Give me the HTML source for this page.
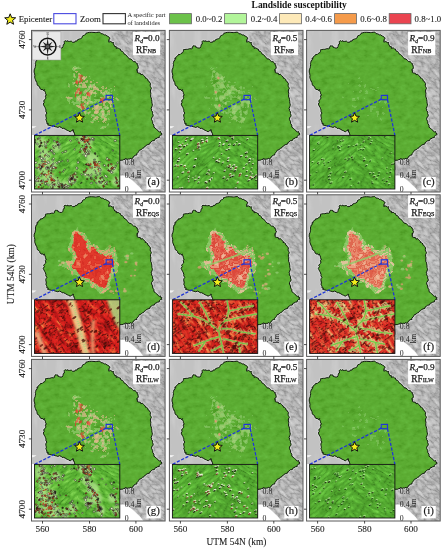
<!DOCTYPE html><html><head><meta charset="utf-8"><title>Landslide susceptibility</title><style>html,body{margin:0;padding:0;background:#fff;}svg{display:block;}</style></head><body>
<svg width="444" height="550" viewBox="0 0 444 550">
<defs>
<polygon id="pg" points="2.6,41.8 2.7,39.4 3.6,37.4 3.8,36.0 4.1,34.3 3.8,33.2 4.2,32.0 4.6,30.3 5.6,29.8 5.7,29.5 5.4,27.8 6.4,28.1 6.4,26.7 7.1,26.2 8.2,25.3 8.6,25.3 8.6,25.2 9.2,23.9 10.6,24.2 11.6,23.1 13.2,22.2 13.8,21.3 14.0,20.0 13.7,19.5 14.7,19.2 16.8,18.9 18.2,18.9 20.3,18.3 22.2,18.4 23.0,17.9 22.6,17.0 23.4,16.7 23.7,15.4 25.0,15.5 26.3,15.6 26.4,16.9 27.5,16.9 27.7,17.1 28.3,17.6 30.1,17.6 30.5,17.7 31.4,16.5 31.5,15.9 31.7,14.8 32.0,13.9 32.9,13.6 32.8,12.3 32.5,11.4 33.6,10.2 34.7,11.1 35.9,10.2 36.2,11.0 37.3,10.9 38.1,11.0 39.8,10.7 41.1,11.9 43.3,11.7 43.9,10.5 45.4,10.7 46.1,9.3 47.9,8.6 49.1,8.3 50.6,7.3 50.9,5.7 52.4,4.9 52.9,4.9 54.6,3.2 54.2,2.8 55.4,2.6 56.1,2.4 57.8,1.9 58.0,2.0 59.9,1.9 61.4,2.0 63.9,2.2 64.9,2.1 66.6,1.9 68.0,1.6 69.4,3.1 70.5,3.5 71.1,3.4 72.1,3.8 72.8,4.7 73.8,4.4 75.6,5.6 75.9,5.7 76.9,6.1 77.2,6.8 78.7,7.9 77.7,8.6 77.2,10.4 77.7,10.2 77.2,11.7 78.0,11.5 79.2,11.1 81.1,12.4 81.7,11.7 82.0,12.8 81.8,13.4 82.6,14.7 83.2,16.2 84.8,16.3 84.7,18.0 86.6,17.4 87.7,18.5 88.7,18.5 89.6,20.7 91.1,21.0 91.5,21.5 91.9,22.1 92.5,23.4 93.8,24.2 94.5,24.5 94.8,24.8 96.1,26.7 96.8,27.2 96.8,27.5 98.2,28.4 98.2,28.7 99.4,28.5 100.5,29.8 100.7,30.0 102.0,31.2 104.0,31.4 104.3,32.0 105.5,33.5 106.1,33.3 105.6,33.8 106.6,35.0 106.1,35.1 106.8,36.8 107.1,36.7 106.6,37.3 106.5,38.5 105.2,39.0 106.1,40.0 105.1,40.3 106.0,40.8 105.7,41.9 106.5,42.5 107.3,42.6 109.1,43.0 109.4,44.4 111.0,43.8 111.8,44.8 112.0,45.1 114.0,46.8 113.6,47.6 114.9,47.9 116.4,49.1 116.2,49.8 116.6,49.9 117.9,51.6 119.0,53.1 118.7,54.9 118.9,56.1 119.4,56.9 119.9,58.0 119.0,59.6 119.0,61.5 119.4,62.9 119.2,64.3 119.2,66.6 119.7,67.4 120.1,69.0 120.4,71.1 120.4,72.6 120.7,73.5 120.9,75.0 120.7,75.2 120.4,76.3 119.6,78.1 120.1,78.6 120.0,80.1 121.2,81.7 121.0,83.2 121.7,84.7 121.4,86.3 120.3,87.0 120.1,87.7 120.1,89.2 121.1,91.1 121.3,93.3 122.4,94.7 122.4,96.7 123.5,97.5 124.3,98.5 125.2,99.1 126.2,99.8 126.9,101.0 128.0,101.5 129.1,101.1 129.2,102.0 129.7,103.2 130.5,102.6 129.8,103.6 130.7,104.3 128.9,104.7 127.8,106.1 127.8,107.1 126.2,107.3 124.4,108.4 123.8,108.3 122.8,110.3 120.9,110.3 119.4,111.9 118.5,112.2 118.3,113.6 116.4,114.1 114.7,114.9 114.1,115.8 112.5,116.7 111.8,117.9 111.0,117.9 109.6,119.3 107.7,119.9 107.3,120.9 106.7,121.9 105.1,123.5 105.5,124.5 104.3,124.7 103.0,125.1 102.1,126.6 101.7,126.4 101.3,127.7 100.1,128.5 99.5,127.7 97.4,128.9 96.8,128.4 95.8,128.9 93.9,128.1 93.6,128.9 92.2,129.2 90.6,129.9 90.4,129.8 88.6,129.9 88.2,129.4 87.5,132.6 88.1,134.5 88.3,138.0 88.2,140.0 76.3,139.4 65.1,139.6 53.0,139.5 42.0,140.0 41.7,130.7 42.4,122.0 43.4,113.1 43.3,104.6 43.1,103.5 42.7,102.7 42.4,102.1 42.6,102.3 42.6,101.6 41.4,100.8 42.1,99.5 41.1,99.3 41.2,99.6 40.3,100.6 39.8,100.4 39.6,100.8 38.9,101.3 37.5,100.9 37.1,100.4 35.8,100.0 34.2,99.0 32.1,97.9 30.7,98.1 29.8,97.0 27.9,96.3 26.1,97.2 25.8,96.7 23.7,96.3 21.7,95.5 20.0,95.5 18.2,95.1 17.0,94.8 16.2,94.7 16.9,93.3 15.4,93.2 15.4,91.7 14.9,90.4 14.3,89.3 14.8,88.3 14.7,87.2 14.4,86.1 14.3,84.6 14.6,83.7 15.4,82.7 14.3,80.9 14.4,80.0 14.4,79.4 13.9,78.2 13.7,77.3 13.1,76.5 12.1,74.5 11.7,73.6 12.8,71.9 12.8,71.6 12.1,70.7 13.2,69.1 14.2,68.2 14.3,67.3 13.8,65.8 14.7,64.6 14.5,64.7 14.8,64.2 14.2,63.9 13.9,62.9 14.0,62.3 13.1,60.3 12.8,59.9 13.2,59.2 12.2,59.9 12.5,59.7 12.3,60.0 11.7,59.9 10.9,58.8 10.6,59.5 9.4,58.8 8.6,58.4 8.1,56.6 7.5,55.8 5.7,54.7 5.6,53.9 5.4,52.0 4.9,51.6 3.9,49.2 3.4,47.9 3.2,46.7 3.4,45.0 3.0,42.7" stroke-linejoin="round"/>
<clipPath id="insR"><polygon points="50,-1 90,-1 90,60 38,60 44,30"/></clipPath>
<clipPath id="clipPoly"><use href="#pg"/></clipPath>
<filter id="hs" x="0" y="0" width="100%" height="100%" color-interpolation-filters="sRGB">
<feTurbulence type="fractalNoise" baseFrequency="0.12 0.03" numOctaves="3" seed="4"/>
<feColorMatrix type="matrix" values="0 0 0 0 0.86  0 0 0 0 0.86  0 0 0 0 0.86  1.1 0 0 0 -0.5"/>
</filter>
<filter id="hs2" x="0" y="0" width="100%" height="100%" color-interpolation-filters="sRGB">
<feTurbulence type="turbulence" baseFrequency="0.11 0.24" numOctaves="4" seed="9"/>
<feColorMatrix type="matrix" values="1 0 0 0 0  1 0 0 0 0  1 0 0 0 0  0 0 0 0 1"/>
<feComponentTransfer>
<feFuncR type="table" tableValues="0.46 0.62 0.72 0.78 0.83 0.87 0.90"/>
<feFuncG type="table" tableValues="0.46 0.62 0.72 0.78 0.83 0.87 0.90"/>
<feFuncB type="table" tableValues="0.46 0.62 0.72 0.78 0.83 0.87 0.90"/>
</feComponentTransfer>
</filter>
<linearGradient id="gR" x1="0" x2="1" y1="0" y2="0"><stop offset="0.55" stop-color="#fff" stop-opacity="0"/><stop offset="0.8" stop-color="#fff" stop-opacity="0.85"/></linearGradient>
<mask id="mR" maskUnits="userSpaceOnUse" x="0" y="0" width="133.6" height="161.6"><rect width="133.6" height="161.6" fill="url(#gR)"/><rect x="80" y="0" width="60" height="25" fill="#fff" opacity="0.7"/><rect x="88" y="112" width="50" height="50" fill="#fff" opacity="0.5"/></mask>
<filter id="gn" x="0" y="0" width="100%" height="100%" color-interpolation-filters="sRGB">
<feTurbulence type="fractalNoise" baseFrequency="0.14 0.2" numOctaves="3" seed="2"/>
<feColorMatrix type="matrix" values="1 0 0 0 0  1 0 0 0 0  1 0 0 0 0  1 0 0 0 0"/>
<feComponentTransfer>
<feFuncR type="table" tableValues="0.27 0.31 0.35 0.37 0.39 0.42"/>
<feFuncG type="table" tableValues="0.58 0.62 0.665 0.69 0.72 0.75"/>
<feFuncB type="table" tableValues="0.12 0.15 0.19 0.21 0.24 0.27"/>
<feFuncA type="table" tableValues="1 1 1 1 1 1"/>
</feComponentTransfer>
<feComposite in2="SourceGraphic" operator="in"/>
</filter>
<filter id="insG" x="0" y="0" width="100%" height="100%" color-interpolation-filters="sRGB">
<feTurbulence type="turbulence" baseFrequency="0.09 0.26" numOctaves="3" seed="5"/>
<feColorMatrix type="matrix" values="1 0 0 0 0  1 0 0 0 0  1 0 0 0 0  0 0 0 0 1"/>
<feComponentTransfer>
<feFuncR type="table" tableValues="0.20 0.30 0.34 0.38 0.44 0.52 0.60"/>
<feFuncG type="table" tableValues="0.44 0.62 0.68 0.74 0.80 0.86 0.90"/>
<feFuncB type="table" tableValues="0.10 0.17 0.20 0.23 0.28 0.34 0.40"/>
</feComponentTransfer>
</filter>
<filter id="insGA" x="0" y="0" width="100%" height="100%" color-interpolation-filters="sRGB">
<feTurbulence type="turbulence" baseFrequency="0.09 0.26" numOctaves="3" seed="5"/>
<feColorMatrix type="matrix" values="1 0 0 0 0  1 0 0 0 0  1 0 0 0 0  0 0 0 0 1"/>
<feComponentTransfer>
<feFuncR type="table" tableValues="0.22 0.32 0.38 0.44 0.52 0.60 0.68"/>
<feFuncG type="table" tableValues="0.48 0.66 0.72 0.78 0.84 0.89 0.92"/>
<feFuncB type="table" tableValues="0.12 0.18 0.22 0.27 0.33 0.40 0.48"/>
</feComponentTransfer>
</filter>
<filter id="insD" x="0" y="0" width="100%" height="100%" color-interpolation-filters="sRGB">
<feTurbulence type="fractalNoise" baseFrequency="0.28 0.08" numOctaves="3" seed="6" result="n"/>
<feColorMatrix in="n" type="matrix" values="1 0 0 0 0  1 0 0 0 0  1 0 0 0 0  0 0 0 0 1" result="g"/>
<feComponentTransfer in="g" result="base">
<feFuncR type="table" tableValues="0.353 0.431 0.549 0.690 0.816 0.878 0.910 0.941 0.941 0.753"/>
<feFuncG type="table" tableValues="0.039 0.055 0.071 0.094 0.110 0.141 0.251 0.471 0.753 0.878"/>
<feFuncB type="table" tableValues="0.039 0.055 0.071 0.094 0.102 0.125 0.165 0.220 0.439 0.565"/>
</feComponentTransfer>
<feTurbulence type="turbulence" baseFrequency="0.16 0.28" numOctaves="2" seed="16" result="t"/>
<feColorMatrix in="t" type="matrix" values="0 0 0 0 0.28  0 0 0 0 0.05  0 0 0 0 0.04  -7.0 0 0 0 1.25" result="dark"/>
<feComposite in="dark" in2="base" operator="over"/>
</filter>
<filter id="insE" x="0" y="0" width="100%" height="100%" color-interpolation-filters="sRGB">
<feTurbulence type="fractalNoise" baseFrequency="0.32 0.08" numOctaves="3" seed="7" result="n"/>
<feColorMatrix in="n" type="matrix" values="1 0 0 0 0  1 0 0 0 0  1 0 0 0 0  0 0 0 0 1" result="g"/>
<feComponentTransfer in="g" result="base">
<feFuncR type="table" tableValues="0.353 0.471 0.604 0.753 0.847 0.886 0.918 0.941 0.941 0.596"/>
<feFuncG type="table" tableValues="0.039 0.063 0.086 0.110 0.141 0.227 0.361 0.565 0.784 0.847"/>
<feFuncB type="table" tableValues="0.039 0.063 0.078 0.094 0.118 0.157 0.204 0.314 0.502 0.439"/>
</feComponentTransfer>
<feTurbulence type="turbulence" baseFrequency="0.16 0.28" numOctaves="2" seed="17" result="t"/>
<feColorMatrix in="t" type="matrix" values="0 0 0 0 0.28  0 0 0 0 0.05  0 0 0 0 0.04  -6.5 0 0 0 1.25" result="dark"/>
<feComposite in="dark" in2="base" operator="over"/>
</filter>
<filter id="insF" x="0" y="0" width="100%" height="100%" color-interpolation-filters="sRGB">
<feTurbulence type="fractalNoise" baseFrequency="0.36 0.07" numOctaves="3" seed="8" result="n"/>
<feColorMatrix in="n" type="matrix" values="1 0 0 0 0  1 0 0 0 0  1 0 0 0 0  0 0 0 0 1" result="g"/>
<feComponentTransfer in="g" result="base">
<feFuncR type="table" tableValues="0.502 0.627 0.753 0.847 0.878 0.894 0.941 0.910 0.753 0.627"/>
<feFuncG type="table" tableValues="0.078 0.094 0.110 0.141 0.188 0.290 0.502 0.847 0.894 0.863"/>
<feFuncB type="table" tableValues="0.078 0.094 0.110 0.125 0.157 0.188 0.314 0.565 0.565 0.471"/>
</feComponentTransfer>
<feTurbulence type="turbulence" baseFrequency="0.16 0.28" numOctaves="2" seed="18" result="t"/>
<feColorMatrix in="t" type="matrix" values="0 0 0 0 0.28  0 0 0 0 0.05  0 0 0 0 0.04  -6.0 0 0 0 1.25" result="dark"/>
<feComposite in="dark" in2="base" operator="over"/>
</filter>
<filter id="coreD" x="-15%" y="-15%" width="130%" height="130%" color-interpolation-filters="sRGB">
<feTurbulence type="fractalNoise" baseFrequency="0.09" numOctaves="2" seed="3" result="dn"/>
<feDisplacementMap in="SourceGraphic" in2="dn" scale="10" xChannelSelector="R" yChannelSelector="G" result="shape"/>
<feTurbulence type="fractalNoise" baseFrequency="0.16" numOctaves="2" seed="11" result="n2"/>
<feColorMatrix in="n2" type="matrix" values="1 0 0 0 0  1 0 0 0 0  1 0 0 0 0  1 0 0 0 0" result="g"/>
<feComponentTransfer in="g" result="pal">
<feFuncR type="discrete" tableValues="0.784 0.816 0.847 0.878 0.886 0.863 0.910 0.910 0.596 0.596"/>
<feFuncG type="discrete" tableValues="0.157 0.173 0.188 0.220 0.235 0.204 0.353 0.502 0.824 0.824"/>
<feFuncB type="discrete" tableValues="0.125 0.133 0.149 0.165 0.180 0.157 0.251 0.376 0.455 0.455"/>
<feFuncA type="discrete" tableValues="1 1 1 1 1 1 1 1 1 1"/>
</feComponentTransfer>
<feComposite in="pal" in2="shape" operator="in" result="m"/>
<feGaussianBlur in="m" stdDeviation="0.35"/>
</filter>
<filter id="haloD" x="-15%" y="-15%" width="130%" height="130%" color-interpolation-filters="sRGB">
<feTurbulence type="fractalNoise" baseFrequency="0.09" numOctaves="2" seed="3" result="dn"/>
<feDisplacementMap in="SourceGraphic" in2="dn" scale="13" xChannelSelector="R" yChannelSelector="G" result="shape"/>
<feTurbulence type="fractalNoise" baseFrequency="0.2" numOctaves="2" seed="23" result="n2"/>
<feColorMatrix in="n2" type="matrix" values="1 0 0 0 0  1 0 0 0 0  1 0 0 0 0  1 0 0 0 0" result="g"/>
<feComponentTransfer in="g" result="pal">
<feFuncR type="discrete" tableValues="0.910 0.910 0.918 0.922 0.635 0.620 0.914 0.902 0.620 0.620"/>
<feFuncG type="discrete" tableValues="0.643 0.643 0.659 0.690 0.847 0.831 0.659 0.690 0.831 0.831"/>
<feFuncB type="discrete" tableValues="0.486 0.486 0.502 0.541 0.502 0.486 0.502 0.533 0.486 0.486"/>
<feFuncA type="discrete" tableValues="0.9 0.9 0.9 0.85 0.7 0.6 0.8 0.8 0.6 0.6"/>
</feComponentTransfer>
<feComposite in="pal" in2="shape" operator="in" result="m"/>
<feGaussianBlur in="m" stdDeviation="0.35"/>
</filter>
<filter id="coreE" x="-15%" y="-15%" width="130%" height="130%" color-interpolation-filters="sRGB">
<feTurbulence type="fractalNoise" baseFrequency="0.09" numOctaves="2" seed="3" result="dn"/>
<feDisplacementMap in="SourceGraphic" in2="dn" scale="10" xChannelSelector="R" yChannelSelector="G" result="shape"/>
<feTurbulence type="fractalNoise" baseFrequency="0.16" numOctaves="2" seed="11" result="n2"/>
<feColorMatrix in="n2" type="matrix" values="1 0 0 0 0  1 0 0 0 0  1 0 0 0 0  1 0 0 0 0" result="g"/>
<feComponentTransfer in="g" result="pal">
<feFuncR type="discrete" tableValues="0.816 0.847 0.863 0.878 0.894 0.863 0.914 0.941 0.588 0.588"/>
<feFuncG type="discrete" tableValues="0.235 0.259 0.290 0.329 0.424 0.298 0.580 0.706 0.824 0.824"/>
<feFuncB type="discrete" tableValues="0.188 0.220 0.235 0.267 0.337 0.235 0.471 0.596 0.455 0.455"/>
<feFuncA type="discrete" tableValues="1 1 1 1 1 1 1 1 1 1"/>
</feComponentTransfer>
<feComposite in="pal" in2="shape" operator="in" result="m"/>
<feGaussianBlur in="m" stdDeviation="0.35"/>
</filter>
<filter id="haloE" x="-15%" y="-15%" width="130%" height="130%" color-interpolation-filters="sRGB">
<feTurbulence type="fractalNoise" baseFrequency="0.09" numOctaves="2" seed="3" result="dn"/>
<feDisplacementMap in="SourceGraphic" in2="dn" scale="13" xChannelSelector="R" yChannelSelector="G" result="shape"/>
<feTurbulence type="fractalNoise" baseFrequency="0.2" numOctaves="2" seed="23" result="n2"/>
<feColorMatrix in="n2" type="matrix" values="1 0 0 0 0  1 0 0 0 0  1 0 0 0 0  1 0 0 0 0" result="g"/>
<feComponentTransfer in="g" result="pal">
<feFuncR type="discrete" tableValues="0.925 0.925 0.937 0.941 0.643 0.627 0.925 0.941 0.627 0.627"/>
<feFuncG type="discrete" tableValues="0.690 0.690 0.737 0.776 0.847 0.831 0.706 0.769 0.831 0.831"/>
<feFuncB type="discrete" tableValues="0.565 0.565 0.612 0.651 0.510 0.494 0.580 0.643 0.494 0.494"/>
<feFuncA type="discrete" tableValues="0.9 0.9 0.9 0.85 0.7 0.6 0.8 0.8 0.6 0.6"/>
</feComponentTransfer>
<feComposite in="pal" in2="shape" operator="in" result="m"/>
<feGaussianBlur in="m" stdDeviation="0.35"/>
</filter>
<filter id="coreF" x="-15%" y="-15%" width="130%" height="130%" color-interpolation-filters="sRGB">
<feTurbulence type="fractalNoise" baseFrequency="0.09" numOctaves="2" seed="3" result="dn"/>
<feDisplacementMap in="SourceGraphic" in2="dn" scale="10" xChannelSelector="R" yChannelSelector="G" result="shape"/>
<feTurbulence type="fractalNoise" baseFrequency="0.16" numOctaves="2" seed="11" result="n2"/>
<feColorMatrix in="n2" type="matrix" values="1 0 0 0 0  1 0 0 0 0  1 0 0 0 0  1 0 0 0 0" result="g"/>
<feComponentTransfer in="g" result="pal">
<feFuncR type="discrete" tableValues="0.847 0.863 0.878 0.894 0.910 0.878 0.925 0.941 0.596 0.596"/>
<feFuncG type="discrete" tableValues="0.290 0.329 0.376 0.439 0.541 0.408 0.627 0.722 0.824 0.824"/>
<feFuncB type="discrete" tableValues="0.220 0.251 0.290 0.345 0.424 0.314 0.502 0.596 0.455 0.455"/>
<feFuncA type="discrete" tableValues="1 1 1 1 1 1 1 1 1 1"/>
</feComponentTransfer>
<feComposite in="pal" in2="shape" operator="in" result="m"/>
<feGaussianBlur in="m" stdDeviation="0.35"/>
</filter>
<filter id="haloF" x="-15%" y="-15%" width="130%" height="130%" color-interpolation-filters="sRGB">
<feTurbulence type="fractalNoise" baseFrequency="0.09" numOctaves="2" seed="3" result="dn"/>
<feDisplacementMap in="SourceGraphic" in2="dn" scale="13" xChannelSelector="R" yChannelSelector="G" result="shape"/>
<feTurbulence type="fractalNoise" baseFrequency="0.2" numOctaves="2" seed="23" result="n2"/>
<feColorMatrix in="n2" type="matrix" values="1 0 0 0 0  1 0 0 0 0  1 0 0 0 0  1 0 0 0 0" result="g"/>
<feComponentTransfer in="g" result="pal">
<feFuncR type="discrete" tableValues="0.937 0.937 0.941 0.949 0.659 0.643 0.941 0.949 0.643 0.643"/>
<feFuncG type="discrete" tableValues="0.737 0.737 0.769 0.800 0.855 0.839 0.761 0.800 0.839 0.839"/>
<feFuncB type="discrete" tableValues="0.627 0.627 0.651 0.682 0.525 0.510 0.643 0.682 0.510 0.510"/>
<feFuncA type="discrete" tableValues="0.9 0.9 0.9 0.85 0.7 0.6 0.8 0.8 0.6 0.6"/>
</feComponentTransfer>
<feComposite in="pal" in2="shape" operator="in" result="m"/>
<feGaussianBlur in="m" stdDeviation="0.35"/>
</filter>
<filter id="coreA" x="-15%" y="-15%" width="130%" height="130%" color-interpolation-filters="sRGB">
<feTurbulence type="fractalNoise" baseFrequency="0.09" numOctaves="2" seed="3" result="dn"/>
<feDisplacementMap in="SourceGraphic" in2="dn" scale="10" xChannelSelector="R" yChannelSelector="G" result="shape"/>
<feTurbulence type="fractalNoise" baseFrequency="0.16" numOctaves="2" seed="11" result="n2"/>
<feColorMatrix in="n2" type="matrix" values="1 0 0 0 0  1 0 0 0 0  1 0 0 0 0  1 0 0 0 0" result="g"/>
<feComponentTransfer in="g" result="pal">
<feFuncR type="discrete" tableValues="0.902 0.910 0.918 0.910 0.361 0.361 0.651 0.894 0.651 0.651"/>
<feFuncG type="discrete" tableValues="0.651 0.690 0.722 0.753 0.671 0.671 0.847 0.753 0.847 0.847"/>
<feFuncB type="discrete" tableValues="0.510 0.541 0.573 0.612 0.235 0.235 0.525 0.612 0.525 0.525"/>
<feFuncA type="discrete" tableValues="0.75 0.75 0.7 0.6 0 0 0.5 0.6 0.6 0.6"/>
</feComponentTransfer>
<feComposite in="pal" in2="shape" operator="in" result="m"/>
<feGaussianBlur in="m" stdDeviation="0.35"/>
</filter>
<filter id="haloA" x="-15%" y="-15%" width="130%" height="130%" color-interpolation-filters="sRGB">
<feTurbulence type="fractalNoise" baseFrequency="0.09" numOctaves="2" seed="3" result="dn"/>
<feDisplacementMap in="SourceGraphic" in2="dn" scale="13" xChannelSelector="R" yChannelSelector="G" result="shape"/>
<feTurbulence type="fractalNoise" baseFrequency="0.2" numOctaves="2" seed="23" result="n2"/>
<feColorMatrix in="n2" type="matrix" values="1 0 0 0 0  1 0 0 0 0  1 0 0 0 0  1 0 0 0 0" result="g"/>
<feComponentTransfer in="g" result="pal">
<feFuncR type="discrete" tableValues="0.914 0.914 0.925 0.659 0.361 0.361 0.361 0.914 0.659 0.659"/>
<feFuncG type="discrete" tableValues="0.714 0.714 0.757 0.847 0.671 0.671 0.671 0.714 0.847 0.847"/>
<feFuncB type="discrete" tableValues="0.565 0.565 0.620 0.525 0.235 0.235 0.235 0.565 0.525 0.525"/>
<feFuncA type="discrete" tableValues="0.7 0.7 0.6 0.5 0 0 0 0.6 0.5 0.5"/>
</feComponentTransfer>
<feComposite in="pal" in2="shape" operator="in" result="m"/>
<feGaussianBlur in="m" stdDeviation="0.35"/>
</filter>
<filter id="coreB" x="-15%" y="-15%" width="130%" height="130%" color-interpolation-filters="sRGB">
<feTurbulence type="fractalNoise" baseFrequency="0.09" numOctaves="2" seed="3" result="dn"/>
<feDisplacementMap in="SourceGraphic" in2="dn" scale="10" xChannelSelector="R" yChannelSelector="G" result="shape"/>
<feTurbulence type="fractalNoise" baseFrequency="0.16" numOctaves="2" seed="11" result="n2"/>
<feColorMatrix in="n2" type="matrix" values="1 0 0 0 0  1 0 0 0 0  1 0 0 0 0  1 0 0 0 0" result="g"/>
<feComponentTransfer in="g" result="pal">
<feFuncR type="discrete" tableValues="0.659 0.659 0.706 0.784 0.612 0.361 0.361 0.643 0.847 0.847"/>
<feFuncG type="discrete" tableValues="0.855 0.855 0.863 0.863 0.824 0.671 0.671 0.839 0.784 0.737"/>
<feFuncB type="discrete" tableValues="0.533 0.533 0.573 0.596 0.494 0.235 0.235 0.525 0.596 0.580"/>
<feFuncA type="discrete" tableValues="0.7 0.7 0.6 0.5 0.45 0 0 0.45 0.55 0.6"/>
</feComponentTransfer>
<feComposite in="pal" in2="shape" operator="in" result="m"/>
<feGaussianBlur in="m" stdDeviation="0.35"/>
</filter>
<filter id="haloB" x="-15%" y="-15%" width="130%" height="130%" color-interpolation-filters="sRGB">
<feTurbulence type="fractalNoise" baseFrequency="0.09" numOctaves="2" seed="3" result="dn"/>
<feDisplacementMap in="SourceGraphic" in2="dn" scale="13" xChannelSelector="R" yChannelSelector="G" result="shape"/>
<feTurbulence type="fractalNoise" baseFrequency="0.2" numOctaves="2" seed="23" result="n2"/>
<feColorMatrix in="n2" type="matrix" values="1 0 0 0 0  1 0 0 0 0  1 0 0 0 0  1 0 0 0 0" result="g"/>
<feComponentTransfer in="g" result="pal">
<feFuncR type="discrete" tableValues="0.627 0.627 0.627 0.361 0.361 0.361 0.361 0.627 0.627 0.627"/>
<feFuncG type="discrete" tableValues="0.831 0.831 0.831 0.671 0.671 0.671 0.671 0.831 0.831 0.831"/>
<feFuncB type="discrete" tableValues="0.510 0.510 0.510 0.235 0.235 0.235 0.235 0.510 0.510 0.510"/>
<feFuncA type="discrete" tableValues="0.5 0.5 0.4 0 0 0 0 0.4 0.5 0.5"/>
</feComponentTransfer>
<feComposite in="pal" in2="shape" operator="in" result="m"/>
<feGaussianBlur in="m" stdDeviation="0.35"/>
</filter>
<filter id="coreC" x="-15%" y="-15%" width="130%" height="130%" color-interpolation-filters="sRGB">
<feTurbulence type="fractalNoise" baseFrequency="0.09" numOctaves="2" seed="3" result="dn"/>
<feDisplacementMap in="SourceGraphic" in2="dn" scale="10" xChannelSelector="R" yChannelSelector="G" result="shape"/>
<feTurbulence type="fractalNoise" baseFrequency="0.16" numOctaves="2" seed="11" result="n2"/>
<feColorMatrix in="n2" type="matrix" values="1 0 0 0 0  1 0 0 0 0  1 0 0 0 0  1 0 0 0 0" result="g"/>
<feComponentTransfer in="g" result="pal">
<feFuncR type="discrete" tableValues="0.580 0.580 0.580 0.361 0.361 0.361 0.361 0.604 0.604 0.604"/>
<feFuncG type="discrete" tableValues="0.816 0.816 0.816 0.671 0.671 0.671 0.671 0.824 0.824 0.824"/>
<feFuncB type="discrete" tableValues="0.471 0.471 0.471 0.235 0.235 0.235 0.235 0.486 0.486 0.486"/>
<feFuncA type="discrete" tableValues="0.5 0.5 0.4 0 0 0 0 0.4 0.5 0.5"/>
</feComponentTransfer>
<feComposite in="pal" in2="shape" operator="in" result="m"/>
<feGaussianBlur in="m" stdDeviation="0.35"/>
</filter>
<filter id="haloC" x="-15%" y="-15%" width="130%" height="130%" color-interpolation-filters="sRGB">
<feTurbulence type="fractalNoise" baseFrequency="0.09" numOctaves="2" seed="3" result="dn"/>
<feDisplacementMap in="SourceGraphic" in2="dn" scale="13" xChannelSelector="R" yChannelSelector="G" result="shape"/>
<feTurbulence type="fractalNoise" baseFrequency="0.2" numOctaves="2" seed="23" result="n2"/>
<feColorMatrix in="n2" type="matrix" values="1 0 0 0 0  1 0 0 0 0  1 0 0 0 0  1 0 0 0 0" result="g"/>
<feComponentTransfer in="g" result="pal">
<feFuncR type="discrete" tableValues="0.580 0.580 0.361 0.361 0.361 0.361 0.361 0.361 0.580 0.580"/>
<feFuncG type="discrete" tableValues="0.816 0.816 0.671 0.671 0.671 0.671 0.671 0.671 0.816 0.816"/>
<feFuncB type="discrete" tableValues="0.471 0.471 0.235 0.235 0.235 0.235 0.235 0.235 0.471 0.471"/>
<feFuncA type="discrete" tableValues="0.4 0.4 0 0 0 0 0 0 0.4 0.4"/>
</feComponentTransfer>
<feComposite in="pal" in2="shape" operator="in" result="m"/>
<feGaussianBlur in="m" stdDeviation="0.35"/>
</filter>
<filter id="blur05" x="-10%" y="-10%" width="120%" height="120%"><feGaussianBlur stdDeviation="0.5"/></filter>
<filter id="blur1" x="-20%" y="-20%" width="140%" height="140%"><feGaussianBlur stdDeviation="1"/></filter>
<filter id="blur15" x="-20%" y="-20%" width="140%" height="140%"><feGaussianBlur stdDeviation="1.5"/></filter>
<pattern id="stripesF" width="5" height="5" patternUnits="userSpaceOnUse" patternTransform="rotate(-35)"><rect width="5" height="5" fill="none"/><rect width="5" height="1.6" fill="#cfe8a0"/></pattern>
</defs>
<rect width="444" height="550" fill="#fff"/>
<polygon points="10.2,13.8 11.7,17.6 15.7,17.8 12.6,20.4 13.6,24.3 10.2,22.1 6.8,24.3 7.8,20.4 4.7,17.8 8.7,17.6" fill="#f3ee1c" stroke="#111" stroke-width="1"/>
<g font-family="'Liberation Serif', 'Times New Roman', serif" font-size="8.75" fill="#222" stroke="#222" stroke-width="0.1">
<text x="18.7" y="22.4">Epicenter</text>
<text x="80.0" y="22.4">Zoom</text>
<text x="195.8" y="22.4">0.0~0.2</text>
<text x="250.8" y="22.4">0.2~0.4</text>
<text x="305.3" y="22.4">0.4~0.6</text>
<text x="360.2" y="22.4">0.6~0.8</text>
<text x="414.6" y="22.4">0.8~1.0</text>
</g>
<g font-family="'Liberation Serif', 'Times New Roman', serif" font-size="6.9" fill="#222"><text x="127.4" y="16.8" textLength="38.2" lengthAdjust="spacingAndGlyphs">A specific part</text><text x="127.4" y="24.7" textLength="32.6" lengthAdjust="spacingAndGlyphs">of landslides</text></g>
<text x="251.6" y="8.4" font-family="'Liberation Serif', 'Times New Roman', serif" font-size="9.45" font-weight="bold" fill="#111">Landslide susceptibility</text>
<rect x="53.8" y="13.6" width="22.2" height="10.2" fill="#fff" stroke="#4a4ae0" stroke-width="1.1"/>
<rect x="103.0" y="13.6" width="22.4" height="10.2" fill="#fff" stroke="#333" stroke-width="1.1"/>
<rect x="169.6" y="13.6" width="21.8" height="10.2" fill="#6cc24a" stroke="#666" stroke-width="0.8"/>
<rect x="224.6" y="13.6" width="21.8" height="10.2" fill="#b2f59a" stroke="#666" stroke-width="0.8"/>
<rect x="279.6" y="13.6" width="21.8" height="10.2" fill="#fde9b8" stroke="#666" stroke-width="0.8"/>
<rect x="334.6" y="13.6" width="21.8" height="10.2" fill="#f59b4b" stroke="#666" stroke-width="0.8"/>
<rect x="389.2" y="13.6" width="21.8" height="10.2" fill="#ea4450" stroke="#666" stroke-width="0.8"/>
<g transform="translate(31.5,30.4)">
<svg x="0" y="0" width="133.6" height="161.6" viewBox="0 0 133.6 161.6" overflow="hidden">
<rect width="133.6" height="161.6" fill="#c2c2c2"/>
<rect width="133.6" height="161.6" fill="#000" filter="url(#hs)"/>
<g mask="url(#mR)"><rect x="-60" y="-60" width="253.6" height="281.6" fill="#000" filter="url(#hs2)" transform="rotate(35 66.8 80.8)"/></g>
<path d="M0,95.5 L5,95.8 L2.5,97.6 L0,98 Z" fill="#f2f2f2"/>
<polygon points="88,145 94,145 101,150 109,157.5 112,162 88,162" fill="#ffffff"/>
<use href="#pg" fill="none" stroke="#dadada" stroke-width="2.6" opacity="0.8"/>
<use href="#pg" fill="#5cab3c"/>
<use href="#pg" fill="#000" filter="url(#gn)"/>
<use href="#pg" fill="none" stroke="#141a12" stroke-width="1.0"/>
<g clip-path="url(#clipPoly)">
<polygon points="43.0,36.0 47.0,34.5 51.0,38.0 56.0,44.0 58.0,50.0 62.0,50.5 68.0,53.0 76.0,53.0 81.0,57.0 85.0,63.0 87.0,71.0 85.0,78.0 81.0,83.0 79.0,90.0 75.0,95.0 69.0,97.0 63.0,94.0 59.0,88.0 52.0,87.0 46.0,84.0 43.0,80.0 38.0,77.0 33.0,73.0 32.0,68.0 36.0,64.0 38.0,58.0 37.0,50.0 38.0,43.0" fill="#fff" filter="url(#haloA)"/><polygon points="44.0,39.7 46.4,37.8 48.7,38.9 51.1,42.9 54.2,46.8 55.0,50.7 56.6,55.5 60.5,53.9 63.7,54.7 66.9,57.0 70.8,57.8 74.7,57.0 77.1,58.6 79.5,61.8 81.0,65.7 82.6,71.2 81.0,76.0 77.9,79.1 76.3,83.9 74.7,88.6 71.6,91.7 67.6,92.5 65.3,90.2 62.9,85.4 59.0,83.9 54.2,83.1 51.1,82.3 47.9,79.9 47.1,76.8 46.0,73.6 42.5,73.0 40.5,70.8 41.8,67.5 44.0,64.9 42.4,61.8 41.6,57.0 40.8,52.3 41.6,47.6 42.4,42.9" fill="#fff" filter="url(#coreA)"/><g filter="url(#blur05)" opacity="0.85"><ellipse cx="49.4" cy="45.5" rx="0.7" ry="1.7" fill="#e0483a"/><ellipse cx="48.1" cy="51.3" rx="1.0" ry="1.2" fill="#d83c34"/><ellipse cx="47.9" cy="45.4" rx="0.9" ry="1.0" fill="#e65a44"/><ellipse cx="50.2" cy="49.9" rx="0.8" ry="1.7" fill="#e0483a"/><ellipse cx="48.7" cy="47.8" rx="0.8" ry="1.2" fill="#e65a44"/><ellipse cx="49.2" cy="48.1" rx="0.6" ry="1.2" fill="#d83c34"/><ellipse cx="50.5" cy="45.6" rx="0.8" ry="1.1" fill="#d83c34"/><ellipse cx="46.2" cy="59.3" rx="0.9" ry="1.1" fill="#e65a44"/><ellipse cx="47.5" cy="58.8" rx="0.9" ry="1.8" fill="#e65a44"/><ellipse cx="44.4" cy="62.7" rx="0.8" ry="1.1" fill="#d83c34"/><ellipse cx="48.4" cy="62.8" rx="1.0" ry="1.6" fill="#d83c34"/><ellipse cx="45.5" cy="61.6" rx="0.8" ry="1.6" fill="#e65a44"/><ellipse cx="49.7" cy="62.2" rx="0.6" ry="1.5" fill="#d83c34"/><ellipse cx="44.1" cy="65.4" rx="0.6" ry="1.8" fill="#d83c34"/><ellipse cx="49.8" cy="74.4" rx="0.8" ry="1.6" fill="#e0483a"/><ellipse cx="50.9" cy="76.8" rx="0.6" ry="1.4" fill="#e65a44"/><ellipse cx="51.7" cy="73.6" rx="0.8" ry="1.0" fill="#e65a44"/><ellipse cx="51.3" cy="77.7" rx="1.0" ry="1.6" fill="#e0483a"/><ellipse cx="52.3" cy="77.2" rx="0.6" ry="1.3" fill="#e65a44"/><ellipse cx="51.8" cy="77.1" rx="0.7" ry="1.2" fill="#e0483a"/><ellipse cx="50.4" cy="75.9" rx="0.6" ry="1.7" fill="#d83c34"/><ellipse cx="56.4" cy="63.5" rx="1.0" ry="1.6" fill="#d83c34"/><ellipse cx="56.4" cy="63.9" rx="0.8" ry="1.7" fill="#e65a44"/><ellipse cx="56.6" cy="63.1" rx="0.7" ry="1.4" fill="#e0483a"/><ellipse cx="57.7" cy="63.6" rx="0.6" ry="1.6" fill="#e0483a"/><ellipse cx="58.1" cy="64.3" rx="0.8" ry="1.5" fill="#e65a44"/><ellipse cx="57.8" cy="65.0" rx="0.8" ry="1.4" fill="#e65a44"/><ellipse cx="55.9" cy="63.2" rx="0.8" ry="1.7" fill="#d83c34"/><ellipse cx="69.8" cy="69.8" rx="0.9" ry="1.7" fill="#d83c34"/><ellipse cx="69.4" cy="71.1" rx="0.9" ry="1.8" fill="#d83c34"/><ellipse cx="71.7" cy="69.5" rx="0.9" ry="1.6" fill="#d83c34"/><ellipse cx="69.5" cy="70.1" rx="1.0" ry="1.2" fill="#d83c34"/><ellipse cx="72.0" cy="68.4" rx="0.9" ry="1.7" fill="#e65a44"/><ellipse cx="70.2" cy="69.1" rx="0.7" ry="1.6" fill="#e0483a"/><ellipse cx="71.0" cy="71.0" rx="0.8" ry="1.5" fill="#d83c34"/><ellipse cx="45.1" cy="52.1" rx="0.9" ry="1.5" fill="#d83c34"/><ellipse cx="44.9" cy="51.6" rx="0.9" ry="1.5" fill="#e65a44"/><ellipse cx="45.6" cy="52.3" rx="0.8" ry="1.8" fill="#e0483a"/><ellipse cx="45.3" cy="51.6" rx="0.7" ry="1.5" fill="#d83c34"/><ellipse cx="45.1" cy="51.8" rx="0.9" ry="1.1" fill="#e65a44"/><ellipse cx="45.2" cy="51.1" rx="0.9" ry="1.3" fill="#e0483a"/><ellipse cx="45.9" cy="52.2" rx="0.6" ry="1.6" fill="#e65a44"/></g>
</g>
<rect x="1.0" y="1.4" width="28.4" height="28.2" fill="#e9e9e9" stroke="#9a9a9a" stroke-width="0.5"/><circle cx="16.1" cy="16.2" r="8.4" fill="none" stroke="#111" stroke-width="1.5"/><polygon points="17.50,16.20 16.10,8.20 14.70,16.20" fill="#1a1a1a"/><polygon points="17.09,17.19 21.05,11.25 15.11,15.21" fill="#1a1a1a"/><polygon points="16.10,17.60 24.10,16.20 16.10,14.80" fill="#1a1a1a"/><polygon points="15.11,17.19 21.05,21.15 17.09,15.21" fill="#1a1a1a"/><polygon points="14.70,16.20 16.10,24.20 17.50,16.20" fill="#1a1a1a"/><polygon points="15.11,15.21 11.15,21.15 17.09,17.19" fill="#1a1a1a"/><polygon points="16.10,14.80 8.10,16.20 16.10,17.60" fill="#1a1a1a"/><polygon points="17.09,15.21 11.15,11.25 15.11,17.19" fill="#1a1a1a"/><circle cx="16.1" cy="16.2" r="1.6" fill="#777"/><line x1="16.1" y1="3.5" x2="16.1" y2="28.5" stroke="#333" stroke-width="0.4"/><line x1="3" y1="16.2" x2="29" y2="16.2" stroke="#333" stroke-width="0.4"/><g font-family="'Liberation Serif', 'Times New Roman', serif" font-size="3.2" fill="#222" text-anchor="middle"><text x="16.1" y="4.6">N</text><text x="16.1" y="30">S</text><text x="3.2" y="17.3">W</text><text x="28.6" y="17.3">E</text></g>
<rect x="101.5" y="1.6" width="27.2" height="23.2" fill="#ffffff"/>
<text x="103.0" y="11.1" font-size="9.2" font-family="'Liberation Serif', 'Times New Roman', serif" fill="#1a1a1a" stroke="#1a1a1a" stroke-width="0.25"><tspan font-style="italic">R</tspan><tspan font-size="5.5" font-style="italic" dy="1.5">d</tspan><tspan dy="-1.5">=</tspan>0.0</text>
<text x="104.6" y="22.5" font-size="9.4" font-family="'Liberation Serif', 'Times New Roman', serif" fill="#1a1a1a" stroke="#1a1a1a" stroke-width="0.25">RF<tspan font-size="6.2">NB</tspan></text>
<polyline points="74.6,68.8 3.0,105.0" fill="none" stroke="#1f35d6" stroke-width="1.3" stroke-dasharray="3.2,1.6"/>
<polyline points="80.9,69.3 88.3,105.0" fill="none" stroke="#1f35d6" stroke-width="1.3" stroke-dasharray="3.2,1.6"/>
<rect x="74.6" y="65.0" width="6.3" height="4.3" fill="none" stroke="#1f35d6" stroke-width="1.2"/>
<polygon points="48.0,82.4 49.4,85.7 52.9,86.0 50.2,88.3 51.1,91.8 48.0,89.9 44.9,91.8 45.8,88.3 43.1,86.0 46.6,85.7" fill="#f3ee1c" stroke="#111" stroke-width="1"/>
<path d="M0,104.7 H3.0 V158.6 H88.3 V162.6 H0 Z" fill="#ffffff"/>
<svg x="3.0" y="105.0" width="85.3" height="53.6" viewBox="0 0 85.3 53.6" overflow="hidden">
<rect x="-30" y="-30" width="145.3" height="113.6" fill="#000" filter="url(#insGA)" transform="rotate(-40 42.65 26.8)"/><g clip-path="url(#insR)"><rect x="-30" y="-30" width="145.3" height="113.6" fill="#000" filter="url(#insGA)" transform="rotate(30 42.65 26.8)"/></g><g filter="url(#blur1)" opacity="0.75"><ellipse cx="6" cy="8" rx="6.0" ry="6.4" fill="#b4e490"/><ellipse cx="10" cy="20" rx="6.0" ry="6.4" fill="#b4e490"/><ellipse cx="8" cy="32" rx="6.0" ry="6.4" fill="#b4e490"/><ellipse cx="14" cy="42" rx="6.0" ry="6.4" fill="#b4e490"/><ellipse cx="20" cy="48" rx="6.0" ry="6.4" fill="#b4e490"/><ellipse cx="4" cy="46" rx="4.5" ry="4.800000000000001" fill="#b4e490"/><ellipse cx="18" cy="30" rx="4.5" ry="4.800000000000001" fill="#b4e490"/><ellipse cx="22" cy="12" rx="4.5" ry="4.800000000000001" fill="#b4e490"/><ellipse cx="48" cy="4" rx="4.5" ry="4.800000000000001" fill="#b4e490"/><ellipse cx="54" cy="6" rx="4.5" ry="4.800000000000001" fill="#b4e490"/><ellipse cx="52" cy="16" rx="4.5" ry="4.800000000000001" fill="#b4e490"/><ellipse cx="58" cy="24" rx="6.0" ry="6.4" fill="#b4e490"/><ellipse cx="62" cy="34" rx="6.0" ry="6.4" fill="#b4e490"/><ellipse cx="54" cy="38" rx="4.5" ry="4.800000000000001" fill="#b4e490"/><ellipse cx="66" cy="46" rx="4.5" ry="4.800000000000001" fill="#b4e490"/><ellipse cx="78" cy="34" rx="4.5" ry="4.800000000000001" fill="#b4e490"/><ellipse cx="82" cy="46" rx="4.5" ry="4.800000000000001" fill="#b4e490"/><ellipse cx="38" cy="44" rx="4.5" ry="4.800000000000001" fill="#b4e490"/><ellipse cx="30" cy="50" rx="4.5" ry="4.800000000000001" fill="#b4e490"/></g><polygon points="2.4,33.5 2.1,33.0 2.5,32.1 3.3,31.5 3.5,32.5 3.2,33.1" fill="#cfe6a8" stroke="#1a1a1a" stroke-width="0.45"/><polygon points="12.5,33.5 11.9,32.7 12.8,32.0 13.7,32.2 13.3,34.0" fill="#e2ecc0" stroke="#1a1a1a" stroke-width="0.45"/><polygon points="47.2,14.5 46.4,14.7 46.1,13.2 46.0,12.4 47.1,12.3 48.0,13.8" fill="#f0f0d0" stroke="#1a1a1a" stroke-width="0.45"/><polygon points="5.9,18.4 5.3,17.6 5.8,16.8 6.6,17.0 6.6,18.0" fill="#f0f0d0" stroke="#1a1a1a" stroke-width="0.45"/><polygon points="80.8,32.2 80.6,31.0 81.0,29.6 82.0,29.8 81.9,31.2" fill="#b8e090" stroke="#1a1a1a" stroke-width="0.45"/><polygon points="7.8,29.8 6.8,30.6 5.8,29.0 6.2,28.4 7.7,28.8" fill="#e2ecc0" stroke="#1a1a1a" stroke-width="0.45"/><polygon points="62.0,39.8 62.2,39.3 63.1,39.2 63.5,39.5 63.3,40.0 62.3,40.4" fill="#f0f0d0" stroke="#1a1a1a" stroke-width="0.45"/><polygon points="0.4,41.6 0.1,41.0 0.5,40.5 1.0,40.5 1.5,40.9 1.5,41.6 1.0,41.8" fill="#e2ecc0" stroke="#1a1a1a" stroke-width="0.45"/><polygon points="41.5,4.5 41.5,3.8 42.5,3.3 43.5,3.8 42.4,4.8" fill="#cfe6a8" stroke="#1a1a1a" stroke-width="0.45"/><polygon points="3.7,21.7 3.6,21.3 4.6,21.1 5.2,21.5 4.9,22.0 4.0,22.3" fill="#cfe6a8" stroke="#1a1a1a" stroke-width="0.45"/><polygon points="18.2,33.0 18.0,32.1 19.3,30.7 19.9,31.0 20.4,31.7 19.6,32.7" fill="#f0f0d0" stroke="#1a1a1a" stroke-width="0.45"/><polygon points="18.6,18.4 17.7,18.2 17.5,17.0 18.3,17.1 18.8,17.7" fill="#f0f0d0" stroke="#1a1a1a" stroke-width="0.45"/><polygon points="16.8,51.6 16.5,52.2 15.9,52.2 15.7,51.5 16.0,51.0 16.5,51.1" fill="#f0f0d0" stroke="#1a1a1a" stroke-width="0.45"/><polygon points="32.0,51.6 33.1,50.1 34.8,50.1 35.2,51.3 33.6,51.6" fill="#cfe6a8" stroke="#1a1a1a" stroke-width="0.45"/><polygon points="79.5,34.3 78.8,35.0 77.6,33.6 77.9,33.0 79.0,32.9 79.8,33.3" fill="#b8e090" stroke="#1a1a1a" stroke-width="0.45"/><polygon points="17.2,29.9 17.2,28.9 17.8,28.5 18.5,28.9 18.1,29.9" fill="#e2ecc0" stroke="#1a1a1a" stroke-width="0.45"/><polygon points="14.0,44.7 13.3,44.5 12.9,44.2 12.5,43.7 12.8,43.3 13.7,43.4 13.8,43.9" fill="#f0f0d0" stroke="#1a1a1a" stroke-width="0.45"/><polygon points="8.6,16.6 7.9,16.4 8.0,15.6 8.4,15.0 9.1,15.2 8.8,16.1" fill="#cfe6a8" stroke="#1a1a1a" stroke-width="0.45"/><polygon points="34.1,46.0 33.6,45.2 34.1,44.2 34.3,43.5 35.3,44.3 35.6,45.3 35.2,45.7" fill="#cfe6a8" stroke="#1a1a1a" stroke-width="0.45"/><polygon points="59.4,28.8 59.0,27.7 59.8,27.1 60.7,27.2 60.9,28.3 60.4,29.0" fill="#e2ecc0" stroke="#1a1a1a" stroke-width="0.45"/><polygon points="-2.4,47.8 -3.3,47.8 -4.7,47.1 -4.5,46.5 -3.8,45.9 -2.3,46.2" fill="#cfe6a8" stroke="#1a1a1a" stroke-width="0.45"/><polygon points="59.9,3.7 59.0,4.2 57.9,3.8 57.5,2.7 58.7,2.8 60.0,3.1" fill="#e2ecc0" stroke="#1a1a1a" stroke-width="0.45"/><polygon points="49.4,2.4 49.1,1.9 49.1,0.8 49.6,0.7 50.1,0.4 50.0,1.3 49.9,1.8" fill="#b8e090" stroke="#1a1a1a" stroke-width="0.45"/><polygon points="77.2,36.8 76.3,36.7 75.7,35.8 76.1,35.2 76.9,35.6" fill="#f0f0d0" stroke="#1a1a1a" stroke-width="0.45"/><polygon points="24.4,10.3 23.4,10.3 22.5,9.7 22.8,8.8 24.2,9.3" fill="#e2ecc0" stroke="#1a1a1a" stroke-width="0.45"/><polygon points="55.8,16.6 54.1,16.6 53.2,15.4 53.1,14.5 54.1,14.5 55.2,15.6" fill="#b8e090" stroke="#1a1a1a" stroke-width="0.45"/><polygon points="41.0,44.6 40.5,44.1 41.3,43.4 41.9,43.6 42.1,44.2 41.6,45.1" fill="#b8e090" stroke="#1a1a1a" stroke-width="0.45"/><polygon points="37.5,43.6 36.8,43.6 36.2,43.4 35.7,42.3 36.2,42.2 36.9,42.4 37.5,42.9" fill="#f0f0d0" stroke="#1a1a1a" stroke-width="0.45"/><polygon points="6.0,35.3 5.5,34.8 4.9,33.9 5.2,32.6 5.6,32.8 6.4,33.3 6.6,34.8" fill="#e2ecc0" stroke="#1a1a1a" stroke-width="0.45"/><polygon points="37.0,42.8 36.0,43.5 34.3,43.1 35.1,41.7 36.8,41.7" fill="#cfe6a8" stroke="#1a1a1a" stroke-width="0.45"/><polygon points="40.6,15.1 39.8,14.5 39.2,13.7 39.7,13.1 40.4,13.1 40.6,14.0" fill="#e2ecc0" stroke="#1a1a1a" stroke-width="0.45"/><polygon points="61.9,-1.8 60.5,-1.7 59.7,-1.7 58.3,-2.6 59.0,-3.0 60.5,-3.5 61.2,-2.5" fill="#cfe6a8" stroke="#1a1a1a" stroke-width="0.45"/><polygon points="41.2,40.0 40.0,38.8 39.9,37.2 40.9,36.3 42.3,38.1" fill="#b8e090" stroke="#1a1a1a" stroke-width="0.45"/><polygon points="54.3,7.7 53.3,7.6 52.6,6.2 52.8,5.5 53.9,6.2 54.3,6.7" fill="#cfe6a8" stroke="#1a1a1a" stroke-width="0.45"/><polygon points="1.1,50.7 0.0,50.1 0.1,48.7 0.1,48.0 0.9,48.0 1.4,48.9 1.8,50.2" fill="#b8e090" stroke="#1a1a1a" stroke-width="0.45"/><polygon points="56.5,32.9 56.7,31.8 58.1,31.3 58.4,32.7 57.1,33.4" fill="#b8e090" stroke="#1a1a1a" stroke-width="0.45"/><polygon points="81.2,48.1 80.4,47.1 80.8,45.9 81.7,45.2 82.7,45.4 82.0,47.5" fill="#b8e090" stroke="#1a1a1a" stroke-width="0.45"/><polygon points="30.6,52.1 29.3,52.1 27.7,50.9 28.5,50.5 29.8,50.9" fill="#cfe6a8" stroke="#1a1a1a" stroke-width="0.45"/><polygon points="20.7,32.2 19.9,33.1 18.5,32.8 17.9,32.3 18.9,30.8 20.3,31.4" fill="#f0f0d0" stroke="#1a1a1a" stroke-width="0.45"/><polygon points="30.9,52.6 32.0,51.7 33.6,51.9 33.4,52.6 32.5,53.2" fill="#b8e090" stroke="#1a1a1a" stroke-width="0.45"/><polygon points="51.7,40.0 51.2,40.7 50.2,39.8 48.9,38.5 50.1,38.0 51.0,38.0 52.2,38.9" fill="#e2ecc0" stroke="#1a1a1a" stroke-width="0.45"/><polygon points="54.7,18.9 53.7,19.3 52.8,19.1 51.7,17.7 52.5,17.3 53.8,17.5 54.7,17.7" fill="#cfe6a8" stroke="#1a1a1a" stroke-width="0.45"/><polygon points="50.2,14.9 49.6,14.7 48.9,14.1 49.3,13.5 49.7,13.3 50.4,13.9" fill="#b8e090" stroke="#1a1a1a" stroke-width="0.45"/><polygon points="5.7,3.7 4.3,3.2 4.4,2.4 4.7,1.5 5.9,1.8 6.2,3.3" fill="#e2ecc0" stroke="#1a1a1a" stroke-width="0.45"/><polygon points="31.2,34.2 30.3,34.8 29.6,34.4 29.3,34.0 29.3,33.7 29.9,33.5 30.8,33.9" fill="#cfe6a8" stroke="#1a1a1a" stroke-width="0.45"/><polygon points="5.1,3.5 4.6,3.8 3.6,3.7 3.9,2.7 5.0,2.4" fill="#e2ecc0" stroke="#1a1a1a" stroke-width="0.45"/><polygon points="66.4,47.9 65.3,48.3 64.2,47.5 64.7,46.8 66.2,46.6" fill="#cfe6a8" stroke="#1a1a1a" stroke-width="0.45"/><polygon points="27.3,53.0 27.1,52.2 26.9,51.8 27.4,51.3 28.0,51.2 28.1,52.0 28.0,52.3" fill="#cfe6a8" stroke="#1a1a1a" stroke-width="0.45"/><polygon points="58.7,3.4 58.5,4.2 57.0,3.5 57.0,2.8 57.2,2.1 57.9,2.2 59.0,2.8" fill="#f0f0d0" stroke="#1a1a1a" stroke-width="0.45"/><polygon points="66.9,35.0 65.5,35.0 63.6,34.3 64.2,32.8 66.4,33.6" fill="#e2ecc0" stroke="#1a1a1a" stroke-width="0.45"/><polygon points="21.4,11.8 20.8,10.9 20.7,10.3 21.4,9.9 22.0,10.6" fill="#cfe6a8" stroke="#1a1a1a" stroke-width="0.45"/><polygon points="50.7,9.2 51.1,8.5 52.3,8.4 52.5,8.9 51.3,9.8" fill="#e2ecc0" stroke="#1a1a1a" stroke-width="0.45"/><polygon points="52.5,1.3 51.8,1.5 51.3,1.7 50.9,0.8 51.1,0.1 52.1,0.0 52.3,0.5" fill="#e2ecc0" stroke="#1a1a1a" stroke-width="0.45"/><polygon points="23.1,28.8 22.2,28.4 21.2,27.0 21.7,26.5 22.3,26.7 23.4,27.6" fill="#e2ecc0" stroke="#1a1a1a" stroke-width="0.45"/><polygon points="28.6,17.5 28.3,17.9 27.6,17.8 27.3,17.2 27.3,16.7 28.4,16.5 28.7,17.0" fill="#e2ecc0" stroke="#1a1a1a" stroke-width="0.45"/><polygon points="3.6,43.4 2.9,42.8 2.7,41.9 3.2,41.1 4.4,41.5 4.1,42.5" fill="#f0f0d0" stroke="#1a1a1a" stroke-width="0.45"/><polygon points="45.2,-1.5 45.6,-2.7 46.9,-3.3 47.2,-2.6 46.2,-1.7" fill="#e2ecc0" stroke="#1a1a1a" stroke-width="0.45"/><polygon points="-1.2,42.3 -2.0,41.8 -2.2,40.9 -1.8,40.5 -1.3,40.2 -0.9,41.4" fill="#f0f0d0" stroke="#1a1a1a" stroke-width="0.45"/><polygon points="18.2,29.2 18.0,28.6 18.5,27.5 19.1,27.3 19.6,27.5 19.2,28.8" fill="#e2ecc0" stroke="#1a1a1a" stroke-width="0.45"/><polygon points="16.5,35.0 15.1,34.0 14.9,31.7 15.6,31.1 17.0,33.4" fill="#cfe6a8" stroke="#1a1a1a" stroke-width="0.45"/><polygon points="17.9,31.6 17.4,31.8 15.9,31.6 16.5,30.8 17.4,30.7" fill="#cfe6a8" stroke="#1a1a1a" stroke-width="0.45"/><polygon points="1.6,45.0 1.2,45.4 0.2,45.0 0.6,44.5 1.4,44.4" fill="#b8e090" stroke="#1a1a1a" stroke-width="0.45"/><polygon points="82.5,28.3 82.2,27.9 82.6,26.7 83.7,26.0 84.0,27.1 83.5,28.4" fill="#cfe6a8" stroke="#1a1a1a" stroke-width="0.45"/><polygon points="23.8,12.1 23.6,11.6 24.6,10.9 25.3,11.6 25.2,12.4 24.5,13.1" fill="#b8e090" stroke="#1a1a1a" stroke-width="0.45"/><polygon points="12.0,49.1 11.5,49.7 10.5,49.3 10.0,48.4 11.3,48.0" fill="#e2ecc0" stroke="#1a1a1a" stroke-width="0.45"/><polygon points="14.8,16.4 15.7,14.9 16.3,13.9 17.5,14.5 17.9,15.3 16.5,16.2" fill="#cfe6a8" stroke="#1a1a1a" stroke-width="0.45"/><polygon points="12.9,7.4 12.3,7.1 11.8,5.7 12.4,5.4 13.4,6.5" fill="#e2ecc0" stroke="#1a1a1a" stroke-width="0.45"/><polygon points="15.0,27.2 14.4,27.5 13.9,27.1 13.7,26.4 14.3,26.2 15.2,26.5" fill="#e2ecc0" stroke="#1a1a1a" stroke-width="0.45"/><polygon points="29.4,50.1 28.4,50.4 27.1,49.3 27.8,48.3 29.1,49.3" fill="#b8e090" stroke="#1a1a1a" stroke-width="0.45"/><polygon points="14.9,42.1 15.0,41.5 16.1,40.6 16.5,41.1 15.6,42.3" fill="#e2ecc0" stroke="#1a1a1a" stroke-width="0.45"/><polygon points="52.5,18.2 52.0,17.7 52.5,16.4 53.0,15.8 53.7,16.1 53.8,17.3 53.2,18.1" fill="#b8e090" stroke="#1a1a1a" stroke-width="0.45"/><polygon points="28.6,37.0 28.0,36.1 28.4,35.4 29.1,35.1 29.4,36.6" fill="#cfe6a8" stroke="#1a1a1a" stroke-width="0.45"/><polygon points="19.1,53.1 18.9,53.7 17.9,53.5 17.3,53.3 17.6,52.6 17.9,52.5 18.8,52.6" fill="#cfe6a8" stroke="#1a1a1a" stroke-width="0.45"/><polygon points="23.5,49.1 22.8,47.7 23.5,46.7 24.9,46.4 24.5,48.8" fill="#cfe6a8" stroke="#1a1a1a" stroke-width="0.45"/><polygon points="66.0,39.8 65.4,39.4 65.2,39.1 65.3,38.3 65.9,38.0 66.3,38.4 66.4,38.8" fill="#cfe6a8" stroke="#1a1a1a" stroke-width="0.45"/><polygon points="54.6,5.0 54.4,4.1 55.3,3.6 56.4,3.7 57.0,4.7 56.0,5.2 55.2,5.9" fill="#b8e090" stroke="#1a1a1a" stroke-width="0.45"/><polygon points="12.8,49.6 13.0,48.7 14.0,48.7 14.3,49.0 14.7,50.1 13.4,50.5" fill="#f0f0d0" stroke="#1a1a1a" stroke-width="0.45"/><polygon points="10.3,11.7 9.7,10.1 10.3,9.4 11.4,9.9 11.1,11.1" fill="#b8e090" stroke="#1a1a1a" stroke-width="0.45"/><polygon points="21.1,5.9 20.2,6.3 19.0,6.3 19.0,5.0 20.6,5.1" fill="#f0f0d0" stroke="#1a1a1a" stroke-width="0.45"/><polygon points="18.7,45.2 18.0,44.1 18.9,43.5 19.6,43.8 19.4,44.8" fill="#e2ecc0" stroke="#1a1a1a" stroke-width="0.45"/><polygon points="68.2,46.4 67.5,46.8 66.4,46.6 66.6,45.9 67.5,45.6" fill="#e2ecc0" stroke="#1a1a1a" stroke-width="0.45"/><polygon points="7.3,32.7 5.7,33.0 4.8,31.4 5.7,30.6 7.1,31.4" fill="#b8e090" stroke="#1a1a1a" stroke-width="0.45"/><polygon points="25.6,9.7 24.6,9.8 23.3,9.4 23.3,8.5 23.5,7.6 24.5,7.7 25.9,8.4" fill="#f0f0d0" stroke="#1a1a1a" stroke-width="0.45"/><polygon points="43.0,28.0 42.6,27.2 43.1,26.1 43.8,25.7 44.5,26.7 44.4,27.4 43.9,28.1" fill="#f0f0d0" stroke="#1a1a1a" stroke-width="0.45"/><polygon points="56.4,30.7 54.6,30.3 53.3,29.6 53.7,28.3 54.8,28.6 55.6,29.3" fill="#f0f0d0" stroke="#1a1a1a" stroke-width="0.45"/><polygon points="70.1,48.9 70.3,47.8 71.7,46.9 72.0,47.8 71.4,49.4" fill="#e2ecc0" stroke="#1a1a1a" stroke-width="0.45"/><polygon points="8.3,31.5 7.6,31.1 7.7,30.0 8.5,29.8 8.8,30.6" fill="#cfe6a8" stroke="#1a1a1a" stroke-width="0.45"/><polygon points="20.6,45.5 19.7,45.6 18.6,44.7 18.2,44.1 18.9,43.9 20.1,44.7" fill="#f0f0d0" stroke="#1a1a1a" stroke-width="0.45"/><polygon points="56.3,41.4 55.6,40.4 56.0,39.4 56.5,38.5 57.5,38.3 57.4,39.5 57.2,40.6" fill="#cfe6a8" stroke="#1a1a1a" stroke-width="0.45"/><polygon points="12.0,20.0 11.5,19.7 11.1,19.5 11.2,18.7 11.8,18.1 12.5,19.0 12.6,19.9" fill="#f0f0d0" stroke="#1a1a1a" stroke-width="0.45"/><polygon points="2.5,9.6 2.0,8.4 2.5,7.6 3.5,7.6 3.8,9.2" fill="#e2ecc0" stroke="#1a1a1a" stroke-width="0.45"/><polygon points="52.8,19.4 51.6,19.8 50.4,18.5 51.8,17.1 53.0,18.3" fill="#cfe6a8" stroke="#1a1a1a" stroke-width="0.45"/><polygon points="10.2,48.8 9.8,48.3 11.1,46.5 11.6,46.5 12.1,47.3 12.0,48.6 10.6,49.3" fill="#b8e090" stroke="#1a1a1a" stroke-width="0.45"/><polygon points="23.8,4.1 23.3,3.8 23.0,3.3 23.3,2.5 23.7,2.7 24.3,3.4" fill="#b8e090" stroke="#1a1a1a" stroke-width="0.45"/><polygon points="51.7,11.6 50.5,11.0 50.4,9.5 51.5,9.5 52.5,10.0 52.4,11.3" fill="#e2ecc0" stroke="#1a1a1a" stroke-width="0.45"/><polygon points="61.2,38.2 60.6,38.1 60.9,37.2 61.6,37.1 61.9,37.3 62.0,38.0 61.9,38.4" fill="#e2ecc0" stroke="#1a1a1a" stroke-width="0.45"/><polygon points="11.0,40.8 10.3,40.2 10.2,38.9 10.5,37.7 11.4,38.6 12.2,39.9" fill="#f0f0d0" stroke="#1a1a1a" stroke-width="0.45"/><polygon points="10.1,28.3 9.7,27.5 12.2,27.0 13.5,27.8 12.4,29.1 11.0,29.2" fill="#e2ecc0" stroke="#1a1a1a" stroke-width="0.45"/><polygon points="14.7,28.1 13.7,27.8 12.8,27.1 12.6,26.2 13.2,25.1 14.1,25.7 15.4,27.4" fill="#e2ecc0" stroke="#1a1a1a" stroke-width="0.45"/><polygon points="71.4,31.1 70.1,30.8 68.6,29.5 69.8,29.0 70.9,29.5" fill="#f0f0d0" stroke="#1a1a1a" stroke-width="0.45"/><polygon points="35.7,48.2 34.8,48.4 34.3,46.0 34.7,44.8 35.9,45.6 36.6,48.0" fill="#f0f0d0" stroke="#1a1a1a" stroke-width="0.45"/><polygon points="5.1,40.2 5.8,39.2 6.4,39.2 7.2,39.1 7.0,40.1 7.0,40.8 6.0,40.5" fill="#f0f0d0" stroke="#1a1a1a" stroke-width="0.45"/><polygon points="78.8,37.0 77.3,37.5 75.7,36.5 76.1,35.7 77.9,36.0" fill="#f0f0d0" stroke="#1a1a1a" stroke-width="0.45"/><polygon points="29.5,16.9 29.6,15.7 32.1,14.9 32.3,16.5 30.7,17.1" fill="#b8e090" stroke="#1a1a1a" stroke-width="0.45"/><polygon points="29.9,51.6 29.3,51.2 29.5,49.3 30.1,49.7 30.7,50.8" fill="#e2ecc0" stroke="#1a1a1a" stroke-width="0.45"/><polygon points="0.1,9.2 -0.6,8.9 -0.9,7.7 -0.4,7.0 0.4,7.1 0.9,8.4" fill="#cfe6a8" stroke="#1a1a1a" stroke-width="0.45"/><polygon points="27.1,26.4 26.8,25.6 27.2,25.1 28.3,25.0 28.6,25.8 28.0,26.4" fill="#b8e090" stroke="#1a1a1a" stroke-width="0.45"/><polygon points="50.5,13.2 51.3,12.4 52.3,12.9 52.4,13.5 51.1,13.8" fill="#b8e090" stroke="#1a1a1a" stroke-width="0.45"/><polygon points="7.8,46.9 7.2,45.6 7.6,44.9 8.3,44.2 9.2,44.7 9.0,45.6" fill="#cfe6a8" stroke="#1a1a1a" stroke-width="0.45"/><polygon points="29.3,55.0 28.5,53.8 28.9,52.6 29.7,52.5 30.0,53.9" fill="#b8e090" stroke="#1a1a1a" stroke-width="0.45"/><polygon points="7.3,26.4 7.8,25.9 8.3,25.8 9.2,26.0 9.0,26.4 7.8,26.7" fill="#b8e090" stroke="#1a1a1a" stroke-width="0.45"/><polygon points="72.3,24.7 71.4,24.3 71.9,23.1 72.3,21.6 73.7,23.0 73.7,24.5" fill="#cfe6a8" stroke="#1a1a1a" stroke-width="0.45"/><polygon points="1.9,44.7 1.1,45.1 -0.1,45.0 -1.0,43.9 -0.3,43.5 0.6,43.0 1.7,43.5" fill="#e2ecc0" stroke="#1a1a1a" stroke-width="0.45"/><polygon points="73.3,41.8 71.6,42.0 69.5,40.4 71.0,39.4 72.2,40.2" fill="#e2ecc0" stroke="#1a1a1a" stroke-width="0.45"/><polygon points="12.0,31.5 12.7,30.8 12.9,30.7 13.7,30.9 13.6,31.5 13.2,31.8 12.5,31.7" fill="#e2ecc0" stroke="#1a1a1a" stroke-width="0.45"/><polygon points="26.0,51.6 25.8,52.1 25.2,52.1 24.9,51.6 24.7,51.0 25.0,50.7 25.9,51.0" fill="#f0f0d0" stroke="#1a1a1a" stroke-width="0.45"/><polygon points="19.9,19.5 19.1,19.5 19.0,18.0 19.5,16.9 20.4,17.6 20.6,18.3" fill="#cfe6a8" stroke="#1a1a1a" stroke-width="0.45"/><polygon points="63.8,27.1 64.3,26.3 66.1,26.1 65.8,27.3 64.5,28.0" fill="#f0f0d0" stroke="#1a1a1a" stroke-width="0.45"/><polygon points="15.0,21.5 13.6,21.7 12.9,21.2 13.4,20.3 14.0,20.0 15.1,20.4" fill="#b8e090" stroke="#1a1a1a" stroke-width="0.45"/><polygon points="36.8,5.9 36.0,6.4 35.2,5.5 34.8,4.7 35.9,4.6 37.1,5.0" fill="#cfe6a8" stroke="#1a1a1a" stroke-width="0.45"/><polygon points="48.2,5.3 47.7,4.8 47.8,4.3 48.7,3.8 49.4,4.3 49.6,4.6 48.9,5.8" fill="#f0f0d0" stroke="#1a1a1a" stroke-width="0.45"/><polygon points="7.2,47.3 6.5,46.9 6.6,46.2 6.9,45.6 7.9,45.8 7.9,46.7" fill="#f0f0d0" stroke="#1a1a1a" stroke-width="0.45"/><polygon points="33.2,26.7 32.7,25.8 32.7,24.6 33.1,23.7 34.0,24.6 33.9,26.2" fill="#cfe6a8" stroke="#1a1a1a" stroke-width="0.45"/><polygon points="37.9,44.7 37.5,43.7 38.3,42.5 39.7,43.3 38.8,44.5" fill="#f0f0d0" stroke="#1a1a1a" stroke-width="0.45"/><polygon points="46.1,5.4 46.2,4.4 46.8,4.2 47.8,4.2 48.3,5.1 47.4,5.8 46.7,5.6" fill="#e2ecc0" stroke="#1a1a1a" stroke-width="0.45"/><polygon points="13.6,33.5 13.4,32.7 14.2,32.4 14.4,32.7 14.3,33.4" fill="#cfe6a8" stroke="#1a1a1a" stroke-width="0.45"/><polygon points="51.4,29.5 52.1,27.9 53.5,27.7 54.4,28.4 53.9,29.6 52.3,29.7" fill="#b8e090" stroke="#1a1a1a" stroke-width="0.45"/><polygon points="54.8,41.0 54.2,40.6 53.5,40.3 53.8,39.4 54.1,39.0 54.6,39.3 54.9,40.3" fill="#cfe6a8" stroke="#1a1a1a" stroke-width="0.45"/><polygon points="39.8,46.8 39.9,46.4 40.8,45.8 41.5,45.7 41.3,46.6 40.7,47.1" fill="#b8e090" stroke="#1a1a1a" stroke-width="0.45"/><polygon points="65.2,38.3 64.9,37.3 65.8,36.7 66.5,36.9 66.1,37.9" fill="#cfe6a8" stroke="#1a1a1a" stroke-width="0.45"/><polygon points="11.1,33.9 10.9,33.3 11.8,32.3 12.6,32.6 12.4,33.4 12.0,34.2" fill="#f0f0d0" stroke="#1a1a1a" stroke-width="0.45"/><polygon points="48.2,19.4 48.0,19.1 48.9,18.6 49.3,18.9 49.2,19.3 48.4,19.8" fill="#e2ecc0" stroke="#1a1a1a" stroke-width="0.45"/><polygon points="22.6,45.2 22.9,44.7 23.7,44.1 24.3,44.9 23.2,45.7" fill="#cfe6a8" stroke="#1a1a1a" stroke-width="0.45"/><polygon points="79.6,34.2 78.7,34.1 78.5,32.9 79.3,32.1 80.3,32.0 80.5,33.2" fill="#f0f0d0" stroke="#1a1a1a" stroke-width="0.45"/><polygon points="-0.5,47.3 -0.2,46.6 0.6,46.2 1.4,46.2 1.5,46.8 1.1,47.2 0.4,47.5" fill="#b8e090" stroke="#1a1a1a" stroke-width="0.45"/><polygon points="32.4,50.9 31.4,50.8 30.2,50.2 30.5,49.2 31.2,48.6 32.9,49.8" fill="#e2ecc0" stroke="#1a1a1a" stroke-width="0.45"/><polygon points="79.7,6.2 79.5,5.1 79.7,4.3 81.3,4.3 82.0,4.5 81.7,6.1 80.6,6.2" fill="#cfe6a8" stroke="#1a1a1a" stroke-width="0.45"/><polygon points="47.4,40.1 46.7,39.7 46.5,38.4 47.3,38.3 47.8,38.8 48.0,39.3" fill="#e2ecc0" stroke="#1a1a1a" stroke-width="0.45"/><polygon points="64.3,47.0 64.1,46.4 64.4,45.4 65.3,46.0 65.1,47.1" fill="#f0f0d0" stroke="#1a1a1a" stroke-width="0.45"/><polygon points="29.9,52.6 29.4,53.0 27.7,51.7 28.5,51.0 29.7,51.5" fill="#cfe6a8" stroke="#1a1a1a" stroke-width="0.45"/><polygon points="23.2,26.8 23.5,25.7 24.8,25.3 25.9,26.0 25.9,26.7 24.9,27.3 24.3,27.1" fill="#e2ecc0" stroke="#1a1a1a" stroke-width="0.45"/><polygon points="25.1,49.5 24.6,49.0 25.5,48.3 26.3,48.2 26.3,49.2 25.6,49.6" fill="#cfe6a8" stroke="#1a1a1a" stroke-width="0.45"/><polygon points="12.3,10.6 11.2,10.0 10.1,8.3 10.8,7.7 12.0,8.0 12.3,9.5" fill="#e2ecc0" stroke="#1a1a1a" stroke-width="0.45"/><polygon points="15.4,41.4 15.3,41.0 15.6,39.9 17.0,40.1 16.8,41.0 16.3,41.8" fill="#e2ecc0" stroke="#1a1a1a" stroke-width="0.45"/><polygon points="9.4,26.8 9.4,26.3 9.9,26.1 10.1,26.6 9.9,26.9" fill="#f0f0d0" stroke="#1a1a1a" stroke-width="0.45"/><polygon points="43.5,33.6 42.7,33.6 42.0,33.2 41.7,32.5 41.7,32.1 42.9,32.1 43.4,32.5" fill="#e2ecc0" stroke="#1a1a1a" stroke-width="0.45"/><polygon points="1.3,45.7 0.9,45.1 2.6,44.4 3.5,44.9 3.8,45.4 3.5,46.0 1.6,46.2" fill="#f0f0d0" stroke="#1a1a1a" stroke-width="0.45"/><polygon points="81.8,46.3 82.3,45.7 82.9,45.5 84.0,45.8 84.2,46.1 83.2,46.7 82.5,46.9" fill="#cfe6a8" stroke="#1a1a1a" stroke-width="0.45"/><polygon points="10.7,24.3 10.2,24.7 9.1,23.2 8.9,22.5 10.1,22.5 10.7,23.4" fill="#f0f0d0" stroke="#1a1a1a" stroke-width="0.45"/><polygon points="9.5,47.0 10.0,46.3 10.7,45.7 11.9,45.6 11.4,46.7 10.8,47.1" fill="#f0f0d0" stroke="#1a1a1a" stroke-width="0.45"/><polygon points="51.0,18.2 50.5,17.9 50.1,16.6 50.8,16.0 51.5,16.8 51.6,17.3" fill="#cfe6a8" stroke="#1a1a1a" stroke-width="0.45"/><polygon points="51.5,13.8 50.4,13.8 49.8,11.9 50.4,11.5 51.2,11.3 51.9,11.8 52.5,13.6" fill="#e2ecc0" stroke="#1a1a1a" stroke-width="0.45"/><polygon points="9.8,30.4 8.7,29.8 8.8,28.9 9.6,28.5 10.4,29.9" fill="#cfe6a8" stroke="#1a1a1a" stroke-width="0.45"/><polygon points="51.0,5.1 51.4,4.8 52.4,4.4 53.3,4.8 53.7,5.6 52.4,6.1 51.6,5.8" fill="#f0f0d0" stroke="#1a1a1a" stroke-width="0.45"/><polygon points="4.7,49.8 4.4,49.6 5.0,48.6 5.5,48.6 5.7,48.7 5.9,49.3 5.3,49.8" fill="#cfe6a8" stroke="#1a1a1a" stroke-width="0.45"/><polygon points="76.9,36.3 76.1,36.4 75.7,35.7 76.0,35.0 76.8,35.8" fill="#b8e090" stroke="#1a1a1a" stroke-width="0.45"/><polygon points="20.2,23.2 19.9,23.9 18.9,24.4 18.2,23.5 18.4,22.4 19.0,22.0 19.8,22.6" fill="#cfe6a8" stroke="#1a1a1a" stroke-width="0.45"/><polygon points="7.0,24.4 7.0,23.4 7.8,23.3 8.7,23.7 7.9,24.9" fill="#e2ecc0" stroke="#1a1a1a" stroke-width="0.45"/><polygon points="77.4,38.3 76.3,37.8 76.0,36.4 76.4,35.1 77.5,36.0 77.9,37.0" fill="#e2ecc0" stroke="#1a1a1a" stroke-width="0.45"/><polygon points="72.3,34.6 72.7,34.1 73.3,33.6 74.2,33.9 74.0,34.6 73.5,34.9 72.9,35.0" fill="#cfe6a8" stroke="#1a1a1a" stroke-width="0.45"/><polygon points="9.3,17.0 8.5,17.2 8.1,16.8 8.0,15.9 8.9,16.2 9.1,16.5" fill="#b8e090" stroke="#1a1a1a" stroke-width="0.45"/><polygon points="21.3,50.6 20.2,50.6 19.9,49.1 20.7,48.1 21.7,49.8" fill="#e2ecc0" stroke="#1a1a1a" stroke-width="0.45"/><polygon points="37.1,42.8 36.8,42.0 37.8,41.5 38.3,41.6 38.0,42.7" fill="#f0f0d0" stroke="#1a1a1a" stroke-width="0.45"/><polygon points="59.5,24.9 59.6,24.0 60.4,23.4 61.1,23.8 60.1,25.1" fill="#b8e090" stroke="#1a1a1a" stroke-width="0.45"/><polygon points="52.3,21.2 51.3,22.0 50.7,21.2 49.5,20.1 51.1,19.1 52.5,19.7" fill="#f0f0d0" stroke="#1a1a1a" stroke-width="0.45"/><polygon points="18.9,49.4 18.6,49.9 17.2,49.6 16.2,49.0 16.5,48.5 17.3,48.1 18.0,48.4" fill="#e2ecc0" stroke="#1a1a1a" stroke-width="0.45"/><polygon points="61.5,36.2 60.4,36.0 59.8,35.4 59.6,34.9 59.8,34.5 60.7,34.6 61.1,35.4" fill="#e2ecc0" stroke="#1a1a1a" stroke-width="0.45"/><polygon points="18.7,16.2 17.5,16.4 16.6,16.2 15.9,15.3 16.8,14.4 18.1,14.8" fill="#e2ecc0" stroke="#1a1a1a" stroke-width="0.45"/><polygon points="58.0,43.4 57.2,42.8 57.1,41.9 57.6,41.9 58.3,42.3" fill="#e2ecc0" stroke="#1a1a1a" stroke-width="0.45"/><polygon points="51.2,6.6 50.5,7.2 49.5,6.4 49.6,5.6 50.0,5.4 51.5,5.8" fill="#cfe6a8" stroke="#1a1a1a" stroke-width="0.45"/><polygon points="1.7,45.1 0.7,45.4 0.2,45.4 -0.6,44.8 0.2,44.3 1.1,44.4" fill="#e2ecc0" stroke="#1a1a1a" stroke-width="0.45"/><polygon points="58.2,5.2 58.7,4.6 59.5,4.0 60.1,4.4 59.7,4.9 59.0,5.2" fill="#f0f0d0" stroke="#1a1a1a" stroke-width="0.45"/><polygon points="67.1,48.2 66.5,48.1 66.0,47.1 66.5,46.7 67.0,46.9 67.2,47.3" fill="#cfe6a8" stroke="#1a1a1a" stroke-width="0.45"/><polygon points="18.9,25.4 18.7,25.7 17.7,25.2 16.9,24.7 17.0,24.0 18.2,24.0 18.7,24.6" fill="#cfe6a8" stroke="#1a1a1a" stroke-width="0.45"/><polygon points="6.6,24.4 5.8,23.5 6.6,22.1 7.1,21.8 7.9,21.5 8.3,23.1 7.3,23.9" fill="#f0f0d0" stroke="#1a1a1a" stroke-width="0.45"/><polygon points="55.3,47.8 56.6,47.0 57.9,46.9 58.2,47.8 56.4,48.6" fill="#f0f0d0" stroke="#1a1a1a" stroke-width="0.45"/><polygon points="8.4,32.2 7.9,32.3 7.5,31.8 7.6,31.1 8.0,30.9 8.5,31.1 8.6,31.8" fill="#f0f0d0" stroke="#1a1a1a" stroke-width="0.45"/><polygon points="51.0,15.6 49.9,15.9 49.2,15.3 49.4,13.5 49.8,12.7 50.7,14.1 51.3,14.6" fill="#cfe6a8" stroke="#1a1a1a" stroke-width="0.45"/><polygon points="66.0,33.4 64.6,33.4 63.5,32.5 63.0,31.5 64.5,31.6 65.3,32.4" fill="#b8e090" stroke="#1a1a1a" stroke-width="0.45"/><polygon points="2.5,27.2 1.9,28.2 0.6,28.3 -0.2,27.1 0.4,26.4 1.9,26.2" fill="#f0f0d0" stroke="#1a1a1a" stroke-width="0.45"/><polygon points="23.6,8.9 22.7,8.7 22.4,7.3 24.1,6.5 24.2,7.5" fill="#f0f0d0" stroke="#1a1a1a" stroke-width="0.45"/><polygon points="42.2,34.4 41.6,33.8 41.5,31.9 42.2,31.1 43.2,32.3 43.0,33.4" fill="#cfe6a8" stroke="#1a1a1a" stroke-width="0.45"/><polygon points="2.8,33.1 1.9,32.9 1.1,32.6 1.0,32.0 1.5,31.6 2.5,32.5" fill="#f0f0d0" stroke="#1a1a1a" stroke-width="0.45"/><polygon points="7.0,31.2 6.2,31.8 5.6,31.6 4.9,30.9 5.4,30.4 6.3,30.1 6.9,30.7" fill="#cfe6a8" stroke="#1a1a1a" stroke-width="0.45"/><polygon points="62.4,48.3 61.6,48.2 61.2,47.7 61.0,46.8 61.6,46.9 62.2,47.0 62.6,47.5" fill="#e2ecc0" stroke="#1a1a1a" stroke-width="0.45"/><polygon points="60.7,31.6 60.3,30.5 61.2,30.2 62.3,29.8 62.5,30.3 62.4,31.2 61.6,32.1" fill="#f0f0d0" stroke="#1a1a1a" stroke-width="0.45"/><polygon points="18.5,50.3 18.4,50.1 19.3,49.0 19.6,49.0 20.3,49.3 19.9,50.1 19.0,50.5" fill="#e2ecc0" stroke="#1a1a1a" stroke-width="0.45"/><polygon points="6.7,26.3 6.7,25.7 7.6,25.3 7.9,26.0 7.7,26.6" fill="#cfe6a8" stroke="#1a1a1a" stroke-width="0.45"/><polygon points="60.6,42.5 60.2,41.8 61.4,41.0 61.9,41.8 62.1,42.2 61.2,43.2" fill="#b8e090" stroke="#1a1a1a" stroke-width="0.45"/><polygon points="78.2,15.9 78.1,15.3 77.7,15.1 78.1,14.4 78.7,14.5 79.0,15.2 79.1,15.7" fill="#b8e090" stroke="#1a1a1a" stroke-width="0.45"/><polygon points="71.8,47.7 71.4,46.6 72.3,45.6 73.0,45.7 73.2,46.7 72.8,47.7" fill="#e2ecc0" stroke="#1a1a1a" stroke-width="0.45"/><polygon points="11.7,32.8 11.3,32.7 11.0,32.0 11.3,31.6 11.9,31.3 12.2,32.0 12.2,32.4" fill="#e2ecc0" stroke="#1a1a1a" stroke-width="0.45"/><polygon points="69.4,44.3 68.5,43.6 67.9,42.9 68.4,42.4 69.3,42.5 69.3,43.4" fill="#cfe6a8" stroke="#1a1a1a" stroke-width="0.45"/><polygon points="19.1,12.3 18.3,11.7 18.0,11.0 18.3,9.8 19.3,10.4 19.6,11.1 19.4,11.9" fill="#b8e090" stroke="#1a1a1a" stroke-width="0.45"/><polygon points="39.6,44.3 38.9,43.8 38.3,43.4 38.6,42.6 39.1,42.0 39.7,42.8 40.3,44.0" fill="#e2ecc0" stroke="#1a1a1a" stroke-width="0.45"/><polygon points="49.9,4.7 49.8,4.2 51.6,4.0 52.2,4.4 52.0,5.6 51.3,5.7 50.2,5.9" fill="#cfe6a8" stroke="#1a1a1a" stroke-width="0.45"/><polygon points="60.5,25.9 59.8,25.6 59.3,25.3 59.0,24.0 59.7,24.3 60.2,24.2 60.4,25.0" fill="#e2ecc0" stroke="#1a1a1a" stroke-width="0.45"/><polygon points="37.9,48.9 37.9,47.2 39.0,47.0 40.0,47.6 39.0,48.4" fill="#cfe6a8" stroke="#1a1a1a" stroke-width="0.45"/><polygon points="19.2,46.3 19.5,45.2 19.3,44.7 20.3,44.3 20.8,44.6 20.6,45.7 20.3,45.9" fill="#b8e090" stroke="#1a1a1a" stroke-width="0.45"/><polygon points="60.7,28.0 60.2,27.9 60.3,27.0 60.5,26.1 60.9,26.5 61.5,27.1 61.2,28.0" fill="#f0f0d0" stroke="#1a1a1a" stroke-width="0.45"/><polygon points="88.3,45.4 87.1,46.0 85.8,45.7 85.7,44.4 87.0,44.4" fill="#b85428" stroke="#1a1a1a" stroke-width="0.4"/><polygon points="7.4,53.4 7.2,53.6 6.4,53.1 6.1,52.7 6.7,52.1 7.4,52.5 7.7,52.9" fill="#a04020" stroke="#1a1a1a" stroke-width="0.4"/><polygon points="7.4,32.4 7.0,32.0 6.8,31.4 7.2,31.1 7.8,31.2 7.7,32.0" fill="#6e2010" stroke="#1a1a1a" stroke-width="0.4"/><polygon points="83.1,48.3 82.1,48.3 81.7,47.1 82.0,46.4 83.6,47.3" fill="#a04020" stroke="#1a1a1a" stroke-width="0.4"/><polygon points="1.4,5.2 0.3,4.7 -0.2,3.7 0.4,3.6 1.1,4.1" fill="#6e2010" stroke="#1a1a1a" stroke-width="0.4"/><polygon points="20.1,13.0 19.3,13.1 18.9,12.4 19.3,12.0 19.7,12.5" fill="#b85428" stroke="#1a1a1a" stroke-width="0.4"/><polygon points="23.8,51.8 23.3,51.6 23.1,51.0 23.3,50.4 23.8,50.4 24.1,50.5 24.2,51.1" fill="#8a3418" stroke="#1a1a1a" stroke-width="0.4"/><polygon points="5.8,22.0 5.3,21.7 4.8,20.7 5.6,20.2 6.3,20.3 6.1,21.3" fill="#2a2a1a" stroke="#1a1a1a" stroke-width="0.4"/><polygon points="4.4,12.2 4.1,11.2 5.4,9.5 6.6,9.4 6.3,10.5 5.8,11.7" fill="#2a2a1a" stroke="#1a1a1a" stroke-width="0.4"/><polygon points="19.9,49.5 19.5,49.5 19.6,48.9 19.8,48.4 20.3,48.0 20.6,48.7 20.4,49.2" fill="#b85428" stroke="#1a1a1a" stroke-width="0.4"/><polygon points="64.0,26.2 64.0,25.9 64.6,25.6 64.7,26.0 64.5,26.3" fill="#6e2010" stroke="#1a1a1a" stroke-width="0.4"/><polygon points="69.3,45.5 69.0,44.8 69.4,44.7 70.2,44.9 69.9,45.5 69.6,45.8" fill="#6e2010" stroke="#1a1a1a" stroke-width="0.4"/><polygon points="27.8,52.7 27.3,52.0 27.2,51.5 27.9,51.3 28.1,52.0" fill="#2a2a1a" stroke="#1a1a1a" stroke-width="0.4"/><polygon points="29.8,50.2 30.1,49.5 30.2,49.1 30.7,48.9 31.4,48.9 31.2,49.4 30.5,50.1" fill="#b85428" stroke="#1a1a1a" stroke-width="0.4"/><polygon points="10.2,7.0 9.8,7.2 9.1,6.7 9.5,6.4 10.0,6.1 10.4,6.5" fill="#a04020" stroke="#1a1a1a" stroke-width="0.4"/><polygon points="75.6,36.0 74.3,36.1 73.1,34.9 73.6,34.4 74.9,34.9" fill="#6e2010" stroke="#1a1a1a" stroke-width="0.4"/><polygon points="36.6,45.1 35.6,44.9 34.9,44.6 35.7,44.0 36.3,44.3" fill="#c86a34" stroke="#1a1a1a" stroke-width="0.4"/><polygon points="8.6,39.4 9.2,38.9 9.7,38.8 10.7,38.7 10.6,39.1 10.1,40.0 9.3,39.9" fill="#b85428" stroke="#1a1a1a" stroke-width="0.4"/><polygon points="27.3,49.7 27.0,49.4 27.3,48.8 28.2,48.4 28.1,48.9 28.1,49.5 27.7,49.8" fill="#2a2a1a" stroke="#1a1a1a" stroke-width="0.4"/><polygon points="84.6,50.3 84.1,50.6 83.3,50.2 83.7,49.6 84.5,49.8" fill="#b85428" stroke="#1a1a1a" stroke-width="0.4"/><polygon points="6.5,30.9 6.7,30.5 8.0,30.2 8.5,30.7 8.1,31.4 6.8,31.7" fill="#2a2a1a" stroke="#1a1a1a" stroke-width="0.4"/><polygon points="14.1,32.3 13.3,32.4 12.8,32.4 12.6,31.9 13.1,31.6 13.9,31.8" fill="#6e2010" stroke="#1a1a1a" stroke-width="0.4"/><polygon points="16.7,35.7 16.7,35.1 17.2,35.0 17.5,35.1 17.8,35.4 17.4,35.7 16.9,35.9" fill="#8a3418" stroke="#1a1a1a" stroke-width="0.4"/><polygon points="37.2,50.3 36.4,49.5 36.2,48.8 36.3,48.2 36.9,48.4 37.3,48.8 37.2,49.7" fill="#a04020" stroke="#1a1a1a" stroke-width="0.4"/><polygon points="41.2,39.2 40.1,39.4 38.8,39.1 39.0,38.2 40.8,38.4" fill="#b85428" stroke="#1a1a1a" stroke-width="0.4"/><polygon points="11.1,20.4 10.4,21.2 9.7,20.8 10.0,19.7 10.5,19.2 11.1,19.8" fill="#c86a34" stroke="#1a1a1a" stroke-width="0.4"/><polygon points="37.4,44.1 36.7,43.7 36.5,42.4 36.7,41.9 37.4,42.1 37.9,43.3" fill="#2a2a1a" stroke="#1a1a1a" stroke-width="0.4"/><polygon points="3.8,46.1 3.7,45.7 4.1,45.4 4.5,45.4 4.7,46.1 4.1,46.4" fill="#8a3418" stroke="#1a1a1a" stroke-width="0.4"/><polygon points="11.0,12.5 11.2,11.6 12.0,11.7 12.5,12.2 12.1,12.6 11.4,13.1" fill="#c86a34" stroke="#1a1a1a" stroke-width="0.4"/><polygon points="45.1,17.3 44.7,16.9 45.2,15.9 45.8,16.0 46.3,16.3 46.0,17.3" fill="#b85428" stroke="#1a1a1a" stroke-width="0.4"/><polygon points="18.1,53.1 17.4,53.2 17.0,52.8 17.5,52.4 18.2,52.2 18.4,52.8" fill="#a04020" stroke="#1a1a1a" stroke-width="0.4"/><polygon points="57.1,44.5 56.3,44.4 56.4,43.6 56.9,43.2 57.4,44.0" fill="#b85428" stroke="#1a1a1a" stroke-width="0.4"/><polygon points="50.1,16.8 49.7,16.2 49.8,15.7 50.5,15.0 51.0,15.4 51.1,16.3 50.6,17.1" fill="#b85428" stroke="#1a1a1a" stroke-width="0.4"/><polygon points="67.9,42.3 67.6,42.3 66.8,42.1 67.0,41.7 67.3,41.0 67.9,41.0 68.1,41.9" fill="#2a2a1a" stroke="#1a1a1a" stroke-width="0.4"/><polygon points="78.0,28.7 77.2,29.5 76.0,29.2 75.8,28.1 77.3,28.1" fill="#b85428" stroke="#1a1a1a" stroke-width="0.4"/><polygon points="54.2,18.8 53.9,18.3 54.2,18.1 54.4,18.1 54.8,18.3 54.6,19.0" fill="#8a3418" stroke="#1a1a1a" stroke-width="0.4"/><polygon points="36.6,44.4 36.1,44.4 35.7,43.6 35.8,42.8 36.1,42.5 36.7,42.9 37.1,44.1" fill="#6e2010" stroke="#1a1a1a" stroke-width="0.4"/><polygon points="22.4,42.4 22.6,42.0 23.2,41.9 23.5,42.3 23.4,42.7 22.8,42.7" fill="#8a3418" stroke="#1a1a1a" stroke-width="0.4"/><polygon points="69.4,51.9 68.6,52.1 68.3,50.9 68.2,49.8 68.8,49.6 69.8,50.3 69.9,51.6" fill="#8a3418" stroke="#1a1a1a" stroke-width="0.4"/><polygon points="52.9,7.1 52.4,6.5 53.0,5.5 53.8,6.1 53.8,6.7" fill="#8a3418" stroke="#1a1a1a" stroke-width="0.4"/><polygon points="8.9,35.9 9.0,36.2 8.5,36.2 8.2,36.0 8.2,35.7 8.4,35.4 8.7,35.6" fill="#c86a34" stroke="#1a1a1a" stroke-width="0.4"/><polygon points="81.4,43.3 80.7,42.3 80.9,41.3 81.7,41.7 81.9,42.5" fill="#a04020" stroke="#1a1a1a" stroke-width="0.4"/><polygon points="60.6,26.3 60.8,26.0 61.4,25.9 62.2,26.2 61.6,26.7 60.8,26.9" fill="#c86a34" stroke="#1a1a1a" stroke-width="0.4"/><polygon points="51.5,14.0 50.6,14.4 50.0,13.9 49.5,13.2 50.4,12.5 51.2,12.7" fill="#8a3418" stroke="#1a1a1a" stroke-width="0.4"/><polygon points="53.1,39.8 53.1,39.2 53.6,39.0 54.0,39.2 53.9,39.7 53.6,39.9" fill="#8a3418" stroke="#1a1a1a" stroke-width="0.4"/><polygon points="48.6,1.0 48.1,1.0 47.7,0.8 47.8,0.6 47.8,0.2 48.4,0.4 48.5,0.7" fill="#2a2a1a" stroke="#1a1a1a" stroke-width="0.4"/><polygon points="62.8,21.2 62.5,20.9 62.6,20.6 63.1,20.3 63.4,20.9 63.1,21.1" fill="#2a2a1a" stroke="#1a1a1a" stroke-width="0.4"/><polygon points="26.4,48.8 26.2,48.4 26.2,47.9 26.6,47.5 26.9,47.9 26.9,48.6" fill="#c86a34" stroke="#1a1a1a" stroke-width="0.4"/><polygon points="52.0,12.7 51.4,12.4 51.3,11.5 51.4,10.6 52.3,10.5 52.8,11.1 52.7,12.0" fill="#2a2a1a" stroke="#1a1a1a" stroke-width="0.4"/><polygon points="22.2,32.9 21.2,33.3 20.6,33.0 20.2,31.5 21.2,31.7 22.3,32.0" fill="#b85428" stroke="#1a1a1a" stroke-width="0.4"/><polygon points="55.3,30.0 55.1,30.6 53.6,30.4 53.3,29.9 53.3,29.5 54.2,29.1 55.4,29.4" fill="#6e2010" stroke="#1a1a1a" stroke-width="0.4"/><polygon points="28.0,50.2 27.7,51.0 26.6,50.9 26.1,50.3 26.9,49.5 27.3,49.5" fill="#6e2010" stroke="#1a1a1a" stroke-width="0.4"/><polygon points="12.6,6.6 13.2,5.8 14.0,6.0 14.2,6.6 13.2,7.0" fill="#a04020" stroke="#1a1a1a" stroke-width="0.4"/><polygon points="8.2,10.7 7.8,11.1 7.3,10.8 7.1,10.4 7.5,10.0 7.8,10.3" fill="#2a2a1a" stroke="#1a1a1a" stroke-width="0.4"/><polygon points="45.9,48.2 46.2,47.3 47.2,46.6 47.5,47.2 46.8,48.0" fill="#2a2a1a" stroke="#1a1a1a" stroke-width="0.4"/><polygon points="8.7,39.5 8.2,38.9 8.4,38.5 8.8,38.5 9.2,39.3" fill="#b85428" stroke="#1a1a1a" stroke-width="0.4"/><polygon points="-3.2,13.5 -3.0,12.8 -2.2,12.3 -1.6,12.8 -1.9,13.7 -2.8,13.7" fill="#b85428" stroke="#1a1a1a" stroke-width="0.4"/><polygon points="73.9,31.5 73.2,30.6 73.1,29.7 73.7,28.7 74.5,28.9 74.3,30.3" fill="#8a3418" stroke="#1a1a1a" stroke-width="0.4"/><polygon points="60.7,27.7 59.7,28.1 59.0,27.2 58.8,26.3 59.9,26.7" fill="#2a2a1a" stroke="#1a1a1a" stroke-width="0.4"/><polygon points="13.8,36.2 13.4,35.6 13.6,35.2 14.0,35.0 14.3,35.5 14.5,35.8 14.1,36.0" fill="#c86a34" stroke="#1a1a1a" stroke-width="0.4"/><polygon points="56.7,12.9 56.1,12.9 55.1,12.2 55.6,10.8 56.3,11.4 57.0,12.5" fill="#c86a34" stroke="#1a1a1a" stroke-width="0.4"/><polygon points="45.3,8.2 44.5,8.4 43.8,7.7 43.5,6.6 44.6,6.3 45.1,6.8" fill="#b85428" stroke="#1a1a1a" stroke-width="0.4"/><polygon points="67.5,46.3 67.5,46.1 67.8,45.8 68.7,45.8 68.7,46.5 68.1,46.9 67.7,46.6" fill="#8a3418" stroke="#1a1a1a" stroke-width="0.4"/><polygon points="65.5,46.5 64.8,46.7 64.1,46.4 64.0,45.8 65.2,45.7" fill="#b85428" stroke="#1a1a1a" stroke-width="0.4"/><polygon points="15.8,15.2 15.7,14.8 15.9,14.4 16.2,14.5 16.6,14.5 16.5,15.0 16.3,15.1" fill="#2a2a1a" stroke="#1a1a1a" stroke-width="0.4"/><polygon points="19.0,51.9 18.5,52.2 18.1,51.9 17.7,51.7 18.2,51.0 18.7,51.2 19.0,51.6" fill="#8a3418" stroke="#1a1a1a" stroke-width="0.4"/><polygon points="55.9,4.2 55.4,4.4 54.7,4.6 54.3,4.4 54.1,3.6 54.9,3.3 55.6,3.6" fill="#a04020" stroke="#1a1a1a" stroke-width="0.4"/><polygon points="60.2,28.8 59.5,28.5 59.5,27.7 59.9,27.3 60.5,27.7 60.7,28.5" fill="#a04020" stroke="#1a1a1a" stroke-width="0.4"/><polygon points="82.8,51.4 83.0,50.8 83.5,50.0 84.3,49.5 84.8,50.0 84.5,50.9 83.6,51.6" fill="#8a3418" stroke="#1a1a1a" stroke-width="0.4"/><polygon points="16.0,31.1 15.8,30.2 16.7,29.3 17.3,29.5 16.7,30.8" fill="#b85428" stroke="#1a1a1a" stroke-width="0.4"/><polygon points="5.7,46.1 5.9,45.4 7.3,44.3 7.6,45.1 7.5,45.7 6.5,46.3" fill="#8a3418" stroke="#1a1a1a" stroke-width="0.4"/><polygon points="13.6,16.8 13.6,16.2 13.9,16.1 14.1,16.0 14.5,16.4 14.0,16.8" fill="#c86a34" stroke="#1a1a1a" stroke-width="0.4"/><polygon points="3.1,4.3 2.8,3.7 2.8,3.1 3.1,3.0 3.6,3.1 3.8,3.5 3.7,3.9" fill="#8a3418" stroke="#1a1a1a" stroke-width="0.4"/><polygon points="77.4,33.2 77.5,32.3 78.3,31.8 79.0,32.0 79.2,32.6 78.6,33.3" fill="#c86a34" stroke="#1a1a1a" stroke-width="0.4"/><polygon points="47.9,3.5 47.5,4.0 46.6,4.0 45.9,3.3 46.4,2.9 47.3,2.7" fill="#a04020" stroke="#1a1a1a" stroke-width="0.4"/><polygon points="76.6,33.2 76.9,32.3 77.6,32.1 77.9,32.8 77.6,33.4 77.0,33.3" fill="#2a2a1a" stroke="#1a1a1a" stroke-width="0.4"/><polygon points="43.2,42.1 42.1,42.2 41.9,41.4 42.2,41.1 42.9,41.2" fill="#8a3418" stroke="#1a1a1a" stroke-width="0.4"/><polygon points="61.7,29.8 61.1,30.3 60.2,29.5 60.5,27.9 61.1,28.4 62.0,29.1" fill="#b85428" stroke="#1a1a1a" stroke-width="0.4"/><polygon points="21.4,7.3 21.9,5.9 23.3,5.6 23.4,6.7 22.5,7.6" fill="#a04020" stroke="#1a1a1a" stroke-width="0.4"/><polygon points="39.4,45.1 39.3,44.8 40.0,44.1 41.0,44.2 41.3,44.9 40.5,45.6 39.9,45.5" fill="#8a3418" stroke="#1a1a1a" stroke-width="0.4"/><polygon points="77.2,34.8 76.2,34.0 76.2,33.0 76.5,32.2 77.5,32.7 77.5,33.9" fill="#b85428" stroke="#1a1a1a" stroke-width="0.4"/><polygon points="35.5,40.6 35.4,40.2 36.1,40.3 36.6,40.4 36.7,40.7 36.0,40.8 35.6,41.0" fill="#c86a34" stroke="#1a1a1a" stroke-width="0.4"/><polygon points="17.1,38.5 16.0,38.1 15.7,37.9 16.1,36.8 16.8,36.9 17.4,37.4 17.3,37.8" fill="#6e2010" stroke="#1a1a1a" stroke-width="0.4"/><polygon points="8.2,52.3 8.3,51.6 8.9,51.2 9.4,51.4 8.9,52.0" fill="#c86a34" stroke="#1a1a1a" stroke-width="0.4"/><polygon points="51.7,35.7 51.6,35.0 51.4,33.6 51.8,33.3 52.6,32.9 52.8,34.1 52.4,34.8" fill="#c86a34" stroke="#1a1a1a" stroke-width="0.4"/><polygon points="5.7,8.2 6.0,7.8 6.4,7.1 7.4,7.3 7.5,7.9 6.8,8.6 6.3,8.9" fill="#6e2010" stroke="#1a1a1a" stroke-width="0.4"/><polygon points="77.8,33.2 77.5,33.2 77.1,31.9 77.5,31.4 78.1,31.2 78.7,31.9 78.7,33.0" fill="#c86a34" stroke="#1a1a1a" stroke-width="0.4"/><polygon points="18.4,49.7 18.2,49.1 18.7,48.5 19.3,48.3 19.3,48.8 19.1,49.2" fill="#c86a34" stroke="#1a1a1a" stroke-width="0.4"/><polygon points="53.2,43.8 53.0,44.4 52.1,44.2 52.1,43.2 53.1,43.0" fill="#6e2010" stroke="#1a1a1a" stroke-width="0.4"/><polygon points="28.6,53.1 29.1,52.5 29.5,52.0 30.2,52.4 30.0,53.0 29.3,53.2" fill="#8a3418" stroke="#1a1a1a" stroke-width="0.4"/><polygon points="37.7,41.9 38.3,40.9 39.1,40.9 39.4,41.6 38.5,42.2" fill="#8a3418" stroke="#1a1a1a" stroke-width="0.4"/><polygon points="14.7,5.3 13.9,4.9 13.8,4.5 14.0,4.0 14.7,4.2 15.0,4.7" fill="#b85428" stroke="#1a1a1a" stroke-width="0.4"/><polygon points="55.0,9.5 54.6,9.2 54.0,8.8 54.1,8.0 54.8,8.2 55.1,8.5" fill="#6e2010" stroke="#1a1a1a" stroke-width="0.4"/><polygon points="49.4,6.8 49.6,6.1 50.2,6.1 50.6,6.3 50.7,6.5 50.6,6.9 49.8,6.9" fill="#a04020" stroke="#1a1a1a" stroke-width="0.4"/><polygon points="66.0,44.0 65.1,43.3 65.3,42.2 66.5,42.1 66.7,42.9" fill="#8a3418" stroke="#1a1a1a" stroke-width="0.4"/><polygon points="1.0,7.5 0.4,7.2 0.7,6.4 0.9,6.0 1.5,6.5 1.3,7.2" fill="#2a2a1a" stroke="#1a1a1a" stroke-width="0.4"/><polygon points="73.0,49.5 72.3,49.7 71.8,49.0 72.3,48.6 73.1,49.1" fill="#c86a34" stroke="#1a1a1a" stroke-width="0.4"/><polygon points="17.3,47.0 17.4,46.6 18.6,46.5 18.5,47.0 18.0,47.4" fill="#6e2010" stroke="#1a1a1a" stroke-width="0.4"/><polygon points="5.8,34.1 5.8,33.8 6.0,33.1 6.7,32.5 6.9,33.1 6.8,33.6 6.2,34.1" fill="#2a2a1a" stroke="#1a1a1a" stroke-width="0.4"/><polygon points="7.9,38.3 7.5,38.1 7.2,37.5 7.4,37.1 7.9,37.0 8.2,37.5 8.2,37.8" fill="#b85428" stroke="#1a1a1a" stroke-width="0.4"/><polygon points="49.8,37.6 49.2,37.6 48.8,36.8 48.4,36.0 49.0,35.8 49.8,35.9 49.8,36.7" fill="#6e2010" stroke="#1a1a1a" stroke-width="0.4"/><polygon points="59.9,46.0 59.5,45.8 59.3,44.9 59.4,44.3 59.7,44.2 60.0,44.6 60.3,45.4" fill="#c86a34" stroke="#1a1a1a" stroke-width="0.4"/><polygon points="61.7,43.9 61.2,43.1 60.9,42.3 61.4,41.2 62.0,42.3 62.0,42.7" fill="#c86a34" stroke="#1a1a1a" stroke-width="0.4"/><polygon points="3.1,43.0 3.7,42.7 4.2,42.4 4.9,42.8 5.2,43.2 4.4,43.5 3.6,43.6" fill="#c86a34" stroke="#1a1a1a" stroke-width="0.4"/><polygon points="5.1,5.7 5.2,5.4 5.7,4.9 6.4,5.0 6.5,5.4 6.2,5.8 5.6,5.8" fill="#c86a34" stroke="#1a1a1a" stroke-width="0.4"/><polygon points="61.1,19.4 59.8,18.7 59.9,17.4 60.9,17.0 61.4,18.1" fill="#2a2a1a" stroke="#1a1a1a" stroke-width="0.4"/><polygon points="47.6,3.7 47.2,4.1 46.8,3.5 47.0,3.1 47.1,2.8 47.7,3.1 47.9,3.3" fill="#6e2010" stroke="#1a1a1a" stroke-width="0.4"/><polygon points="50.7,2.7 49.8,2.4 49.6,1.8 49.7,0.6 50.4,0.7 50.7,1.3 50.8,2.4" fill="#2a2a1a" stroke="#1a1a1a" stroke-width="0.4"/><polygon points="75.7,24.4 74.6,25.5 73.5,24.9 73.9,23.9 74.7,23.7" fill="#c86a34" stroke="#1a1a1a" stroke-width="0.4"/><polygon points="4.9,30.3 4.2,29.9 4.5,28.5 4.8,28.5 5.1,29.6" fill="#a04020" stroke="#1a1a1a" stroke-width="0.4"/><polygon points="51.0,36.8 50.3,36.7 50.5,35.7 50.7,34.8 51.3,35.3 51.5,36.0 51.6,36.6" fill="#b85428" stroke="#1a1a1a" stroke-width="0.4"/><polygon points="50.6,4.6 49.2,4.5 48.7,3.5 49.4,2.7 50.2,3.4" fill="#6e2010" stroke="#1a1a1a" stroke-width="0.4"/><polygon points="37.2,44.2 36.8,43.3 38.3,42.5 39.0,43.3 38.1,44.2" fill="#2a2a1a" stroke="#1a1a1a" stroke-width="0.4"/><polygon points="25.1,37.6 24.6,37.3 25.0,36.4 25.7,36.2 26.0,36.8 25.8,37.7" fill="#c86a34" stroke="#1a1a1a" stroke-width="0.4"/><polygon points="7.2,7.9 6.6,7.7 6.2,7.0 6.1,6.5 6.6,6.3 7.3,6.6 7.7,7.3" fill="#2a2a1a" stroke="#1a1a1a" stroke-width="0.4"/><polygon points="6.4,50.5 6.0,50.1 5.6,49.2 5.7,48.5 6.4,49.2 6.8,49.8" fill="#2a2a1a" stroke="#1a1a1a" stroke-width="0.4"/><polygon points="49.2,15.4 48.5,14.6 49.2,13.1 49.9,13.3 50.3,13.6 50.0,15.1" fill="#b85428" stroke="#1a1a1a" stroke-width="0.4"/><polygon points="24.0,9.8 23.7,9.2 24.1,8.9 24.8,8.9 24.8,9.4 24.3,10.1" fill="#2a2a1a" stroke="#1a1a1a" stroke-width="0.4"/><polygon points="55.6,43.3 55.4,42.5 56.2,41.8 56.7,42.2 56.4,42.9" fill="#2a2a1a" stroke="#1a1a1a" stroke-width="0.4"/><polygon points="17.8,33.5 17.5,33.3 17.8,32.8 18.2,32.9 18.6,33.2 18.4,33.6 18.2,33.8" fill="#b85428" stroke="#1a1a1a" stroke-width="0.4"/><polygon points="48.3,10.5 47.9,10.7 47.3,10.4 47.4,9.8 48.1,10.0" fill="#a04020" stroke="#1a1a1a" stroke-width="0.4"/><polygon points="47.9,4.8 47.3,4.2 47.6,3.5 48.6,3.5 48.6,4.1 48.3,4.8" fill="#b85428" stroke="#1a1a1a" stroke-width="0.4"/><polygon points="75.9,46.5 75.6,47.0 75.1,46.8 74.9,46.0 75.2,45.8 75.8,45.8" fill="#a04020" stroke="#1a1a1a" stroke-width="0.4"/><polygon points="53.0,29.4 52.3,29.6 51.4,29.6 51.0,29.4 50.6,28.8 51.9,28.5 52.5,28.9" fill="#6e2010" stroke="#1a1a1a" stroke-width="0.4"/><polygon points="22.7,10.2 22.4,9.7 22.7,9.4 23.2,9.0 23.6,9.6 23.2,9.9" fill="#6e2010" stroke="#1a1a1a" stroke-width="0.4"/><polygon points="38.9,40.1 38.4,40.6 37.6,40.2 37.0,39.6 37.2,39.3 38.5,39.2 38.7,39.5" fill="#b85428" stroke="#1a1a1a" stroke-width="0.4"/><polygon points="24.4,53.2 24.2,52.7 24.2,52.3 24.5,51.8 25.0,51.9 24.8,52.4 24.8,52.9" fill="#a04020" stroke="#1a1a1a" stroke-width="0.4"/><polygon points="24.1,51.4 24.1,50.5 25.1,50.3 25.3,50.9 25.3,51.8 24.6,51.9" fill="#6e2010" stroke="#1a1a1a" stroke-width="0.4"/><polygon points="82.6,44.6 82.3,45.0 81.6,44.1 81.1,43.3 81.8,42.8 82.5,43.3 82.9,44.3" fill="#8a3418" stroke="#1a1a1a" stroke-width="0.4"/><polygon points="48.1,5.4 47.8,5.0 47.7,4.1 47.9,3.0 48.4,3.4 49.0,4.1 48.7,5.4" fill="#8a3418" stroke="#1a1a1a" stroke-width="0.4"/><ellipse cx="4.2" cy="51.6" rx="1.1" ry="0.9" fill="#8a2a14" opacity="0.9"/><ellipse cx="65.1" cy="30.7" rx="0.7" ry="0.5" fill="#c05028" opacity="0.9"/><ellipse cx="9.0" cy="31.1" rx="0.9" ry="0.7" fill="#c05028" opacity="0.9"/><ellipse cx="13.6" cy="36.7" rx="0.8" ry="0.6" fill="#a03a1c" opacity="0.9"/><ellipse cx="50.2" cy="3.6" rx="0.7" ry="0.5" fill="#c05028" opacity="0.9"/><ellipse cx="63.6" cy="33.8" rx="0.7" ry="0.6" fill="#8a2a14" opacity="0.9"/><ellipse cx="53.6" cy="28.7" rx="1.0" ry="0.7" fill="#c05028" opacity="0.9"/><ellipse cx="-1.2" cy="44.0" rx="0.8" ry="0.6" fill="#8a2a14" opacity="0.9"/><ellipse cx="64.1" cy="35.7" rx="0.8" ry="0.6" fill="#c05028" opacity="0.9"/><ellipse cx="60.4" cy="29.8" rx="1.0" ry="0.8" fill="#8a2a14" opacity="0.9"/><ellipse cx="10.7" cy="46.2" rx="0.9" ry="0.7" fill="#8a2a14" opacity="0.9"/><ellipse cx="6.9" cy="38.2" rx="0.9" ry="0.7" fill="#8a2a14" opacity="0.9"/><ellipse cx="11.9" cy="39.3" rx="1.1" ry="0.8" fill="#c05028" opacity="0.9"/><ellipse cx="56.3" cy="29.1" rx="0.9" ry="0.7" fill="#a03a1c" opacity="0.9"/><ellipse cx="10.7" cy="25.8" rx="1.0" ry="0.7" fill="#a03a1c" opacity="0.9"/><ellipse cx="62.7" cy="29.9" rx="0.7" ry="0.5" fill="#8a2a14" opacity="0.9"/><ellipse cx="17.7" cy="42.8" rx="0.7" ry="0.5" fill="#c05028" opacity="0.9"/><ellipse cx="56.2" cy="27.9" rx="0.7" ry="0.5" fill="#8a2a14" opacity="0.9"/><ellipse cx="52.6" cy="4.3" rx="0.9" ry="0.7" fill="#a03a1c" opacity="0.9"/><ellipse cx="7.5" cy="29.7" rx="0.8" ry="0.6" fill="#c05028" opacity="0.9"/><ellipse cx="17.0" cy="43.6" rx="0.9" ry="0.7" fill="#8a2a14" opacity="0.9"/><ellipse cx="10.9" cy="28.6" rx="1.0" ry="0.7" fill="#a03a1c" opacity="0.9"/><ellipse cx="61.7" cy="30.1" rx="0.8" ry="0.6" fill="#c05028" opacity="0.9"/><ellipse cx="53.6" cy="4.0" rx="0.7" ry="0.6" fill="#8a2a14" opacity="0.9"/><ellipse cx="14.5" cy="35.8" rx="0.8" ry="0.6" fill="#8a2a14" opacity="0.9"/><ellipse cx="16.8" cy="45.3" rx="1.0" ry="0.8" fill="#a03a1c" opacity="0.9"/><ellipse cx="14.2" cy="37.8" rx="0.7" ry="0.5" fill="#c05028" opacity="0.9"/><ellipse cx="51.8" cy="5.4" rx="1.1" ry="0.9" fill="#c05028" opacity="0.9"/><ellipse cx="8.8" cy="28.4" rx="1.1" ry="0.8" fill="#8a2a14" opacity="0.9"/><ellipse cx="55.1" cy="8.5" rx="0.8" ry="0.6" fill="#c05028" opacity="0.9"/><ellipse cx="18.0" cy="44.7" rx="1.0" ry="0.8" fill="#8a2a14" opacity="0.9"/><ellipse cx="16.8" cy="43.8" rx="1.1" ry="0.9" fill="#a03a1c" opacity="0.9"/><ellipse cx="50.6" cy="5.0" rx="0.9" ry="0.7" fill="#c05028" opacity="0.9"/><ellipse cx="62.7" cy="28.7" rx="1.0" ry="0.7" fill="#c05028" opacity="0.9"/><ellipse cx="54.0" cy="2.6" rx="0.8" ry="0.7" fill="#c05028" opacity="0.9"/><ellipse cx="60.3" cy="32.1" rx="0.8" ry="0.6" fill="#8a2a14" opacity="0.9"/><ellipse cx="63.2" cy="28.5" rx="0.9" ry="0.7" fill="#8a2a14" opacity="0.9"/><ellipse cx="18.4" cy="54.9" rx="0.8" ry="0.6" fill="#8a2a14" opacity="0.9"/><ellipse cx="11.8" cy="41.7" rx="0.7" ry="0.5" fill="#c05028" opacity="0.9"/><ellipse cx="52.9" cy="5.1" rx="1.0" ry="0.7" fill="#8a2a14" opacity="0.9"/><ellipse cx="53.2" cy="4.9" rx="1.1" ry="0.9" fill="#c05028" opacity="0.9"/><ellipse cx="50.3" cy="7.1" rx="1.1" ry="0.8" fill="#c05028" opacity="0.9"/><ellipse cx="51.9" cy="12.1" rx="1.2" ry="0.9" fill="#a03a1c" opacity="0.9"/><ellipse cx="60.7" cy="30.1" rx="0.8" ry="0.6" fill="#a03a1c" opacity="0.9"/><ellipse cx="19.4" cy="45.2" rx="1.1" ry="0.9" fill="#a03a1c" opacity="0.9"/><ellipse cx="55.9" cy="32.2" rx="1.0" ry="0.8" fill="#c05028" opacity="0.9"/><ellipse cx="7.6" cy="48.2" rx="0.9" ry="0.7" fill="#8a2a14" opacity="0.9"/><ellipse cx="17.3" cy="45.0" rx="0.9" ry="0.7" fill="#8a2a14" opacity="0.9"/><ellipse cx="59.3" cy="26.5" rx="0.8" ry="0.6" fill="#a03a1c" opacity="0.9"/><ellipse cx="12.5" cy="46.0" rx="1.1" ry="0.8" fill="#8a2a14" opacity="0.9"/><ellipse cx="64.2" cy="30.5" rx="0.8" ry="0.6" fill="#c05028" opacity="0.9"/><ellipse cx="62.1" cy="29.8" rx="0.9" ry="0.7" fill="#c05028" opacity="0.9"/><ellipse cx="49.1" cy="1.6" rx="1.1" ry="0.9" fill="#a03a1c" opacity="0.9"/><ellipse cx="16.5" cy="41.9" rx="0.8" ry="0.6" fill="#a03a1c" opacity="0.9"/><ellipse cx="61.9" cy="30.7" rx="0.7" ry="0.5" fill="#8a2a14" opacity="0.9"/><ellipse cx="4.2" cy="31.9" rx="0.9" ry="0.7" fill="#a03a1c" opacity="0.9"/><ellipse cx="60.4" cy="28.1" rx="1.1" ry="0.9" fill="#a03a1c" opacity="0.9"/><ellipse cx="13.5" cy="39.4" rx="0.7" ry="0.6" fill="#c05028" opacity="0.9"/><ellipse cx="18.4" cy="38.6" rx="0.7" ry="0.5" fill="#c05028" opacity="0.9"/><ellipse cx="14.5" cy="38.6" rx="0.7" ry="0.5" fill="#a03a1c" opacity="0.9"/>
</svg>
<rect x="3.0" y="105.0" width="85.3" height="53.6" fill="none" stroke="#151515" stroke-width="0.9"/>
<g font-family="'Liberation Serif', 'Times New Roman', serif" font-size="7.8" fill="#222">
<text x="93.2" y="134.2">0.8</text><text x="93.2" y="147.7">0.4</text><text x="93.2" y="161.6">0</text>
<text transform="translate(109.4,143.8) rotate(-90)" text-anchor="middle" font-size="7.2">km</text>
</g>
<rect x="114.9" y="146.6" width="14.3" height="12.4" fill="#ffffff"/>
<text x="122.05" y="154.8" text-anchor="middle" font-size="10.8" font-family="'Liberation Serif', 'Times New Roman', serif" fill="#1a1a1a" stroke="#1a1a1a" stroke-width="0.2">(a)</text>
</svg>
<rect x="0" y="0" width="133.6" height="161.6" fill="none" stroke="#585858" stroke-width="1"/>
<line x1="-2.6" y1="9.2" x2="0" y2="9.2" stroke="#222" stroke-width="0.8"/>
<line x1="-2.6" y1="79.5" x2="0" y2="79.5" stroke="#222" stroke-width="0.8"/>
<line x1="-2.6" y1="149.8" x2="0" y2="149.8" stroke="#222" stroke-width="0.8"/>
<line x1="11.0" y1="161.6" x2="11.0" y2="164.2" stroke="#222" stroke-width="0.8"/>
<line x1="58.0" y1="161.6" x2="58.0" y2="164.2" stroke="#222" stroke-width="0.8"/>
<line x1="104.4" y1="161.6" x2="104.4" y2="164.2" stroke="#222" stroke-width="0.8"/>
</g>
<g transform="translate(169.4,30.4)">
<svg x="0" y="0" width="133.6" height="161.6" viewBox="0 0 133.6 161.6" overflow="hidden">
<rect width="133.6" height="161.6" fill="#c2c2c2"/>
<rect width="133.6" height="161.6" fill="#000" filter="url(#hs)"/>
<g mask="url(#mR)"><rect x="-60" y="-60" width="253.6" height="281.6" fill="#000" filter="url(#hs2)" transform="rotate(35 66.8 80.8)"/></g>
<path d="M0,95.5 L5,95.8 L2.5,97.6 L0,98 Z" fill="#f2f2f2"/>
<polygon points="88,145 94,145 101,150 109,157.5 112,162 88,162" fill="#ffffff"/>
<use href="#pg" fill="none" stroke="#dadada" stroke-width="2.6" opacity="0.8"/>
<use href="#pg" fill="#5cab3c"/>
<use href="#pg" fill="#000" filter="url(#gn)"/>
<use href="#pg" fill="none" stroke="#141a12" stroke-width="1.0"/>
<g clip-path="url(#clipPoly)">
<polygon points="43.0,36.0 47.0,34.5 51.0,38.0 56.0,44.0 58.0,50.0 62.0,50.5 68.0,53.0 76.0,53.0 81.0,57.0 85.0,63.0 87.0,71.0 85.0,78.0 81.0,83.0 79.0,90.0 75.0,95.0 69.0,97.0 63.0,94.0 59.0,88.0 52.0,87.0 46.0,84.0 43.0,80.0 38.0,77.0 33.0,73.0 32.0,68.0 36.0,64.0 38.0,58.0 37.0,50.0 38.0,43.0" fill="#fff" filter="url(#haloB)"/><polygon points="44.0,39.7 46.4,37.8 48.7,38.9 51.1,42.9 54.2,46.8 55.0,50.7 56.6,55.5 60.5,53.9 63.7,54.7 66.9,57.0 70.8,57.8 74.7,57.0 77.1,58.6 79.5,61.8 81.0,65.7 82.6,71.2 81.0,76.0 77.9,79.1 76.3,83.9 74.7,88.6 71.6,91.7 67.6,92.5 65.3,90.2 62.9,85.4 59.0,83.9 54.2,83.1 51.1,82.3 47.9,79.9 47.1,76.8 46.0,73.6 42.5,73.0 40.5,70.8 41.8,67.5 44.0,64.9 42.4,61.8 41.6,57.0 40.8,52.3 41.6,47.6 42.4,42.9" fill="#fff" filter="url(#coreB)"/><ellipse cx="49" cy="47.6" rx="1.3" ry="1.56" fill="#e39a76" opacity="0.85" filter="url(#blur05)"/><ellipse cx="46.3" cy="61.8" rx="1.1" ry="1.32" fill="#e39a76" opacity="0.85" filter="url(#blur05)"/><ellipse cx="50" cy="75" rx="1.3" ry="1.56" fill="#e39a76" opacity="0.85" filter="url(#blur05)"/>
</g>
<rect x="101.5" y="1.6" width="27.2" height="23.2" fill="#ffffff"/>
<text x="103.0" y="11.1" font-size="9.2" font-family="'Liberation Serif', 'Times New Roman', serif" fill="#1a1a1a" stroke="#1a1a1a" stroke-width="0.25"><tspan font-style="italic">R</tspan><tspan font-size="5.5" font-style="italic" dy="1.5">d</tspan><tspan dy="-1.5">=</tspan>0.5</text>
<text x="104.6" y="22.5" font-size="9.4" font-family="'Liberation Serif', 'Times New Roman', serif" fill="#1a1a1a" stroke="#1a1a1a" stroke-width="0.25">RF<tspan font-size="6.2">NB</tspan></text>
<polyline points="74.6,68.8 3.0,105.0" fill="none" stroke="#1f35d6" stroke-width="1.3" stroke-dasharray="3.2,1.6"/>
<polyline points="80.9,69.3 88.3,105.0" fill="none" stroke="#1f35d6" stroke-width="1.3" stroke-dasharray="3.2,1.6"/>
<rect x="74.6" y="65.0" width="6.3" height="4.3" fill="none" stroke="#1f35d6" stroke-width="1.2"/>
<polygon points="48.0,82.4 49.4,85.7 52.9,86.0 50.2,88.3 51.1,91.8 48.0,89.9 44.9,91.8 45.8,88.3 43.1,86.0 46.6,85.7" fill="#f3ee1c" stroke="#111" stroke-width="1"/>
<path d="M0,104.7 H3.0 V158.6 H88.3 V162.6 H0 Z" fill="#ffffff"/>
<svg x="3.0" y="105.0" width="85.3" height="53.6" viewBox="0 0 85.3 53.6" overflow="hidden">
<rect x="-30" y="-30" width="145.3" height="113.6" fill="#000" filter="url(#insG)" transform="rotate(-40 42.65 26.8)"/><g clip-path="url(#insR)"><rect x="-30" y="-30" width="145.3" height="113.6" fill="#000" filter="url(#insG)" transform="rotate(30 42.65 26.8)"/></g><ellipse cx="13.9" cy="5.4" rx="1.1" ry="0.6" transform="rotate(-25 13.1 6.0)" fill="#dcecc4"/><ellipse cx="13.1" cy="6.0" rx="0.9" ry="0.5" transform="rotate(-25 13.1 6.0)" fill="#243a14"/><ellipse cx="27.7" cy="13.9" rx="1.0" ry="0.6" transform="rotate(-25 26.9 14.5)" fill="#e6f0d4"/><ellipse cx="26.9" cy="14.5" rx="0.8" ry="0.4" transform="rotate(-25 26.9 14.5)" fill="#1a3010"/><ellipse cx="26.6" cy="47.0" rx="1.1" ry="0.6" transform="rotate(-25 25.8 47.6)" fill="#e6f0d4"/><ellipse cx="25.8" cy="47.6" rx="0.9" ry="0.5" transform="rotate(-25 25.8 47.6)" fill="#2a2a18"/><ellipse cx="74.5" cy="29.0" rx="1.2" ry="0.7" transform="rotate(-25 73.7 29.6)" fill="#e6f0d4"/><ellipse cx="73.7" cy="29.6" rx="1.0" ry="0.5" transform="rotate(-25 73.7 29.6)" fill="#243a14"/><ellipse cx="78.9" cy="41.5" rx="1.6" ry="0.9" transform="rotate(-25 78.1 42.1)" fill="#e6f0d4"/><ellipse cx="78.1" cy="42.1" rx="1.3" ry="0.7" transform="rotate(-25 78.1 42.1)" fill="#7a3a28"/><ellipse cx="20.3" cy="3.5" rx="1.5" ry="0.8" transform="rotate(-25 19.5 4.1)" fill="#e6f0d4"/><ellipse cx="19.5" cy="4.1" rx="1.2" ry="0.6" transform="rotate(-25 19.5 4.1)" fill="#1a3010"/><ellipse cx="19.3" cy="4.5" rx="1.5" ry="0.8" transform="rotate(-25 18.5 5.1)" fill="#e6f0d4"/><ellipse cx="18.5" cy="5.1" rx="1.2" ry="0.7" transform="rotate(-25 18.5 5.1)" fill="#2a2a18"/><ellipse cx="71.7" cy="32.8" rx="1.2" ry="0.7" transform="rotate(-25 70.9 33.4)" fill="#e6f0d4"/><ellipse cx="70.9" cy="33.4" rx="1.0" ry="0.5" transform="rotate(-25 70.9 33.4)" fill="#1a3010"/><ellipse cx="35.3" cy="52.5" rx="1.5" ry="0.9" transform="rotate(-25 34.5 53.1)" fill="#cfe8b0"/><ellipse cx="34.5" cy="53.1" rx="1.2" ry="0.7" transform="rotate(-25 34.5 53.1)" fill="#7a3a28"/><ellipse cx="82.6" cy="41.6" rx="1.6" ry="0.9" transform="rotate(-25 81.8 42.2)" fill="#cfe8b0"/><ellipse cx="81.8" cy="42.2" rx="1.3" ry="0.7" transform="rotate(-25 81.8 42.2)" fill="#1a3010"/><ellipse cx="6.4" cy="30.3" rx="1.3" ry="0.7" transform="rotate(-25 5.6 30.9)" fill="#cfe8b0"/><ellipse cx="5.6" cy="30.9" rx="1.0" ry="0.6" transform="rotate(-25 5.6 30.9)" fill="#7a3a28"/><ellipse cx="10.9" cy="37.2" rx="1.5" ry="0.8" transform="rotate(-25 10.1 37.8)" fill="#e6f0d4"/><ellipse cx="10.1" cy="37.8" rx="1.2" ry="0.6" transform="rotate(-25 10.1 37.8)" fill="#243a14"/><ellipse cx="30.1" cy="4.7" rx="1.6" ry="0.9" transform="rotate(-25 29.3 5.3)" fill="#e6f0d4"/><ellipse cx="29.3" cy="5.3" rx="1.3" ry="0.7" transform="rotate(-25 29.3 5.3)" fill="#243a14"/><ellipse cx="23.5" cy="41.0" rx="0.9" ry="0.5" transform="rotate(-25 22.7 41.6)" fill="#cfe8b0"/><ellipse cx="22.7" cy="41.6" rx="0.7" ry="0.4" transform="rotate(-25 22.7 41.6)" fill="#2a2a18"/><ellipse cx="9.8" cy="12.9" rx="0.9" ry="0.5" transform="rotate(-25 9.0 13.5)" fill="#dcecc4"/><ellipse cx="9.0" cy="13.5" rx="0.7" ry="0.4" transform="rotate(-25 9.0 13.5)" fill="#2a2a18"/><ellipse cx="67.2" cy="8.9" rx="1.6" ry="0.9" transform="rotate(-25 66.4 9.5)" fill="#e6f0d4"/><ellipse cx="66.4" cy="9.5" rx="1.3" ry="0.7" transform="rotate(-25 66.4 9.5)" fill="#243a14"/><ellipse cx="37.3" cy="39.0" rx="0.8" ry="0.5" transform="rotate(-25 36.5 39.6)" fill="#e6f0d4"/><ellipse cx="36.5" cy="39.6" rx="0.7" ry="0.4" transform="rotate(-25 36.5 39.6)" fill="#7a3a28"/><ellipse cx="7.8" cy="16.6" rx="1.0" ry="0.6" transform="rotate(-25 7.0 17.2)" fill="#cfe8b0"/><ellipse cx="7.0" cy="17.2" rx="0.8" ry="0.5" transform="rotate(-25 7.0 17.2)" fill="#243a14"/><ellipse cx="60.5" cy="34.1" rx="0.9" ry="0.5" transform="rotate(-25 59.7 34.7)" fill="#e6f0d4"/><ellipse cx="59.7" cy="34.7" rx="0.7" ry="0.4" transform="rotate(-25 59.7 34.7)" fill="#2a2a18"/><ellipse cx="35.0" cy="2.3" rx="1.0" ry="0.6" transform="rotate(-25 34.2 2.9)" fill="#dcecc4"/><ellipse cx="34.2" cy="2.9" rx="0.8" ry="0.4" transform="rotate(-25 34.2 2.9)" fill="#243a14"/><ellipse cx="14.3" cy="33.4" rx="0.8" ry="0.5" transform="rotate(-25 13.5 34.0)" fill="#cfe8b0"/><ellipse cx="13.5" cy="34.0" rx="0.7" ry="0.4" transform="rotate(-25 13.5 34.0)" fill="#243a14"/><ellipse cx="36.9" cy="35.1" rx="1.4" ry="0.8" transform="rotate(-25 36.1 35.7)" fill="#dcecc4"/><ellipse cx="36.1" cy="35.7" rx="1.1" ry="0.6" transform="rotate(-25 36.1 35.7)" fill="#243a14"/><ellipse cx="58.3" cy="38.9" rx="1.4" ry="0.8" transform="rotate(-25 57.5 39.5)" fill="#dcecc4"/><ellipse cx="57.5" cy="39.5" rx="1.2" ry="0.6" transform="rotate(-25 57.5 39.5)" fill="#7a3a28"/><ellipse cx="46.8" cy="2.4" rx="1.3" ry="0.7" transform="rotate(-25 46.0 3.0)" fill="#e6f0d4"/><ellipse cx="46.0" cy="3.0" rx="1.1" ry="0.6" transform="rotate(-25 46.0 3.0)" fill="#7a3a28"/><ellipse cx="6.1" cy="25.7" rx="1.6" ry="0.9" transform="rotate(-25 5.3 26.3)" fill="#e6f0d4"/><ellipse cx="5.3" cy="26.3" rx="1.3" ry="0.7" transform="rotate(-25 5.3 26.3)" fill="#1a3010"/><ellipse cx="26.5" cy="10.1" rx="1.3" ry="0.8" transform="rotate(-25 25.7 10.7)" fill="#dcecc4"/><ellipse cx="25.7" cy="10.7" rx="1.1" ry="0.6" transform="rotate(-25 25.7 10.7)" fill="#7a3a28"/><ellipse cx="80.3" cy="42.8" rx="1.6" ry="0.9" transform="rotate(-25 79.5 43.4)" fill="#cfe8b0"/><ellipse cx="79.5" cy="43.4" rx="1.3" ry="0.7" transform="rotate(-25 79.5 43.4)" fill="#1a3010"/><ellipse cx="67.9" cy="39.9" rx="1.4" ry="0.8" transform="rotate(-25 67.1 40.5)" fill="#dcecc4"/><ellipse cx="67.1" cy="40.5" rx="1.2" ry="0.6" transform="rotate(-25 67.1 40.5)" fill="#7a3a28"/><ellipse cx="61.1" cy="3.6" rx="1.1" ry="0.6" transform="rotate(-25 60.3 4.2)" fill="#cfe8b0"/><ellipse cx="60.3" cy="4.2" rx="0.9" ry="0.5" transform="rotate(-25 60.3 4.2)" fill="#1a3010"/><ellipse cx="63.4" cy="34.3" rx="1.0" ry="0.5" transform="rotate(-25 62.6 34.9)" fill="#cfe8b0"/><ellipse cx="62.6" cy="34.9" rx="0.8" ry="0.4" transform="rotate(-25 62.6 34.9)" fill="#243a14"/><ellipse cx="15.3" cy="18.6" rx="1.6" ry="0.9" transform="rotate(-25 14.5 19.2)" fill="#cfe8b0"/><ellipse cx="14.5" cy="19.2" rx="1.3" ry="0.7" transform="rotate(-25 14.5 19.2)" fill="#243a14"/><ellipse cx="64.1" cy="32.0" rx="1.6" ry="0.9" transform="rotate(-25 63.3 32.6)" fill="#dcecc4"/><ellipse cx="63.3" cy="32.6" rx="1.3" ry="0.7" transform="rotate(-25 63.3 32.6)" fill="#7a3a28"/><ellipse cx="10.2" cy="52.4" rx="1.2" ry="0.7" transform="rotate(-25 9.4 53.0)" fill="#cfe8b0"/><ellipse cx="9.4" cy="53.0" rx="1.0" ry="0.5" transform="rotate(-25 9.4 53.0)" fill="#1a3010"/><ellipse cx="35.2" cy="6.6" rx="0.9" ry="0.5" transform="rotate(-25 34.4 7.2)" fill="#e6f0d4"/><ellipse cx="34.4" cy="7.2" rx="0.7" ry="0.4" transform="rotate(-25 34.4 7.2)" fill="#1a3010"/><ellipse cx="26.2" cy="12.0" rx="1.4" ry="0.8" transform="rotate(-25 25.4 12.6)" fill="#e6f0d4"/><ellipse cx="25.4" cy="12.6" rx="1.2" ry="0.6" transform="rotate(-25 25.4 12.6)" fill="#7a3a28"/><ellipse cx="84.2" cy="40.1" rx="1.4" ry="0.8" transform="rotate(-25 83.4 40.7)" fill="#cfe8b0"/><ellipse cx="83.4" cy="40.7" rx="1.2" ry="0.6" transform="rotate(-25 83.4 40.7)" fill="#2a2a18"/><ellipse cx="8.6" cy="13.4" rx="1.2" ry="0.7" transform="rotate(-25 7.8 14.0)" fill="#dcecc4"/><ellipse cx="7.8" cy="14.0" rx="1.0" ry="0.5" transform="rotate(-25 7.8 14.0)" fill="#7a3a28"/><ellipse cx="16.2" cy="43.5" rx="1.0" ry="0.5" transform="rotate(-25 15.4 44.1)" fill="#e6f0d4"/><ellipse cx="15.4" cy="44.1" rx="0.8" ry="0.4" transform="rotate(-25 15.4 44.1)" fill="#1a3010"/><ellipse cx="17.1" cy="41.1" rx="1.0" ry="0.6" transform="rotate(-25 16.3 41.7)" fill="#cfe8b0"/><ellipse cx="16.3" cy="41.7" rx="0.8" ry="0.4" transform="rotate(-25 16.3 41.7)" fill="#2a2a18"/><ellipse cx="27.2" cy="11.0" rx="1.5" ry="0.9" transform="rotate(-25 26.4 11.6)" fill="#cfe8b0"/><ellipse cx="26.4" cy="11.6" rx="1.2" ry="0.7" transform="rotate(-25 26.4 11.6)" fill="#2a2a18"/><ellipse cx="77.7" cy="24.0" rx="1.6" ry="0.9" transform="rotate(-25 76.9 24.6)" fill="#e6f0d4"/><ellipse cx="76.9" cy="24.6" rx="1.3" ry="0.7" transform="rotate(-25 76.9 24.6)" fill="#1a3010"/><ellipse cx="51.7" cy="8.6" rx="1.1" ry="0.6" transform="rotate(-25 50.9 9.2)" fill="#dcecc4"/><ellipse cx="50.9" cy="9.2" rx="0.9" ry="0.5" transform="rotate(-25 50.9 9.2)" fill="#7a3a28"/><ellipse cx="7.2" cy="23.3" rx="1.2" ry="0.7" transform="rotate(-25 6.4 23.9)" fill="#e6f0d4"/><ellipse cx="6.4" cy="23.9" rx="1.0" ry="0.5" transform="rotate(-25 6.4 23.9)" fill="#1a3010"/><ellipse cx="16.7" cy="36.3" rx="1.5" ry="0.8" transform="rotate(-25 15.9 36.9)" fill="#cfe8b0"/><ellipse cx="15.9" cy="36.9" rx="1.2" ry="0.7" transform="rotate(-25 15.9 36.9)" fill="#7a3a28"/><ellipse cx="80.2" cy="38.9" rx="1.1" ry="0.6" transform="rotate(-25 79.4 39.5)" fill="#e6f0d4"/><ellipse cx="79.4" cy="39.5" rx="0.9" ry="0.5" transform="rotate(-25 79.4 39.5)" fill="#243a14"/><ellipse cx="44.8" cy="25.6" rx="1.6" ry="0.9" transform="rotate(-25 44.0 26.2)" fill="#e6f0d4"/><ellipse cx="44.0" cy="26.2" rx="1.3" ry="0.7" transform="rotate(-25 44.0 26.2)" fill="#1a3010"/><ellipse cx="12.6" cy="30.7" rx="1.4" ry="0.8" transform="rotate(-25 11.8 31.3)" fill="#e6f0d4"/><ellipse cx="11.8" cy="31.3" rx="1.1" ry="0.6" transform="rotate(-25 11.8 31.3)" fill="#7a3a28"/><ellipse cx="65.9" cy="47.1" rx="1.2" ry="0.7" transform="rotate(-25 65.1 47.7)" fill="#dcecc4"/><ellipse cx="65.1" cy="47.7" rx="1.0" ry="0.5" transform="rotate(-25 65.1 47.7)" fill="#7a3a28"/><ellipse cx="64.9" cy="6.4" rx="0.9" ry="0.5" transform="rotate(-25 64.1 7.0)" fill="#cfe8b0"/><ellipse cx="64.1" cy="7.0" rx="0.7" ry="0.4" transform="rotate(-25 64.1 7.0)" fill="#1a3010"/><ellipse cx="39.5" cy="43.1" rx="1.5" ry="0.9" transform="rotate(-25 38.7 43.7)" fill="#dcecc4"/><ellipse cx="38.7" cy="43.7" rx="1.2" ry="0.7" transform="rotate(-25 38.7 43.7)" fill="#1a3010"/><ellipse cx="14.7" cy="3.0" rx="1.4" ry="0.8" transform="rotate(-25 13.9 3.6)" fill="#cfe8b0"/><ellipse cx="13.9" cy="3.6" rx="1.2" ry="0.6" transform="rotate(-25 13.9 3.6)" fill="#7a3a28"/><ellipse cx="79.7" cy="32.9" rx="1.1" ry="0.6" transform="rotate(-25 78.9 33.5)" fill="#cfe8b0"/><ellipse cx="78.9" cy="33.5" rx="0.9" ry="0.5" transform="rotate(-25 78.9 33.5)" fill="#1a3010"/><ellipse cx="47.8" cy="3.3" rx="0.9" ry="0.5" transform="rotate(-25 47.0 3.9)" fill="#cfe8b0"/><ellipse cx="47.0" cy="3.9" rx="0.7" ry="0.4" transform="rotate(-25 47.0 3.9)" fill="#2a2a18"/><ellipse cx="74.9" cy="35.7" rx="1.3" ry="0.7" transform="rotate(-25 74.1 36.3)" fill="#cfe8b0"/><ellipse cx="74.1" cy="36.3" rx="1.0" ry="0.6" transform="rotate(-25 74.1 36.3)" fill="#1a3010"/><ellipse cx="-0.2" cy="16.7" rx="0.9" ry="0.5" transform="rotate(-25 -1.0 17.3)" fill="#dcecc4"/><ellipse cx="-1.0" cy="17.3" rx="0.7" ry="0.4" transform="rotate(-25 -1.0 17.3)" fill="#7a3a28"/><ellipse cx="47.8" cy="7.7" rx="1.2" ry="0.7" transform="rotate(-25 47.0 8.3)" fill="#e6f0d4"/><ellipse cx="47.0" cy="8.3" rx="1.0" ry="0.5" transform="rotate(-25 47.0 8.3)" fill="#1a3010"/><ellipse cx="80.7" cy="24.0" rx="1.0" ry="0.5" transform="rotate(-25 79.9 24.6)" fill="#dcecc4"/><ellipse cx="79.9" cy="24.6" rx="0.8" ry="0.4" transform="rotate(-25 79.9 24.6)" fill="#1a3010"/><ellipse cx="4.0" cy="13.7" rx="1.6" ry="0.9" transform="rotate(-25 3.2 14.3)" fill="#cfe8b0"/><ellipse cx="3.2" cy="14.3" rx="1.3" ry="0.7" transform="rotate(-25 3.2 14.3)" fill="#243a14"/><ellipse cx="74.5" cy="21.3" rx="1.4" ry="0.8" transform="rotate(-25 73.7 21.9)" fill="#dcecc4"/><ellipse cx="73.7" cy="21.9" rx="1.1" ry="0.6" transform="rotate(-25 73.7 21.9)" fill="#2a2a18"/><ellipse cx="26.4" cy="8.0" rx="1.6" ry="0.9" transform="rotate(-25 25.6 8.6)" fill="#cfe8b0"/><ellipse cx="25.6" cy="8.6" rx="1.3" ry="0.7" transform="rotate(-25 25.6 8.6)" fill="#7a3a28"/><ellipse cx="63.6" cy="52.9" rx="1.3" ry="0.7" transform="rotate(-25 62.8 53.5)" fill="#e6f0d4"/><ellipse cx="62.8" cy="53.5" rx="1.0" ry="0.5" transform="rotate(-25 62.8 53.5)" fill="#243a14"/><ellipse cx="20.7" cy="42.8" rx="0.9" ry="0.5" transform="rotate(-25 19.9 43.4)" fill="#e6f0d4"/><ellipse cx="19.9" cy="43.4" rx="0.7" ry="0.4" transform="rotate(-25 19.9 43.4)" fill="#243a14"/><ellipse cx="47.6" cy="23.6" rx="0.9" ry="0.5" transform="rotate(-25 46.8 24.2)" fill="#dcecc4"/><ellipse cx="46.8" cy="24.2" rx="0.7" ry="0.4" transform="rotate(-25 46.8 24.2)" fill="#7a3a28"/><ellipse cx="69.3" cy="20.6" rx="1.5" ry="0.8" transform="rotate(-25 68.5 21.2)" fill="#e6f0d4"/><ellipse cx="68.5" cy="21.2" rx="1.2" ry="0.7" transform="rotate(-25 68.5 21.2)" fill="#243a14"/><ellipse cx="57.4" cy="31.1" rx="1.6" ry="0.9" transform="rotate(-25 56.6 31.7)" fill="#cfe8b0"/><ellipse cx="56.6" cy="31.7" rx="1.3" ry="0.7" transform="rotate(-25 56.6 31.7)" fill="#2a2a18"/><ellipse cx="37.9" cy="45.7" rx="1.3" ry="0.7" transform="rotate(-25 37.1 46.3)" fill="#cfe8b0"/><ellipse cx="37.1" cy="46.3" rx="1.0" ry="0.6" transform="rotate(-25 37.1 46.3)" fill="#2a2a18"/><ellipse cx="15.5" cy="2.3" rx="1.1" ry="0.6" transform="rotate(-25 14.7 2.9)" fill="#cfe8b0"/><ellipse cx="14.7" cy="2.9" rx="0.9" ry="0.5" transform="rotate(-25 14.7 2.9)" fill="#243a14"/><ellipse cx="55.5" cy="44.1" rx="1.3" ry="0.7" transform="rotate(-25 54.7 44.7)" fill="#cfe8b0"/><ellipse cx="54.7" cy="44.7" rx="1.0" ry="0.6" transform="rotate(-25 54.7 44.7)" fill="#243a14"/><ellipse cx="57.0" cy="13.5" rx="1.5" ry="0.8" transform="rotate(-25 56.2 14.1)" fill="#cfe8b0"/><ellipse cx="56.2" cy="14.1" rx="1.2" ry="0.6" transform="rotate(-25 56.2 14.1)" fill="#243a14"/><ellipse cx="51.0" cy="27.2" rx="1.2" ry="0.7" transform="rotate(-25 50.2 27.8)" fill="#cfe8b0"/><ellipse cx="50.2" cy="27.8" rx="1.0" ry="0.5" transform="rotate(-25 50.2 27.8)" fill="#1a3010"/><ellipse cx="47.6" cy="10.0" rx="1.1" ry="0.6" transform="rotate(-25 46.8 10.6)" fill="#cfe8b0"/><ellipse cx="46.8" cy="10.6" rx="0.9" ry="0.5" transform="rotate(-25 46.8 10.6)" fill="#2a2a18"/><ellipse cx="5.8" cy="41.9" rx="1.2" ry="0.7" transform="rotate(-25 5.0 42.5)" fill="#e6f0d4"/><ellipse cx="5.0" cy="42.5" rx="1.0" ry="0.5" transform="rotate(-25 5.0 42.5)" fill="#243a14"/><ellipse cx="12.5" cy="10.7" rx="1.6" ry="0.9" transform="rotate(-25 11.7 11.3)" fill="#dcecc4"/><ellipse cx="11.7" cy="11.3" rx="1.3" ry="0.7" transform="rotate(-25 11.7 11.3)" fill="#2a2a18"/><ellipse cx="75.4" cy="40.4" rx="0.9" ry="0.5" transform="rotate(-25 74.6 41.0)" fill="#cfe8b0"/><ellipse cx="74.6" cy="41.0" rx="0.8" ry="0.4" transform="rotate(-25 74.6 41.0)" fill="#1a3010"/><ellipse cx="52.9" cy="35.3" rx="1.3" ry="0.7" transform="rotate(-25 52.1 35.9)" fill="#e6f0d4"/><ellipse cx="52.1" cy="35.9" rx="1.1" ry="0.6" transform="rotate(-25 52.1 35.9)" fill="#2a2a18"/><ellipse cx="59.1" cy="0.2" rx="1.6" ry="0.9" transform="rotate(-25 58.3 0.8)" fill="#e6f0d4"/><ellipse cx="58.3" cy="0.8" rx="1.3" ry="0.7" transform="rotate(-25 58.3 0.8)" fill="#1a3010"/><ellipse cx="57.4" cy="9.3" rx="1.5" ry="0.8" transform="rotate(-25 56.6 9.9)" fill="#dcecc4"/><ellipse cx="56.6" cy="9.9" rx="1.2" ry="0.6" transform="rotate(-25 56.6 9.9)" fill="#1a3010"/><ellipse cx="75.5" cy="3.8" rx="1.3" ry="0.7" transform="rotate(-25 74.7 4.4)" fill="#dcecc4"/><ellipse cx="74.7" cy="4.4" rx="1.0" ry="0.6" transform="rotate(-25 74.7 4.4)" fill="#2a2a18"/><ellipse cx="10.8" cy="8.2" rx="0.8" ry="0.5" transform="rotate(-25 10.0 8.8)" fill="#cfe8b0"/><ellipse cx="10.0" cy="8.8" rx="0.7" ry="0.4" transform="rotate(-25 10.0 8.8)" fill="#7a3a28"/><ellipse cx="55.0" cy="5.4" rx="1.6" ry="0.9" transform="rotate(-25 54.2 6.0)" fill="#e6f0d4"/><ellipse cx="54.2" cy="6.0" rx="1.3" ry="0.7" transform="rotate(-25 54.2 6.0)" fill="#2a2a18"/><ellipse cx="9.4" cy="29.6" rx="1.3" ry="0.7" transform="rotate(-25 8.6 30.2)" fill="#cfe8b0"/><ellipse cx="8.6" cy="30.2" rx="1.0" ry="0.6" transform="rotate(-25 8.6 30.2)" fill="#1a3010"/><ellipse cx="25.4" cy="44.0" rx="0.9" ry="0.5" transform="rotate(-25 24.6 44.6)" fill="#cfe8b0"/><ellipse cx="24.6" cy="44.6" rx="0.7" ry="0.4" transform="rotate(-25 24.6 44.6)" fill="#243a14"/><ellipse cx="51.4" cy="9.5" rx="1.1" ry="0.6" transform="rotate(-25 50.6 10.1)" fill="#e6f0d4"/><ellipse cx="50.6" cy="10.1" rx="0.9" ry="0.5" transform="rotate(-25 50.6 10.1)" fill="#1a3010"/><ellipse cx="74.3" cy="17.4" rx="1.7" ry="0.9" transform="rotate(-25 73.5 18.0)" fill="#dcecc4"/><ellipse cx="73.5" cy="18.0" rx="1.4" ry="0.7" transform="rotate(-25 73.5 18.0)" fill="#1a3010"/><ellipse cx="59.4" cy="32.4" rx="1.4" ry="0.8" transform="rotate(-25 58.6 33.0)" fill="#e6f0d4"/><ellipse cx="58.6" cy="33.0" rx="1.2" ry="0.6" transform="rotate(-25 58.6 33.0)" fill="#1a3010"/><ellipse cx="62.4" cy="9.2" rx="1.6" ry="0.9" transform="rotate(-25 61.6 9.8)" fill="#cfe8b0"/><ellipse cx="61.6" cy="9.8" rx="1.3" ry="0.7" transform="rotate(-25 61.6 9.8)" fill="#1a3010"/><ellipse cx="37.7" cy="44.6" rx="1.4" ry="0.8" transform="rotate(-25 36.9 45.2)" fill="#dcecc4"/><ellipse cx="36.9" cy="45.2" rx="1.2" ry="0.6" transform="rotate(-25 36.9 45.2)" fill="#243a14"/><ellipse cx="56.2" cy="25.4" rx="1.2" ry="0.7" transform="rotate(-25 55.4 26.0)" fill="#e6f0d4"/><ellipse cx="55.4" cy="26.0" rx="1.0" ry="0.5" transform="rotate(-25 55.4 26.0)" fill="#2a2a18"/><ellipse cx="74.4" cy="40.4" rx="1.3" ry="0.7" transform="rotate(-25 73.6 41.0)" fill="#e6f0d4"/><ellipse cx="73.6" cy="41.0" rx="1.0" ry="0.5" transform="rotate(-25 73.6 41.0)" fill="#243a14"/><ellipse cx="49.8" cy="18.3" rx="0.9" ry="0.5" transform="rotate(-25 49.0 18.9)" fill="#cfe8b0"/><ellipse cx="49.0" cy="18.9" rx="0.8" ry="0.4" transform="rotate(-25 49.0 18.9)" fill="#2a2a18"/><ellipse cx="58.8" cy="34.0" rx="0.9" ry="0.5" transform="rotate(-25 58.0 34.6)" fill="#e6f0d4"/><ellipse cx="58.0" cy="34.6" rx="0.7" ry="0.4" transform="rotate(-25 58.0 34.6)" fill="#243a14"/><ellipse cx="60.8" cy="2.4" rx="1.6" ry="0.9" transform="rotate(-25 60.0 3.0)" fill="#cfe8b0"/><ellipse cx="60.0" cy="3.0" rx="1.3" ry="0.7" transform="rotate(-25 60.0 3.0)" fill="#1a3010"/><ellipse cx="9.1" cy="10.4" rx="0.9" ry="0.5" transform="rotate(-25 8.3 11.0)" fill="#cfe8b0"/><ellipse cx="8.3" cy="11.0" rx="0.7" ry="0.4" transform="rotate(-25 8.3 11.0)" fill="#243a14"/><ellipse cx="34.9" cy="47.2" rx="1.2" ry="0.7" transform="rotate(-25 34.1 47.8)" fill="#cfe8b0"/><ellipse cx="34.1" cy="47.8" rx="1.0" ry="0.5" transform="rotate(-25 34.1 47.8)" fill="#2a2a18"/><ellipse cx="21.5" cy="15.2" rx="0.8" ry="0.5" transform="rotate(-25 20.7 15.8)" fill="#e6f0d4"/><ellipse cx="20.7" cy="15.8" rx="0.7" ry="0.4" transform="rotate(-25 20.7 15.8)" fill="#243a14"/><ellipse cx="52.0" cy="42.2" rx="1.5" ry="0.9" transform="rotate(-25 51.2 42.8)" fill="#dcecc4"/><ellipse cx="51.2" cy="42.8" rx="1.3" ry="0.7" transform="rotate(-25 51.2 42.8)" fill="#1a3010"/><ellipse cx="27.0" cy="42.2" rx="1.3" ry="0.8" transform="rotate(-25 26.2 42.8)" fill="#e6f0d4"/><ellipse cx="26.2" cy="42.8" rx="1.1" ry="0.6" transform="rotate(-25 26.2 42.8)" fill="#2a2a18"/><ellipse cx="35.3" cy="38.1" rx="1.4" ry="0.8" transform="rotate(-25 34.5 38.7)" fill="#cfe8b0"/><ellipse cx="34.5" cy="38.7" rx="1.2" ry="0.6" transform="rotate(-25 34.5 38.7)" fill="#1a3010"/><ellipse cx="33.8" cy="46.6" rx="1.5" ry="0.8" transform="rotate(-25 33.0 47.2)" fill="#e6f0d4"/><ellipse cx="33.0" cy="47.2" rx="1.2" ry="0.6" transform="rotate(-25 33.0 47.2)" fill="#243a14"/><ellipse cx="77.0" cy="44.9" rx="1.6" ry="0.9" transform="rotate(-25 76.2 45.5)" fill="#e6f0d4"/><ellipse cx="76.2" cy="45.5" rx="1.3" ry="0.7" transform="rotate(-25 76.2 45.5)" fill="#243a14"/><ellipse cx="46.9" cy="26.4" rx="1.4" ry="0.8" transform="rotate(-25 46.1 27.0)" fill="#cfe8b0"/><ellipse cx="46.1" cy="27.0" rx="1.1" ry="0.6" transform="rotate(-25 46.1 27.0)" fill="#243a14"/><ellipse cx="81.0" cy="28.4" rx="1.1" ry="0.6" transform="rotate(-25 80.2 29.0)" fill="#cfe8b0"/><ellipse cx="80.2" cy="29.0" rx="0.9" ry="0.5" transform="rotate(-25 80.2 29.0)" fill="#2a2a18"/><ellipse cx="56.5" cy="22.7" rx="1.0" ry="0.6" transform="rotate(-25 55.7 23.3)" fill="#dcecc4"/><ellipse cx="55.7" cy="23.3" rx="0.8" ry="0.4" transform="rotate(-25 55.7 23.3)" fill="#7a3a28"/><ellipse cx="63.2" cy="34.9" rx="1.6" ry="0.9" transform="rotate(-25 62.4 35.5)" fill="#dcecc4"/><ellipse cx="62.4" cy="35.5" rx="1.3" ry="0.7" transform="rotate(-25 62.4 35.5)" fill="#2a2a18"/><ellipse cx="60.9" cy="-0.3" rx="1.5" ry="0.8" transform="rotate(-25 60.1 0.3)" fill="#cfe8b0"/><ellipse cx="60.1" cy="0.3" rx="1.2" ry="0.7" transform="rotate(-25 60.1 0.3)" fill="#7a3a28"/><ellipse cx="41.8" cy="37.7" rx="1.0" ry="0.6" transform="rotate(-25 41.0 38.3)" fill="#cfe8b0"/><ellipse cx="41.0" cy="38.3" rx="0.8" ry="0.4" transform="rotate(-25 41.0 38.3)" fill="#1a3010"/><ellipse cx="78.7" cy="36.9" rx="1.2" ry="0.7" transform="rotate(-25 77.9 37.5)" fill="#cfe8b0"/><ellipse cx="77.9" cy="37.5" rx="1.0" ry="0.5" transform="rotate(-25 77.9 37.5)" fill="#1a3010"/><ellipse cx="30.7" cy="6.7" rx="1.4" ry="0.8" transform="rotate(-25 29.9 7.3)" fill="#dcecc4"/><ellipse cx="29.9" cy="7.3" rx="1.2" ry="0.6" transform="rotate(-25 29.9 7.3)" fill="#7a3a28"/><ellipse cx="59.1" cy="41.2" rx="1.6" ry="0.9" transform="rotate(-25 58.3 41.8)" fill="#dcecc4"/><ellipse cx="58.3" cy="41.8" rx="1.3" ry="0.7" transform="rotate(-25 58.3 41.8)" fill="#1a3010"/><ellipse cx="61.8" cy="30.1" rx="1.7" ry="0.9" transform="rotate(-25 61.0 30.7)" fill="#dcecc4"/><ellipse cx="61.0" cy="30.7" rx="1.3" ry="0.7" transform="rotate(-25 61.0 30.7)" fill="#243a14"/><ellipse cx="7.6" cy="52.9" rx="1.1" ry="0.6" transform="rotate(-25 6.8 53.5)" fill="#e6f0d4"/><ellipse cx="6.8" cy="53.5" rx="0.9" ry="0.5" transform="rotate(-25 6.8 53.5)" fill="#7a3a28"/><ellipse cx="54.7" cy="14.4" rx="1.2" ry="0.7" transform="rotate(-25 53.9 15.0)" fill="#dcecc4"/><ellipse cx="53.9" cy="15.0" rx="0.9" ry="0.5" transform="rotate(-25 53.9 15.0)" fill="#2a2a18"/><ellipse cx="58.0" cy="0.1" rx="1.4" ry="0.8" transform="rotate(-25 57.2 0.7)" fill="#cfe8b0"/><ellipse cx="57.2" cy="0.7" rx="1.1" ry="0.6" transform="rotate(-25 57.2 0.7)" fill="#2a2a18"/><ellipse cx="16.9" cy="45.9" rx="0.9" ry="0.5" transform="rotate(-25 16.1 46.5)" fill="#e6f0d4"/><ellipse cx="16.1" cy="46.5" rx="0.7" ry="0.4" transform="rotate(-25 16.1 46.5)" fill="#7a3a28"/><ellipse cx="77.4" cy="26.7" rx="1.2" ry="0.7" transform="rotate(-25 76.6 27.3)" fill="#e6f0d4"/><ellipse cx="76.6" cy="27.3" rx="1.0" ry="0.5" transform="rotate(-25 76.6 27.3)" fill="#2a2a18"/><ellipse cx="61.2" cy="40.3" rx="1.5" ry="0.8" transform="rotate(-25 60.4 40.9)" fill="#dcecc4"/><ellipse cx="60.4" cy="40.9" rx="1.2" ry="0.7" transform="rotate(-25 60.4 40.9)" fill="#1a3010"/><ellipse cx="68.4" cy="38.5" rx="1.6" ry="0.9" transform="rotate(-25 67.6 39.1)" fill="#cfe8b0"/><ellipse cx="67.6" cy="39.1" rx="1.3" ry="0.7" transform="rotate(-25 67.6 39.1)" fill="#7a3a28"/><ellipse cx="56.2" cy="22.9" rx="1.3" ry="0.7" transform="rotate(-25 55.4 23.5)" fill="#dcecc4"/><ellipse cx="55.4" cy="23.5" rx="1.0" ry="0.5" transform="rotate(-25 55.4 23.5)" fill="#1a3010"/><ellipse cx="7.9" cy="10.3" rx="1.6" ry="0.9" transform="rotate(-25 7.1 10.9)" fill="#e6f0d4"/><ellipse cx="7.1" cy="10.9" rx="1.3" ry="0.7" transform="rotate(-25 7.1 10.9)" fill="#2a2a18"/><ellipse cx="23.6" cy="23.6" rx="1.4" ry="0.8" transform="rotate(-25 22.8 24.2)" fill="#e6f0d4"/><ellipse cx="22.8" cy="24.2" rx="1.2" ry="0.6" transform="rotate(-25 22.8 24.2)" fill="#1a3010"/><ellipse cx="55.3" cy="30.9" rx="0.9" ry="0.5" transform="rotate(-25 54.5 31.5)" fill="#e6f0d4"/><ellipse cx="54.5" cy="31.5" rx="0.8" ry="0.4" transform="rotate(-25 54.5 31.5)" fill="#2a2a18"/><ellipse cx="57.9" cy="29.7" rx="1.2" ry="0.7" transform="rotate(-25 57.1 30.3)" fill="#cfe8b0"/><ellipse cx="57.1" cy="30.3" rx="1.0" ry="0.5" transform="rotate(-25 57.1 30.3)" fill="#7a3a28"/><ellipse cx="41.7" cy="22.2" rx="0.9" ry="0.5" transform="rotate(-25 40.9 22.8)" fill="#e6f0d4"/><ellipse cx="40.9" cy="22.8" rx="0.7" ry="0.4" transform="rotate(-25 40.9 22.8)" fill="#243a14"/><ellipse cx="15.4" cy="9.2" rx="1.0" ry="0.6" transform="rotate(-25 14.6 9.8)" fill="#dcecc4"/><ellipse cx="14.6" cy="9.8" rx="0.8" ry="0.4" transform="rotate(-25 14.6 9.8)" fill="#2a2a18"/><ellipse cx="22.3" cy="31.0" rx="1.6" ry="0.9" transform="rotate(-25 21.5 31.6)" fill="#e6f0d4"/><ellipse cx="21.5" cy="31.6" rx="1.3" ry="0.7" transform="rotate(-25 21.5 31.6)" fill="#1a3010"/><ellipse cx="3.8" cy="30.1" rx="1.5" ry="0.8" transform="rotate(-25 3.0 30.7)" fill="#e6f0d4"/><ellipse cx="3.0" cy="30.7" rx="1.2" ry="0.6" transform="rotate(-25 3.0 30.7)" fill="#243a14"/><ellipse cx="84.5" cy="44.3" rx="1.2" ry="0.7" transform="rotate(-25 83.7 44.9)" fill="#cfe8b0"/><ellipse cx="83.7" cy="44.9" rx="1.0" ry="0.5" transform="rotate(-25 83.7 44.9)" fill="#243a14"/><ellipse cx="6.7" cy="6.4" rx="0.9" ry="0.5" transform="rotate(-25 5.9 7.0)" fill="#cfe8b0"/><ellipse cx="5.9" cy="7.0" rx="0.8" ry="0.4" transform="rotate(-25 5.9 7.0)" fill="#243a14"/><ellipse cx="34.8" cy="5.3" rx="1.5" ry="0.9" transform="rotate(-25 34.0 5.9)" fill="#e6f0d4"/><ellipse cx="34.0" cy="5.9" rx="1.2" ry="0.7" transform="rotate(-25 34.0 5.9)" fill="#7a3a28"/><ellipse cx="23.4" cy="44.5" rx="1.2" ry="0.7" transform="rotate(-25 22.6 45.1)" fill="#cfe8b0"/><ellipse cx="22.6" cy="45.1" rx="1.0" ry="0.5" transform="rotate(-25 22.6 45.1)" fill="#243a14"/>
</svg>
<rect x="3.0" y="105.0" width="85.3" height="53.6" fill="none" stroke="#151515" stroke-width="0.9"/>
<g font-family="'Liberation Serif', 'Times New Roman', serif" font-size="7.8" fill="#222">
<text x="93.2" y="134.2">0.8</text><text x="93.2" y="147.7">0.4</text><text x="93.2" y="161.6">0</text>
<text transform="translate(109.4,143.8) rotate(-90)" text-anchor="middle" font-size="7.2">km</text>
</g>
<rect x="114.9" y="146.6" width="14.3" height="12.4" fill="#ffffff"/>
<text x="122.05" y="154.8" text-anchor="middle" font-size="10.8" font-family="'Liberation Serif', 'Times New Roman', serif" fill="#1a1a1a" stroke="#1a1a1a" stroke-width="0.2">(b)</text>
</svg>
<rect x="0" y="0" width="133.6" height="161.6" fill="none" stroke="#585858" stroke-width="1"/>
<line x1="-2.6" y1="9.2" x2="0" y2="9.2" stroke="#222" stroke-width="0.8"/>
<line x1="-2.6" y1="79.5" x2="0" y2="79.5" stroke="#222" stroke-width="0.8"/>
<line x1="-2.6" y1="149.8" x2="0" y2="149.8" stroke="#222" stroke-width="0.8"/>
<line x1="11.0" y1="161.6" x2="11.0" y2="164.2" stroke="#222" stroke-width="0.8"/>
<line x1="58.0" y1="161.6" x2="58.0" y2="164.2" stroke="#222" stroke-width="0.8"/>
<line x1="104.4" y1="161.6" x2="104.4" y2="164.2" stroke="#222" stroke-width="0.8"/>
</g>
<g transform="translate(306.6,30.4)">
<svg x="0" y="0" width="133.6" height="161.6" viewBox="0 0 133.6 161.6" overflow="hidden">
<rect width="133.6" height="161.6" fill="#c2c2c2"/>
<rect width="133.6" height="161.6" fill="#000" filter="url(#hs)"/>
<g mask="url(#mR)"><rect x="-60" y="-60" width="253.6" height="281.6" fill="#000" filter="url(#hs2)" transform="rotate(35 66.8 80.8)"/></g>
<path d="M0,95.5 L5,95.8 L2.5,97.6 L0,98 Z" fill="#f2f2f2"/>
<polygon points="88,145 94,145 101,150 109,157.5 112,162 88,162" fill="#ffffff"/>
<use href="#pg" fill="none" stroke="#dadada" stroke-width="2.6" opacity="0.8"/>
<use href="#pg" fill="#5cab3c"/>
<use href="#pg" fill="#000" filter="url(#gn)"/>
<use href="#pg" fill="none" stroke="#141a12" stroke-width="1.0"/>
<g clip-path="url(#clipPoly)">
<polygon points="43.0,36.0 47.0,34.5 51.0,38.0 56.0,44.0 58.0,50.0 62.0,50.5 68.0,53.0 76.0,53.0 81.0,57.0 85.0,63.0 87.0,71.0 85.0,78.0 81.0,83.0 79.0,90.0 75.0,95.0 69.0,97.0 63.0,94.0 59.0,88.0 52.0,87.0 46.0,84.0 43.0,80.0 38.0,77.0 33.0,73.0 32.0,68.0 36.0,64.0 38.0,58.0 37.0,50.0 38.0,43.0" fill="#fff" filter="url(#haloC)"/><polygon points="44.0,39.7 46.4,37.8 48.7,38.9 51.1,42.9 54.2,46.8 55.0,50.7 56.6,55.5 60.5,53.9 63.7,54.7 66.9,57.0 70.8,57.8 74.7,57.0 77.1,58.6 79.5,61.8 81.0,65.7 82.6,71.2 81.0,76.0 77.9,79.1 76.3,83.9 74.7,88.6 71.6,91.7 67.6,92.5 65.3,90.2 62.9,85.4 59.0,83.9 54.2,83.1 51.1,82.3 47.9,79.9 47.1,76.8 46.0,73.6 42.5,73.0 40.5,70.8 41.8,67.5 44.0,64.9 42.4,61.8 41.6,57.0 40.8,52.3 41.6,47.6 42.4,42.9" fill="#fff" filter="url(#coreC)"/>
</g>
<rect x="101.5" y="1.6" width="27.2" height="23.2" fill="#ffffff"/>
<text x="103.0" y="11.1" font-size="9.2" font-family="'Liberation Serif', 'Times New Roman', serif" fill="#1a1a1a" stroke="#1a1a1a" stroke-width="0.25"><tspan font-style="italic">R</tspan><tspan font-size="5.5" font-style="italic" dy="1.5">d</tspan><tspan dy="-1.5">=</tspan>0.9</text>
<text x="104.6" y="22.5" font-size="9.4" font-family="'Liberation Serif', 'Times New Roman', serif" fill="#1a1a1a" stroke="#1a1a1a" stroke-width="0.25">RF<tspan font-size="6.2">NB</tspan></text>
<polyline points="74.6,68.8 3.0,105.0" fill="none" stroke="#1f35d6" stroke-width="1.3" stroke-dasharray="3.2,1.6"/>
<polyline points="80.9,69.3 88.3,105.0" fill="none" stroke="#1f35d6" stroke-width="1.3" stroke-dasharray="3.2,1.6"/>
<rect x="74.6" y="65.0" width="6.3" height="4.3" fill="none" stroke="#1f35d6" stroke-width="1.2"/>
<polygon points="48.0,82.4 49.4,85.7 52.9,86.0 50.2,88.3 51.1,91.8 48.0,89.9 44.9,91.8 45.8,88.3 43.1,86.0 46.6,85.7" fill="#f3ee1c" stroke="#111" stroke-width="1"/>
<path d="M0,104.7 H3.0 V158.6 H88.3 V162.6 H0 Z" fill="#ffffff"/>
<svg x="3.0" y="105.0" width="85.3" height="53.6" viewBox="0 0 85.3 53.6" overflow="hidden">
<rect x="-30" y="-30" width="145.3" height="113.6" fill="#000" filter="url(#insG)" transform="rotate(-40 42.65 26.8)"/><g clip-path="url(#insR)"><rect x="-30" y="-30" width="145.3" height="113.6" fill="#000" filter="url(#insG)" transform="rotate(30 42.65 26.8)"/></g><ellipse cx="63.6" cy="47.4" rx="1.3" ry="0.7" transform="rotate(-25 62.8 48.0)" fill="#8ad468"/><ellipse cx="62.8" cy="48.0" rx="1.1" ry="0.6" transform="rotate(-25 62.8 48.0)" fill="#224e16"/><ellipse cx="60.0" cy="3.0" rx="1.2" ry="0.7" transform="rotate(-25 59.2 3.6)" fill="#b0e490"/><ellipse cx="59.2" cy="3.6" rx="1.0" ry="0.5" transform="rotate(-25 59.2 3.6)" fill="#2a3a18"/><ellipse cx="30.9" cy="14.3" rx="1.2" ry="0.6" transform="rotate(-25 30.1 14.9)" fill="#b0e490"/><ellipse cx="30.1" cy="14.9" rx="0.9" ry="0.5" transform="rotate(-25 30.1 14.9)" fill="#1e4a14"/><ellipse cx="4.8" cy="14.3" rx="1.2" ry="0.6" transform="rotate(-25 4.0 14.9)" fill="#b0e490"/><ellipse cx="4.0" cy="14.9" rx="0.9" ry="0.5" transform="rotate(-25 4.0 14.9)" fill="#1e4a14"/><ellipse cx="64.2" cy="37.8" rx="1.3" ry="0.7" transform="rotate(-25 63.4 38.4)" fill="#b0e490"/><ellipse cx="63.4" cy="38.4" rx="1.1" ry="0.6" transform="rotate(-25 63.4 38.4)" fill="#1e4a14"/><ellipse cx="15.1" cy="27.1" rx="1.0" ry="0.5" transform="rotate(-25 14.3 27.7)" fill="#9ade78"/><ellipse cx="14.3" cy="27.7" rx="0.8" ry="0.4" transform="rotate(-25 14.3 27.7)" fill="#2a3a18"/><ellipse cx="75.5" cy="47.3" rx="0.9" ry="0.5" transform="rotate(-25 74.7 47.9)" fill="#8ad468"/><ellipse cx="74.7" cy="47.9" rx="0.8" ry="0.4" transform="rotate(-25 74.7 47.9)" fill="#1e4a14"/><ellipse cx="34.2" cy="41.4" rx="1.3" ry="0.7" transform="rotate(-25 33.4 42.0)" fill="#b0e490"/><ellipse cx="33.4" cy="42.0" rx="1.0" ry="0.6" transform="rotate(-25 33.4 42.0)" fill="#224e16"/><ellipse cx="55.3" cy="24.6" rx="1.6" ry="0.9" transform="rotate(-25 54.5 25.2)" fill="#9ade78"/><ellipse cx="54.5" cy="25.2" rx="1.3" ry="0.7" transform="rotate(-25 54.5 25.2)" fill="#2a3a18"/><ellipse cx="44.4" cy="10.5" rx="1.0" ry="0.6" transform="rotate(-25 43.6 11.1)" fill="#8ad468"/><ellipse cx="43.6" cy="11.1" rx="0.8" ry="0.4" transform="rotate(-25 43.6 11.1)" fill="#2a3a18"/><ellipse cx="57.3" cy="29.9" rx="1.6" ry="0.9" transform="rotate(-25 56.5 30.5)" fill="#b0e490"/><ellipse cx="56.5" cy="30.5" rx="1.3" ry="0.7" transform="rotate(-25 56.5 30.5)" fill="#1e4a14"/><ellipse cx="55.1" cy="22.6" rx="0.9" ry="0.5" transform="rotate(-25 54.3 23.2)" fill="#b0e490"/><ellipse cx="54.3" cy="23.2" rx="0.7" ry="0.4" transform="rotate(-25 54.3 23.2)" fill="#224e16"/><ellipse cx="58.0" cy="-3.1" rx="1.0" ry="0.5" transform="rotate(-25 57.2 -2.5)" fill="#9ade78"/><ellipse cx="57.2" cy="-2.5" rx="0.8" ry="0.4" transform="rotate(-25 57.2 -2.5)" fill="#1e4a14"/><ellipse cx="9.2" cy="7.2" rx="1.3" ry="0.7" transform="rotate(-25 8.4 7.8)" fill="#b0e490"/><ellipse cx="8.4" cy="7.8" rx="1.0" ry="0.6" transform="rotate(-25 8.4 7.8)" fill="#1e4a14"/><ellipse cx="9.5" cy="8.5" rx="0.9" ry="0.5" transform="rotate(-25 8.7 9.1)" fill="#8ad468"/><ellipse cx="8.7" cy="9.1" rx="0.7" ry="0.4" transform="rotate(-25 8.7 9.1)" fill="#1e4a14"/><ellipse cx="54.3" cy="13.7" rx="1.4" ry="0.8" transform="rotate(-25 53.5 14.3)" fill="#9ade78"/><ellipse cx="53.5" cy="14.3" rx="1.1" ry="0.6" transform="rotate(-25 53.5 14.3)" fill="#1e4a14"/><ellipse cx="80.7" cy="41.4" rx="1.2" ry="0.7" transform="rotate(-25 79.9 42.0)" fill="#9ade78"/><ellipse cx="79.9" cy="42.0" rx="1.0" ry="0.5" transform="rotate(-25 79.9 42.0)" fill="#2a3a18"/><ellipse cx="55.6" cy="11.6" rx="0.9" ry="0.5" transform="rotate(-25 54.8 12.2)" fill="#8ad468"/><ellipse cx="54.8" cy="12.2" rx="0.7" ry="0.4" transform="rotate(-25 54.8 12.2)" fill="#2a3a18"/><ellipse cx="81.4" cy="36.6" rx="1.3" ry="0.8" transform="rotate(-25 80.6 37.2)" fill="#8ad468"/><ellipse cx="80.6" cy="37.2" rx="1.1" ry="0.6" transform="rotate(-25 80.6 37.2)" fill="#1e4a14"/><ellipse cx="61.6" cy="7.7" rx="1.4" ry="0.8" transform="rotate(-25 60.8 8.3)" fill="#8ad468"/><ellipse cx="60.8" cy="8.3" rx="1.1" ry="0.6" transform="rotate(-25 60.8 8.3)" fill="#2a3a18"/><ellipse cx="9.1" cy="27.1" rx="1.5" ry="0.8" transform="rotate(-25 8.3 27.7)" fill="#9ade78"/><ellipse cx="8.3" cy="27.7" rx="1.2" ry="0.6" transform="rotate(-25 8.3 27.7)" fill="#2a3a18"/><ellipse cx="62.9" cy="45.9" rx="0.8" ry="0.5" transform="rotate(-25 62.1 46.5)" fill="#8ad468"/><ellipse cx="62.1" cy="46.5" rx="0.7" ry="0.4" transform="rotate(-25 62.1 46.5)" fill="#2a3a18"/><ellipse cx="12.9" cy="23.6" rx="1.3" ry="0.7" transform="rotate(-25 12.1 24.2)" fill="#9ade78"/><ellipse cx="12.1" cy="24.2" rx="1.0" ry="0.6" transform="rotate(-25 12.1 24.2)" fill="#2a3a18"/><ellipse cx="82.3" cy="17.7" rx="0.9" ry="0.5" transform="rotate(-25 81.5 18.3)" fill="#9ade78"/><ellipse cx="81.5" cy="18.3" rx="0.7" ry="0.4" transform="rotate(-25 81.5 18.3)" fill="#2a3a18"/><ellipse cx="20.1" cy="40.4" rx="1.6" ry="0.9" transform="rotate(-25 19.3 41.0)" fill="#b0e490"/><ellipse cx="19.3" cy="41.0" rx="1.3" ry="0.7" transform="rotate(-25 19.3 41.0)" fill="#1e4a14"/><ellipse cx="42.1" cy="50.5" rx="0.9" ry="0.5" transform="rotate(-25 41.3 51.1)" fill="#b0e490"/><ellipse cx="41.3" cy="51.1" rx="0.7" ry="0.4" transform="rotate(-25 41.3 51.1)" fill="#1e4a14"/><ellipse cx="3.4" cy="26.6" rx="1.2" ry="0.7" transform="rotate(-25 2.6 27.2)" fill="#b0e490"/><ellipse cx="2.6" cy="27.2" rx="1.0" ry="0.5" transform="rotate(-25 2.6 27.2)" fill="#1e4a14"/><ellipse cx="51.8" cy="9.0" rx="1.4" ry="0.8" transform="rotate(-25 51.0 9.6)" fill="#8ad468"/><ellipse cx="51.0" cy="9.6" rx="1.1" ry="0.6" transform="rotate(-25 51.0 9.6)" fill="#224e16"/><ellipse cx="14.8" cy="23.9" rx="0.9" ry="0.5" transform="rotate(-25 14.0 24.5)" fill="#b0e490"/><ellipse cx="14.0" cy="24.5" rx="0.7" ry="0.4" transform="rotate(-25 14.0 24.5)" fill="#2a3a18"/><ellipse cx="21.8" cy="37.3" rx="1.5" ry="0.8" transform="rotate(-25 21.0 37.9)" fill="#9ade78"/><ellipse cx="21.0" cy="37.9" rx="1.2" ry="0.7" transform="rotate(-25 21.0 37.9)" fill="#1e4a14"/><ellipse cx="62.6" cy="5.4" rx="1.2" ry="0.7" transform="rotate(-25 61.8 6.0)" fill="#9ade78"/><ellipse cx="61.8" cy="6.0" rx="1.0" ry="0.5" transform="rotate(-25 61.8 6.0)" fill="#224e16"/><ellipse cx="21.3" cy="25.3" rx="1.0" ry="0.5" transform="rotate(-25 20.5 25.9)" fill="#8ad468"/><ellipse cx="20.5" cy="25.9" rx="0.8" ry="0.4" transform="rotate(-25 20.5 25.9)" fill="#1e4a14"/><ellipse cx="51.9" cy="13.5" rx="1.4" ry="0.8" transform="rotate(-25 51.1 14.1)" fill="#b0e490"/><ellipse cx="51.1" cy="14.1" rx="1.1" ry="0.6" transform="rotate(-25 51.1 14.1)" fill="#1e4a14"/><ellipse cx="39.7" cy="10.8" rx="1.6" ry="0.9" transform="rotate(-25 38.9 11.4)" fill="#8ad468"/><ellipse cx="38.9" cy="11.4" rx="1.3" ry="0.7" transform="rotate(-25 38.9 11.4)" fill="#1e4a14"/><ellipse cx="85.2" cy="27.8" rx="1.6" ry="0.9" transform="rotate(-25 84.4 28.4)" fill="#8ad468"/><ellipse cx="84.4" cy="28.4" rx="1.3" ry="0.7" transform="rotate(-25 84.4 28.4)" fill="#224e16"/><ellipse cx="61.2" cy="2.6" rx="1.0" ry="0.5" transform="rotate(-25 60.4 3.2)" fill="#b0e490"/><ellipse cx="60.4" cy="3.2" rx="0.8" ry="0.4" transform="rotate(-25 60.4 3.2)" fill="#224e16"/><ellipse cx="81.8" cy="33.6" rx="1.0" ry="0.6" transform="rotate(-25 81.0 34.2)" fill="#8ad468"/><ellipse cx="81.0" cy="34.2" rx="0.8" ry="0.4" transform="rotate(-25 81.0 34.2)" fill="#224e16"/><ellipse cx="78.3" cy="37.2" rx="1.0" ry="0.5" transform="rotate(-25 77.5 37.8)" fill="#8ad468"/><ellipse cx="77.5" cy="37.8" rx="0.8" ry="0.4" transform="rotate(-25 77.5 37.8)" fill="#2a3a18"/><ellipse cx="41.6" cy="43.4" rx="1.5" ry="0.8" transform="rotate(-25 40.8 44.0)" fill="#9ade78"/><ellipse cx="40.8" cy="44.0" rx="1.2" ry="0.7" transform="rotate(-25 40.8 44.0)" fill="#224e16"/><ellipse cx="29.2" cy="10.5" rx="1.4" ry="0.8" transform="rotate(-25 28.4 11.1)" fill="#b0e490"/><ellipse cx="28.4" cy="11.1" rx="1.1" ry="0.6" transform="rotate(-25 28.4 11.1)" fill="#1e4a14"/><ellipse cx="70.0" cy="36.7" rx="1.4" ry="0.8" transform="rotate(-25 69.2 37.3)" fill="#8ad468"/><ellipse cx="69.2" cy="37.3" rx="1.1" ry="0.6" transform="rotate(-25 69.2 37.3)" fill="#224e16"/><ellipse cx="60.4" cy="1.2" rx="1.3" ry="0.7" transform="rotate(-25 59.6 1.8)" fill="#8ad468"/><ellipse cx="59.6" cy="1.8" rx="1.0" ry="0.6" transform="rotate(-25 59.6 1.8)" fill="#2a3a18"/><ellipse cx="75.4" cy="43.0" rx="0.8" ry="0.5" transform="rotate(-25 74.6 43.6)" fill="#9ade78"/><ellipse cx="74.6" cy="43.6" rx="0.7" ry="0.4" transform="rotate(-25 74.6 43.6)" fill="#2a3a18"/><ellipse cx="61.1" cy="37.6" rx="1.4" ry="0.8" transform="rotate(-25 60.3 38.2)" fill="#b0e490"/><ellipse cx="60.3" cy="38.2" rx="1.2" ry="0.6" transform="rotate(-25 60.3 38.2)" fill="#1e4a14"/><ellipse cx="43.7" cy="23.1" rx="1.1" ry="0.6" transform="rotate(-25 42.9 23.7)" fill="#8ad468"/><ellipse cx="42.9" cy="23.7" rx="0.9" ry="0.5" transform="rotate(-25 42.9 23.7)" fill="#2a3a18"/><ellipse cx="54.6" cy="6.0" rx="1.2" ry="0.7" transform="rotate(-25 53.8 6.6)" fill="#b0e490"/><ellipse cx="53.8" cy="6.6" rx="1.0" ry="0.5" transform="rotate(-25 53.8 6.6)" fill="#2a3a18"/><ellipse cx="22.2" cy="47.1" rx="1.6" ry="0.9" transform="rotate(-25 21.4 47.7)" fill="#9ade78"/><ellipse cx="21.4" cy="47.7" rx="1.3" ry="0.7" transform="rotate(-25 21.4 47.7)" fill="#2a3a18"/><ellipse cx="14.0" cy="0.2" rx="1.2" ry="0.7" transform="rotate(-25 13.2 0.8)" fill="#9ade78"/><ellipse cx="13.2" cy="0.8" rx="1.0" ry="0.5" transform="rotate(-25 13.2 0.8)" fill="#2a3a18"/><ellipse cx="32.2" cy="10.3" rx="1.1" ry="0.6" transform="rotate(-25 31.4 10.9)" fill="#8ad468"/><ellipse cx="31.4" cy="10.9" rx="0.9" ry="0.5" transform="rotate(-25 31.4 10.9)" fill="#1e4a14"/><ellipse cx="55.8" cy="-2.1" rx="1.5" ry="0.9" transform="rotate(-25 55.0 -1.5)" fill="#9ade78"/><ellipse cx="55.0" cy="-1.5" rx="1.3" ry="0.7" transform="rotate(-25 55.0 -1.5)" fill="#224e16"/><ellipse cx="15.8" cy="29.1" rx="1.1" ry="0.6" transform="rotate(-25 15.0 29.7)" fill="#8ad468"/><ellipse cx="15.0" cy="29.7" rx="0.9" ry="0.5" transform="rotate(-25 15.0 29.7)" fill="#224e16"/><ellipse cx="7.5" cy="36.3" rx="0.9" ry="0.5" transform="rotate(-25 6.7 36.9)" fill="#8ad468"/><ellipse cx="6.7" cy="36.9" rx="0.8" ry="0.4" transform="rotate(-25 6.7 36.9)" fill="#224e16"/><ellipse cx="30.2" cy="11.9" rx="1.6" ry="0.9" transform="rotate(-25 29.4 12.5)" fill="#9ade78"/><ellipse cx="29.4" cy="12.5" rx="1.3" ry="0.7" transform="rotate(-25 29.4 12.5)" fill="#224e16"/><ellipse cx="20.3" cy="43.4" rx="1.4" ry="0.8" transform="rotate(-25 19.5 44.0)" fill="#b0e490"/><ellipse cx="19.5" cy="44.0" rx="1.2" ry="0.6" transform="rotate(-25 19.5 44.0)" fill="#224e16"/><ellipse cx="19.5" cy="26.5" rx="1.3" ry="0.7" transform="rotate(-25 18.7 27.1)" fill="#8ad468"/><ellipse cx="18.7" cy="27.1" rx="1.0" ry="0.6" transform="rotate(-25 18.7 27.1)" fill="#1e4a14"/><ellipse cx="1.4" cy="39.3" rx="1.2" ry="0.7" transform="rotate(-25 0.6 39.9)" fill="#8ad468"/><ellipse cx="0.6" cy="39.9" rx="0.9" ry="0.5" transform="rotate(-25 0.6 39.9)" fill="#2a3a18"/><ellipse cx="10.0" cy="28.7" rx="0.9" ry="0.5" transform="rotate(-25 9.2 29.3)" fill="#9ade78"/><ellipse cx="9.2" cy="29.3" rx="0.7" ry="0.4" transform="rotate(-25 9.2 29.3)" fill="#224e16"/><ellipse cx="31.7" cy="5.3" rx="1.0" ry="0.5" transform="rotate(-25 30.9 5.9)" fill="#b0e490"/><ellipse cx="30.9" cy="5.9" rx="0.8" ry="0.4" transform="rotate(-25 30.9 5.9)" fill="#1e4a14"/><ellipse cx="36.3" cy="36.3" rx="1.4" ry="0.8" transform="rotate(-25 35.5 36.9)" fill="#b0e490"/><ellipse cx="35.5" cy="36.9" rx="1.1" ry="0.6" transform="rotate(-25 35.5 36.9)" fill="#2a3a18"/><ellipse cx="50.1" cy="14.1" rx="1.1" ry="0.6" transform="rotate(-25 49.3 14.7)" fill="#8ad468"/><ellipse cx="49.3" cy="14.7" rx="0.9" ry="0.5" transform="rotate(-25 49.3 14.7)" fill="#1e4a14"/><ellipse cx="28.7" cy="4.9" rx="0.8" ry="0.5" transform="rotate(-25 27.9 5.5)" fill="#9ade78"/><ellipse cx="27.9" cy="5.5" rx="0.7" ry="0.4" transform="rotate(-25 27.9 5.5)" fill="#2a3a18"/><ellipse cx="34.1" cy="4.9" rx="1.1" ry="0.6" transform="rotate(-25 33.3 5.5)" fill="#b0e490"/><ellipse cx="33.3" cy="5.5" rx="0.9" ry="0.5" transform="rotate(-25 33.3 5.5)" fill="#2a3a18"/><ellipse cx="73.2" cy="22.9" rx="1.0" ry="0.6" transform="rotate(-25 72.4 23.5)" fill="#9ade78"/><ellipse cx="72.4" cy="23.5" rx="0.8" ry="0.5" transform="rotate(-25 72.4 23.5)" fill="#224e16"/><ellipse cx="21.7" cy="46.6" rx="1.5" ry="0.8" transform="rotate(-25 20.9 47.2)" fill="#9ade78"/><ellipse cx="20.9" cy="47.2" rx="1.2" ry="0.6" transform="rotate(-25 20.9 47.2)" fill="#224e16"/><ellipse cx="64.7" cy="40.8" rx="1.5" ry="0.8" transform="rotate(-25 63.9 41.4)" fill="#9ade78"/><ellipse cx="63.9" cy="41.4" rx="1.2" ry="0.6" transform="rotate(-25 63.9 41.4)" fill="#2a3a18"/><ellipse cx="79.9" cy="48.7" rx="1.4" ry="0.8" transform="rotate(-25 79.1 49.3)" fill="#b0e490"/><ellipse cx="79.1" cy="49.3" rx="1.1" ry="0.6" transform="rotate(-25 79.1 49.3)" fill="#1e4a14"/><ellipse cx="20.2" cy="32.7" rx="1.6" ry="0.9" transform="rotate(-25 19.4 33.3)" fill="#9ade78"/><ellipse cx="19.4" cy="33.3" rx="1.3" ry="0.7" transform="rotate(-25 19.4 33.3)" fill="#2a3a18"/><ellipse cx="75.9" cy="0.7" rx="1.3" ry="0.7" transform="rotate(-25 75.1 1.3)" fill="#8ad468"/><ellipse cx="75.1" cy="1.3" rx="1.0" ry="0.6" transform="rotate(-25 75.1 1.3)" fill="#1e4a14"/><ellipse cx="49.6" cy="47.1" rx="1.3" ry="0.7" transform="rotate(-25 48.8 47.7)" fill="#8ad468"/><ellipse cx="48.8" cy="47.7" rx="1.0" ry="0.6" transform="rotate(-25 48.8 47.7)" fill="#224e16"/><ellipse cx="61.3" cy="25.1" rx="1.3" ry="0.7" transform="rotate(-25 60.5 25.7)" fill="#9ade78"/><ellipse cx="60.5" cy="25.7" rx="1.0" ry="0.6" transform="rotate(-25 60.5 25.7)" fill="#224e16"/><ellipse cx="4.6" cy="49.0" rx="1.1" ry="0.6" transform="rotate(-25 3.8 49.6)" fill="#8ad468"/><ellipse cx="3.8" cy="49.6" rx="0.9" ry="0.5" transform="rotate(-25 3.8 49.6)" fill="#1e4a14"/><ellipse cx="24.2" cy="12.1" rx="0.9" ry="0.5" transform="rotate(-25 23.4 12.7)" fill="#9ade78"/><ellipse cx="23.4" cy="12.7" rx="0.7" ry="0.4" transform="rotate(-25 23.4 12.7)" fill="#224e16"/><ellipse cx="77.8" cy="32.2" rx="0.9" ry="0.5" transform="rotate(-25 77.0 32.8)" fill="#9ade78"/><ellipse cx="77.0" cy="32.8" rx="0.7" ry="0.4" transform="rotate(-25 77.0 32.8)" fill="#2a3a18"/><ellipse cx="69.4" cy="39.6" rx="1.5" ry="0.9" transform="rotate(-25 68.6 40.2)" fill="#8ad468"/><ellipse cx="68.6" cy="40.2" rx="1.2" ry="0.7" transform="rotate(-25 68.6 40.2)" fill="#224e16"/><ellipse cx="73.9" cy="44.0" rx="1.3" ry="0.7" transform="rotate(-25 73.1 44.6)" fill="#8ad468"/><ellipse cx="73.1" cy="44.6" rx="1.0" ry="0.5" transform="rotate(-25 73.1 44.6)" fill="#1e4a14"/><ellipse cx="18.8" cy="1.2" rx="1.4" ry="0.8" transform="rotate(-25 18.0 1.8)" fill="#8ad468"/><ellipse cx="18.0" cy="1.8" rx="1.1" ry="0.6" transform="rotate(-25 18.0 1.8)" fill="#2a3a18"/><ellipse cx="83.3" cy="28.3" rx="1.3" ry="0.7" transform="rotate(-25 82.5 28.9)" fill="#b0e490"/><ellipse cx="82.5" cy="28.9" rx="1.0" ry="0.6" transform="rotate(-25 82.5 28.9)" fill="#2a3a18"/><ellipse cx="39.0" cy="24.6" rx="1.1" ry="0.6" transform="rotate(-25 38.2 25.2)" fill="#b0e490"/><ellipse cx="38.2" cy="25.2" rx="0.9" ry="0.5" transform="rotate(-25 38.2 25.2)" fill="#224e16"/><ellipse cx="52.3" cy="20.2" rx="0.9" ry="0.5" transform="rotate(-25 51.5 20.8)" fill="#8ad468"/><ellipse cx="51.5" cy="20.8" rx="0.7" ry="0.4" transform="rotate(-25 51.5 20.8)" fill="#1e4a14"/><ellipse cx="77.9" cy="45.5" rx="1.5" ry="0.8" transform="rotate(-25 77.1 46.1)" fill="#8ad468"/><ellipse cx="77.1" cy="46.1" rx="1.2" ry="0.7" transform="rotate(-25 77.1 46.1)" fill="#2a3a18"/><ellipse cx="59.8" cy="1.9" rx="1.1" ry="0.6" transform="rotate(-25 59.0 2.5)" fill="#8ad468"/><ellipse cx="59.0" cy="2.5" rx="0.9" ry="0.5" transform="rotate(-25 59.0 2.5)" fill="#1e4a14"/><ellipse cx="43.0" cy="21.2" rx="1.4" ry="0.8" transform="rotate(-25 42.2 21.8)" fill="#8ad468"/><ellipse cx="42.2" cy="21.8" rx="1.2" ry="0.6" transform="rotate(-25 42.2 21.8)" fill="#2a3a18"/><ellipse cx="40.1" cy="23.0" rx="1.5" ry="0.8" transform="rotate(-25 39.3 23.6)" fill="#8ad468"/><ellipse cx="39.3" cy="23.6" rx="1.2" ry="0.7" transform="rotate(-25 39.3 23.6)" fill="#224e16"/><ellipse cx="21.3" cy="47.6" rx="0.9" ry="0.5" transform="rotate(-25 20.5 48.2)" fill="#8ad468"/><ellipse cx="20.5" cy="48.2" rx="0.7" ry="0.4" transform="rotate(-25 20.5 48.2)" fill="#1e4a14"/><ellipse cx="40.6" cy="19.1" rx="0.9" ry="0.5" transform="rotate(-25 39.8 19.7)" fill="#8ad468"/><ellipse cx="39.8" cy="19.7" rx="0.7" ry="0.4" transform="rotate(-25 39.8 19.7)" fill="#2a3a18"/><ellipse cx="67.6" cy="42.9" rx="1.5" ry="0.8" transform="rotate(-25 66.8 43.5)" fill="#9ade78"/><ellipse cx="66.8" cy="43.5" rx="1.2" ry="0.7" transform="rotate(-25 66.8 43.5)" fill="#224e16"/><ellipse cx="47.5" cy="9.3" rx="1.6" ry="0.9" transform="rotate(-25 46.7 9.9)" fill="#b0e490"/><ellipse cx="46.7" cy="9.9" rx="1.3" ry="0.7" transform="rotate(-25 46.7 9.9)" fill="#224e16"/><ellipse cx="36.5" cy="23.2" rx="1.2" ry="0.7" transform="rotate(-25 35.7 23.8)" fill="#9ade78"/><ellipse cx="35.7" cy="23.8" rx="1.0" ry="0.5" transform="rotate(-25 35.7 23.8)" fill="#2a3a18"/><ellipse cx="29.3" cy="10.9" rx="1.0" ry="0.6" transform="rotate(-25 28.5 11.5)" fill="#8ad468"/><ellipse cx="28.5" cy="11.5" rx="0.9" ry="0.5" transform="rotate(-25 28.5 11.5)" fill="#224e16"/><ellipse cx="65.6" cy="40.8" rx="1.4" ry="0.8" transform="rotate(-25 64.8 41.4)" fill="#9ade78"/><ellipse cx="64.8" cy="41.4" rx="1.1" ry="0.6" transform="rotate(-25 64.8 41.4)" fill="#2a3a18"/>
</svg>
<rect x="3.0" y="105.0" width="85.3" height="53.6" fill="none" stroke="#151515" stroke-width="0.9"/>
<g font-family="'Liberation Serif', 'Times New Roman', serif" font-size="7.8" fill="#222">
<text x="93.2" y="134.2">0.8</text><text x="93.2" y="147.7">0.4</text><text x="93.2" y="161.6">0</text>
<text transform="translate(109.4,143.8) rotate(-90)" text-anchor="middle" font-size="7.2">km</text>
</g>
<rect x="114.9" y="146.6" width="14.3" height="12.4" fill="#ffffff"/>
<text x="122.05" y="154.8" text-anchor="middle" font-size="10.8" font-family="'Liberation Serif', 'Times New Roman', serif" fill="#1a1a1a" stroke="#1a1a1a" stroke-width="0.2">(c)</text>
</svg>
<rect x="0" y="0" width="133.6" height="161.6" fill="none" stroke="#585858" stroke-width="1"/>
<line x1="-2.6" y1="9.2" x2="0" y2="9.2" stroke="#222" stroke-width="0.8"/>
<line x1="-2.6" y1="79.5" x2="0" y2="79.5" stroke="#222" stroke-width="0.8"/>
<line x1="-2.6" y1="149.8" x2="0" y2="149.8" stroke="#222" stroke-width="0.8"/>
<line x1="11.0" y1="161.6" x2="11.0" y2="164.2" stroke="#222" stroke-width="0.8"/>
<line x1="58.0" y1="161.6" x2="58.0" y2="164.2" stroke="#222" stroke-width="0.8"/>
<line x1="104.4" y1="161.6" x2="104.4" y2="164.2" stroke="#222" stroke-width="0.8"/>
</g>
<g transform="translate(31.5,194.8)">
<svg x="0" y="0" width="133.6" height="161.6" viewBox="0 0 133.6 161.6" overflow="hidden">
<rect width="133.6" height="161.6" fill="#c2c2c2"/>
<rect width="133.6" height="161.6" fill="#000" filter="url(#hs)"/>
<g mask="url(#mR)"><rect x="-60" y="-60" width="253.6" height="281.6" fill="#000" filter="url(#hs2)" transform="rotate(35 66.8 80.8)"/></g>
<path d="M0,95.5 L5,95.8 L2.5,97.6 L0,98 Z" fill="#f2f2f2"/>
<polygon points="88,145 94,145 101,150 109,157.5 112,162 88,162" fill="#ffffff"/>
<use href="#pg" fill="none" stroke="#dadada" stroke-width="2.6" opacity="0.8"/>
<use href="#pg" fill="#5cab3c"/>
<use href="#pg" fill="#000" filter="url(#gn)"/>
<use href="#pg" fill="none" stroke="#141a12" stroke-width="1.0"/>
<g clip-path="url(#clipPoly)">
<polygon points="43.0,36.0 47.0,34.5 51.0,38.0 56.0,44.0 58.0,50.0 62.0,50.5 68.0,53.0 76.0,53.0 81.0,57.0 85.0,63.0 87.0,71.0 85.0,78.0 81.0,83.0 79.0,90.0 75.0,95.0 69.0,97.0 63.0,94.0 59.0,88.0 52.0,87.0 46.0,84.0 43.0,80.0 38.0,77.0 33.0,73.0 32.0,68.0 36.0,64.0 38.0,58.0 37.0,50.0 38.0,43.0" fill="#fff" filter="url(#haloD)"/><polygon points="44.0,39.7 46.4,37.8 48.7,38.9 51.1,42.9 54.2,46.8 55.0,50.7 56.6,55.5 60.5,53.9 63.7,54.7 66.9,57.0 70.8,57.8 74.7,57.0 77.1,58.6 79.5,61.8 81.0,65.7 82.6,71.2 81.0,76.0 77.9,79.1 76.3,83.9 74.7,88.6 71.6,91.7 67.6,92.5 65.3,90.2 62.9,85.4 59.0,83.9 54.2,83.1 51.1,82.3 47.9,79.9 47.1,76.8 46.0,73.6 42.5,73.0 40.5,70.8 41.8,67.5 44.0,64.9 42.4,61.8 41.6,57.0 40.8,52.3 41.6,47.6 42.4,42.9" fill="#fff" filter="url(#coreD)"/><g filter="url(#blur05)"><ellipse cx="81.6" cy="96.5" rx="1.0" ry="0.8" fill="#9ad47c" opacity="0.65"/><ellipse cx="31.9" cy="67.5" rx="1.1" ry="0.8" fill="#9ad47c" opacity="0.65"/><ellipse cx="94.4" cy="67.3" rx="1.6" ry="1.2" fill="#ee9a7a" opacity="0.65"/><ellipse cx="93.4" cy="96.1" rx="1.9" ry="1.5" fill="#e9b08a" opacity="0.65"/><ellipse cx="100.3" cy="58.6" rx="1.6" ry="1.2" fill="#9ad47c" opacity="0.65"/><ellipse cx="27.3" cy="70.8" rx="1.1" ry="0.9" fill="#9ad47c" opacity="0.65"/><ellipse cx="82.0" cy="98.4" rx="0.9" ry="0.7" fill="#e9b08a" opacity="0.65"/><ellipse cx="28.8" cy="69.9" rx="1.4" ry="1.1" fill="#ee9a7a" opacity="0.65"/><ellipse cx="95.7" cy="63.2" rx="1.9" ry="1.5" fill="#9ad47c" opacity="0.65"/><ellipse cx="93.0" cy="94.1" rx="1.1" ry="0.9" fill="#e9b08a" opacity="0.65"/><ellipse cx="28.9" cy="70.3" rx="1.3" ry="1.0" fill="#9ad47c" opacity="0.65"/><ellipse cx="31.3" cy="68.1" rx="1.9" ry="1.4" fill="#e9b08a" opacity="0.65"/><ellipse cx="104.6" cy="67.9" rx="1.5" ry="1.2" fill="#e9b08a" opacity="0.65"/><ellipse cx="105.1" cy="70.2" rx="1.1" ry="0.8" fill="#e9b08a" opacity="0.65"/><ellipse cx="84.9" cy="96.2" rx="1.5" ry="1.2" fill="#ee9a7a" opacity="0.65"/><ellipse cx="79.6" cy="96.6" rx="1.7" ry="1.3" fill="#ee9a7a" opacity="0.65"/><ellipse cx="104.4" cy="69.3" rx="1.2" ry="0.9" fill="#ee9a7a" opacity="0.65"/><ellipse cx="93.8" cy="61.4" rx="1.2" ry="1.0" fill="#9ad47c" opacity="0.65"/><ellipse cx="95.9" cy="61.1" rx="1.8" ry="1.4" fill="#e9b08a" opacity="0.65"/><ellipse cx="103.7" cy="75.3" rx="1.1" ry="0.8" fill="#ee9a7a" opacity="0.65"/><ellipse cx="96.2" cy="64.2" rx="0.9" ry="0.7" fill="#ee9a7a" opacity="0.65"/><ellipse cx="99.7" cy="81.0" rx="1.3" ry="1.0" fill="#ee9a7a" opacity="0.65"/><ellipse cx="29.5" cy="70.1" rx="0.8" ry="0.6" fill="#9ad47c" opacity="0.65"/><ellipse cx="27.7" cy="66.1" rx="1.4" ry="1.1" fill="#9ad47c" opacity="0.65"/><ellipse cx="103.2" cy="80.8" rx="1.1" ry="0.9" fill="#e9b08a" opacity="0.65"/><ellipse cx="31.3" cy="71.6" rx="0.9" ry="0.7" fill="#9ad47c" opacity="0.65"/></g>
</g>
<rect x="101.5" y="-0.1" width="27.2" height="23.2" fill="#ffffff"/>
<text x="103.0" y="9.4" font-size="9.2" font-family="'Liberation Serif', 'Times New Roman', serif" fill="#1a1a1a" stroke="#1a1a1a" stroke-width="0.25"><tspan font-style="italic">R</tspan><tspan font-size="5.5" font-style="italic" dy="1.5">d</tspan><tspan dy="-1.5">=</tspan>0.0</text>
<text x="104.6" y="20.8" font-size="9.4" font-family="'Liberation Serif', 'Times New Roman', serif" fill="#1a1a1a" stroke="#1a1a1a" stroke-width="0.25">RF<tspan font-size="6.2">EQS</tspan></text>
<polyline points="74.6,68.8 3.0,105.0" fill="none" stroke="#1f35d6" stroke-width="1.3" stroke-dasharray="3.2,1.6"/>
<polyline points="80.9,69.3 88.3,105.0" fill="none" stroke="#1f35d6" stroke-width="1.3" stroke-dasharray="3.2,1.6"/>
<rect x="74.6" y="65.0" width="6.3" height="4.3" fill="none" stroke="#1f35d6" stroke-width="1.2"/>
<polygon points="48.0,82.4 49.4,85.7 52.9,86.0 50.2,88.3 51.1,91.8 48.0,89.9 44.9,91.8 45.8,88.3 43.1,86.0 46.6,85.7" fill="#f3ee1c" stroke="#111" stroke-width="1"/>
<path d="M0,104.7 H3.0 V158.6 H88.3 V162.6 H0 Z" fill="#ffffff"/>
<svg x="3.0" y="105.0" width="85.3" height="53.6" viewBox="0 0 85.3 53.6" overflow="hidden">
<rect x="-30" y="-30" width="145.3" height="113.6" fill="#000" filter="url(#insD)" transform="rotate(-35 42.65 26.8)"/><g filter="url(#blur1)" opacity="0.85"><path d="M36,-2 C40,12 45,28 52,56" fill="none" stroke="#f0c880" stroke-width="8"/><path d="M36,-2 C40,12 45,28 52,56" fill="none" stroke="#f2e0a0" stroke-width="4"/><path d="M2,32 C5,40 8,47 11,56" fill="none" stroke="#eeb482" stroke-width="5"/><path d="M59,20 C58,31 57,42 59,56" fill="none" stroke="#eca070" stroke-width="3.5"/><path d="M72,-2 L90,-2 L90,36 C84,30 77,18 72,-2 Z" fill="#b0dc84"/></g><path d="M36.5,-2 C40.5,12 45.5,28 52.5,56" fill="none" stroke="#a8d878" stroke-width="2.2" stroke-dasharray="0.8,1.4" opacity="0.85"/><ellipse cx="26.3" cy="31.0" rx="1.4" ry="0.7" transform="rotate(-35 26.3 31.0)" fill="#6a1a10" opacity="0.8"/><ellipse cx="39.9" cy="17.8" rx="2.3" ry="1.1" transform="rotate(-35 39.9 17.8)" fill="#4a0e08" opacity="0.8"/><ellipse cx="56.8" cy="9.9" rx="1.5" ry="0.8" transform="rotate(-35 56.8 9.9)" fill="#4a0e08" opacity="0.8"/><ellipse cx="54.5" cy="48.2" rx="1.6" ry="0.8" transform="rotate(-35 54.5 48.2)" fill="#4a0e08" opacity="0.8"/><ellipse cx="11.1" cy="33.5" rx="2.1" ry="1.1" transform="rotate(-35 11.1 33.5)" fill="#4a0e08" opacity="0.8"/><ellipse cx="43.7" cy="29.8" rx="1.8" ry="0.9" transform="rotate(-35 43.7 29.8)" fill="#4a0e08" opacity="0.8"/><ellipse cx="84.0" cy="8.0" rx="2.3" ry="1.2" transform="rotate(-35 84.0 8.0)" fill="#4a0e08" opacity="0.8"/><ellipse cx="25.1" cy="13.0" rx="1.4" ry="0.7" transform="rotate(-35 25.1 13.0)" fill="#4a0e08" opacity="0.8"/><ellipse cx="10.9" cy="48.3" rx="2.3" ry="1.1" transform="rotate(-35 10.9 48.3)" fill="#4a0e08" opacity="0.8"/><ellipse cx="62.4" cy="46.5" rx="1.8" ry="0.9" transform="rotate(-35 62.4 46.5)" fill="#4a0e08" opacity="0.8"/><ellipse cx="42.7" cy="43.4" rx="1.5" ry="0.8" transform="rotate(-35 42.7 43.4)" fill="#4a0e08" opacity="0.8"/><ellipse cx="70.4" cy="34.7" rx="1.0" ry="0.5" transform="rotate(-35 70.4 34.7)" fill="#4a0e08" opacity="0.8"/><ellipse cx="6.9" cy="45.7" rx="2.0" ry="1.0" transform="rotate(-35 6.9 45.7)" fill="#6a1a10" opacity="0.8"/><ellipse cx="83.9" cy="41.8" rx="1.8" ry="0.9" transform="rotate(-35 83.9 41.8)" fill="#4a0e08" opacity="0.8"/><ellipse cx="28.8" cy="17.9" rx="1.6" ry="0.8" transform="rotate(-35 28.8 17.9)" fill="#4a0e08" opacity="0.8"/><ellipse cx="43.5" cy="31.8" rx="1.5" ry="0.8" transform="rotate(-35 43.5 31.8)" fill="#6a1a10" opacity="0.8"/><ellipse cx="21.8" cy="28.3" rx="1.2" ry="0.6" transform="rotate(-35 21.8 28.3)" fill="#4a0e08" opacity="0.8"/><ellipse cx="35.6" cy="4.8" rx="1.6" ry="0.8" transform="rotate(-35 35.6 4.8)" fill="#6a1a10" opacity="0.8"/><ellipse cx="83.2" cy="22.9" rx="1.2" ry="0.6" transform="rotate(-35 83.2 22.9)" fill="#4a0e08" opacity="0.8"/><ellipse cx="49.4" cy="41.2" rx="2.0" ry="1.0" transform="rotate(-35 49.4 41.2)" fill="#4a0e08" opacity="0.8"/><ellipse cx="75.9" cy="10.0" rx="1.9" ry="1.0" transform="rotate(-35 75.9 10.0)" fill="#6a1a10" opacity="0.8"/><ellipse cx="12.0" cy="37.9" rx="1.3" ry="0.7" transform="rotate(-35 12.0 37.9)" fill="#4a0e08" opacity="0.8"/><ellipse cx="41.9" cy="46.3" rx="2.2" ry="1.1" transform="rotate(-35 41.9 46.3)" fill="#4a0e08" opacity="0.8"/><ellipse cx="1.3" cy="38.8" rx="1.7" ry="0.8" transform="rotate(-35 1.3 38.8)" fill="#6a1a10" opacity="0.8"/><ellipse cx="7.3" cy="12.9" rx="1.5" ry="0.7" transform="rotate(-35 7.3 12.9)" fill="#4a0e08" opacity="0.8"/><ellipse cx="79.0" cy="18.5" rx="2.3" ry="1.2" transform="rotate(-35 79.0 18.5)" fill="#4a0e08" opacity="0.8"/><ellipse cx="13.5" cy="21.4" rx="2.3" ry="1.2" transform="rotate(-35 13.5 21.4)" fill="#6a1a10" opacity="0.8"/><ellipse cx="69.9" cy="10.2" rx="1.2" ry="0.6" transform="rotate(-35 69.9 10.2)" fill="#4a0e08" opacity="0.8"/><ellipse cx="21.2" cy="1.0" rx="1.6" ry="0.8" transform="rotate(-35 21.2 1.0)" fill="#4a0e08" opacity="0.8"/><ellipse cx="54.7" cy="12.4" rx="2.4" ry="1.2" transform="rotate(-35 54.7 12.4)" fill="#4a0e08" opacity="0.8"/><ellipse cx="36.0" cy="44.1" rx="2.2" ry="1.1" transform="rotate(-35 36.0 44.1)" fill="#6a1a10" opacity="0.8"/><ellipse cx="47.7" cy="30.1" rx="1.4" ry="0.7" transform="rotate(-35 47.7 30.1)" fill="#6a1a10" opacity="0.8"/><ellipse cx="15.4" cy="19.5" rx="2.1" ry="1.0" transform="rotate(-35 15.4 19.5)" fill="#6a1a10" opacity="0.8"/><ellipse cx="36.0" cy="45.7" rx="1.2" ry="0.6" transform="rotate(-35 36.0 45.7)" fill="#4a0e08" opacity="0.8"/><ellipse cx="33.9" cy="46.1" rx="1.2" ry="0.6" transform="rotate(-35 33.9 46.1)" fill="#6a1a10" opacity="0.8"/><ellipse cx="37.5" cy="6.1" rx="1.1" ry="0.5" transform="rotate(-35 37.5 6.1)" fill="#4a0e08" opacity="0.8"/><ellipse cx="66.5" cy="9.3" rx="1.1" ry="0.5" transform="rotate(-35 66.5 9.3)" fill="#4a0e08" opacity="0.8"/><ellipse cx="70.8" cy="46.1" rx="1.5" ry="0.7" transform="rotate(-35 70.8 46.1)" fill="#4a0e08" opacity="0.8"/><ellipse cx="65.2" cy="33.6" rx="2.1" ry="1.1" transform="rotate(-35 65.2 33.6)" fill="#4a0e08" opacity="0.8"/><ellipse cx="15.6" cy="44.6" rx="1.4" ry="0.7" transform="rotate(-35 15.6 44.6)" fill="#4a0e08" opacity="0.8"/><ellipse cx="50.3" cy="31.7" rx="1.3" ry="0.7" transform="rotate(-35 50.3 31.7)" fill="#4a0e08" opacity="0.8"/><ellipse cx="46.2" cy="51.2" rx="1.6" ry="0.8" transform="rotate(-35 46.2 51.2)" fill="#6a1a10" opacity="0.8"/><ellipse cx="67.4" cy="13.2" rx="2.1" ry="1.0" transform="rotate(-35 67.4 13.2)" fill="#4a0e08" opacity="0.8"/><ellipse cx="48.3" cy="40.1" rx="1.6" ry="0.8" transform="rotate(-35 48.3 40.1)" fill="#4a0e08" opacity="0.8"/><ellipse cx="46.8" cy="27.9" rx="2.0" ry="1.0" transform="rotate(-35 46.8 27.9)" fill="#4a0e08" opacity="0.8"/><ellipse cx="46.1" cy="29.9" rx="1.1" ry="0.5" transform="rotate(-35 46.1 29.9)" fill="#6a1a10" opacity="0.8"/><ellipse cx="68.3" cy="35.2" rx="1.4" ry="0.7" transform="rotate(-35 68.3 35.2)" fill="#4a0e08" opacity="0.8"/><ellipse cx="35.9" cy="3.4" rx="1.2" ry="0.6" transform="rotate(-35 35.9 3.4)" fill="#4a0e08" opacity="0.8"/><ellipse cx="26.5" cy="51.8" rx="1.3" ry="0.6" transform="rotate(-35 26.5 51.8)" fill="#4a0e08" opacity="0.8"/><ellipse cx="32.7" cy="10.9" rx="1.4" ry="0.7" transform="rotate(-35 32.7 10.9)" fill="#4a0e08" opacity="0.8"/><ellipse cx="8.4" cy="32.2" rx="1.6" ry="0.8" transform="rotate(-35 8.4 32.2)" fill="#6a1a10" opacity="0.8"/><ellipse cx="38.8" cy="53.1" rx="2.1" ry="1.1" transform="rotate(-35 38.8 53.1)" fill="#6a1a10" opacity="0.8"/><ellipse cx="18.8" cy="34.8" rx="1.1" ry="0.5" transform="rotate(-35 18.8 34.8)" fill="#6a1a10" opacity="0.8"/><ellipse cx="33.1" cy="0.2" rx="1.9" ry="1.0" transform="rotate(-35 33.1 0.2)" fill="#6a1a10" opacity="0.8"/><ellipse cx="3.1" cy="28.7" rx="1.5" ry="0.8" transform="rotate(-35 3.1 28.7)" fill="#6a1a10" opacity="0.8"/><ellipse cx="80.0" cy="30.1" rx="1.5" ry="0.8" transform="rotate(-35 80.0 30.1)" fill="#4a0e08" opacity="0.8"/><ellipse cx="72.1" cy="11.3" rx="1.1" ry="0.6" transform="rotate(-35 72.1 11.3)" fill="#6a1a10" opacity="0.8"/><ellipse cx="3.5" cy="11.2" rx="2.4" ry="1.2" transform="rotate(-35 3.5 11.2)" fill="#6a1a10" opacity="0.8"/><ellipse cx="57.1" cy="31.6" rx="1.8" ry="0.9" transform="rotate(-35 57.1 31.6)" fill="#4a0e08" opacity="0.8"/><ellipse cx="61.0" cy="31.6" rx="2.1" ry="1.1" transform="rotate(-35 61.0 31.6)" fill="#4a0e08" opacity="0.8"/><ellipse cx="16.3" cy="45.3" rx="1.1" ry="0.6" transform="rotate(-35 16.3 45.3)" fill="#6a1a10" opacity="0.8"/><ellipse cx="18.1" cy="10.4" rx="1.9" ry="0.9" transform="rotate(-35 18.1 10.4)" fill="#4a0e08" opacity="0.8"/><ellipse cx="48.0" cy="6.4" rx="1.3" ry="0.6" transform="rotate(-35 48.0 6.4)" fill="#6a1a10" opacity="0.8"/><ellipse cx="70.5" cy="43.6" rx="2.1" ry="1.0" transform="rotate(-35 70.5 43.6)" fill="#4a0e08" opacity="0.8"/><ellipse cx="52.5" cy="19.6" rx="2.0" ry="1.0" transform="rotate(-35 52.5 19.6)" fill="#6a1a10" opacity="0.8"/><ellipse cx="1.3" cy="51.6" rx="1.7" ry="0.8" transform="rotate(-35 1.3 51.6)" fill="#6a1a10" opacity="0.8"/><ellipse cx="38.0" cy="34.4" rx="2.0" ry="1.0" transform="rotate(-35 38.0 34.4)" fill="#4a0e08" opacity="0.8"/><ellipse cx="22.8" cy="5.5" rx="1.7" ry="0.9" transform="rotate(-35 22.8 5.5)" fill="#6a1a10" opacity="0.8"/><ellipse cx="57.1" cy="0.9" rx="2.1" ry="1.1" transform="rotate(-35 57.1 0.9)" fill="#4a0e08" opacity="0.8"/><ellipse cx="53.8" cy="30.4" rx="1.1" ry="0.6" transform="rotate(-35 53.8 30.4)" fill="#4a0e08" opacity="0.8"/>
</svg>
<rect x="3.0" y="105.0" width="85.3" height="53.6" fill="none" stroke="#151515" stroke-width="0.9"/>
<g font-family="'Liberation Serif', 'Times New Roman', serif" font-size="7.8" fill="#222">
<text x="93.2" y="134.2">0.8</text><text x="93.2" y="147.7">0.4</text><text x="93.2" y="161.6">0</text>
<text transform="translate(109.4,143.8) rotate(-90)" text-anchor="middle" font-size="7.2">km</text>
</g>
<rect x="114.9" y="146.6" width="14.3" height="12.4" fill="#ffffff"/>
<text x="122.05" y="154.8" text-anchor="middle" font-size="10.8" font-family="'Liberation Serif', 'Times New Roman', serif" fill="#1a1a1a" stroke="#1a1a1a" stroke-width="0.2">(d)</text>
</svg>
<rect x="0" y="0" width="133.6" height="161.6" fill="none" stroke="#585858" stroke-width="1"/>
<line x1="-2.6" y1="9.2" x2="0" y2="9.2" stroke="#222" stroke-width="0.8"/>
<line x1="-2.6" y1="79.5" x2="0" y2="79.5" stroke="#222" stroke-width="0.8"/>
<line x1="-2.6" y1="149.8" x2="0" y2="149.8" stroke="#222" stroke-width="0.8"/>
<line x1="11.0" y1="161.6" x2="11.0" y2="164.2" stroke="#222" stroke-width="0.8"/>
<line x1="58.0" y1="161.6" x2="58.0" y2="164.2" stroke="#222" stroke-width="0.8"/>
<line x1="104.4" y1="161.6" x2="104.4" y2="164.2" stroke="#222" stroke-width="0.8"/>
</g>
<g transform="translate(169.4,194.8)">
<svg x="0" y="0" width="133.6" height="161.6" viewBox="0 0 133.6 161.6" overflow="hidden">
<rect width="133.6" height="161.6" fill="#c2c2c2"/>
<rect width="133.6" height="161.6" fill="#000" filter="url(#hs)"/>
<g mask="url(#mR)"><rect x="-60" y="-60" width="253.6" height="281.6" fill="#000" filter="url(#hs2)" transform="rotate(35 66.8 80.8)"/></g>
<path d="M0,95.5 L5,95.8 L2.5,97.6 L0,98 Z" fill="#f2f2f2"/>
<polygon points="88,145 94,145 101,150 109,157.5 112,162 88,162" fill="#ffffff"/>
<use href="#pg" fill="none" stroke="#dadada" stroke-width="2.6" opacity="0.8"/>
<use href="#pg" fill="#5cab3c"/>
<use href="#pg" fill="#000" filter="url(#gn)"/>
<use href="#pg" fill="none" stroke="#141a12" stroke-width="1.0"/>
<g clip-path="url(#clipPoly)">
<polygon points="43.0,36.0 47.0,34.5 51.0,38.0 56.0,44.0 58.0,50.0 62.0,50.5 68.0,53.0 76.0,53.0 81.0,57.0 85.0,63.0 87.0,71.0 85.0,78.0 81.0,83.0 79.0,90.0 75.0,95.0 69.0,97.0 63.0,94.0 59.0,88.0 52.0,87.0 46.0,84.0 43.0,80.0 38.0,77.0 33.0,73.0 32.0,68.0 36.0,64.0 38.0,58.0 37.0,50.0 38.0,43.0" fill="#fff" filter="url(#haloE)"/><polygon points="44.0,39.7 46.4,37.8 48.7,38.9 51.1,42.9 54.2,46.8 55.0,50.7 56.6,55.5 60.5,53.9 63.7,54.7 66.9,57.0 70.8,57.8 74.7,57.0 77.1,58.6 79.5,61.8 81.0,65.7 82.6,71.2 81.0,76.0 77.9,79.1 76.3,83.9 74.7,88.6 71.6,91.7 67.6,92.5 65.3,90.2 62.9,85.4 59.0,83.9 54.2,83.1 51.1,82.3 47.9,79.9 47.1,76.8 46.0,73.6 42.5,73.0 40.5,70.8 41.8,67.5 44.0,64.9 42.4,61.8 41.6,57.0 40.8,52.3 41.6,47.6 42.4,42.9" fill="#fff" filter="url(#coreE)"/><polyline points="36,71 46,68 56,64.5 66,61 76,57" fill="none" stroke="#8ed06a" stroke-width="1.8" opacity="0.8"/><g filter="url(#blur05)"><ellipse cx="93.2" cy="93.1" rx="1.2" ry="0.9" fill="#9ad47c" opacity="0.65"/><ellipse cx="103.2" cy="67.2" rx="0.9" ry="0.7" fill="#9ad47c" opacity="0.65"/><ellipse cx="96.3" cy="81.3" rx="1.1" ry="0.8" fill="#ee9a7a" opacity="0.65"/><ellipse cx="81.1" cy="92.5" rx="1.6" ry="1.3" fill="#9ad47c" opacity="0.65"/><ellipse cx="99.2" cy="93.7" rx="1.8" ry="1.4" fill="#9ad47c" opacity="0.65"/><ellipse cx="100.5" cy="69.3" rx="1.6" ry="1.2" fill="#e9b08a" opacity="0.65"/><ellipse cx="97.8" cy="94.8" rx="0.9" ry="0.7" fill="#e9b08a" opacity="0.65"/><ellipse cx="90.1" cy="61.7" rx="1.5" ry="1.2" fill="#ee9a7a" opacity="0.65"/><ellipse cx="98.7" cy="75.2" rx="1.4" ry="1.1" fill="#e9b08a" opacity="0.65"/><ellipse cx="92.4" cy="63.6" rx="1.8" ry="1.4" fill="#ee9a7a" opacity="0.65"/><ellipse cx="87.2" cy="97.1" rx="1.5" ry="1.1" fill="#9ad47c" opacity="0.65"/><ellipse cx="30.2" cy="72.5" rx="1.9" ry="1.5" fill="#ee9a7a" opacity="0.65"/><ellipse cx="85.0" cy="96.4" rx="1.1" ry="0.8" fill="#ee9a7a" opacity="0.65"/><ellipse cx="96.5" cy="89.3" rx="1.8" ry="1.4" fill="#e9b08a" opacity="0.65"/><ellipse cx="103.3" cy="71.7" rx="1.0" ry="0.8" fill="#9ad47c" opacity="0.65"/><ellipse cx="93.2" cy="91.1" rx="0.8" ry="0.6" fill="#e9b08a" opacity="0.65"/><ellipse cx="93.7" cy="62.5" rx="1.5" ry="1.2" fill="#ee9a7a" opacity="0.65"/><ellipse cx="99.6" cy="79.1" rx="1.9" ry="1.5" fill="#e9b08a" opacity="0.65"/><ellipse cx="93.3" cy="59.5" rx="0.9" ry="0.7" fill="#e9b08a" opacity="0.65"/><ellipse cx="109.3" cy="68.3" rx="1.7" ry="1.3" fill="#9ad47c" opacity="0.65"/><ellipse cx="107.6" cy="77.8" rx="1.6" ry="1.2" fill="#9ad47c" opacity="0.65"/><ellipse cx="98.0" cy="58.9" rx="1.7" ry="1.3" fill="#e9b08a" opacity="0.65"/><ellipse cx="90.5" cy="98.1" rx="0.9" ry="0.7" fill="#e9b08a" opacity="0.65"/><ellipse cx="82.3" cy="93.5" rx="0.9" ry="0.7" fill="#9ad47c" opacity="0.65"/><ellipse cx="93.8" cy="90.6" rx="1.4" ry="1.1" fill="#e9b08a" opacity="0.65"/><ellipse cx="96.1" cy="93.8" rx="1.6" ry="1.3" fill="#e9b08a" opacity="0.65"/></g>
</g>
<rect x="101.5" y="-0.1" width="27.2" height="23.2" fill="#ffffff"/>
<text x="103.0" y="9.4" font-size="9.2" font-family="'Liberation Serif', 'Times New Roman', serif" fill="#1a1a1a" stroke="#1a1a1a" stroke-width="0.25"><tspan font-style="italic">R</tspan><tspan font-size="5.5" font-style="italic" dy="1.5">d</tspan><tspan dy="-1.5">=</tspan>0.5</text>
<text x="104.6" y="20.8" font-size="9.4" font-family="'Liberation Serif', 'Times New Roman', serif" fill="#1a1a1a" stroke="#1a1a1a" stroke-width="0.25">RF<tspan font-size="6.2">EQS</tspan></text>
<polyline points="74.6,68.8 3.0,105.0" fill="none" stroke="#1f35d6" stroke-width="1.3" stroke-dasharray="3.2,1.6"/>
<polyline points="80.9,69.3 88.3,105.0" fill="none" stroke="#1f35d6" stroke-width="1.3" stroke-dasharray="3.2,1.6"/>
<rect x="74.6" y="65.0" width="6.3" height="4.3" fill="none" stroke="#1f35d6" stroke-width="1.2"/>
<polygon points="48.0,82.4 49.4,85.7 52.9,86.0 50.2,88.3 51.1,91.8 48.0,89.9 44.9,91.8 45.8,88.3 43.1,86.0 46.6,85.7" fill="#f3ee1c" stroke="#111" stroke-width="1"/>
<path d="M0,104.7 H3.0 V158.6 H88.3 V162.6 H0 Z" fill="#ffffff"/>
<svg x="3.0" y="105.0" width="85.3" height="53.6" viewBox="0 0 85.3 53.6" overflow="hidden">
<rect x="-30" y="-30" width="145.3" height="113.6" fill="#000" filter="url(#insE)" transform="rotate(-35 42.65 26.8)"/><g opacity="0.45"><path d="M51.3,55.0 C51.0,53.2 50.0,47.5 49.4,44.5 C48.8,41.5 48.0,39.0 47.5,36.8 C47.0,34.5 46.4,32.9 46.5,31.0 C46.6,29.1 47.4,26.8 48.4,25.2 C49.4,23.6 51.2,22.9 52.3,21.3 C53.4,19.7 54.6,17.4 55.2,15.5 C55.9,13.6 56.2,11.6 56.2,9.7 C56.2,7.8 55.5,5.7 55.2,3.9 C54.9,2.1 54.4,-0.2 54.2,-1.0" fill="none" stroke="#f2d89c" stroke-width="2.8"/><path d="M46.5,32.0 C45.2,30.9 41.0,27.0 38.7,25.2 C36.4,23.4 34.8,22.4 32.9,21.3 C31.0,20.2 29.0,19.2 27.1,18.4 C25.2,17.6 23.2,17.0 21.3,16.5 C19.4,16.0 18.2,15.9 15.5,15.5 C12.8,15.1 6.8,14.2 5.0,14.0" fill="none" stroke="#f2d89c" stroke-width="2.8"/><path d="M47.5,36.8 C46.4,37.1 43.1,37.9 40.7,38.7 C38.3,39.5 36.2,40.4 32.9,41.6 C29.6,42.8 23.0,45.3 21.0,46.0" fill="none" stroke="#f2d89c" stroke-width="2.8"/><path d="M49.4,45.5 C48.6,46.0 46.3,47.4 44.5,48.4 C42.7,49.4 39.7,50.8 38.7,51.3" fill="none" stroke="#f2d89c" stroke-width="2.8"/><path d="M52.3,21.3 C53.6,21.0 57.4,20.0 60.0,19.4 C62.6,18.8 64.9,18.0 67.8,17.4 C70.7,16.8 74.5,16.1 77.5,15.5 C80.5,14.9 84.6,14.2 86.0,14.0" fill="none" stroke="#f2d89c" stroke-width="2.8"/><path d="M49.0,29.0 C50.2,29.0 53.7,28.7 56.2,29.0 C58.7,29.3 61.0,30.4 63.9,31.0 C66.8,31.6 70.4,32.4 73.6,32.9 C76.8,33.4 81.7,33.7 83.3,33.9" fill="none" stroke="#f2d89c" stroke-width="2.8"/><path d="M50.3,38.7 C51.6,39.0 55.5,40.1 58.1,40.7 C60.7,41.4 63.0,42.0 65.9,42.6 C68.8,43.2 73.9,44.2 75.5,44.5" fill="none" stroke="#f2d89c" stroke-width="2.8"/><path d="M55.2,11.6 C56.7,11.3 61.2,10.3 63.9,9.7 C66.6,9.0 68.7,8.3 71.6,7.7 C74.5,7.1 79.7,6.1 81.3,5.8" fill="none" stroke="#f2d89c" stroke-width="2.8"/><path d="M38.7,25.2 C38.1,23.7 37.0,19.9 35.0,16.0 C33.0,12.1 28.3,4.3 27.0,2.0" fill="none" stroke="#f2d89c" stroke-width="2.8"/><path d="M65.9,42.6 C66.2,44.5 67.7,52.1 68.0,54.0" fill="none" stroke="#f2d89c" stroke-width="2.8"/><path d="M21.3,16.5 C20.1,15.1 16.2,10.4 14.0,8.0 C11.8,5.6 9.0,3.0 8.0,2.0" fill="none" stroke="#f2d89c" stroke-width="2.8"/><path d="M32.9,41.6 C31.8,43.3 27.1,50.3 26.0,52.0" fill="none" stroke="#f2d89c" stroke-width="2.8"/></g><path d="M50.7,51.9 L52.9,53.7 M50.2,48.7 L47.7,51.0 M50.2,48.7 L54.2,50.9 M49.6,45.6 L47.6,48.6 M49.6,45.6 L52.0,46.7 M48.6,41.4 L47.1,43.9 M47.9,38.3 L45.7,42.0 M47.9,38.3 L50.9,40.4 M47.0,33.6 L50.1,35.5 M47.5,28.0 L43.5,28.8 M47.5,28.0 L49.0,31.4 M50.7,22.9 L46.2,21.6 M53.7,18.4 L50.5,18.8 M53.7,18.4 L54.5,21.6 M55.2,15.6 L51.6,15.6 M55.2,15.6 L56.6,18.2 M55.7,12.3 L53.6,13.7 M55.7,12.3 L58.4,14.6 M55.7,6.5 L53.2,9.1 M54.6,0.8 L51.8,3.0 M54.6,0.8 L56.6,1.3 M44.1,29.9 L44.0,31.9 M41.7,27.8 L41.5,32.4 M41.7,27.8 L44.7,26.8 M39.3,25.7 L38.6,28.1 M39.3,25.7 L42.3,25.6 M36.0,23.4 L36.2,25.5 M33.4,21.6 L32.9,26.5 M33.4,21.6 L37.3,20.7 M30.0,19.9 L32.5,19.1 M27.2,18.4 L28.7,23.2 M27.2,18.4 L30.6,16.6 M24.1,17.4 L28.4,15.6 M18.1,16.0 L19.7,19.2 M18.1,16.0 L20.7,14.2 M12.3,15.0 L14.8,18.7 M12.3,15.0 L14.3,13.8 M9.2,14.6 L10.3,16.7 M9.2,14.6 L12.0,11.6 M6.0,14.1 L6.6,16.1 M6.0,14.1 L8.0,11.8 M41.3,38.5 L44.0,40.9 M37.7,39.8 L39.0,37.2 M29.9,42.7 L31.5,44.0 M29.9,42.7 L30.9,40.2 M26.9,43.8 L29.3,44.7 M26.9,43.8 L27.3,41.0 M23.9,44.9 L27.1,47.5 M23.9,44.9 L25.2,41.6 M46.6,47.1 L49.6,48.0 M41.6,49.8 L43.6,50.7 M41.6,49.8 L42.9,46.6 M38.8,51.3 L40.7,52.8 M38.8,51.3 L38.9,48.5 M55.4,20.5 L53.6,19.0 M55.4,20.5 L54.3,25.1 M58.5,19.8 L54.9,18.0 M58.5,19.8 L57.2,22.2 M63.1,18.6 L59.2,15.9 M63.1,18.6 L62.1,22.6 M66.2,17.8 L62.8,14.6 M66.2,17.8 L65.1,19.9 M70.9,16.8 L68.4,13.9 M74.1,16.2 L71.9,13.9 M74.1,16.2 L72.2,20.7 M77.2,15.6 L76.4,17.8 M80.7,14.9 L79.1,18.4 M83.8,14.4 L81.6,11.6 M83.8,14.4 L82.1,18.6 M55.4,29.0 L53.1,24.9 M55.4,29.0 L52.6,31.7 M59.3,29.8 L58.6,27.4 M62.4,30.6 L60.9,28.0 M62.4,30.6 L59.8,33.2 M67.0,31.6 L66.1,29.3 M67.0,31.6 L63.1,34.6 M70.2,32.2 L67.8,28.4 M70.2,32.2 L67.9,34.0 M73.3,32.8 L70.9,29.7 M76.8,33.2 L75.5,30.3 M76.8,33.2 L75.4,35.2 M80.0,33.6 L78.6,30.3 M80.0,33.6 L78.4,34.9 M83.1,33.9 L81.0,35.9 M53.4,39.5 L50.4,41.3 M61.2,41.5 L59.4,43.3 M64.3,42.2 L62.5,39.2 M64.3,42.2 L61.6,44.9 M69.0,43.2 L66.2,44.8 M72.2,43.8 L68.7,46.1 M75.3,44.5 L74.6,42.4 M58.3,10.9 L56.5,9.4 M58.3,10.9 L56.5,15.1 M61.5,10.2 L59.5,8.2 M61.5,10.2 L60.5,12.1 M67.0,8.9 L64.7,7.5 M67.0,8.9 L64.6,13.1 M70.1,8.1 L65.8,5.6 M74.7,7.1 L72.9,4.8 M74.7,7.1 L73.5,9.5 M77.9,6.5 L74.6,3.6 M77.9,6.5 L75.5,10.8 M81.0,5.9 L78.5,3.2 M81.0,5.9 L79.6,7.8 M37.5,22.2 L34.9,25.3 M37.5,22.2 L42.2,22.7 M36.3,19.3 L35.3,21.1 M36.3,19.3 L40.2,19.7 M33.4,13.2 L32.6,17.3 M33.4,13.2 L37.7,13.0 M31.8,10.4 L30.9,14.1 M31.8,10.4 L34.4,10.5 M28.6,4.9 L27.7,9.5 M28.6,4.9 L32.6,5.4 M27.1,2.1 L26.1,4.1 M27.1,2.1 L31.9,1.7 M66.5,45.7 L67.7,43.8 M66.5,45.7 L63.3,44.0 M67.1,48.9 L70.3,46.5 M67.1,48.9 L63.7,47.4 M67.6,52.0 L70.6,48.1 M67.6,52.0 L65.7,51.2 M19.2,14.1 L18.8,17.1 M19.2,14.1 L21.8,13.6 M17.1,11.6 L17.0,15.9 M15.0,9.2 L14.7,12.7 M11.7,5.7 L11.9,8.3 M11.7,5.7 L15.1,6.0 M9.5,3.5 L12.8,3.7 M31.1,44.3 L34.8,43.9 M29.4,46.9 L31.4,46.5 M29.4,46.9 L27.9,44.0 M27.6,49.6 L30.3,49.5" fill="none" stroke="#f0c888" stroke-width="1.3" opacity="0.4"/><path d="M50.7,51.9 L52.9,53.7 M50.2,48.7 L47.7,51.0 M50.2,48.7 L54.2,50.9 M49.6,45.6 L47.6,48.6 M49.6,45.6 L52.0,46.7 M48.6,41.4 L47.1,43.9 M47.9,38.3 L45.7,42.0 M47.9,38.3 L50.9,40.4 M47.0,33.6 L50.1,35.5 M47.5,28.0 L43.5,28.8 M47.5,28.0 L49.0,31.4 M50.7,22.9 L46.2,21.6 M53.7,18.4 L50.5,18.8 M53.7,18.4 L54.5,21.6 M55.2,15.6 L51.6,15.6 M55.2,15.6 L56.6,18.2 M55.7,12.3 L53.6,13.7 M55.7,12.3 L58.4,14.6 M55.7,6.5 L53.2,9.1 M54.6,0.8 L51.8,3.0 M54.6,0.8 L56.6,1.3 M44.1,29.9 L44.0,31.9 M41.7,27.8 L41.5,32.4 M41.7,27.8 L44.7,26.8 M39.3,25.7 L38.6,28.1 M39.3,25.7 L42.3,25.6 M36.0,23.4 L36.2,25.5 M33.4,21.6 L32.9,26.5 M33.4,21.6 L37.3,20.7 M30.0,19.9 L32.5,19.1 M27.2,18.4 L28.7,23.2 M27.2,18.4 L30.6,16.6 M24.1,17.4 L28.4,15.6 M18.1,16.0 L19.7,19.2 M18.1,16.0 L20.7,14.2 M12.3,15.0 L14.8,18.7 M12.3,15.0 L14.3,13.8 M9.2,14.6 L10.3,16.7 M9.2,14.6 L12.0,11.6 M6.0,14.1 L6.6,16.1 M6.0,14.1 L8.0,11.8 M41.3,38.5 L44.0,40.9 M37.7,39.8 L39.0,37.2 M29.9,42.7 L31.5,44.0 M29.9,42.7 L30.9,40.2 M26.9,43.8 L29.3,44.7 M26.9,43.8 L27.3,41.0 M23.9,44.9 L27.1,47.5 M23.9,44.9 L25.2,41.6 M46.6,47.1 L49.6,48.0 M41.6,49.8 L43.6,50.7 M41.6,49.8 L42.9,46.6 M38.8,51.3 L40.7,52.8 M38.8,51.3 L38.9,48.5 M55.4,20.5 L53.6,19.0 M55.4,20.5 L54.3,25.1 M58.5,19.8 L54.9,18.0 M58.5,19.8 L57.2,22.2 M63.1,18.6 L59.2,15.9 M63.1,18.6 L62.1,22.6 M66.2,17.8 L62.8,14.6 M66.2,17.8 L65.1,19.9 M70.9,16.8 L68.4,13.9 M74.1,16.2 L71.9,13.9 M74.1,16.2 L72.2,20.7 M77.2,15.6 L76.4,17.8 M80.7,14.9 L79.1,18.4 M83.8,14.4 L81.6,11.6 M83.8,14.4 L82.1,18.6 M55.4,29.0 L53.1,24.9 M55.4,29.0 L52.6,31.7 M59.3,29.8 L58.6,27.4 M62.4,30.6 L60.9,28.0 M62.4,30.6 L59.8,33.2 M67.0,31.6 L66.1,29.3 M67.0,31.6 L63.1,34.6 M70.2,32.2 L67.8,28.4 M70.2,32.2 L67.9,34.0 M73.3,32.8 L70.9,29.7 M76.8,33.2 L75.5,30.3 M76.8,33.2 L75.4,35.2 M80.0,33.6 L78.6,30.3 M80.0,33.6 L78.4,34.9 M83.1,33.9 L81.0,35.9 M53.4,39.5 L50.4,41.3 M61.2,41.5 L59.4,43.3 M64.3,42.2 L62.5,39.2 M64.3,42.2 L61.6,44.9 M69.0,43.2 L66.2,44.8 M72.2,43.8 L68.7,46.1 M75.3,44.5 L74.6,42.4 M58.3,10.9 L56.5,9.4 M58.3,10.9 L56.5,15.1 M61.5,10.2 L59.5,8.2 M61.5,10.2 L60.5,12.1 M67.0,8.9 L64.7,7.5 M67.0,8.9 L64.6,13.1 M70.1,8.1 L65.8,5.6 M74.7,7.1 L72.9,4.8 M74.7,7.1 L73.5,9.5 M77.9,6.5 L74.6,3.6 M77.9,6.5 L75.5,10.8 M81.0,5.9 L78.5,3.2 M81.0,5.9 L79.6,7.8 M37.5,22.2 L34.9,25.3 M37.5,22.2 L42.2,22.7 M36.3,19.3 L35.3,21.1 M36.3,19.3 L40.2,19.7 M33.4,13.2 L32.6,17.3 M33.4,13.2 L37.7,13.0 M31.8,10.4 L30.9,14.1 M31.8,10.4 L34.4,10.5 M28.6,4.9 L27.7,9.5 M28.6,4.9 L32.6,5.4 M27.1,2.1 L26.1,4.1 M27.1,2.1 L31.9,1.7 M66.5,45.7 L67.7,43.8 M66.5,45.7 L63.3,44.0 M67.1,48.9 L70.3,46.5 M67.1,48.9 L63.7,47.4 M67.6,52.0 L70.6,48.1 M67.6,52.0 L65.7,51.2 M19.2,14.1 L18.8,17.1 M19.2,14.1 L21.8,13.6 M17.1,11.6 L17.0,15.9 M15.0,9.2 L14.7,12.7 M11.7,5.7 L11.9,8.3 M11.7,5.7 L15.1,6.0 M9.5,3.5 L12.8,3.7 M31.1,44.3 L34.8,43.9 M29.4,46.9 L31.4,46.5 M29.4,46.9 L27.9,44.0 M27.6,49.6 L30.3,49.5" fill="none" stroke="#90d860" stroke-width="0.5" opacity="0.6"/><path d="M51.3,55.0 C51.0,53.2 50.0,47.5 49.4,44.5 C48.8,41.5 48.0,39.0 47.5,36.8 C47.0,34.5 46.4,32.9 46.5,31.0 C46.6,29.1 47.4,26.8 48.4,25.2 C49.4,23.6 51.2,22.9 52.3,21.3 C53.4,19.7 54.6,17.4 55.2,15.5 C55.9,13.6 56.2,11.6 56.2,9.7 C56.2,7.8 55.5,5.7 55.2,3.9 C54.9,2.1 54.4,-0.2 54.2,-1.0" fill="none" stroke="#6ccc44" stroke-width="1.1"/><path d="M46.5,32.0 C45.2,30.9 41.0,27.0 38.7,25.2 C36.4,23.4 34.8,22.4 32.9,21.3 C31.0,20.2 29.0,19.2 27.1,18.4 C25.2,17.6 23.2,17.0 21.3,16.5 C19.4,16.0 18.2,15.9 15.5,15.5 C12.8,15.1 6.8,14.2 5.0,14.0" fill="none" stroke="#6ccc44" stroke-width="1.1"/><path d="M47.5,36.8 C46.4,37.1 43.1,37.9 40.7,38.7 C38.3,39.5 36.2,40.4 32.9,41.6 C29.6,42.8 23.0,45.3 21.0,46.0" fill="none" stroke="#6ccc44" stroke-width="1.1"/><path d="M49.4,45.5 C48.6,46.0 46.3,47.4 44.5,48.4 C42.7,49.4 39.7,50.8 38.7,51.3" fill="none" stroke="#6ccc44" stroke-width="1.1"/><path d="M52.3,21.3 C53.6,21.0 57.4,20.0 60.0,19.4 C62.6,18.8 64.9,18.0 67.8,17.4 C70.7,16.8 74.5,16.1 77.5,15.5 C80.5,14.9 84.6,14.2 86.0,14.0" fill="none" stroke="#6ccc44" stroke-width="1.1"/><path d="M49.0,29.0 C50.2,29.0 53.7,28.7 56.2,29.0 C58.7,29.3 61.0,30.4 63.9,31.0 C66.8,31.6 70.4,32.4 73.6,32.9 C76.8,33.4 81.7,33.7 83.3,33.9" fill="none" stroke="#6ccc44" stroke-width="1.1"/><path d="M50.3,38.7 C51.6,39.0 55.5,40.1 58.1,40.7 C60.7,41.4 63.0,42.0 65.9,42.6 C68.8,43.2 73.9,44.2 75.5,44.5" fill="none" stroke="#6ccc44" stroke-width="1.1"/><path d="M55.2,11.6 C56.7,11.3 61.2,10.3 63.9,9.7 C66.6,9.0 68.7,8.3 71.6,7.7 C74.5,7.1 79.7,6.1 81.3,5.8" fill="none" stroke="#6ccc44" stroke-width="1.1"/><path d="M38.7,25.2 C38.1,23.7 37.0,19.9 35.0,16.0 C33.0,12.1 28.3,4.3 27.0,2.0" fill="none" stroke="#6ccc44" stroke-width="1.1"/><path d="M65.9,42.6 C66.2,44.5 67.7,52.1 68.0,54.0" fill="none" stroke="#6ccc44" stroke-width="1.1"/><path d="M21.3,16.5 C20.1,15.1 16.2,10.4 14.0,8.0 C11.8,5.6 9.0,3.0 8.0,2.0" fill="none" stroke="#6ccc44" stroke-width="1.1"/><path d="M32.9,41.6 C31.8,43.3 27.1,50.3 26.0,52.0" fill="none" stroke="#6ccc44" stroke-width="1.1"/><ellipse cx="42.2" cy="29.8" rx="2.1" ry="1.1" transform="rotate(-35 42.2 29.8)" fill="#6a1a10" opacity="0.8"/><ellipse cx="25.0" cy="43.1" rx="1.0" ry="0.5" transform="rotate(-35 25.0 43.1)" fill="#6a1a10" opacity="0.8"/><ellipse cx="30.7" cy="21.7" rx="1.5" ry="0.7" transform="rotate(-35 30.7 21.7)" fill="#4a0e08" opacity="0.8"/><ellipse cx="28.5" cy="0.3" rx="1.7" ry="0.9" transform="rotate(-35 28.5 0.3)" fill="#4a0e08" opacity="0.8"/><ellipse cx="54.1" cy="18.1" rx="1.6" ry="0.8" transform="rotate(-35 54.1 18.1)" fill="#4a0e08" opacity="0.8"/><ellipse cx="10.9" cy="21.6" rx="2.3" ry="1.1" transform="rotate(-35 10.9 21.6)" fill="#6a1a10" opacity="0.8"/><ellipse cx="37.6" cy="17.1" rx="1.5" ry="0.8" transform="rotate(-35 37.6 17.1)" fill="#4a0e08" opacity="0.8"/><ellipse cx="66.7" cy="33.0" rx="1.6" ry="0.8" transform="rotate(-35 66.7 33.0)" fill="#4a0e08" opacity="0.8"/><ellipse cx="11.1" cy="3.1" rx="1.5" ry="0.8" transform="rotate(-35 11.1 3.1)" fill="#4a0e08" opacity="0.8"/><ellipse cx="46.0" cy="4.6" rx="1.4" ry="0.7" transform="rotate(-35 46.0 4.6)" fill="#4a0e08" opacity="0.8"/><ellipse cx="36.1" cy="5.8" rx="1.5" ry="0.7" transform="rotate(-35 36.1 5.8)" fill="#4a0e08" opacity="0.8"/><ellipse cx="33.6" cy="6.2" rx="1.5" ry="0.7" transform="rotate(-35 33.6 6.2)" fill="#6a1a10" opacity="0.8"/><ellipse cx="2.7" cy="26.1" rx="1.6" ry="0.8" transform="rotate(-35 2.7 26.1)" fill="#6a1a10" opacity="0.8"/><ellipse cx="16.6" cy="3.8" rx="1.7" ry="0.8" transform="rotate(-35 16.6 3.8)" fill="#6a1a10" opacity="0.8"/><ellipse cx="55.4" cy="33.7" rx="1.6" ry="0.8" transform="rotate(-35 55.4 33.7)" fill="#6a1a10" opacity="0.8"/><ellipse cx="62.8" cy="38.7" rx="2.2" ry="1.1" transform="rotate(-35 62.8 38.7)" fill="#4a0e08" opacity="0.8"/><ellipse cx="71.3" cy="51.6" rx="2.4" ry="1.2" transform="rotate(-35 71.3 51.6)" fill="#6a1a10" opacity="0.8"/><ellipse cx="80.6" cy="4.1" rx="1.2" ry="0.6" transform="rotate(-35 80.6 4.1)" fill="#4a0e08" opacity="0.8"/><ellipse cx="68.8" cy="9.6" rx="1.9" ry="0.9" transform="rotate(-35 68.8 9.6)" fill="#6a1a10" opacity="0.8"/><ellipse cx="20.3" cy="11.1" rx="2.2" ry="1.1" transform="rotate(-35 20.3 11.1)" fill="#6a1a10" opacity="0.8"/><ellipse cx="35.0" cy="26.0" rx="1.4" ry="0.7" transform="rotate(-35 35.0 26.0)" fill="#4a0e08" opacity="0.8"/><ellipse cx="15.5" cy="9.0" rx="1.6" ry="0.8" transform="rotate(-35 15.5 9.0)" fill="#6a1a10" opacity="0.8"/><ellipse cx="76.5" cy="51.2" rx="1.8" ry="0.9" transform="rotate(-35 76.5 51.2)" fill="#4a0e08" opacity="0.8"/><ellipse cx="72.6" cy="34.6" rx="1.2" ry="0.6" transform="rotate(-35 72.6 34.6)" fill="#4a0e08" opacity="0.8"/><ellipse cx="10.9" cy="26.7" rx="1.1" ry="0.6" transform="rotate(-35 10.9 26.7)" fill="#6a1a10" opacity="0.8"/><ellipse cx="37.1" cy="23.4" rx="1.9" ry="1.0" transform="rotate(-35 37.1 23.4)" fill="#6a1a10" opacity="0.8"/><ellipse cx="66.7" cy="38.9" rx="1.7" ry="0.9" transform="rotate(-35 66.7 38.9)" fill="#4a0e08" opacity="0.8"/><ellipse cx="64.3" cy="43.2" rx="2.2" ry="1.1" transform="rotate(-35 64.3 43.2)" fill="#6a1a10" opacity="0.8"/><ellipse cx="64.8" cy="26.1" rx="1.7" ry="0.9" transform="rotate(-35 64.8 26.1)" fill="#4a0e08" opacity="0.8"/><ellipse cx="4.5" cy="18.4" rx="1.6" ry="0.8" transform="rotate(-35 4.5 18.4)" fill="#6a1a10" opacity="0.8"/><ellipse cx="66.5" cy="46.8" rx="1.8" ry="0.9" transform="rotate(-35 66.5 46.8)" fill="#6a1a10" opacity="0.8"/><ellipse cx="59.0" cy="50.1" rx="1.8" ry="0.9" transform="rotate(-35 59.0 50.1)" fill="#6a1a10" opacity="0.8"/><ellipse cx="55.5" cy="33.0" rx="2.4" ry="1.2" transform="rotate(-35 55.5 33.0)" fill="#6a1a10" opacity="0.8"/><ellipse cx="26.5" cy="37.2" rx="2.3" ry="1.1" transform="rotate(-35 26.5 37.2)" fill="#4a0e08" opacity="0.8"/><ellipse cx="21.5" cy="31.2" rx="2.1" ry="1.0" transform="rotate(-35 21.5 31.2)" fill="#4a0e08" opacity="0.8"/><ellipse cx="43.3" cy="41.9" rx="1.7" ry="0.8" transform="rotate(-35 43.3 41.9)" fill="#6a1a10" opacity="0.8"/><ellipse cx="63.2" cy="24.0" rx="1.8" ry="0.9" transform="rotate(-35 63.2 24.0)" fill="#6a1a10" opacity="0.8"/><ellipse cx="8.9" cy="20.3" rx="1.7" ry="0.8" transform="rotate(-35 8.9 20.3)" fill="#4a0e08" opacity="0.8"/><ellipse cx="17.5" cy="44.0" rx="1.6" ry="0.8" transform="rotate(-35 17.5 44.0)" fill="#6a1a10" opacity="0.8"/><ellipse cx="55.1" cy="43.7" rx="2.2" ry="1.1" transform="rotate(-35 55.1 43.7)" fill="#6a1a10" opacity="0.8"/><ellipse cx="39.1" cy="8.2" rx="2.1" ry="1.0" transform="rotate(-35 39.1 8.2)" fill="#4a0e08" opacity="0.8"/><ellipse cx="16.2" cy="4.9" rx="1.7" ry="0.9" transform="rotate(-35 16.2 4.9)" fill="#4a0e08" opacity="0.8"/><ellipse cx="45.8" cy="14.9" rx="1.6" ry="0.8" transform="rotate(-35 45.8 14.9)" fill="#4a0e08" opacity="0.8"/><ellipse cx="2.6" cy="31.8" rx="2.1" ry="1.0" transform="rotate(-35 2.6 31.8)" fill="#6a1a10" opacity="0.8"/><ellipse cx="18.3" cy="25.7" rx="1.5" ry="0.7" transform="rotate(-35 18.3 25.7)" fill="#6a1a10" opacity="0.8"/><ellipse cx="0.3" cy="26.8" rx="1.2" ry="0.6" transform="rotate(-35 0.3 26.8)" fill="#6a1a10" opacity="0.8"/><ellipse cx="49.7" cy="23.7" rx="1.9" ry="0.9" transform="rotate(-35 49.7 23.7)" fill="#4a0e08" opacity="0.8"/><ellipse cx="26.7" cy="8.5" rx="1.8" ry="0.9" transform="rotate(-35 26.7 8.5)" fill="#6a1a10" opacity="0.8"/><ellipse cx="25.1" cy="7.6" rx="1.5" ry="0.8" transform="rotate(-35 25.1 7.6)" fill="#6a1a10" opacity="0.8"/><ellipse cx="63.3" cy="43.3" rx="1.3" ry="0.6" transform="rotate(-35 63.3 43.3)" fill="#4a0e08" opacity="0.8"/>
</svg>
<rect x="3.0" y="105.0" width="85.3" height="53.6" fill="none" stroke="#151515" stroke-width="0.9"/>
<g font-family="'Liberation Serif', 'Times New Roman', serif" font-size="7.8" fill="#222">
<text x="93.2" y="134.2">0.8</text><text x="93.2" y="147.7">0.4</text><text x="93.2" y="161.6">0</text>
<text transform="translate(109.4,143.8) rotate(-90)" text-anchor="middle" font-size="7.2">km</text>
</g>
<rect x="114.9" y="146.6" width="14.3" height="12.4" fill="#ffffff"/>
<text x="122.05" y="154.8" text-anchor="middle" font-size="10.8" font-family="'Liberation Serif', 'Times New Roman', serif" fill="#1a1a1a" stroke="#1a1a1a" stroke-width="0.2">(e)</text>
</svg>
<rect x="0" y="0" width="133.6" height="161.6" fill="none" stroke="#585858" stroke-width="1"/>
<line x1="-2.6" y1="9.2" x2="0" y2="9.2" stroke="#222" stroke-width="0.8"/>
<line x1="-2.6" y1="79.5" x2="0" y2="79.5" stroke="#222" stroke-width="0.8"/>
<line x1="-2.6" y1="149.8" x2="0" y2="149.8" stroke="#222" stroke-width="0.8"/>
<line x1="11.0" y1="161.6" x2="11.0" y2="164.2" stroke="#222" stroke-width="0.8"/>
<line x1="58.0" y1="161.6" x2="58.0" y2="164.2" stroke="#222" stroke-width="0.8"/>
<line x1="104.4" y1="161.6" x2="104.4" y2="164.2" stroke="#222" stroke-width="0.8"/>
</g>
<g transform="translate(306.6,194.8)">
<svg x="0" y="0" width="133.6" height="161.6" viewBox="0 0 133.6 161.6" overflow="hidden">
<rect width="133.6" height="161.6" fill="#c2c2c2"/>
<rect width="133.6" height="161.6" fill="#000" filter="url(#hs)"/>
<g mask="url(#mR)"><rect x="-60" y="-60" width="253.6" height="281.6" fill="#000" filter="url(#hs2)" transform="rotate(35 66.8 80.8)"/></g>
<path d="M0,95.5 L5,95.8 L2.5,97.6 L0,98 Z" fill="#f2f2f2"/>
<polygon points="88,145 94,145 101,150 109,157.5 112,162 88,162" fill="#ffffff"/>
<use href="#pg" fill="none" stroke="#dadada" stroke-width="2.6" opacity="0.8"/>
<use href="#pg" fill="#5cab3c"/>
<use href="#pg" fill="#000" filter="url(#gn)"/>
<use href="#pg" fill="none" stroke="#141a12" stroke-width="1.0"/>
<g clip-path="url(#clipPoly)">
<polygon points="43.0,36.0 47.0,34.5 51.0,38.0 56.0,44.0 58.0,50.0 62.0,50.5 68.0,53.0 76.0,53.0 81.0,57.0 85.0,63.0 87.0,71.0 85.0,78.0 81.0,83.0 79.0,90.0 75.0,95.0 69.0,97.0 63.0,94.0 59.0,88.0 52.0,87.0 46.0,84.0 43.0,80.0 38.0,77.0 33.0,73.0 32.0,68.0 36.0,64.0 38.0,58.0 37.0,50.0 38.0,43.0" fill="#fff" filter="url(#haloF)"/><polygon points="44.0,39.7 46.4,37.8 48.7,38.9 51.1,42.9 54.2,46.8 55.0,50.7 56.6,55.5 60.5,53.9 63.7,54.7 66.9,57.0 70.8,57.8 74.7,57.0 77.1,58.6 79.5,61.8 81.0,65.7 82.6,71.2 81.0,76.0 77.9,79.1 76.3,83.9 74.7,88.6 71.6,91.7 67.6,92.5 65.3,90.2 62.9,85.4 59.0,83.9 54.2,83.1 51.1,82.3 47.9,79.9 47.1,76.8 46.0,73.6 42.5,73.0 40.5,70.8 41.8,67.5 44.0,64.9 42.4,61.8 41.6,57.0 40.8,52.3 41.6,47.6 42.4,42.9" fill="#fff" filter="url(#coreF)"/><polyline points="36,71 46,68 56,64.5 66,61 76,57" fill="none" stroke="#8ed06a" stroke-width="1.8" opacity="0.8"/><g filter="url(#blur05)"><ellipse cx="102.3" cy="80.3" rx="1.1" ry="0.8" fill="#e9b08a" opacity="0.65"/><ellipse cx="101.7" cy="70.1" rx="1.3" ry="1.0" fill="#e9b08a" opacity="0.65"/><ellipse cx="99.9" cy="82.6" rx="1.2" ry="0.9" fill="#ee9a7a" opacity="0.65"/><ellipse cx="104.8" cy="72.6" rx="1.1" ry="0.8" fill="#9ad47c" opacity="0.65"/><ellipse cx="99.6" cy="74.1" rx="1.0" ry="0.8" fill="#ee9a7a" opacity="0.65"/><ellipse cx="30.4" cy="71.6" rx="0.8" ry="0.6" fill="#e9b08a" opacity="0.65"/><ellipse cx="100.4" cy="75.0" rx="1.2" ry="0.9" fill="#ee9a7a" opacity="0.65"/><ellipse cx="94.7" cy="94.0" rx="1.6" ry="1.2" fill="#ee9a7a" opacity="0.65"/><ellipse cx="95.2" cy="65.8" rx="1.4" ry="1.1" fill="#e9b08a" opacity="0.65"/><ellipse cx="105.0" cy="66.6" rx="1.0" ry="0.8" fill="#ee9a7a" opacity="0.65"/><ellipse cx="104.4" cy="69.0" rx="1.4" ry="1.1" fill="#ee9a7a" opacity="0.65"/><ellipse cx="97.7" cy="60.9" rx="1.1" ry="0.8" fill="#e9b08a" opacity="0.65"/><ellipse cx="103.2" cy="69.8" rx="1.0" ry="0.7" fill="#9ad47c" opacity="0.65"/><ellipse cx="32.5" cy="71.4" rx="1.4" ry="1.1" fill="#9ad47c" opacity="0.65"/><ellipse cx="101.9" cy="71.6" rx="1.4" ry="1.1" fill="#ee9a7a" opacity="0.65"/><ellipse cx="97.6" cy="61.8" rx="1.6" ry="1.2" fill="#9ad47c" opacity="0.65"/><ellipse cx="28.4" cy="71.2" rx="1.2" ry="0.9" fill="#9ad47c" opacity="0.65"/><ellipse cx="82.8" cy="91.6" rx="1.2" ry="0.9" fill="#e9b08a" opacity="0.65"/><ellipse cx="83.5" cy="91.9" rx="1.8" ry="1.4" fill="#e9b08a" opacity="0.65"/><ellipse cx="103.6" cy="69.9" rx="1.4" ry="1.1" fill="#9ad47c" opacity="0.65"/><ellipse cx="95.9" cy="74.4" rx="1.8" ry="1.4" fill="#9ad47c" opacity="0.65"/><ellipse cx="90.6" cy="90.4" rx="1.4" ry="1.1" fill="#9ad47c" opacity="0.65"/><ellipse cx="95.3" cy="89.4" rx="1.3" ry="1.0" fill="#ee9a7a" opacity="0.65"/><ellipse cx="92.4" cy="92.5" rx="1.8" ry="1.4" fill="#9ad47c" opacity="0.65"/><ellipse cx="102.5" cy="82.6" rx="1.9" ry="1.5" fill="#ee9a7a" opacity="0.65"/><ellipse cx="103.8" cy="70.7" rx="1.7" ry="1.3" fill="#e9b08a" opacity="0.65"/></g>
</g>
<rect x="101.5" y="-0.1" width="27.2" height="23.2" fill="#ffffff"/>
<text x="103.0" y="9.4" font-size="9.2" font-family="'Liberation Serif', 'Times New Roman', serif" fill="#1a1a1a" stroke="#1a1a1a" stroke-width="0.25"><tspan font-style="italic">R</tspan><tspan font-size="5.5" font-style="italic" dy="1.5">d</tspan><tspan dy="-1.5">=</tspan>0.9</text>
<text x="104.6" y="20.8" font-size="9.4" font-family="'Liberation Serif', 'Times New Roman', serif" fill="#1a1a1a" stroke="#1a1a1a" stroke-width="0.25">RF<tspan font-size="6.2">EQS</tspan></text>
<polyline points="74.6,68.8 3.0,105.0" fill="none" stroke="#1f35d6" stroke-width="1.3" stroke-dasharray="3.2,1.6"/>
<polyline points="80.9,69.3 88.3,105.0" fill="none" stroke="#1f35d6" stroke-width="1.3" stroke-dasharray="3.2,1.6"/>
<rect x="74.6" y="65.0" width="6.3" height="4.3" fill="none" stroke="#1f35d6" stroke-width="1.2"/>
<polygon points="48.0,82.4 49.4,85.7 52.9,86.0 50.2,88.3 51.1,91.8 48.0,89.9 44.9,91.8 45.8,88.3 43.1,86.0 46.6,85.7" fill="#f3ee1c" stroke="#111" stroke-width="1"/>
<path d="M0,104.7 H3.0 V158.6 H88.3 V162.6 H0 Z" fill="#ffffff"/>
<svg x="3.0" y="105.0" width="85.3" height="53.6" viewBox="0 0 85.3 53.6" overflow="hidden">
<rect x="-30" y="-30" width="145.3" height="113.6" fill="#000" filter="url(#insF)" transform="rotate(-35 42.65 26.8)"/><g opacity="0.45"><path d="M51.3,55.0 C51.0,53.2 50.0,47.5 49.4,44.5 C48.8,41.5 48.0,39.0 47.5,36.8 C47.0,34.5 46.4,32.9 46.5,31.0 C46.6,29.1 47.4,26.8 48.4,25.2 C49.4,23.6 51.2,22.9 52.3,21.3 C53.4,19.7 54.6,17.4 55.2,15.5 C55.9,13.6 56.2,11.6 56.2,9.7 C56.2,7.8 55.5,5.7 55.2,3.9 C54.9,2.1 54.4,-0.2 54.2,-1.0" fill="none" stroke="#f2d89c" stroke-width="2.8"/><path d="M46.5,32.0 C45.2,30.9 41.0,27.0 38.7,25.2 C36.4,23.4 34.8,22.4 32.9,21.3 C31.0,20.2 29.0,19.2 27.1,18.4 C25.2,17.6 23.2,17.0 21.3,16.5 C19.4,16.0 18.2,15.9 15.5,15.5 C12.8,15.1 6.8,14.2 5.0,14.0" fill="none" stroke="#f2d89c" stroke-width="2.8"/><path d="M47.5,36.8 C46.4,37.1 43.1,37.9 40.7,38.7 C38.3,39.5 36.2,40.4 32.9,41.6 C29.6,42.8 23.0,45.3 21.0,46.0" fill="none" stroke="#f2d89c" stroke-width="2.8"/><path d="M49.4,45.5 C48.6,46.0 46.3,47.4 44.5,48.4 C42.7,49.4 39.7,50.8 38.7,51.3" fill="none" stroke="#f2d89c" stroke-width="2.8"/><path d="M52.3,21.3 C53.6,21.0 57.4,20.0 60.0,19.4 C62.6,18.8 64.9,18.0 67.8,17.4 C70.7,16.8 74.5,16.1 77.5,15.5 C80.5,14.9 84.6,14.2 86.0,14.0" fill="none" stroke="#f2d89c" stroke-width="2.8"/><path d="M49.0,29.0 C50.2,29.0 53.7,28.7 56.2,29.0 C58.7,29.3 61.0,30.4 63.9,31.0 C66.8,31.6 70.4,32.4 73.6,32.9 C76.8,33.4 81.7,33.7 83.3,33.9" fill="none" stroke="#f2d89c" stroke-width="2.8"/><path d="M50.3,38.7 C51.6,39.0 55.5,40.1 58.1,40.7 C60.7,41.4 63.0,42.0 65.9,42.6 C68.8,43.2 73.9,44.2 75.5,44.5" fill="none" stroke="#f2d89c" stroke-width="2.8"/><path d="M55.2,11.6 C56.7,11.3 61.2,10.3 63.9,9.7 C66.6,9.0 68.7,8.3 71.6,7.7 C74.5,7.1 79.7,6.1 81.3,5.8" fill="none" stroke="#f2d89c" stroke-width="2.8"/><path d="M38.7,25.2 C38.1,23.7 37.0,19.9 35.0,16.0 C33.0,12.1 28.3,4.3 27.0,2.0" fill="none" stroke="#f2d89c" stroke-width="2.8"/><path d="M65.9,42.6 C66.2,44.5 67.7,52.1 68.0,54.0" fill="none" stroke="#f2d89c" stroke-width="2.8"/><path d="M21.3,16.5 C20.1,15.1 16.2,10.4 14.0,8.0 C11.8,5.6 9.0,3.0 8.0,2.0" fill="none" stroke="#f2d89c" stroke-width="2.8"/><path d="M32.9,41.6 C31.8,43.3 27.1,50.3 26.0,52.0" fill="none" stroke="#f2d89c" stroke-width="2.8"/></g><path d="M50.8,52.4 L48.2,55.0 M50.4,49.9 L47.4,52.1 M50.4,49.9 L53.6,52.5 M49.9,47.3 L54.8,49.6 M49.4,44.8 L46.9,46.8 M48.8,42.0 L45.4,45.5 M48.2,39.5 L53.1,41.7 M47.5,36.9 L45.0,41.9 M47.5,36.9 L49.6,37.6 M47.1,34.2 L43.8,38.9 M47.3,28.5 L42.0,31.2 M47.3,28.5 L49.0,30.7 M48.1,26.1 L42.2,27.1 M50.2,23.4 L47.5,23.5 M50.2,23.4 L50.8,27.6 M52.1,21.5 L47.9,21.6 M52.1,21.5 L52.4,27.4 M53.5,19.0 L48.1,21.3 M53.5,19.0 L55.8,24.4 M54.6,16.6 L56.3,21.8 M55.6,12.9 L52.6,13.8 M55.6,12.9 L57.7,14.4 M56.1,10.4 L57.3,12.2 M55.8,7.1 L59.3,8.7 M55.3,4.6 L54.1,6.6 M55.3,4.6 L57.0,5.8 M54.7,1.4 L58.5,2.3 M42.6,28.6 L42.0,31.4 M42.6,28.6 L46.7,28.6 M40.6,26.9 L40.3,32.0 M36.5,23.7 L36.9,28.2 M34.4,22.3 L34.4,25.2 M34.4,22.3 L38.0,21.9 M30.6,20.1 L31.1,24.1 M30.6,20.1 L34.0,18.1 M28.2,19.0 L28.4,23.2 M28.2,19.0 L30.7,18.0 M24.6,17.6 L28.8,14.6 M22.2,16.8 L23.8,20.7 M22.2,16.8 L25.3,13.5 M18.7,16.1 L21.2,20.8 M18.7,16.1 L22.4,12.0 M16.2,15.6 L18.1,18.8 M16.2,15.6 L19.9,13.3 M12.9,15.1 L14.2,18.2 M12.9,15.1 L15.7,11.8 M10.4,14.8 L13.3,11.3 M5.2,14.0 L8.7,10.8 M45.0,37.5 L47.2,39.7 M42.5,38.2 L47.8,41.0 M42.5,38.2 L44.3,35.5 M38.3,39.6 L40.5,40.9 M35.8,40.5 L37.5,36.1 M33.4,41.4 L34.3,38.2 M30.5,42.5 L34.9,44.7 M30.5,42.5 L32.1,38.0 M28.0,43.4 L31.7,46.8 M28.0,43.4 L28.7,38.9 M25.6,44.3 L30.1,47.7 M25.6,44.3 L27.4,39.7 M23.1,45.2 L27.2,47.8 M23.1,45.2 L24.2,42.6 M47.2,46.8 L50.8,47.7 M47.2,46.8 L47.8,43.1 M44.9,48.1 L48.7,49.9 M42.2,49.6 L46.7,51.4 M42.2,49.6 L42.3,46.7 M39.8,50.7 L42.2,52.1 M54.8,20.7 L54.0,22.5 M57.3,20.1 L52.6,17.6 M57.3,20.1 L55.9,25.1 M59.9,19.4 L56.6,17.1 M62.5,18.8 L59.4,17.2 M62.5,18.8 L61.8,20.9 M65.0,18.1 L61.7,15.7 M65.0,18.1 L64.3,20.8 M67.6,17.5 L66.0,16.1 M70.4,16.9 L68.7,22.2 M72.9,16.4 L69.6,13.4 M72.9,16.4 L70.8,19.8 M75.5,15.9 L72.6,21.0 M80.1,15.0 L78.7,16.8 M82.6,14.6 L79.7,11.7 M82.6,14.6 L80.5,18.6 M85.2,14.1 L80.9,11.4 M51.6,29.0 L49.0,24.6 M51.6,29.0 L49.8,30.5 M54.2,29.0 L50.0,25.3 M58.7,29.7 L53.9,32.2 M61.2,30.3 L59.2,25.4 M63.7,31.0 L61.6,26.6 M63.7,31.0 L61.5,32.6 M66.5,31.5 L64.3,27.5 M69.0,32.0 L68.2,29.1 M71.6,32.5 L69.2,29.2 M71.6,32.5 L68.8,34.3 M76.2,33.2 L74.8,30.5 M76.2,33.2 L74.8,35.4 M78.8,33.4 L76.8,31.1 M81.4,33.7 L79.1,29.4 M81.4,33.7 L79.6,35.8 M52.8,39.3 L49.7,34.3 M55.3,40.0 L53.0,35.1 M55.3,40.0 L52.1,43.7 M57.9,40.6 L55.2,36.8 M60.6,41.3 L59.5,39.0 M60.6,41.3 L57.4,43.5 M63.2,41.9 L61.0,38.7 M63.2,41.9 L59.4,46.3 M65.7,42.5 L63.9,39.1 M65.7,42.5 L62.2,46.7 M68.5,43.1 L64.9,47.3 M71.0,43.6 L68.0,39.9 M73.6,44.1 L71.0,40.7 M57.7,11.0 L55.9,9.8 M57.7,11.0 L56.3,15.4 M60.3,10.5 L56.9,7.9 M62.8,9.9 L60.5,8.6 M62.8,9.9 L61.0,13.9 M66.4,9.0 L63.6,6.7 M66.4,9.0 L64.9,12.7 M68.9,8.4 L66.0,12.7 M71.4,7.7 L68.0,3.6 M71.4,7.7 L70.3,11.1 M74.2,7.2 L71.9,4.4 M74.2,7.2 L72.7,9.1 M76.7,6.7 L73.2,3.2 M76.7,6.7 L74.4,9.9 M79.3,6.2 L74.9,2.1 M79.3,6.2 L77.6,10.5 M37.7,22.8 L43.3,24.6 M36.8,20.4 L34.9,24.3 M36.8,20.4 L39.8,20.9 M33.7,13.7 L31.6,16.8 M33.7,13.7 L36.3,13.5 M32.4,11.5 L30.5,14.4 M32.4,11.5 L38.3,11.6 M31.1,9.2 L34.5,9.1 M29.8,7.0 L34.3,8.2 M28.6,4.7 L26.2,8.9 M28.6,4.7 L32.9,5.2 M27.3,2.5 L24.5,7.3 M27.3,2.5 L32.0,3.1 M66.4,45.2 L68.9,42.5 M66.4,45.2 L62.1,41.8 M66.8,47.7 L70.4,43.9 M66.8,47.7 L64.1,45.5 M67.3,50.3 L69.2,48.4 M67.3,50.3 L65.4,49.1 M67.8,52.8 L72.2,49.0 M67.8,52.8 L63.4,51.3 M19.6,14.5 L23.7,14.8 M17.9,12.6 L17.4,14.6 M16.2,10.6 L15.1,14.8 M16.2,10.6 L21.0,10.9 M14.5,8.6 L16.9,8.2 M12.2,6.2 L12.1,11.6 M12.2,6.2 L17.7,4.9 M10.3,4.3 L9.6,7.0 M10.3,4.3 L13.1,4.4 M8.5,2.5 L8.1,7.6 M30.0,45.9 L35.8,46.5 M30.0,45.9 L28.5,42.8 M27.2,50.3 L29.4,50.1 M27.2,50.3 L26.6,48.3" fill="none" stroke="#e8e4a0" stroke-width="1.6" opacity="0.6"/><path d="M50.8,52.4 L48.2,55.0 M50.4,49.9 L47.4,52.1 M50.4,49.9 L53.6,52.5 M49.9,47.3 L54.8,49.6 M49.4,44.8 L46.9,46.8 M48.8,42.0 L45.4,45.5 M48.2,39.5 L53.1,41.7 M47.5,36.9 L45.0,41.9 M47.5,36.9 L49.6,37.6 M47.1,34.2 L43.8,38.9 M47.3,28.5 L42.0,31.2 M47.3,28.5 L49.0,30.7 M48.1,26.1 L42.2,27.1 M50.2,23.4 L47.5,23.5 M50.2,23.4 L50.8,27.6 M52.1,21.5 L47.9,21.6 M52.1,21.5 L52.4,27.4 M53.5,19.0 L48.1,21.3 M53.5,19.0 L55.8,24.4 M54.6,16.6 L56.3,21.8 M55.6,12.9 L52.6,13.8 M55.6,12.9 L57.7,14.4 M56.1,10.4 L57.3,12.2 M55.8,7.1 L59.3,8.7 M55.3,4.6 L54.1,6.6 M55.3,4.6 L57.0,5.8 M54.7,1.4 L58.5,2.3 M42.6,28.6 L42.0,31.4 M42.6,28.6 L46.7,28.6 M40.6,26.9 L40.3,32.0 M36.5,23.7 L36.9,28.2 M34.4,22.3 L34.4,25.2 M34.4,22.3 L38.0,21.9 M30.6,20.1 L31.1,24.1 M30.6,20.1 L34.0,18.1 M28.2,19.0 L28.4,23.2 M28.2,19.0 L30.7,18.0 M24.6,17.6 L28.8,14.6 M22.2,16.8 L23.8,20.7 M22.2,16.8 L25.3,13.5 M18.7,16.1 L21.2,20.8 M18.7,16.1 L22.4,12.0 M16.2,15.6 L18.1,18.8 M16.2,15.6 L19.9,13.3 M12.9,15.1 L14.2,18.2 M12.9,15.1 L15.7,11.8 M10.4,14.8 L13.3,11.3 M5.2,14.0 L8.7,10.8 M45.0,37.5 L47.2,39.7 M42.5,38.2 L47.8,41.0 M42.5,38.2 L44.3,35.5 M38.3,39.6 L40.5,40.9 M35.8,40.5 L37.5,36.1 M33.4,41.4 L34.3,38.2 M30.5,42.5 L34.9,44.7 M30.5,42.5 L32.1,38.0 M28.0,43.4 L31.7,46.8 M28.0,43.4 L28.7,38.9 M25.6,44.3 L30.1,47.7 M25.6,44.3 L27.4,39.7 M23.1,45.2 L27.2,47.8 M23.1,45.2 L24.2,42.6 M47.2,46.8 L50.8,47.7 M47.2,46.8 L47.8,43.1 M44.9,48.1 L48.7,49.9 M42.2,49.6 L46.7,51.4 M42.2,49.6 L42.3,46.7 M39.8,50.7 L42.2,52.1 M54.8,20.7 L54.0,22.5 M57.3,20.1 L52.6,17.6 M57.3,20.1 L55.9,25.1 M59.9,19.4 L56.6,17.1 M62.5,18.8 L59.4,17.2 M62.5,18.8 L61.8,20.9 M65.0,18.1 L61.7,15.7 M65.0,18.1 L64.3,20.8 M67.6,17.5 L66.0,16.1 M70.4,16.9 L68.7,22.2 M72.9,16.4 L69.6,13.4 M72.9,16.4 L70.8,19.8 M75.5,15.9 L72.6,21.0 M80.1,15.0 L78.7,16.8 M82.6,14.6 L79.7,11.7 M82.6,14.6 L80.5,18.6 M85.2,14.1 L80.9,11.4 M51.6,29.0 L49.0,24.6 M51.6,29.0 L49.8,30.5 M54.2,29.0 L50.0,25.3 M58.7,29.7 L53.9,32.2 M61.2,30.3 L59.2,25.4 M63.7,31.0 L61.6,26.6 M63.7,31.0 L61.5,32.6 M66.5,31.5 L64.3,27.5 M69.0,32.0 L68.2,29.1 M71.6,32.5 L69.2,29.2 M71.6,32.5 L68.8,34.3 M76.2,33.2 L74.8,30.5 M76.2,33.2 L74.8,35.4 M78.8,33.4 L76.8,31.1 M81.4,33.7 L79.1,29.4 M81.4,33.7 L79.6,35.8 M52.8,39.3 L49.7,34.3 M55.3,40.0 L53.0,35.1 M55.3,40.0 L52.1,43.7 M57.9,40.6 L55.2,36.8 M60.6,41.3 L59.5,39.0 M60.6,41.3 L57.4,43.5 M63.2,41.9 L61.0,38.7 M63.2,41.9 L59.4,46.3 M65.7,42.5 L63.9,39.1 M65.7,42.5 L62.2,46.7 M68.5,43.1 L64.9,47.3 M71.0,43.6 L68.0,39.9 M73.6,44.1 L71.0,40.7 M57.7,11.0 L55.9,9.8 M57.7,11.0 L56.3,15.4 M60.3,10.5 L56.9,7.9 M62.8,9.9 L60.5,8.6 M62.8,9.9 L61.0,13.9 M66.4,9.0 L63.6,6.7 M66.4,9.0 L64.9,12.7 M68.9,8.4 L66.0,12.7 M71.4,7.7 L68.0,3.6 M71.4,7.7 L70.3,11.1 M74.2,7.2 L71.9,4.4 M74.2,7.2 L72.7,9.1 M76.7,6.7 L73.2,3.2 M76.7,6.7 L74.4,9.9 M79.3,6.2 L74.9,2.1 M79.3,6.2 L77.6,10.5 M37.7,22.8 L43.3,24.6 M36.8,20.4 L34.9,24.3 M36.8,20.4 L39.8,20.9 M33.7,13.7 L31.6,16.8 M33.7,13.7 L36.3,13.5 M32.4,11.5 L30.5,14.4 M32.4,11.5 L38.3,11.6 M31.1,9.2 L34.5,9.1 M29.8,7.0 L34.3,8.2 M28.6,4.7 L26.2,8.9 M28.6,4.7 L32.9,5.2 M27.3,2.5 L24.5,7.3 M27.3,2.5 L32.0,3.1 M66.4,45.2 L68.9,42.5 M66.4,45.2 L62.1,41.8 M66.8,47.7 L70.4,43.9 M66.8,47.7 L64.1,45.5 M67.3,50.3 L69.2,48.4 M67.3,50.3 L65.4,49.1 M67.8,52.8 L72.2,49.0 M67.8,52.8 L63.4,51.3 M19.6,14.5 L23.7,14.8 M17.9,12.6 L17.4,14.6 M16.2,10.6 L15.1,14.8 M16.2,10.6 L21.0,10.9 M14.5,8.6 L16.9,8.2 M12.2,6.2 L12.1,11.6 M12.2,6.2 L17.7,4.9 M10.3,4.3 L9.6,7.0 M10.3,4.3 L13.1,4.4 M8.5,2.5 L8.1,7.6 M30.0,45.9 L35.8,46.5 M30.0,45.9 L28.5,42.8 M27.2,50.3 L29.4,50.1 M27.2,50.3 L26.6,48.3" fill="none" stroke="#90d860" stroke-width="0.5" opacity="0.75"/><path d="M51.3,55.0 C51.0,53.2 50.0,47.5 49.4,44.5 C48.8,41.5 48.0,39.0 47.5,36.8 C47.0,34.5 46.4,32.9 46.5,31.0 C46.6,29.1 47.4,26.8 48.4,25.2 C49.4,23.6 51.2,22.9 52.3,21.3 C53.4,19.7 54.6,17.4 55.2,15.5 C55.9,13.6 56.2,11.6 56.2,9.7 C56.2,7.8 55.5,5.7 55.2,3.9 C54.9,2.1 54.4,-0.2 54.2,-1.0" fill="none" stroke="#6ccc44" stroke-width="1.1"/><path d="M46.5,32.0 C45.2,30.9 41.0,27.0 38.7,25.2 C36.4,23.4 34.8,22.4 32.9,21.3 C31.0,20.2 29.0,19.2 27.1,18.4 C25.2,17.6 23.2,17.0 21.3,16.5 C19.4,16.0 18.2,15.9 15.5,15.5 C12.8,15.1 6.8,14.2 5.0,14.0" fill="none" stroke="#6ccc44" stroke-width="1.1"/><path d="M47.5,36.8 C46.4,37.1 43.1,37.9 40.7,38.7 C38.3,39.5 36.2,40.4 32.9,41.6 C29.6,42.8 23.0,45.3 21.0,46.0" fill="none" stroke="#6ccc44" stroke-width="1.1"/><path d="M49.4,45.5 C48.6,46.0 46.3,47.4 44.5,48.4 C42.7,49.4 39.7,50.8 38.7,51.3" fill="none" stroke="#6ccc44" stroke-width="1.1"/><path d="M52.3,21.3 C53.6,21.0 57.4,20.0 60.0,19.4 C62.6,18.8 64.9,18.0 67.8,17.4 C70.7,16.8 74.5,16.1 77.5,15.5 C80.5,14.9 84.6,14.2 86.0,14.0" fill="none" stroke="#6ccc44" stroke-width="1.1"/><path d="M49.0,29.0 C50.2,29.0 53.7,28.7 56.2,29.0 C58.7,29.3 61.0,30.4 63.9,31.0 C66.8,31.6 70.4,32.4 73.6,32.9 C76.8,33.4 81.7,33.7 83.3,33.9" fill="none" stroke="#6ccc44" stroke-width="1.1"/><path d="M50.3,38.7 C51.6,39.0 55.5,40.1 58.1,40.7 C60.7,41.4 63.0,42.0 65.9,42.6 C68.8,43.2 73.9,44.2 75.5,44.5" fill="none" stroke="#6ccc44" stroke-width="1.1"/><path d="M55.2,11.6 C56.7,11.3 61.2,10.3 63.9,9.7 C66.6,9.0 68.7,8.3 71.6,7.7 C74.5,7.1 79.7,6.1 81.3,5.8" fill="none" stroke="#6ccc44" stroke-width="1.1"/><path d="M38.7,25.2 C38.1,23.7 37.0,19.9 35.0,16.0 C33.0,12.1 28.3,4.3 27.0,2.0" fill="none" stroke="#6ccc44" stroke-width="1.1"/><path d="M65.9,42.6 C66.2,44.5 67.7,52.1 68.0,54.0" fill="none" stroke="#6ccc44" stroke-width="1.1"/><path d="M21.3,16.5 C20.1,15.1 16.2,10.4 14.0,8.0 C11.8,5.6 9.0,3.0 8.0,2.0" fill="none" stroke="#6ccc44" stroke-width="1.1"/><path d="M32.9,41.6 C31.8,43.3 27.1,50.3 26.0,52.0" fill="none" stroke="#6ccc44" stroke-width="1.1"/><ellipse cx="79.2" cy="9.3" rx="2.4" ry="1.2" transform="rotate(-35 79.2 9.3)" fill="#4a0e08" opacity="0.8"/><ellipse cx="76.1" cy="16.6" rx="1.9" ry="1.0" transform="rotate(-35 76.1 16.6)" fill="#4a0e08" opacity="0.8"/><ellipse cx="43.3" cy="8.7" rx="2.3" ry="1.2" transform="rotate(-35 43.3 8.7)" fill="#4a0e08" opacity="0.8"/><ellipse cx="73.8" cy="1.6" rx="1.7" ry="0.8" transform="rotate(-35 73.8 1.6)" fill="#4a0e08" opacity="0.8"/><ellipse cx="66.1" cy="18.4" rx="1.8" ry="0.9" transform="rotate(-35 66.1 18.4)" fill="#4a0e08" opacity="0.8"/><ellipse cx="59.0" cy="38.5" rx="1.5" ry="0.7" transform="rotate(-35 59.0 38.5)" fill="#6a1a10" opacity="0.8"/><ellipse cx="48.0" cy="33.1" rx="2.3" ry="1.2" transform="rotate(-35 48.0 33.1)" fill="#6a1a10" opacity="0.8"/><ellipse cx="76.5" cy="19.4" rx="2.3" ry="1.1" transform="rotate(-35 76.5 19.4)" fill="#4a0e08" opacity="0.8"/><ellipse cx="26.2" cy="15.6" rx="1.6" ry="0.8" transform="rotate(-35 26.2 15.6)" fill="#6a1a10" opacity="0.8"/><ellipse cx="16.7" cy="32.1" rx="1.0" ry="0.5" transform="rotate(-35 16.7 32.1)" fill="#4a0e08" opacity="0.8"/><ellipse cx="1.2" cy="13.4" rx="1.1" ry="0.6" transform="rotate(-35 1.2 13.4)" fill="#6a1a10" opacity="0.8"/><ellipse cx="38.4" cy="26.2" rx="1.4" ry="0.7" transform="rotate(-35 38.4 26.2)" fill="#4a0e08" opacity="0.8"/><ellipse cx="31.5" cy="30.3" rx="2.3" ry="1.1" transform="rotate(-35 31.5 30.3)" fill="#6a1a10" opacity="0.8"/><ellipse cx="12.2" cy="29.2" rx="1.5" ry="0.8" transform="rotate(-35 12.2 29.2)" fill="#6a1a10" opacity="0.8"/><ellipse cx="40.4" cy="19.4" rx="2.2" ry="1.1" transform="rotate(-35 40.4 19.4)" fill="#4a0e08" opacity="0.8"/><ellipse cx="8.3" cy="0.9" rx="1.9" ry="0.9" transform="rotate(-35 8.3 0.9)" fill="#4a0e08" opacity="0.8"/><ellipse cx="61.4" cy="50.7" rx="1.9" ry="0.9" transform="rotate(-35 61.4 50.7)" fill="#6a1a10" opacity="0.8"/><ellipse cx="29.3" cy="35.1" rx="1.2" ry="0.6" transform="rotate(-35 29.3 35.1)" fill="#6a1a10" opacity="0.8"/><ellipse cx="8.9" cy="14.8" rx="1.2" ry="0.6" transform="rotate(-35 8.9 14.8)" fill="#6a1a10" opacity="0.8"/><ellipse cx="84.6" cy="51.9" rx="2.3" ry="1.2" transform="rotate(-35 84.6 51.9)" fill="#6a1a10" opacity="0.8"/><ellipse cx="71.4" cy="21.8" rx="1.1" ry="0.5" transform="rotate(-35 71.4 21.8)" fill="#6a1a10" opacity="0.8"/><ellipse cx="34.3" cy="37.1" rx="1.8" ry="0.9" transform="rotate(-35 34.3 37.1)" fill="#4a0e08" opacity="0.8"/><ellipse cx="14.4" cy="43.6" rx="1.1" ry="0.5" transform="rotate(-35 14.4 43.6)" fill="#6a1a10" opacity="0.8"/><ellipse cx="29.3" cy="21.9" rx="1.5" ry="0.7" transform="rotate(-35 29.3 21.9)" fill="#4a0e08" opacity="0.8"/><ellipse cx="2.5" cy="36.5" rx="1.1" ry="0.6" transform="rotate(-35 2.5 36.5)" fill="#6a1a10" opacity="0.8"/><ellipse cx="65.5" cy="12.8" rx="2.1" ry="1.0" transform="rotate(-35 65.5 12.8)" fill="#4a0e08" opacity="0.8"/><ellipse cx="67.8" cy="38.7" rx="1.9" ry="0.9" transform="rotate(-35 67.8 38.7)" fill="#4a0e08" opacity="0.8"/><ellipse cx="54.9" cy="37.7" rx="2.2" ry="1.1" transform="rotate(-35 54.9 37.7)" fill="#6a1a10" opacity="0.8"/><ellipse cx="63.1" cy="21.4" rx="1.4" ry="0.7" transform="rotate(-35 63.1 21.4)" fill="#6a1a10" opacity="0.8"/><ellipse cx="14.0" cy="46.2" rx="2.0" ry="1.0" transform="rotate(-35 14.0 46.2)" fill="#6a1a10" opacity="0.8"/><ellipse cx="42.1" cy="18.2" rx="1.6" ry="0.8" transform="rotate(-35 42.1 18.2)" fill="#4a0e08" opacity="0.8"/><ellipse cx="20.1" cy="50.3" rx="1.5" ry="0.8" transform="rotate(-35 20.1 50.3)" fill="#6a1a10" opacity="0.8"/><ellipse cx="11.6" cy="38.2" rx="1.5" ry="0.7" transform="rotate(-35 11.6 38.2)" fill="#4a0e08" opacity="0.8"/><ellipse cx="34.8" cy="20.3" rx="2.1" ry="1.1" transform="rotate(-35 34.8 20.3)" fill="#4a0e08" opacity="0.8"/><ellipse cx="50.5" cy="29.5" rx="1.8" ry="0.9" transform="rotate(-35 50.5 29.5)" fill="#4a0e08" opacity="0.8"/><ellipse cx="73.5" cy="47.6" rx="2.0" ry="1.0" transform="rotate(-35 73.5 47.6)" fill="#6a1a10" opacity="0.8"/><ellipse cx="63.3" cy="36.7" rx="2.1" ry="1.0" transform="rotate(-35 63.3 36.7)" fill="#4a0e08" opacity="0.8"/><ellipse cx="22.2" cy="27.9" rx="1.0" ry="0.5" transform="rotate(-35 22.2 27.9)" fill="#6a1a10" opacity="0.8"/><ellipse cx="19.6" cy="34.6" rx="1.3" ry="0.6" transform="rotate(-35 19.6 34.6)" fill="#6a1a10" opacity="0.8"/><ellipse cx="27.2" cy="49.1" rx="1.4" ry="0.7" transform="rotate(-35 27.2 49.1)" fill="#6a1a10" opacity="0.8"/><ellipse cx="74.3" cy="0.9" rx="2.1" ry="1.0" transform="rotate(-35 74.3 0.9)" fill="#6a1a10" opacity="0.8"/><ellipse cx="22.2" cy="36.7" rx="1.9" ry="0.9" transform="rotate(-35 22.2 36.7)" fill="#4a0e08" opacity="0.8"/><ellipse cx="9.7" cy="28.0" rx="1.3" ry="0.7" transform="rotate(-35 9.7 28.0)" fill="#4a0e08" opacity="0.8"/><ellipse cx="60.7" cy="19.5" rx="1.8" ry="0.9" transform="rotate(-35 60.7 19.5)" fill="#6a1a10" opacity="0.8"/><ellipse cx="71.9" cy="2.3" rx="2.3" ry="1.2" transform="rotate(-35 71.9 2.3)" fill="#4a0e08" opacity="0.8"/><ellipse cx="84.6" cy="16.5" rx="1.7" ry="0.8" transform="rotate(-35 84.6 16.5)" fill="#6a1a10" opacity="0.8"/><ellipse cx="82.9" cy="6.3" rx="1.2" ry="0.6" transform="rotate(-35 82.9 6.3)" fill="#6a1a10" opacity="0.8"/><ellipse cx="46.1" cy="26.8" rx="2.2" ry="1.1" transform="rotate(-35 46.1 26.8)" fill="#4a0e08" opacity="0.8"/><ellipse cx="16.5" cy="25.7" rx="1.6" ry="0.8" transform="rotate(-35 16.5 25.7)" fill="#6a1a10" opacity="0.8"/><ellipse cx="82.4" cy="31.4" rx="1.2" ry="0.6" transform="rotate(-35 82.4 31.4)" fill="#4a0e08" opacity="0.8"/>
</svg>
<rect x="3.0" y="105.0" width="85.3" height="53.6" fill="none" stroke="#151515" stroke-width="0.9"/>
<g font-family="'Liberation Serif', 'Times New Roman', serif" font-size="7.8" fill="#222">
<text x="93.2" y="134.2">0.8</text><text x="93.2" y="147.7">0.4</text><text x="93.2" y="161.6">0</text>
<text transform="translate(109.4,143.8) rotate(-90)" text-anchor="middle" font-size="7.2">km</text>
</g>
<rect x="114.9" y="146.6" width="14.3" height="12.4" fill="#ffffff"/>
<text x="122.05" y="154.8" text-anchor="middle" font-size="10.8" font-family="'Liberation Serif', 'Times New Roman', serif" fill="#1a1a1a" stroke="#1a1a1a" stroke-width="0.2">(f)</text>
</svg>
<rect x="0" y="0" width="133.6" height="161.6" fill="none" stroke="#585858" stroke-width="1"/>
<line x1="-2.6" y1="9.2" x2="0" y2="9.2" stroke="#222" stroke-width="0.8"/>
<line x1="-2.6" y1="79.5" x2="0" y2="79.5" stroke="#222" stroke-width="0.8"/>
<line x1="-2.6" y1="149.8" x2="0" y2="149.8" stroke="#222" stroke-width="0.8"/>
<line x1="11.0" y1="161.6" x2="11.0" y2="164.2" stroke="#222" stroke-width="0.8"/>
<line x1="58.0" y1="161.6" x2="58.0" y2="164.2" stroke="#222" stroke-width="0.8"/>
<line x1="104.4" y1="161.6" x2="104.4" y2="164.2" stroke="#222" stroke-width="0.8"/>
</g>
<g transform="translate(31.5,359.4)">
<svg x="0" y="0" width="133.6" height="161.6" viewBox="0 0 133.6 161.6" overflow="hidden">
<rect width="133.6" height="161.6" fill="#c2c2c2"/>
<rect width="133.6" height="161.6" fill="#000" filter="url(#hs)"/>
<g mask="url(#mR)"><rect x="-60" y="-60" width="253.6" height="281.6" fill="#000" filter="url(#hs2)" transform="rotate(35 66.8 80.8)"/></g>
<path d="M0,95.5 L5,95.8 L2.5,97.6 L0,98 Z" fill="#f2f2f2"/>
<polygon points="88,145 94,145 101,150 109,157.5 112,162 88,162" fill="#ffffff"/>
<use href="#pg" fill="none" stroke="#dadada" stroke-width="2.6" opacity="0.8"/>
<use href="#pg" fill="#5cab3c"/>
<use href="#pg" fill="#000" filter="url(#gn)"/>
<use href="#pg" fill="none" stroke="#141a12" stroke-width="1.0"/>
<g clip-path="url(#clipPoly)">
<polygon points="43.0,36.0 47.0,34.5 51.0,38.0 56.0,44.0 58.0,50.0 62.0,50.5 68.0,53.0 76.0,53.0 81.0,57.0 85.0,63.0 87.0,71.0 85.0,78.0 81.0,83.0 79.0,90.0 75.0,95.0 69.0,97.0 63.0,94.0 59.0,88.0 52.0,87.0 46.0,84.0 43.0,80.0 38.0,77.0 33.0,73.0 32.0,68.0 36.0,64.0 38.0,58.0 37.0,50.0 38.0,43.0" fill="#fff" filter="url(#haloA)"/><polygon points="44.0,39.7 46.4,37.8 48.7,38.9 51.1,42.9 54.2,46.8 55.0,50.7 56.6,55.5 60.5,53.9 63.7,54.7 66.9,57.0 70.8,57.8 74.7,57.0 77.1,58.6 79.5,61.8 81.0,65.7 82.6,71.2 81.0,76.0 77.9,79.1 76.3,83.9 74.7,88.6 71.6,91.7 67.6,92.5 65.3,90.2 62.9,85.4 59.0,83.9 54.2,83.1 51.1,82.3 47.9,79.9 47.1,76.8 46.0,73.6 42.5,73.0 40.5,70.8 41.8,67.5 44.0,64.9 42.4,61.8 41.6,57.0 40.8,52.3 41.6,47.6 42.4,42.9" fill="#fff" filter="url(#coreA)"/><g filter="url(#blur05)" opacity="0.85"><ellipse cx="49.4" cy="45.5" rx="0.7" ry="1.7" fill="#e0483a"/><ellipse cx="48.1" cy="51.3" rx="1.0" ry="1.2" fill="#d83c34"/><ellipse cx="47.9" cy="45.4" rx="0.9" ry="1.0" fill="#e65a44"/><ellipse cx="50.2" cy="49.9" rx="0.8" ry="1.7" fill="#e0483a"/><ellipse cx="48.7" cy="47.8" rx="0.8" ry="1.2" fill="#e65a44"/><ellipse cx="49.2" cy="48.1" rx="0.6" ry="1.2" fill="#d83c34"/><ellipse cx="50.5" cy="45.6" rx="0.8" ry="1.1" fill="#d83c34"/><ellipse cx="46.2" cy="59.3" rx="0.9" ry="1.1" fill="#e65a44"/><ellipse cx="47.5" cy="58.8" rx="0.9" ry="1.8" fill="#e65a44"/><ellipse cx="44.4" cy="62.7" rx="0.8" ry="1.1" fill="#d83c34"/><ellipse cx="48.4" cy="62.8" rx="1.0" ry="1.6" fill="#d83c34"/><ellipse cx="45.5" cy="61.6" rx="0.8" ry="1.6" fill="#e65a44"/><ellipse cx="49.7" cy="62.2" rx="0.6" ry="1.5" fill="#d83c34"/><ellipse cx="44.1" cy="65.4" rx="0.6" ry="1.8" fill="#d83c34"/><ellipse cx="49.8" cy="74.4" rx="0.8" ry="1.6" fill="#e0483a"/><ellipse cx="50.9" cy="76.8" rx="0.6" ry="1.4" fill="#e65a44"/><ellipse cx="51.7" cy="73.6" rx="0.8" ry="1.0" fill="#e65a44"/><ellipse cx="51.3" cy="77.7" rx="1.0" ry="1.6" fill="#e0483a"/><ellipse cx="52.3" cy="77.2" rx="0.6" ry="1.3" fill="#e65a44"/><ellipse cx="51.8" cy="77.1" rx="0.7" ry="1.2" fill="#e0483a"/><ellipse cx="50.4" cy="75.9" rx="0.6" ry="1.7" fill="#d83c34"/><ellipse cx="56.4" cy="63.5" rx="1.0" ry="1.6" fill="#d83c34"/><ellipse cx="56.4" cy="63.9" rx="0.8" ry="1.7" fill="#e65a44"/><ellipse cx="56.6" cy="63.1" rx="0.7" ry="1.4" fill="#e0483a"/><ellipse cx="57.7" cy="63.6" rx="0.6" ry="1.6" fill="#e0483a"/><ellipse cx="58.1" cy="64.3" rx="0.8" ry="1.5" fill="#e65a44"/><ellipse cx="57.8" cy="65.0" rx="0.8" ry="1.4" fill="#e65a44"/><ellipse cx="55.9" cy="63.2" rx="0.8" ry="1.7" fill="#d83c34"/><ellipse cx="69.8" cy="69.8" rx="0.9" ry="1.7" fill="#d83c34"/><ellipse cx="69.4" cy="71.1" rx="0.9" ry="1.8" fill="#d83c34"/><ellipse cx="71.7" cy="69.5" rx="0.9" ry="1.6" fill="#d83c34"/><ellipse cx="69.5" cy="70.1" rx="1.0" ry="1.2" fill="#d83c34"/><ellipse cx="72.0" cy="68.4" rx="0.9" ry="1.7" fill="#e65a44"/><ellipse cx="70.2" cy="69.1" rx="0.7" ry="1.6" fill="#e0483a"/><ellipse cx="71.0" cy="71.0" rx="0.8" ry="1.5" fill="#d83c34"/><ellipse cx="45.1" cy="52.1" rx="0.9" ry="1.5" fill="#d83c34"/><ellipse cx="44.9" cy="51.6" rx="0.9" ry="1.5" fill="#e65a44"/><ellipse cx="45.6" cy="52.3" rx="0.8" ry="1.8" fill="#e0483a"/><ellipse cx="45.3" cy="51.6" rx="0.7" ry="1.5" fill="#d83c34"/><ellipse cx="45.1" cy="51.8" rx="0.9" ry="1.1" fill="#e65a44"/><ellipse cx="45.2" cy="51.1" rx="0.9" ry="1.3" fill="#e0483a"/><ellipse cx="45.9" cy="52.2" rx="0.6" ry="1.6" fill="#e65a44"/></g>
</g>
<rect x="101.5" y="1.6" width="27.2" height="23.2" fill="#ffffff"/>
<text x="103.0" y="11.1" font-size="9.2" font-family="'Liberation Serif', 'Times New Roman', serif" fill="#1a1a1a" stroke="#1a1a1a" stroke-width="0.25"><tspan font-style="italic">R</tspan><tspan font-size="5.5" font-style="italic" dy="1.5">d</tspan><tspan dy="-1.5">=</tspan>0.0</text>
<text x="104.6" y="22.5" font-size="9.4" font-family="'Liberation Serif', 'Times New Roman', serif" fill="#1a1a1a" stroke="#1a1a1a" stroke-width="0.25">RF<tspan font-size="6.2">ILW</tspan></text>
<polyline points="74.6,68.8 3.0,105.0" fill="none" stroke="#1f35d6" stroke-width="1.3" stroke-dasharray="3.2,1.6"/>
<polyline points="80.9,69.3 88.3,105.0" fill="none" stroke="#1f35d6" stroke-width="1.3" stroke-dasharray="3.2,1.6"/>
<rect x="74.6" y="65.0" width="6.3" height="4.3" fill="none" stroke="#1f35d6" stroke-width="1.2"/>
<polygon points="48.0,82.4 49.4,85.7 52.9,86.0 50.2,88.3 51.1,91.8 48.0,89.9 44.9,91.8 45.8,88.3 43.1,86.0 46.6,85.7" fill="#f3ee1c" stroke="#111" stroke-width="1"/>
<path d="M0,104.7 H3.0 V158.6 H88.3 V162.6 H0 Z" fill="#ffffff"/>
<svg x="3.0" y="105.0" width="85.3" height="53.6" viewBox="0 0 85.3 53.6" overflow="hidden">
<rect x="-30" y="-30" width="145.3" height="113.6" fill="#000" filter="url(#insGA)" transform="rotate(-40 42.65 26.8)"/><g clip-path="url(#insR)"><rect x="-30" y="-30" width="145.3" height="113.6" fill="#000" filter="url(#insGA)" transform="rotate(30 42.65 26.8)"/></g><g filter="url(#blur1)" opacity="0.75"><ellipse cx="6" cy="8" rx="6.0" ry="6.4" fill="#b4e490"/><ellipse cx="10" cy="20" rx="6.0" ry="6.4" fill="#b4e490"/><ellipse cx="8" cy="32" rx="6.0" ry="6.4" fill="#b4e490"/><ellipse cx="14" cy="42" rx="6.0" ry="6.4" fill="#b4e490"/><ellipse cx="20" cy="48" rx="6.0" ry="6.4" fill="#b4e490"/><ellipse cx="4" cy="46" rx="4.5" ry="4.800000000000001" fill="#b4e490"/><ellipse cx="18" cy="30" rx="4.5" ry="4.800000000000001" fill="#b4e490"/><ellipse cx="22" cy="12" rx="4.5" ry="4.800000000000001" fill="#b4e490"/><ellipse cx="48" cy="4" rx="4.5" ry="4.800000000000001" fill="#b4e490"/><ellipse cx="54" cy="6" rx="4.5" ry="4.800000000000001" fill="#b4e490"/><ellipse cx="52" cy="16" rx="4.5" ry="4.800000000000001" fill="#b4e490"/><ellipse cx="58" cy="24" rx="6.0" ry="6.4" fill="#b4e490"/><ellipse cx="62" cy="34" rx="6.0" ry="6.4" fill="#b4e490"/><ellipse cx="54" cy="38" rx="4.5" ry="4.800000000000001" fill="#b4e490"/><ellipse cx="66" cy="46" rx="4.5" ry="4.800000000000001" fill="#b4e490"/><ellipse cx="78" cy="34" rx="4.5" ry="4.800000000000001" fill="#b4e490"/><ellipse cx="82" cy="46" rx="4.5" ry="4.800000000000001" fill="#b4e490"/><ellipse cx="38" cy="44" rx="4.5" ry="4.800000000000001" fill="#b4e490"/><ellipse cx="30" cy="50" rx="4.5" ry="4.800000000000001" fill="#b4e490"/></g><polygon points="25.8,48.6 25.2,48.9 24.5,48.8 24.3,48.5 24.1,47.6 25.1,47.8 25.9,48.1" fill="#b8e090" stroke="#1a1a1a" stroke-width="0.45"/><polygon points="3.9,42.7 2.4,42.3 2.1,41.7 2.6,40.6 3.3,40.5 3.9,41.6" fill="#e2ecc0" stroke="#1a1a1a" stroke-width="0.45"/><polygon points="75.7,31.2 75.2,30.9 75.6,30.0 75.9,29.7 76.5,30.5 76.3,30.9" fill="#b8e090" stroke="#1a1a1a" stroke-width="0.45"/><polygon points="15.3,17.8 15.1,16.9 15.9,16.0 16.4,16.4 16.0,17.4" fill="#e2ecc0" stroke="#1a1a1a" stroke-width="0.45"/><polygon points="39.3,49.5 39.4,48.6 40.6,48.8 40.8,49.2 40.3,49.7 39.6,49.9" fill="#f0f0d0" stroke="#1a1a1a" stroke-width="0.45"/><polygon points="83.0,45.7 82.5,45.8 81.8,45.5 81.8,44.7 82.4,44.6 83.3,45.1" fill="#b8e090" stroke="#1a1a1a" stroke-width="0.45"/><polygon points="17.2,43.9 16.9,43.1 16.9,42.2 17.6,41.7 18.1,42.0 18.5,42.6 17.8,43.8" fill="#f0f0d0" stroke="#1a1a1a" stroke-width="0.45"/><polygon points="66.8,52.5 66.0,51.7 66.6,50.3 67.9,50.3 68.1,51.0 67.5,52.2" fill="#e2ecc0" stroke="#1a1a1a" stroke-width="0.45"/><polygon points="10.5,30.9 8.7,31.8 6.8,31.8 6.9,30.5 8.9,30.4" fill="#f0f0d0" stroke="#1a1a1a" stroke-width="0.45"/><polygon points="13.4,20.0 12.6,20.3 12.0,18.5 12.4,17.9 13.5,17.8 13.9,19.1" fill="#b8e090" stroke="#1a1a1a" stroke-width="0.45"/><polygon points="34.8,45.2 34.4,45.8 33.1,45.1 32.7,44.1 34.1,43.7 34.5,44.0" fill="#cfe6a8" stroke="#1a1a1a" stroke-width="0.45"/><polygon points="19.8,29.3 19.7,28.6 20.3,28.1 21.0,27.7 21.0,28.7 20.4,29.5" fill="#cfe6a8" stroke="#1a1a1a" stroke-width="0.45"/><polygon points="10.7,4.7 9.7,4.9 8.5,4.0 8.7,2.5 10.3,3.2" fill="#b8e090" stroke="#1a1a1a" stroke-width="0.45"/><polygon points="16.6,14.2 16.0,13.7 16.2,13.1 17.1,12.4 17.3,13.1 17.2,14.0" fill="#b8e090" stroke="#1a1a1a" stroke-width="0.45"/><polygon points="52.6,8.0 51.6,8.4 50.6,6.8 50.0,5.4 51.0,5.1 51.7,5.7 52.8,7.0" fill="#b8e090" stroke="#1a1a1a" stroke-width="0.45"/><polygon points="62.9,30.8 62.3,30.8 61.7,30.1 61.6,29.5 62.5,29.2 62.8,29.5 63.4,30.2" fill="#cfe6a8" stroke="#1a1a1a" stroke-width="0.45"/><polygon points="0.0,48.6 0.4,47.6 0.8,47.1 1.6,47.0 1.8,47.7 0.9,48.3" fill="#b8e090" stroke="#1a1a1a" stroke-width="0.45"/><polygon points="14.3,42.1 13.9,42.1 13.6,40.8 14.4,40.8 14.9,41.5" fill="#cfe6a8" stroke="#1a1a1a" stroke-width="0.45"/><polygon points="12.8,30.2 12.4,29.1 13.8,28.5 14.9,28.6 15.1,29.0 14.6,30.4 13.6,30.6" fill="#f0f0d0" stroke="#1a1a1a" stroke-width="0.45"/><polygon points="84.4,49.7 84.3,48.8 84.7,47.2 85.2,46.7 85.8,46.9 86.0,48.1 86.1,49.0" fill="#b8e090" stroke="#1a1a1a" stroke-width="0.45"/><polygon points="76.2,30.8 76.0,30.1 76.1,29.5 76.6,29.2 77.3,29.3 77.7,30.2 77.3,30.8" fill="#b8e090" stroke="#1a1a1a" stroke-width="0.45"/><polygon points="52.4,-1.6 52.4,-2.8 53.9,-2.5 54.5,-1.4 52.9,-1.0" fill="#cfe6a8" stroke="#1a1a1a" stroke-width="0.45"/><polygon points="57.0,4.0 56.2,4.0 55.1,2.5 55.7,1.7 57.0,2.3 57.7,2.8" fill="#f0f0d0" stroke="#1a1a1a" stroke-width="0.45"/><polygon points="19.1,9.9 19.0,8.5 20.1,7.6 20.7,8.4 20.5,9.4" fill="#b8e090" stroke="#1a1a1a" stroke-width="0.45"/><polygon points="12.3,20.5 11.7,19.1 11.7,17.9 12.8,18.1 13.1,18.8" fill="#f0f0d0" stroke="#1a1a1a" stroke-width="0.45"/><polygon points="53.2,14.0 52.8,13.3 53.3,13.0 53.8,12.5 54.1,12.9 54.1,13.1 53.9,13.6" fill="#cfe6a8" stroke="#1a1a1a" stroke-width="0.45"/><polygon points="86.2,50.4 86.4,49.2 88.7,48.8 88.6,49.6 87.1,50.6" fill="#e2ecc0" stroke="#1a1a1a" stroke-width="0.45"/><polygon points="81.8,51.5 80.5,51.4 79.5,49.0 80.4,47.9 82.1,49.6" fill="#cfe6a8" stroke="#1a1a1a" stroke-width="0.45"/><polygon points="13.0,31.9 12.3,32.9 10.9,32.2 11.2,31.4 13.0,31.0" fill="#b8e090" stroke="#1a1a1a" stroke-width="0.45"/><polygon points="62.3,33.1 61.5,33.3 61.0,32.5 61.2,31.8 62.2,32.1" fill="#cfe6a8" stroke="#1a1a1a" stroke-width="0.45"/><polygon points="25.9,31.2 25.4,31.3 25.0,31.0 24.6,30.4 25.0,30.2 25.4,30.2 26.1,30.7" fill="#cfe6a8" stroke="#1a1a1a" stroke-width="0.45"/><polygon points="7.0,28.8 5.3,29.6 4.2,28.2 4.7,27.1 6.2,27.5" fill="#f0f0d0" stroke="#1a1a1a" stroke-width="0.45"/><polygon points="56.0,39.5 55.9,39.1 56.2,37.9 56.9,38.1 57.3,38.6 56.6,39.6" fill="#f0f0d0" stroke="#1a1a1a" stroke-width="0.45"/><polygon points="54.1,16.1 53.1,15.5 52.7,15.4 52.3,14.7 52.6,14.1 53.7,14.4 53.8,14.9" fill="#f0f0d0" stroke="#1a1a1a" stroke-width="0.45"/><polygon points="6.4,28.4 6.5,27.4 7.3,27.3 7.9,27.6 8.0,28.2 8.1,29.0 7.1,28.9" fill="#cfe6a8" stroke="#1a1a1a" stroke-width="0.45"/><polygon points="86.7,46.3 86.2,46.0 86.6,45.2 87.4,45.3 87.6,46.1" fill="#e2ecc0" stroke="#1a1a1a" stroke-width="0.45"/><polygon points="-4.1,3.0 -4.3,2.6 -4.5,1.2 -3.3,0.8 -2.5,1.7 -2.7,2.5 -3.5,3.6" fill="#e2ecc0" stroke="#1a1a1a" stroke-width="0.45"/><polygon points="59.2,25.4 57.7,25.7 57.0,25.5 56.5,24.4 57.6,23.9 58.4,24.1" fill="#b8e090" stroke="#1a1a1a" stroke-width="0.45"/><polygon points="13.0,9.5 12.7,8.9 12.8,8.2 14.0,7.9 14.3,8.6 14.2,9.6 13.5,9.5" fill="#cfe6a8" stroke="#1a1a1a" stroke-width="0.45"/><polygon points="14.4,36.3 13.8,35.8 13.7,34.7 14.6,34.6 14.8,35.9" fill="#cfe6a8" stroke="#1a1a1a" stroke-width="0.45"/><polygon points="58.8,5.1 58.7,4.1 59.7,3.7 60.6,3.1 61.0,4.1 60.6,5.2 59.8,6.0" fill="#e2ecc0" stroke="#1a1a1a" stroke-width="0.45"/><polygon points="61.3,46.8 61.5,46.1 62.2,45.9 63.0,46.3 63.1,46.9 61.5,47.3" fill="#e2ecc0" stroke="#1a1a1a" stroke-width="0.45"/><polygon points="54.2,39.9 53.4,39.9 51.9,39.8 51.8,39.1 52.3,38.8 52.7,38.5 53.6,39.1" fill="#e2ecc0" stroke="#1a1a1a" stroke-width="0.45"/><polygon points="24.2,15.1 24.7,14.5 25.7,14.0 26.2,15.0 25.6,16.1 24.9,15.8" fill="#b8e090" stroke="#1a1a1a" stroke-width="0.45"/><polygon points="57.7,39.6 57.2,39.6 56.8,38.4 57.2,38.0 57.7,38.0 58.3,38.4 58.3,39.1" fill="#f0f0d0" stroke="#1a1a1a" stroke-width="0.45"/><polygon points="14.2,26.5 13.1,26.2 12.4,24.0 13.2,23.8 14.1,25.4" fill="#cfe6a8" stroke="#1a1a1a" stroke-width="0.45"/><polygon points="53.6,22.7 54.1,21.9 55.7,21.6 57.0,22.2 55.9,23.5 55.0,23.3" fill="#cfe6a8" stroke="#1a1a1a" stroke-width="0.45"/><polygon points="30.0,49.9 30.9,49.4 32.8,49.2 32.8,50.6 31.4,50.8" fill="#b8e090" stroke="#1a1a1a" stroke-width="0.45"/><polygon points="65.2,38.3 65.2,37.8 65.3,37.3 65.8,37.2 66.0,37.7 66.2,38.1 65.9,38.4" fill="#b8e090" stroke="#1a1a1a" stroke-width="0.45"/><polygon points="27.9,53.0 27.3,52.6 28.2,51.1 28.7,50.7 29.9,50.4 29.4,51.7 29.1,53.1" fill="#cfe6a8" stroke="#1a1a1a" stroke-width="0.45"/><polygon points="-2.2,47.6 -2.0,46.6 -0.9,46.2 0.0,46.3 0.5,46.5 0.4,47.2 -1.1,47.9" fill="#b8e090" stroke="#1a1a1a" stroke-width="0.45"/><polygon points="20.5,33.5 20.1,32.5 21.3,31.2 22.3,31.6 22.0,33.1" fill="#f0f0d0" stroke="#1a1a1a" stroke-width="0.45"/><polygon points="39.4,45.5 40.3,44.8 41.2,44.8 42.2,44.8 42.3,45.6 41.1,46.0 40.3,46.4" fill="#f0f0d0" stroke="#1a1a1a" stroke-width="0.45"/><polygon points="58.6,27.5 57.7,27.6 57.6,27.0 58.1,26.3 58.4,26.9" fill="#b8e090" stroke="#1a1a1a" stroke-width="0.45"/><polygon points="7.5,35.2 6.4,35.9 4.1,35.2 5.1,34.1 6.4,33.6" fill="#b8e090" stroke="#1a1a1a" stroke-width="0.45"/><polygon points="5.9,34.8 5.6,35.3 4.6,34.7 5.0,34.2 6.1,34.3" fill="#b8e090" stroke="#1a1a1a" stroke-width="0.45"/><polygon points="80.6,23.9 80.3,24.6 79.2,25.0 78.5,24.4 78.8,23.4 79.6,22.9 80.1,23.4" fill="#cfe6a8" stroke="#1a1a1a" stroke-width="0.45"/><polygon points="81.4,34.9 80.6,34.7 80.4,34.0 80.6,33.5 80.9,33.4 81.6,34.4" fill="#f0f0d0" stroke="#1a1a1a" stroke-width="0.45"/><polygon points="20.3,45.2 19.1,45.2 18.6,44.3 19.0,43.1 20.2,43.7" fill="#f0f0d0" stroke="#1a1a1a" stroke-width="0.45"/><polygon points="55.4,34.6 54.5,33.7 54.9,32.9 55.6,32.8 55.8,33.9" fill="#cfe6a8" stroke="#1a1a1a" stroke-width="0.45"/><polygon points="51.4,41.3 51.3,40.7 52.2,40.4 53.2,40.8 53.0,41.2 52.8,41.9 51.3,41.7" fill="#e2ecc0" stroke="#1a1a1a" stroke-width="0.45"/><polygon points="76.9,32.8 76.4,32.0 76.7,30.0 77.9,29.4 78.0,30.7 78.1,31.8" fill="#cfe6a8" stroke="#1a1a1a" stroke-width="0.45"/><polygon points="51.5,9.4 51.4,9.6 50.3,9.4 50.1,8.9 50.2,8.4 51.0,8.2 51.7,8.8" fill="#cfe6a8" stroke="#1a1a1a" stroke-width="0.45"/><polygon points="65.6,44.3 65.7,43.6 66.9,42.9 67.6,43.3 68.2,43.9 67.4,44.8 66.1,44.6" fill="#b8e090" stroke="#1a1a1a" stroke-width="0.45"/><polygon points="50.1,3.0 49.8,2.4 49.9,1.3 50.4,1.6 50.9,2.2" fill="#e2ecc0" stroke="#1a1a1a" stroke-width="0.45"/><polygon points="23.6,40.9 22.9,40.9 22.6,39.9 23.2,39.6 23.7,39.5 24.1,40.4" fill="#f0f0d0" stroke="#1a1a1a" stroke-width="0.45"/><polygon points="86.3,40.9 86.1,41.1 85.3,41.0 84.8,40.4 85.0,39.7 85.8,40.0 86.4,40.5" fill="#cfe6a8" stroke="#1a1a1a" stroke-width="0.45"/><polygon points="11.9,57.0 11.6,56.2 11.9,55.7 12.4,55.2 13.0,55.4 13.4,56.1 12.9,56.8" fill="#cfe6a8" stroke="#1a1a1a" stroke-width="0.45"/><polygon points="6.9,10.4 6.7,11.1 5.7,10.5 5.8,9.4 6.9,9.5" fill="#cfe6a8" stroke="#1a1a1a" stroke-width="0.45"/><polygon points="4.8,15.9 4.1,15.6 3.6,14.7 4.3,14.2 4.9,14.0 5.4,15.4" fill="#f0f0d0" stroke="#1a1a1a" stroke-width="0.45"/><polygon points="7.4,3.0 6.5,1.6 7.0,1.0 7.9,0.8 7.9,2.3" fill="#e2ecc0" stroke="#1a1a1a" stroke-width="0.45"/><polygon points="51.9,33.9 51.2,33.4 51.3,31.7 52.4,31.8 53.2,32.1 52.6,33.8" fill="#f0f0d0" stroke="#1a1a1a" stroke-width="0.45"/><polygon points="20.7,2.0 19.7,2.2 19.4,1.2 20.2,0.4 21.4,1.2" fill="#f0f0d0" stroke="#1a1a1a" stroke-width="0.45"/><polygon points="20.6,15.1 20.5,14.5 21.3,13.9 21.6,14.4 21.7,15.0 21.0,15.6" fill="#e2ecc0" stroke="#1a1a1a" stroke-width="0.45"/><polygon points="53.1,8.8 52.9,8.4 52.8,7.5 53.2,7.2 54.0,7.4 54.2,8.1 53.8,8.6" fill="#cfe6a8" stroke="#1a1a1a" stroke-width="0.45"/><polygon points="61.7,44.8 60.6,44.8 59.9,44.8 59.8,43.9 60.4,43.7 61.2,43.8" fill="#b8e090" stroke="#1a1a1a" stroke-width="0.45"/><polygon points="80.0,49.0 79.5,49.0 78.7,48.5 78.3,47.7 78.5,47.3 79.5,47.5 80.1,48.2" fill="#cfe6a8" stroke="#1a1a1a" stroke-width="0.45"/><polygon points="32.7,51.5 32.4,51.8 31.3,51.8 31.2,51.3 31.1,50.6 32.2,50.9" fill="#f0f0d0" stroke="#1a1a1a" stroke-width="0.45"/><polygon points="11.6,40.1 12.1,39.3 12.5,39.0 13.6,39.2 13.3,40.0 12.6,41.1" fill="#cfe6a8" stroke="#1a1a1a" stroke-width="0.45"/><polygon points="7.7,18.3 7.4,18.8 6.5,18.4 6.3,18.1 5.9,17.4 7.1,17.4 7.4,17.6" fill="#cfe6a8" stroke="#1a1a1a" stroke-width="0.45"/><polygon points="56.6,43.3 54.9,43.2 53.2,41.7 54.4,41.2 56.6,42.3" fill="#b8e090" stroke="#1a1a1a" stroke-width="0.45"/><polygon points="65.6,47.9 65.4,47.2 65.6,45.9 66.1,45.4 66.7,46.0 66.8,46.7 66.5,47.5" fill="#f0f0d0" stroke="#1a1a1a" stroke-width="0.45"/><polygon points="80.8,40.3 80.7,39.1 81.6,39.4 81.9,40.0 81.3,40.9" fill="#cfe6a8" stroke="#1a1a1a" stroke-width="0.45"/><polygon points="38.4,37.7 37.0,37.7 37.0,36.6 37.1,35.9 38.6,35.9 38.7,36.9" fill="#cfe6a8" stroke="#1a1a1a" stroke-width="0.45"/><polygon points="10.2,9.0 9.3,8.6 9.2,7.7 9.1,7.0 9.9,7.1 10.3,8.3" fill="#b8e090" stroke="#1a1a1a" stroke-width="0.45"/><polygon points="27.4,12.7 27.1,11.9 27.9,11.0 28.8,11.6 29.0,11.9 29.2,12.6 28.2,12.9" fill="#e2ecc0" stroke="#1a1a1a" stroke-width="0.45"/><polygon points="6.9,19.4 6.5,20.0 5.8,19.9 5.2,19.4 5.4,18.8 5.7,18.5 7.4,18.9" fill="#b8e090" stroke="#1a1a1a" stroke-width="0.45"/><polygon points="20.6,29.3 19.7,29.8 19.0,29.0 19.0,27.8 20.3,28.4" fill="#f0f0d0" stroke="#1a1a1a" stroke-width="0.45"/><polygon points="36.1,49.4 35.1,49.2 35.0,48.3 35.7,48.2 36.3,48.7" fill="#b8e090" stroke="#1a1a1a" stroke-width="0.45"/><polygon points="49.4,5.3 48.7,5.8 47.3,5.3 46.6,4.8 46.7,4.4 47.6,4.0 49.1,4.4" fill="#e2ecc0" stroke="#1a1a1a" stroke-width="0.45"/><polygon points="21.2,10.0 20.8,9.2 21.3,8.1 22.0,8.3 22.2,9.3" fill="#b8e090" stroke="#1a1a1a" stroke-width="0.45"/><polygon points="21.7,17.0 21.2,16.7 21.0,15.8 21.3,15.3 21.8,15.0 22.3,16.1" fill="#e2ecc0" stroke="#1a1a1a" stroke-width="0.45"/><polygon points="7.0,2.2 5.5,2.5 5.0,0.9 5.5,0.2 6.9,1.4" fill="#e2ecc0" stroke="#1a1a1a" stroke-width="0.45"/><polygon points="48.8,1.9 48.3,2.0 47.4,2.1 47.2,1.7 47.7,1.1 48.3,1.4" fill="#b8e090" stroke="#1a1a1a" stroke-width="0.45"/><polygon points="10.8,53.1 10.5,52.2 11.4,51.6 11.8,51.9 11.7,52.8" fill="#e2ecc0" stroke="#1a1a1a" stroke-width="0.45"/><polygon points="68.0,45.2 67.4,45.3 67.2,45.2 66.8,44.5 67.1,44.3 67.6,44.2 67.9,44.6" fill="#b8e090" stroke="#1a1a1a" stroke-width="0.45"/><polygon points="39.3,42.0 38.6,42.3 38.2,41.3 38.1,40.1 39.6,40.0 40.2,40.8" fill="#e2ecc0" stroke="#1a1a1a" stroke-width="0.45"/><polygon points="59.5,28.1 59.0,27.7 58.8,25.5 60.3,26.0 60.4,27.7" fill="#e2ecc0" stroke="#1a1a1a" stroke-width="0.45"/><polygon points="7.1,7.9 7.0,6.6 8.5,6.3 9.1,6.4 9.1,7.4 8.0,8.1" fill="#f0f0d0" stroke="#1a1a1a" stroke-width="0.45"/><polygon points="48.6,34.1 48.8,33.4 50.6,32.8 50.7,33.5 50.7,34.2 49.3,34.3" fill="#b8e090" stroke="#1a1a1a" stroke-width="0.45"/><polygon points="50.3,4.8 50.9,4.1 51.4,4.0 52.3,4.1 52.1,4.8 51.5,5.2 50.9,4.9" fill="#f0f0d0" stroke="#1a1a1a" stroke-width="0.45"/><polygon points="47.2,15.9 46.5,15.4 46.1,14.3 47.2,14.0 47.9,14.1 47.8,15.5" fill="#f0f0d0" stroke="#1a1a1a" stroke-width="0.45"/><polygon points="65.7,44.0 65.2,43.3 65.1,42.0 65.7,41.9 66.4,42.0 66.6,42.7 66.1,43.9" fill="#e2ecc0" stroke="#1a1a1a" stroke-width="0.45"/><polygon points="59.7,48.6 58.7,48.0 58.4,46.0 59.2,46.3 60.0,46.4 60.7,47.4" fill="#b8e090" stroke="#1a1a1a" stroke-width="0.45"/><polygon points="-2.7,49.9 -2.1,49.4 0.1,48.6 0.3,49.4 0.4,50.2 -2.1,50.8" fill="#b8e090" stroke="#1a1a1a" stroke-width="0.45"/><polygon points="11.2,14.6 10.8,14.9 10.3,14.4 10.4,14.1 10.4,13.3 11.3,13.6 11.4,14.1" fill="#cfe6a8" stroke="#1a1a1a" stroke-width="0.45"/><polygon points="84.7,48.9 83.8,48.0 83.1,47.5 83.1,46.2 84.7,46.7 84.8,47.8" fill="#b8e090" stroke="#1a1a1a" stroke-width="0.45"/><polygon points="53.7,39.1 53.2,39.5 51.5,38.6 52.2,38.0 54.1,37.9" fill="#e2ecc0" stroke="#1a1a1a" stroke-width="0.45"/><polygon points="84.2,40.4 83.1,40.6 82.2,39.6 82.5,39.2 84.1,39.5" fill="#e2ecc0" stroke="#1a1a1a" stroke-width="0.45"/><polygon points="10.6,18.5 11.1,17.5 11.9,17.6 12.8,17.8 11.7,18.5" fill="#f0f0d0" stroke="#1a1a1a" stroke-width="0.45"/><polygon points="50.9,9.5 50.3,9.0 50.1,8.4 49.7,7.5 50.2,7.4 50.9,8.3 51.0,8.6" fill="#cfe6a8" stroke="#1a1a1a" stroke-width="0.45"/><polygon points="28.5,16.3 27.5,15.5 27.9,14.8 28.8,14.6 28.8,15.3" fill="#e2ecc0" stroke="#1a1a1a" stroke-width="0.45"/><polygon points="52.1,36.4 51.0,36.8 50.3,36.0 50.1,35.0 50.7,34.3 51.2,34.2 51.9,35.4" fill="#f0f0d0" stroke="#1a1a1a" stroke-width="0.45"/><polygon points="53.0,15.3 53.1,14.8 54.7,14.7 55.6,15.2 54.7,16.4 53.7,16.4" fill="#b8e090" stroke="#1a1a1a" stroke-width="0.45"/><polygon points="22.0,48.9 21.2,49.7 20.5,49.3 19.9,47.9 20.3,47.5 21.2,47.6 22.0,48.4" fill="#cfe6a8" stroke="#1a1a1a" stroke-width="0.45"/><polygon points="18.5,52.2 17.6,52.5 17.1,52.5 16.9,51.8 17.6,50.9 18.3,51.1" fill="#e2ecc0" stroke="#1a1a1a" stroke-width="0.45"/><polygon points="18.0,2.9 17.3,3.4 16.6,2.9 16.4,2.2 17.0,1.3 17.4,1.6 18.2,2.5" fill="#cfe6a8" stroke="#1a1a1a" stroke-width="0.45"/><polygon points="1.5,45.6 2.2,45.0 3.1,44.6 3.6,45.0 3.6,45.5 3.0,46.0 2.3,45.9" fill="#cfe6a8" stroke="#1a1a1a" stroke-width="0.45"/><polygon points="55.1,12.0 53.6,11.9 53.0,11.3 53.5,10.5 54.7,11.0" fill="#b8e090" stroke="#1a1a1a" stroke-width="0.45"/><polygon points="55.0,26.1 54.7,26.5 53.8,26.7 53.4,26.0 53.0,25.6 54.1,25.1 54.5,25.4" fill="#f0f0d0" stroke="#1a1a1a" stroke-width="0.45"/><polygon points="16.2,37.6 16.8,36.1 17.7,36.2 19.2,36.8 18.5,37.7 17.3,38.4" fill="#b8e090" stroke="#1a1a1a" stroke-width="0.45"/><polygon points="55.8,11.8 55.7,11.1 55.7,10.8 56.6,10.6 56.6,11.2 56.5,11.6" fill="#e2ecc0" stroke="#1a1a1a" stroke-width="0.45"/><polygon points="61.3,30.4 61.0,30.8 60.3,30.2 59.9,29.6 60.5,29.2 60.9,29.2 61.6,29.6" fill="#f0f0d0" stroke="#1a1a1a" stroke-width="0.45"/><polygon points="14.0,37.0 13.4,37.3 12.5,36.7 12.5,35.8 13.8,35.8" fill="#b8e090" stroke="#1a1a1a" stroke-width="0.45"/><polygon points="55.8,1.1 55.0,0.9 55.4,-1.4 56.4,-1.3 57.2,-0.4 56.7,1.2" fill="#e2ecc0" stroke="#1a1a1a" stroke-width="0.45"/><polygon points="8.7,7.2 8.1,6.2 9.0,4.8 10.0,5.1 9.6,6.6" fill="#cfe6a8" stroke="#1a1a1a" stroke-width="0.45"/><polygon points="51.7,41.1 50.5,41.1 50.5,40.4 51.2,39.1 52.2,39.6 52.7,40.3" fill="#f0f0d0" stroke="#1a1a1a" stroke-width="0.45"/><polygon points="78.0,45.4 77.5,45.8 76.0,44.1 76.1,43.4 76.6,42.8 77.6,43.0 78.8,44.6" fill="#f0f0d0" stroke="#1a1a1a" stroke-width="0.45"/><polygon points="32.2,45.5 31.6,44.9 31.2,44.1 31.1,43.5 31.6,43.2 32.2,43.9 32.2,44.5" fill="#e2ecc0" stroke="#1a1a1a" stroke-width="0.45"/><polygon points="36.0,39.6 35.7,38.7 37.0,38.0 37.6,39.4 36.9,40.2" fill="#e2ecc0" stroke="#1a1a1a" stroke-width="0.45"/><polygon points="52.5,33.1 52.0,33.0 52.1,32.0 52.4,31.4 53.1,31.9 53.2,32.5 53.0,33.1" fill="#b8e090" stroke="#1a1a1a" stroke-width="0.45"/><polygon points="67.0,14.5 67.1,13.8 68.4,14.1 68.5,15.0 67.5,15.4" fill="#e2ecc0" stroke="#1a1a1a" stroke-width="0.45"/><polygon points="35.1,39.6 34.6,38.9 35.3,37.6 35.9,37.3 35.8,38.6" fill="#cfe6a8" stroke="#1a1a1a" stroke-width="0.45"/><polygon points="52.8,9.8 51.4,10.2 50.7,9.6 51.2,8.3 51.9,7.8 52.5,8.9" fill="#b8e090" stroke="#1a1a1a" stroke-width="0.45"/><polygon points="16.3,48.9 15.8,49.2 14.8,48.8 13.8,48.3 15.0,47.7 16.0,47.8" fill="#cfe6a8" stroke="#1a1a1a" stroke-width="0.45"/><polygon points="8.2,10.4 7.8,10.4 7.2,10.2 7.2,9.7 7.4,9.4 7.9,9.5 8.3,9.9" fill="#f0f0d0" stroke="#1a1a1a" stroke-width="0.45"/><polygon points="17.2,33.1 16.7,32.7 17.1,32.2 17.7,31.9 18.0,32.4 18.0,32.9 17.5,33.2" fill="#f0f0d0" stroke="#1a1a1a" stroke-width="0.45"/><polygon points="53.3,4.0 53.8,3.5 54.7,2.9 55.0,3.3 54.8,4.1 53.6,4.7" fill="#b8e090" stroke="#1a1a1a" stroke-width="0.45"/><polygon points="48.6,2.6 48.0,1.8 48.2,0.0 49.3,0.1 49.7,1.4" fill="#f0f0d0" stroke="#1a1a1a" stroke-width="0.45"/><polygon points="10.8,42.4 10.1,41.4 10.6,39.6 11.8,40.5 12.0,41.6" fill="#cfe6a8" stroke="#1a1a1a" stroke-width="0.45"/><polygon points="52.0,20.5 51.4,20.5 51.3,19.4 51.4,19.0 52.0,18.5 52.6,18.8 52.6,19.8" fill="#f0f0d0" stroke="#1a1a1a" stroke-width="0.45"/><polygon points="13.9,34.6 14.4,33.9 15.2,33.8 15.9,34.0 16.4,34.6 15.4,34.9 14.7,35.1" fill="#cfe6a8" stroke="#1a1a1a" stroke-width="0.45"/><polygon points="81.1,41.5 80.7,41.0 81.4,39.7 82.2,39.3 82.4,40.0 82.0,41.1" fill="#cfe6a8" stroke="#1a1a1a" stroke-width="0.45"/><polygon points="13.0,16.6 12.6,16.0 12.6,15.1 13.3,14.1 13.8,14.8 14.1,15.5 13.4,16.3" fill="#b8e090" stroke="#1a1a1a" stroke-width="0.45"/><polygon points="50.3,4.4 49.5,4.6 49.0,4.5 48.8,4.0 48.7,3.2 49.3,3.4 50.2,4.0" fill="#cfe6a8" stroke="#1a1a1a" stroke-width="0.45"/><polygon points="30.2,11.4 29.3,11.4 29.0,11.3 29.1,10.7 29.7,10.5 30.3,10.9" fill="#b8e090" stroke="#1a1a1a" stroke-width="0.45"/><polygon points="5.4,27.2 6.0,26.3 6.9,25.8 7.6,25.7 7.5,26.8 6.7,27.3" fill="#f0f0d0" stroke="#1a1a1a" stroke-width="0.45"/><polygon points="20.0,27.3 19.1,27.8 18.5,27.7 18.1,27.1 18.5,26.4 19.2,25.8 19.7,26.7" fill="#b8e090" stroke="#1a1a1a" stroke-width="0.45"/><polygon points="4.9,45.5 5.9,44.2 7.0,43.8 7.9,43.8 7.7,44.8 7.4,45.5 6.3,45.9" fill="#e2ecc0" stroke="#1a1a1a" stroke-width="0.45"/><polygon points="28.1,11.2 27.7,10.4 29.0,9.7 29.5,9.9 29.3,11.3" fill="#cfe6a8" stroke="#1a1a1a" stroke-width="0.45"/><polygon points="19.9,43.1 19.6,42.1 20.5,40.8 21.6,40.0 22.0,41.5 21.5,42.6" fill="#e2ecc0" stroke="#1a1a1a" stroke-width="0.45"/><polygon points="8.5,53.5 7.5,53.0 7.7,52.2 8.3,52.2 8.6,52.6" fill="#e2ecc0" stroke="#1a1a1a" stroke-width="0.45"/><polygon points="53.4,8.3 54.2,7.7 55.1,7.7 54.9,8.4 53.9,8.6" fill="#f0f0d0" stroke="#1a1a1a" stroke-width="0.45"/><polygon points="19.0,14.8 18.0,14.8 17.1,14.3 17.1,13.8 17.4,13.2 17.9,12.9 18.4,13.6" fill="#f0f0d0" stroke="#1a1a1a" stroke-width="0.45"/><polygon points="-1.7,11.7 -3.1,11.1 -3.0,10.2 -2.9,8.7 -2.4,9.0 -1.5,9.1 -1.3,11.2" fill="#e2ecc0" stroke="#1a1a1a" stroke-width="0.45"/><polygon points="23.2,46.2 22.9,45.7 23.9,44.8 24.9,45.1 24.5,45.8 24.0,46.8" fill="#e2ecc0" stroke="#1a1a1a" stroke-width="0.45"/><polygon points="70.7,20.4 71.0,19.8 71.6,19.3 72.2,19.7 72.1,20.0 71.2,20.6" fill="#cfe6a8" stroke="#1a1a1a" stroke-width="0.45"/><polygon points="7.9,35.2 7.6,34.7 7.6,33.8 7.8,33.2 8.5,33.6 8.2,34.7" fill="#b8e090" stroke="#1a1a1a" stroke-width="0.45"/><polygon points="54.1,10.5 53.4,10.4 52.9,10.1 53.0,9.1 53.8,9.1 54.1,9.7" fill="#b8e090" stroke="#1a1a1a" stroke-width="0.45"/><polygon points="83.9,45.0 83.4,45.8 82.6,45.3 82.4,44.6 82.7,44.0 83.5,44.0 84.4,44.7" fill="#cfe6a8" stroke="#1a1a1a" stroke-width="0.45"/><polygon points="4.6,8.2 4.1,8.5 3.7,7.9 4.1,7.4 4.8,7.9" fill="#b8e090" stroke="#1a1a1a" stroke-width="0.45"/><polygon points="24.3,13.5 23.7,13.3 24.0,12.1 25.0,11.9 25.1,12.5 24.7,13.4" fill="#cfe6a8" stroke="#1a1a1a" stroke-width="0.45"/><polygon points="7.7,22.5 7.1,22.5 6.6,21.8 7.0,21.4 7.4,21.5 7.8,22.1" fill="#f0f0d0" stroke="#1a1a1a" stroke-width="0.45"/><polygon points="54.6,20.0 53.5,19.9 53.1,18.7 53.4,18.0 54.5,18.4 54.7,18.9" fill="#f0f0d0" stroke="#1a1a1a" stroke-width="0.45"/><polygon points="53.6,45.1 52.6,44.4 53.0,42.0 54.2,42.6 54.3,43.7" fill="#cfe6a8" stroke="#1a1a1a" stroke-width="0.45"/><polygon points="12.3,9.2 11.5,9.3 11.0,8.8 10.7,8.2 12.0,7.8 12.6,8.5" fill="#e2ecc0" stroke="#1a1a1a" stroke-width="0.45"/><polygon points="9.3,9.3 8.3,9.1 8.6,7.8 9.6,7.5 9.8,8.1 10.4,8.6 10.1,9.4" fill="#f0f0d0" stroke="#1a1a1a" stroke-width="0.45"/><polygon points="41.8,16.9 40.6,16.6 40.2,16.4 39.4,15.3 39.5,14.9 40.7,14.8 41.9,16.0" fill="#cfe6a8" stroke="#1a1a1a" stroke-width="0.45"/><polygon points="8.3,5.6 7.0,6.0 6.3,4.5 7.6,3.6 8.9,4.5" fill="#cfe6a8" stroke="#1a1a1a" stroke-width="0.45"/><polygon points="14.1,19.7 13.8,19.1 14.3,18.7 15.4,18.4 15.8,19.3 15.2,20.2 14.5,20.1" fill="#f0f0d0" stroke="#1a1a1a" stroke-width="0.45"/><polygon points="22.7,51.1 22.7,50.5 23.4,50.1 23.9,49.8 24.4,50.4 24.1,51.5 23.1,51.4" fill="#e2ecc0" stroke="#1a1a1a" stroke-width="0.45"/><polygon points="67.3,45.3 65.8,45.7 64.7,45.3 64.2,44.5 66.1,44.2" fill="#e2ecc0" stroke="#1a1a1a" stroke-width="0.45"/><polygon points="54.3,22.3 53.5,21.9 53.7,21.1 54.5,20.6 55.0,21.1 55.2,22.0" fill="#b8e090" stroke="#1a1a1a" stroke-width="0.45"/><polygon points="10.4,41.3 9.2,41.9 8.4,40.8 9.3,39.7 10.6,40.2" fill="#cfe6a8" stroke="#1a1a1a" stroke-width="0.45"/><polygon points="75.0,45.9 74.7,45.7 74.9,44.6 75.6,44.5 75.8,44.8 75.9,45.3 75.4,45.8" fill="#b8e090" stroke="#1a1a1a" stroke-width="0.45"/><polygon points="49.2,3.2 48.4,3.2 48.0,2.4 48.9,1.8 49.7,2.3" fill="#b8e090" stroke="#1a1a1a" stroke-width="0.45"/><polygon points="46.7,1.2 45.9,1.0 46.0,0.2 46.7,-0.4 47.2,-0.2 47.8,0.3 47.7,1.1" fill="#f0f0d0" stroke="#1a1a1a" stroke-width="0.45"/><polygon points="36.9,5.8 36.5,5.2 36.4,4.4 36.9,4.1 37.4,4.0 37.6,4.9 37.3,5.4" fill="#b8e090" stroke="#1a1a1a" stroke-width="0.45"/><polygon points="77.8,20.3 76.5,20.1 75.9,18.0 77.0,17.6 78.2,19.0" fill="#b8e090" stroke="#1a1a1a" stroke-width="0.45"/><polygon points="22.4,13.7 22.4,13.1 23.0,12.5 23.8,12.3 23.9,12.9 23.0,13.8" fill="#f0f0d0" stroke="#1a1a1a" stroke-width="0.45"/><polygon points="47.1,49.1 47.4,48.1 48.4,48.1 48.8,48.7 47.9,49.3" fill="#e2ecc0" stroke="#1a1a1a" stroke-width="0.45"/><polygon points="16.1,33.3 15.0,33.2 13.8,32.4 14.0,31.9 14.8,31.8 15.7,32.2" fill="#e2ecc0" stroke="#1a1a1a" stroke-width="0.45"/><polygon points="16.4,42.0 16.1,40.8 17.5,39.2 18.4,40.0 18.1,41.6" fill="#b8e090" stroke="#1a1a1a" stroke-width="0.45"/><polygon points="25.3,50.3 24.6,50.5 24.0,49.6 24.2,49.0 25.4,49.3" fill="#b8e090" stroke="#1a1a1a" stroke-width="0.45"/><polygon points="18.9,30.3 19.1,29.6 20.1,29.3 20.9,29.3 21.0,29.8 20.3,30.3 19.8,30.4" fill="#e2ecc0" stroke="#1a1a1a" stroke-width="0.45"/><polygon points="42.6,6.0 42.4,4.5 43.3,3.6 43.9,4.3 43.5,5.5" fill="#cfe6a8" stroke="#1a1a1a" stroke-width="0.45"/><polygon points="9.3,41.1 9.0,41.2 8.2,40.7 7.9,40.2 8.4,39.8 8.9,39.8 9.6,40.5" fill="#cfe6a8" stroke="#1a1a1a" stroke-width="0.45"/><polygon points="47.8,1.5 47.3,1.8 47.0,0.1 47.0,-0.6 47.9,-0.0 48.6,1.2" fill="#f0f0d0" stroke="#1a1a1a" stroke-width="0.45"/><polygon points="8.8,24.2 8.0,24.1 7.2,23.7 7.6,23.0 8.3,23.2 8.9,23.6" fill="#f0f0d0" stroke="#1a1a1a" stroke-width="0.45"/><polygon points="80.1,46.3 79.8,45.2 81.0,44.0 81.5,44.8 81.0,45.7" fill="#b8e090" stroke="#1a1a1a" stroke-width="0.45"/><polygon points="28.4,2.8 28.7,1.3 30.8,0.9 32.0,1.7 29.8,3.5" fill="#b8e090" stroke="#1a1a1a" stroke-width="0.45"/><polygon points="7.3,18.8 9.0,18.0 10.5,17.7 10.0,19.2 8.9,19.6" fill="#b8e090" stroke="#1a1a1a" stroke-width="0.45"/><polygon points="52.4,39.5 51.8,39.9 51.0,39.5 51.0,38.9 51.6,38.4 52.2,38.8 52.6,39.2" fill="#b8e090" stroke="#1a1a1a" stroke-width="0.45"/><polygon points="6.6,48.8 6.8,48.0 8.0,47.1 8.4,47.8 7.9,48.5" fill="#cfe6a8" stroke="#1a1a1a" stroke-width="0.45"/><polygon points="57.6,32.5 57.2,31.9 57.9,30.5 58.7,29.8 59.4,30.3 59.4,31.7 58.5,32.6" fill="#f0f0d0" stroke="#1a1a1a" stroke-width="0.45"/><polygon points="17.1,19.3 16.7,19.0 17.3,18.5 17.8,18.3 18.2,18.6 18.1,18.8 17.6,19.4" fill="#e2ecc0" stroke="#1a1a1a" stroke-width="0.45"/><polygon points="86.0,48.8 85.4,48.9 85.2,47.8 85.4,47.6 85.8,47.3 86.3,47.7 86.4,48.7" fill="#f0f0d0" stroke="#1a1a1a" stroke-width="0.45"/><polygon points="52.4,12.6 51.8,13.4 50.6,13.6 50.0,12.3 50.6,12.0 52.3,11.7" fill="#cfe6a8" stroke="#1a1a1a" stroke-width="0.45"/><polygon points="2.6,44.8 2.0,43.7 2.2,42.9 2.7,42.9 3.4,43.0 3.6,43.7 3.1,44.3" fill="#b8e090" stroke="#1a1a1a" stroke-width="0.45"/><polygon points="38.5,43.4 38.6,41.8 39.0,40.9 40.4,40.8 40.1,42.3 39.5,42.8" fill="#b8e090" stroke="#1a1a1a" stroke-width="0.45"/><polygon points="65.1,20.5 64.5,20.6 63.8,20.5 64.1,20.0 64.5,20.0" fill="#b85428" stroke="#1a1a1a" stroke-width="0.4"/><polygon points="6.3,45.0 5.6,45.2 4.8,44.5 4.4,43.5 5.9,43.6" fill="#a04020" stroke="#1a1a1a" stroke-width="0.4"/><polygon points="14.2,33.4 14.3,32.7 15.8,32.8 16.1,33.8 14.5,34.5" fill="#8a3418" stroke="#1a1a1a" stroke-width="0.4"/><polygon points="7.4,7.6 6.9,7.6 6.0,7.2 5.9,6.4 6.1,6.3 7.1,6.4 7.5,6.7" fill="#c86a34" stroke="#1a1a1a" stroke-width="0.4"/><polygon points="60.0,30.9 59.6,31.3 59.2,31.4 59.1,30.8 59.2,30.5 59.7,30.3" fill="#8a3418" stroke="#1a1a1a" stroke-width="0.4"/><polygon points="3.7,46.8 3.2,46.6 3.4,45.8 3.8,45.5 4.3,46.3" fill="#2a2a1a" stroke="#1a1a1a" stroke-width="0.4"/><polygon points="52.8,3.8 52.0,3.4 52.1,2.2 53.0,1.8 53.6,3.4" fill="#8a3418" stroke="#1a1a1a" stroke-width="0.4"/><polygon points="49.8,7.9 49.9,7.5 50.6,7.4 50.7,8.1 50.2,8.4" fill="#b85428" stroke="#1a1a1a" stroke-width="0.4"/><polygon points="24.8,21.0 24.2,21.3 23.6,21.1 23.7,20.5 24.1,19.9 24.5,20.1 25.0,20.6" fill="#6e2010" stroke="#1a1a1a" stroke-width="0.4"/><polygon points="64.6,35.7 63.3,36.1 61.9,35.5 62.2,34.5 63.9,35.1" fill="#2a2a1a" stroke="#1a1a1a" stroke-width="0.4"/><polygon points="83.2,24.8 82.4,25.0 82.0,24.3 82.2,23.6 82.8,23.6 83.3,24.2" fill="#a04020" stroke="#1a1a1a" stroke-width="0.4"/><polygon points="16.3,27.5 16.1,27.4 15.4,27.1 15.7,26.8 15.9,26.6 16.3,26.4 16.4,26.8" fill="#c86a34" stroke="#1a1a1a" stroke-width="0.4"/><polygon points="6.3,40.7 5.7,40.3 5.4,39.8 5.7,39.3 6.7,40.0" fill="#a04020" stroke="#1a1a1a" stroke-width="0.4"/><polygon points="53.3,23.2 52.9,22.8 53.7,22.5 54.4,22.3 54.6,22.6 54.3,23.3 53.4,23.9" fill="#8a3418" stroke="#1a1a1a" stroke-width="0.4"/><polygon points="5.7,2.1 4.8,2.2 4.2,1.6 4.6,1.1 5.5,1.1" fill="#b85428" stroke="#1a1a1a" stroke-width="0.4"/><polygon points="10.7,18.8 10.5,17.8 11.5,17.5 12.2,17.9 11.7,18.6" fill="#c86a34" stroke="#1a1a1a" stroke-width="0.4"/><polygon points="18.4,15.7 17.5,15.7 16.9,15.0 17.5,14.8 18.1,15.1" fill="#6e2010" stroke="#1a1a1a" stroke-width="0.4"/><polygon points="52.8,16.6 52.1,16.8 50.8,16.5 50.5,15.8 51.0,15.4 51.9,15.4 52.7,16.0" fill="#2a2a1a" stroke="#1a1a1a" stroke-width="0.4"/><polygon points="54.0,15.9 53.5,16.1 52.3,16.1 52.0,15.5 51.9,15.0 52.8,14.8 53.9,15.1" fill="#8a3418" stroke="#1a1a1a" stroke-width="0.4"/><polygon points="50.6,5.3 50.1,5.7 49.7,5.2 49.5,4.7 50.2,4.5 50.6,4.9" fill="#c86a34" stroke="#1a1a1a" stroke-width="0.4"/><polygon points="64.1,43.2 63.3,43.4 62.7,42.4 63.2,41.5 64.2,42.0" fill="#a04020" stroke="#1a1a1a" stroke-width="0.4"/><polygon points="58.0,28.1 57.4,27.7 57.3,26.7 57.5,25.8 58.5,25.5 58.6,26.4 58.6,27.5" fill="#c86a34" stroke="#1a1a1a" stroke-width="0.4"/><polygon points="62.9,35.8 63.0,34.3 63.4,32.9 64.2,33.8 64.0,34.9" fill="#2a2a1a" stroke="#1a1a1a" stroke-width="0.4"/><polygon points="64.8,41.0 64.4,41.1 62.9,40.5 62.4,39.6 63.3,39.5 64.4,40.0" fill="#8a3418" stroke="#1a1a1a" stroke-width="0.4"/><polygon points="20.1,37.0 19.7,36.6 19.6,36.3 19.7,35.8 20.1,35.9 20.5,36.0 20.6,36.5" fill="#a04020" stroke="#1a1a1a" stroke-width="0.4"/><polygon points="7.9,48.2 7.0,48.3 6.8,46.7 7.5,46.1 8.1,47.3" fill="#6e2010" stroke="#1a1a1a" stroke-width="0.4"/><polygon points="57.2,34.7 56.5,34.3 56.6,33.7 57.2,33.2 57.7,34.3" fill="#c86a34" stroke="#1a1a1a" stroke-width="0.4"/><polygon points="42.9,39.0 42.5,38.5 43.0,37.9 43.6,38.2 43.6,38.8" fill="#2a2a1a" stroke="#1a1a1a" stroke-width="0.4"/><polygon points="18.2,33.5 18.0,32.7 18.5,32.0 19.2,31.2 19.8,31.4 19.8,32.6 19.0,33.1" fill="#6e2010" stroke="#1a1a1a" stroke-width="0.4"/><polygon points="4.6,28.5 3.8,28.5 3.3,28.0 3.6,27.5 4.4,27.8" fill="#8a3418" stroke="#1a1a1a" stroke-width="0.4"/><polygon points="48.3,8.8 48.1,7.8 48.8,7.1 49.5,7.8 49.5,8.7" fill="#a04020" stroke="#1a1a1a" stroke-width="0.4"/><polygon points="57.9,8.3 57.1,8.4 56.3,7.7 56.1,7.2 57.0,7.2 57.4,7.6" fill="#8a3418" stroke="#1a1a1a" stroke-width="0.4"/><polygon points="44.4,4.1 44.1,3.9 43.8,3.0 44.0,2.4 44.6,2.2 44.8,3.2 44.9,3.4" fill="#8a3418" stroke="#1a1a1a" stroke-width="0.4"/><polygon points="9.8,49.5 9.9,48.8 10.5,48.6 11.3,48.4 11.4,48.7 11.3,49.2 10.5,49.5" fill="#c86a34" stroke="#1a1a1a" stroke-width="0.4"/><polygon points="20.4,9.6 20.3,9.1 20.9,8.4 21.5,8.1 22.1,8.3 21.7,8.9 21.0,9.3" fill="#b85428" stroke="#1a1a1a" stroke-width="0.4"/><polygon points="28.9,47.3 28.0,47.4 27.6,46.6 28.1,46.1 29.0,46.6" fill="#a04020" stroke="#1a1a1a" stroke-width="0.4"/><polygon points="42.1,51.6 41.5,52.5 40.6,52.2 40.6,51.5 41.1,51.2 41.9,51.2" fill="#8a3418" stroke="#1a1a1a" stroke-width="0.4"/><polygon points="57.2,8.1 56.2,7.3 56.3,6.2 57.1,5.6 57.7,7.2" fill="#a04020" stroke="#1a1a1a" stroke-width="0.4"/><polygon points="17.6,30.6 16.5,30.0 15.3,29.0 15.9,28.4 17.1,28.3 17.4,29.3" fill="#8a3418" stroke="#1a1a1a" stroke-width="0.4"/><polygon points="32.7,44.6 31.8,44.6 31.5,44.3 31.4,43.5 31.8,43.2 32.1,43.4 32.7,43.8" fill="#a04020" stroke="#1a1a1a" stroke-width="0.4"/><polygon points="56.8,5.0 56.4,5.3 55.7,5.3 55.5,4.5 56.4,4.2" fill="#2a2a1a" stroke="#1a1a1a" stroke-width="0.4"/><polygon points="3.3,18.2 2.3,17.7 2.0,16.5 2.8,15.9 3.6,17.4" fill="#c86a34" stroke="#1a1a1a" stroke-width="0.4"/><polygon points="67.3,49.6 67.0,49.1 67.3,48.4 67.8,48.5 68.0,48.9" fill="#b85428" stroke="#1a1a1a" stroke-width="0.4"/><polygon points="26.2,51.4 25.5,50.5 25.8,49.2 26.3,49.3 27.1,49.4 27.5,50.1 27.0,50.8" fill="#6e2010" stroke="#1a1a1a" stroke-width="0.4"/><polygon points="6.5,13.4 5.8,14.1 5.0,14.1 4.1,13.7 5.1,12.8 6.1,13.1" fill="#a04020" stroke="#1a1a1a" stroke-width="0.4"/><polygon points="35.0,50.6 34.2,50.4 34.1,49.6 34.5,48.8 35.3,48.7 35.5,49.0 35.9,49.9" fill="#c86a34" stroke="#1a1a1a" stroke-width="0.4"/><polygon points="81.9,49.8 81.0,49.3 80.9,47.7 81.5,47.7 82.3,48.8" fill="#c86a34" stroke="#1a1a1a" stroke-width="0.4"/><polygon points="43.8,17.5 43.9,16.8 44.5,16.5 44.9,16.7 45.3,16.8 45.2,17.4 44.3,17.6" fill="#8a3418" stroke="#1a1a1a" stroke-width="0.4"/><polygon points="77.9,31.0 78.1,30.4 78.3,30.4 78.8,30.6 78.9,30.8 78.4,31.1 78.1,31.3" fill="#8a3418" stroke="#1a1a1a" stroke-width="0.4"/><polygon points="18.5,34.8 17.9,34.6 17.5,34.2 17.2,33.4 17.9,33.1 18.6,33.5 18.8,34.4" fill="#a04020" stroke="#1a1a1a" stroke-width="0.4"/><polygon points="52.7,38.9 52.7,38.4 53.7,37.7 53.9,38.1 53.9,38.6 53.0,39.0" fill="#2a2a1a" stroke="#1a1a1a" stroke-width="0.4"/><polygon points="21.9,34.0 22.1,33.5 22.7,33.5 23.1,33.7 23.2,34.1 22.6,34.6 22.1,34.8" fill="#8a3418" stroke="#1a1a1a" stroke-width="0.4"/><polygon points="3.8,36.0 3.9,35.4 4.8,34.6 5.6,34.8 5.6,35.3 5.2,36.3 4.5,36.4" fill="#6e2010" stroke="#1a1a1a" stroke-width="0.4"/><polygon points="62.7,46.5 62.8,45.6 64.3,45.4 64.5,45.7 64.2,46.4 63.3,46.6" fill="#c86a34" stroke="#1a1a1a" stroke-width="0.4"/><polygon points="55.5,40.4 55.4,39.5 55.5,39.0 56.1,38.3 56.9,38.7 57.0,39.4 56.7,40.2" fill="#c86a34" stroke="#1a1a1a" stroke-width="0.4"/><polygon points="18.2,10.0 18.4,9.0 20.1,8.6 20.1,9.6 19.0,10.6" fill="#c86a34" stroke="#1a1a1a" stroke-width="0.4"/><polygon points="16.2,48.1 16.0,47.6 16.6,46.7 17.5,47.4 17.1,48.0" fill="#b85428" stroke="#1a1a1a" stroke-width="0.4"/><polygon points="65.2,47.1 64.1,46.8 63.4,45.7 63.4,45.1 64.3,44.6 65.5,46.1" fill="#8a3418" stroke="#1a1a1a" stroke-width="0.4"/><polygon points="80.3,36.9 80.7,36.5 82.0,36.2 82.3,37.0 81.6,37.7 80.6,37.8" fill="#a04020" stroke="#1a1a1a" stroke-width="0.4"/><polygon points="11.9,36.2 11.5,36.0 11.0,35.6 11.1,35.1 11.6,35.1 11.9,35.3 12.2,35.5" fill="#c86a34" stroke="#1a1a1a" stroke-width="0.4"/><polygon points="8.7,49.6 7.3,49.0 6.8,48.0 8.0,47.5 8.7,48.3" fill="#8a3418" stroke="#1a1a1a" stroke-width="0.4"/><polygon points="4.0,48.6 4.4,47.4 5.2,47.2 5.8,48.0 4.9,49.1" fill="#c86a34" stroke="#1a1a1a" stroke-width="0.4"/><polygon points="65.5,43.6 64.9,43.6 64.3,42.9 64.5,42.2 65.2,42.0 65.8,42.7 66.0,43.3" fill="#2a2a1a" stroke="#1a1a1a" stroke-width="0.4"/><polygon points="21.0,40.6 20.4,40.0 20.3,39.5 20.5,39.0 21.3,39.2 21.4,39.8" fill="#8a3418" stroke="#1a1a1a" stroke-width="0.4"/><polygon points="28.7,44.1 27.9,44.1 27.0,43.7 27.6,42.8 28.2,42.5 28.9,43.0" fill="#2a2a1a" stroke="#1a1a1a" stroke-width="0.4"/><polygon points="56.7,18.0 56.6,17.2 57.7,16.1 58.3,16.4 57.7,17.7" fill="#2a2a1a" stroke="#1a1a1a" stroke-width="0.4"/><polygon points="30.7,31.3 30.8,30.8 32.1,30.6 32.7,31.0 31.4,31.6" fill="#b85428" stroke="#1a1a1a" stroke-width="0.4"/><polygon points="22.6,10.7 22.2,10.7 21.8,10.0 21.9,9.4 22.8,9.6 23.0,10.3" fill="#b85428" stroke="#1a1a1a" stroke-width="0.4"/><polygon points="63.5,31.3 62.9,31.4 62.5,30.9 62.8,30.5 63.5,30.3 63.8,30.9" fill="#8a3418" stroke="#1a1a1a" stroke-width="0.4"/><polygon points="41.3,44.7 40.5,44.4 40.6,43.7 40.9,43.5 41.6,43.3 41.6,43.7 41.5,44.3" fill="#a04020" stroke="#1a1a1a" stroke-width="0.4"/><polygon points="7.7,10.4 7.2,9.8 7.2,9.4 7.8,8.9 8.4,9.3 8.4,9.9" fill="#8a3418" stroke="#1a1a1a" stroke-width="0.4"/><polygon points="53.9,39.5 54.2,38.6 55.6,38.0 56.3,39.0 56.1,39.6 54.7,39.7" fill="#2a2a1a" stroke="#1a1a1a" stroke-width="0.4"/><polygon points="44.6,15.5 44.7,15.0 45.1,14.9 45.5,14.8 45.4,15.4 45.0,15.8" fill="#b85428" stroke="#1a1a1a" stroke-width="0.4"/><polygon points="37.1,46.1 36.3,46.4 35.7,46.1 35.9,45.7 36.8,45.5" fill="#b85428" stroke="#1a1a1a" stroke-width="0.4"/><polygon points="16.3,10.3 15.5,10.9 15.0,10.7 14.9,10.1 14.9,9.4 15.8,9.6" fill="#6e2010" stroke="#1a1a1a" stroke-width="0.4"/><polygon points="-2.4,38.8 -3.1,39.0 -3.9,38.6 -3.9,37.9 -3.3,37.6 -2.6,38.0" fill="#8a3418" stroke="#1a1a1a" stroke-width="0.4"/><polygon points="79.1,46.5 78.6,46.5 78.0,46.3 78.2,45.6 79.1,45.6" fill="#6e2010" stroke="#1a1a1a" stroke-width="0.4"/><polygon points="39.1,43.9 38.5,43.7 37.9,43.1 39.0,42.2 39.5,43.0" fill="#8a3418" stroke="#1a1a1a" stroke-width="0.4"/><polygon points="47.5,5.3 47.8,4.7 48.8,4.4 49.1,5.0 48.8,5.9 48.0,5.8" fill="#c86a34" stroke="#1a1a1a" stroke-width="0.4"/><polygon points="9.6,20.4 9.6,20.0 10.3,19.6 10.7,19.9 10.8,20.5 10.5,21.0 10.0,20.9" fill="#6e2010" stroke="#1a1a1a" stroke-width="0.4"/><polygon points="58.2,25.8 57.7,26.1 57.1,25.8 57.1,25.5 57.3,25.0 58.1,25.3" fill="#6e2010" stroke="#1a1a1a" stroke-width="0.4"/><polygon points="2.3,33.7 1.9,33.3 2.3,32.8 2.5,32.7 2.9,32.9 3.1,33.5 2.7,33.9" fill="#a04020" stroke="#1a1a1a" stroke-width="0.4"/><polygon points="54.5,40.7 53.3,39.8 53.4,38.9 54.5,38.6 54.8,39.9" fill="#6e2010" stroke="#1a1a1a" stroke-width="0.4"/><polygon points="12.6,16.5 11.8,16.8 11.1,16.9 10.3,16.6 10.2,15.7 11.3,15.8 12.1,16.0" fill="#a04020" stroke="#1a1a1a" stroke-width="0.4"/><polygon points="66.8,44.7 66.4,45.5 65.2,45.2 65.0,44.6 64.9,43.6 66.1,43.5 67.0,44.0" fill="#2a2a1a" stroke="#1a1a1a" stroke-width="0.4"/><polygon points="20.5,29.7 20.1,28.4 20.7,27.2 21.6,27.2 21.5,28.8" fill="#2a2a1a" stroke="#1a1a1a" stroke-width="0.4"/><polygon points="1.4,44.1 1.8,43.2 2.6,42.8 2.9,43.6 2.1,44.6" fill="#2a2a1a" stroke="#1a1a1a" stroke-width="0.4"/><polygon points="51.0,15.0 50.9,14.5 51.8,14.1 51.9,14.4 51.6,15.1" fill="#8a3418" stroke="#1a1a1a" stroke-width="0.4"/><polygon points="12.4,21.7 11.5,21.4 11.5,20.7 12.2,20.1 12.6,20.5 12.9,21.5" fill="#b85428" stroke="#1a1a1a" stroke-width="0.4"/><polygon points="81.0,33.7 80.0,33.5 79.1,32.2 79.9,31.9 80.9,32.0" fill="#2a2a1a" stroke="#1a1a1a" stroke-width="0.4"/><polygon points="63.9,38.2 63.3,38.5 62.2,38.0 62.3,37.5 63.5,37.1" fill="#8a3418" stroke="#1a1a1a" stroke-width="0.4"/><polygon points="54.9,24.5 54.9,23.3 55.8,22.9 56.4,23.0 56.6,23.9 56.0,24.4" fill="#2a2a1a" stroke="#1a1a1a" stroke-width="0.4"/><polygon points="63.8,42.3 63.3,42.3 63.0,41.6 63.1,41.0 63.6,40.8 63.9,41.6 64.1,42.0" fill="#c86a34" stroke="#1a1a1a" stroke-width="0.4"/><polygon points="51.0,5.0 50.6,4.4 51.2,3.6 51.8,3.8 52.1,4.4 51.7,5.3" fill="#2a2a1a" stroke="#1a1a1a" stroke-width="0.4"/><polygon points="21.0,27.8 20.5,28.0 19.7,27.5 19.9,26.8 20.3,26.2 21.1,26.5 21.1,27.3" fill="#2a2a1a" stroke="#1a1a1a" stroke-width="0.4"/><polygon points="12.0,41.9 11.6,42.2 10.9,41.5 10.4,40.8 11.2,40.4 12.0,40.5 12.5,41.7" fill="#b85428" stroke="#1a1a1a" stroke-width="0.4"/><polygon points="20.2,14.8 19.8,13.6 20.9,13.2 21.9,12.6 21.6,14.1 21.1,15.0" fill="#8a3418" stroke="#1a1a1a" stroke-width="0.4"/><polygon points="7.8,6.9 7.3,6.5 8.1,5.6 8.6,5.5 9.0,6.0 8.4,7.1" fill="#b85428" stroke="#1a1a1a" stroke-width="0.4"/><polygon points="1.1,48.1 0.3,47.6 0.2,46.9 0.4,46.2 1.0,46.7 1.4,47.5" fill="#6e2010" stroke="#1a1a1a" stroke-width="0.4"/><polygon points="6.3,54.2 6.4,53.3 7.1,52.4 8.4,52.7 7.3,54.3" fill="#b85428" stroke="#1a1a1a" stroke-width="0.4"/><polygon points="43.6,2.0 43.0,1.5 43.2,1.1 43.4,0.7 43.9,0.8 44.1,1.2 43.9,1.7" fill="#8a3418" stroke="#1a1a1a" stroke-width="0.4"/><polygon points="1.9,45.3 1.8,43.7 2.9,43.2 3.7,43.5 4.1,44.4 2.9,45.0" fill="#6e2010" stroke="#1a1a1a" stroke-width="0.4"/><polygon points="80.0,30.4 80.5,29.4 81.1,28.8 82.6,28.8 81.9,29.9 80.7,30.5" fill="#c86a34" stroke="#1a1a1a" stroke-width="0.4"/><polygon points="41.1,5.3 41.6,4.7 42.0,4.8 42.4,5.1 42.5,5.3 42.0,5.7 41.6,5.7" fill="#c86a34" stroke="#1a1a1a" stroke-width="0.4"/><polygon points="33.1,45.5 32.3,45.2 32.3,44.8 32.8,44.0 33.5,44.3 33.4,45.2" fill="#8a3418" stroke="#1a1a1a" stroke-width="0.4"/><polygon points="78.0,31.4 78.4,30.5 79.1,30.0 79.6,30.7 79.1,31.6" fill="#2a2a1a" stroke="#1a1a1a" stroke-width="0.4"/><polygon points="5.1,46.0 3.9,46.3 2.8,46.1 2.2,45.0 3.6,44.8 4.4,44.6" fill="#b85428" stroke="#1a1a1a" stroke-width="0.4"/><polygon points="1.1,40.7 0.8,39.5 1.5,39.2 2.4,40.0 2.5,40.5 1.9,41.4" fill="#c86a34" stroke="#1a1a1a" stroke-width="0.4"/><polygon points="54.8,10.8 55.3,10.1 57.1,9.7 57.1,10.7 55.9,11.3" fill="#b85428" stroke="#1a1a1a" stroke-width="0.4"/><polygon points="63.4,44.0 63.5,43.7 63.9,43.3 64.2,43.7 64.4,44.0 64.2,44.4 63.7,44.3" fill="#c86a34" stroke="#1a1a1a" stroke-width="0.4"/><polygon points="17.4,26.8 16.5,26.9 15.7,26.2 16.0,25.3 17.1,25.5" fill="#b85428" stroke="#1a1a1a" stroke-width="0.4"/><polygon points="14.8,44.9 14.0,45.3 13.5,44.7 13.5,43.3 14.1,43.1 15.3,43.4 15.6,44.7" fill="#c86a34" stroke="#1a1a1a" stroke-width="0.4"/><polygon points="19.1,14.2 19.2,13.6 19.6,13.2 19.9,13.5 19.7,14.2" fill="#c86a34" stroke="#1a1a1a" stroke-width="0.4"/><polygon points="51.2,5.1 50.1,5.9 49.4,5.2 49.6,4.7 50.7,4.6" fill="#8a3418" stroke="#1a1a1a" stroke-width="0.4"/><polygon points="2.1,43.2 2.5,42.6 3.0,42.1 3.5,42.4 3.2,43.1" fill="#8a3418" stroke="#1a1a1a" stroke-width="0.4"/><polygon points="50.4,9.5 49.9,9.8 49.2,9.5 49.4,8.7 50.0,8.8" fill="#6e2010" stroke="#1a1a1a" stroke-width="0.4"/><polygon points="28.0,49.4 28.2,48.8 28.9,48.5 29.5,48.6 30.0,49.0 29.3,49.5 29.0,49.5" fill="#b85428" stroke="#1a1a1a" stroke-width="0.4"/><polygon points="50.8,29.8 50.6,28.6 51.6,28.0 52.6,28.6 51.9,29.7" fill="#a04020" stroke="#1a1a1a" stroke-width="0.4"/><polygon points="9.5,15.0 8.8,14.3 8.4,13.8 8.7,12.8 9.0,12.4 9.8,13.3 9.9,14.5" fill="#8a3418" stroke="#1a1a1a" stroke-width="0.4"/><polygon points="80.9,51.6 80.3,51.3 80.6,50.0 81.7,49.3 82.3,50.0 82.1,51.0 81.6,51.3" fill="#8a3418" stroke="#1a1a1a" stroke-width="0.4"/><polygon points="51.3,10.7 51.1,9.1 52.2,8.0 53.1,8.0 53.3,9.6 52.4,10.0" fill="#c86a34" stroke="#1a1a1a" stroke-width="0.4"/><polygon points="40.3,4.7 39.8,4.7 39.0,4.2 38.7,3.6 39.5,3.3 39.9,3.4 40.6,3.9" fill="#2a2a1a" stroke="#1a1a1a" stroke-width="0.4"/><polygon points="48.4,7.2 48.1,6.7 48.4,6.4 49.0,6.4 49.1,6.7 48.8,7.4" fill="#c86a34" stroke="#1a1a1a" stroke-width="0.4"/><polygon points="23.6,48.5 22.8,48.2 22.1,47.5 22.4,46.6 23.3,47.0 24.2,48.2" fill="#2a2a1a" stroke="#1a1a1a" stroke-width="0.4"/><polygon points="0.4,46.9 0.8,45.7 1.9,45.4 2.3,46.2 1.6,47.5" fill="#c86a34" stroke="#1a1a1a" stroke-width="0.4"/><polygon points="16.3,49.4 15.7,49.5 15.2,48.0 15.7,47.0 16.3,47.5 16.7,48.8" fill="#8a3418" stroke="#1a1a1a" stroke-width="0.4"/><polygon points="17.4,29.6 17.0,29.3 17.0,28.7 17.4,28.4 17.9,28.4 18.0,29.2 17.9,29.7" fill="#8a3418" stroke="#1a1a1a" stroke-width="0.4"/><polygon points="60.8,32.3 60.4,31.9 60.3,31.2 60.3,30.4 61.0,31.1 61.3,31.8" fill="#a04020" stroke="#1a1a1a" stroke-width="0.4"/><polygon points="79.5,19.0 79.0,18.7 78.8,18.1 78.7,17.4 79.7,17.1 79.9,17.7 80.0,18.6" fill="#2a2a1a" stroke="#1a1a1a" stroke-width="0.4"/><polygon points="41.1,46.4 41.4,45.5 42.4,45.5 42.9,45.5 43.3,46.1 42.3,46.9 42.0,46.9" fill="#b85428" stroke="#1a1a1a" stroke-width="0.4"/><ellipse cx="49.0" cy="6.8" rx="0.8" ry="0.6" fill="#8a2a14" opacity="0.9"/><ellipse cx="12.0" cy="44.9" rx="1.0" ry="0.8" fill="#c05028" opacity="0.9"/><ellipse cx="17.4" cy="37.8" rx="0.9" ry="0.7" fill="#c05028" opacity="0.9"/><ellipse cx="61.3" cy="36.3" rx="0.8" ry="0.6" fill="#a03a1c" opacity="0.9"/><ellipse cx="19.4" cy="50.8" rx="1.1" ry="0.8" fill="#a03a1c" opacity="0.9"/><ellipse cx="17.8" cy="38.0" rx="1.1" ry="0.8" fill="#a03a1c" opacity="0.9"/><ellipse cx="7.4" cy="31.8" rx="0.7" ry="0.5" fill="#8a2a14" opacity="0.9"/><ellipse cx="14.9" cy="29.7" rx="0.9" ry="0.7" fill="#8a2a14" opacity="0.9"/><ellipse cx="59.1" cy="30.2" rx="0.7" ry="0.6" fill="#c05028" opacity="0.9"/><ellipse cx="15.9" cy="41.7" rx="1.1" ry="0.9" fill="#8a2a14" opacity="0.9"/><ellipse cx="59.6" cy="29.3" rx="0.7" ry="0.5" fill="#a03a1c" opacity="0.9"/><ellipse cx="54.8" cy="5.5" rx="0.7" ry="0.5" fill="#a03a1c" opacity="0.9"/><ellipse cx="62.7" cy="30.1" rx="0.9" ry="0.7" fill="#8a2a14" opacity="0.9"/><ellipse cx="8.6" cy="35.8" rx="0.9" ry="0.7" fill="#8a2a14" opacity="0.9"/><ellipse cx="14.2" cy="28.4" rx="0.7" ry="0.5" fill="#c05028" opacity="0.9"/><ellipse cx="60.3" cy="28.3" rx="1.1" ry="0.9" fill="#8a2a14" opacity="0.9"/><ellipse cx="15.1" cy="42.8" rx="1.2" ry="0.9" fill="#a03a1c" opacity="0.9"/><ellipse cx="23.3" cy="42.2" rx="0.8" ry="0.6" fill="#a03a1c" opacity="0.9"/><ellipse cx="17.1" cy="44.4" rx="1.1" ry="0.8" fill="#8a2a14" opacity="0.9"/><ellipse cx="11.3" cy="40.0" rx="1.1" ry="0.8" fill="#a03a1c" opacity="0.9"/><ellipse cx="13.4" cy="48.5" rx="1.1" ry="0.8" fill="#a03a1c" opacity="0.9"/><ellipse cx="53.4" cy="0.6" rx="0.7" ry="0.6" fill="#8a2a14" opacity="0.9"/><ellipse cx="9.3" cy="26.0" rx="0.9" ry="0.7" fill="#a03a1c" opacity="0.9"/><ellipse cx="14.0" cy="43.2" rx="1.1" ry="0.8" fill="#c05028" opacity="0.9"/><ellipse cx="11.4" cy="37.1" rx="1.0" ry="0.8" fill="#8a2a14" opacity="0.9"/><ellipse cx="50.6" cy="8.8" rx="0.7" ry="0.5" fill="#a03a1c" opacity="0.9"/><ellipse cx="54.2" cy="3.5" rx="0.9" ry="0.7" fill="#c05028" opacity="0.9"/><ellipse cx="11.2" cy="25.2" rx="1.1" ry="0.9" fill="#a03a1c" opacity="0.9"/><ellipse cx="54.3" cy="1.9" rx="1.0" ry="0.8" fill="#c05028" opacity="0.9"/><ellipse cx="14.8" cy="51.9" rx="1.0" ry="0.7" fill="#c05028" opacity="0.9"/><ellipse cx="52.9" cy="6.6" rx="0.8" ry="0.6" fill="#8a2a14" opacity="0.9"/><ellipse cx="6.5" cy="20.3" rx="0.8" ry="0.6" fill="#c05028" opacity="0.9"/><ellipse cx="16.8" cy="43.0" rx="0.9" ry="0.7" fill="#c05028" opacity="0.9"/><ellipse cx="9.3" cy="50.3" rx="1.0" ry="0.8" fill="#8a2a14" opacity="0.9"/><ellipse cx="8.6" cy="40.0" rx="0.9" ry="0.7" fill="#c05028" opacity="0.9"/><ellipse cx="8.8" cy="45.5" rx="1.1" ry="0.9" fill="#a03a1c" opacity="0.9"/><ellipse cx="48.4" cy="4.7" rx="1.0" ry="0.7" fill="#c05028" opacity="0.9"/><ellipse cx="60.2" cy="28.0" rx="0.7" ry="0.5" fill="#8a2a14" opacity="0.9"/><ellipse cx="10.9" cy="30.5" rx="0.7" ry="0.5" fill="#a03a1c" opacity="0.9"/><ellipse cx="15.5" cy="29.0" rx="1.0" ry="0.8" fill="#c05028" opacity="0.9"/><ellipse cx="10.6" cy="31.7" rx="1.1" ry="0.8" fill="#a03a1c" opacity="0.9"/><ellipse cx="52.6" cy="1.7" rx="0.8" ry="0.6" fill="#8a2a14" opacity="0.9"/><ellipse cx="55.1" cy="0.6" rx="0.9" ry="0.7" fill="#c05028" opacity="0.9"/><ellipse cx="14.3" cy="48.1" rx="0.9" ry="0.7" fill="#c05028" opacity="0.9"/><ellipse cx="54.7" cy="10.1" rx="1.2" ry="0.9" fill="#c05028" opacity="0.9"/><ellipse cx="47.7" cy="-3.2" rx="0.9" ry="0.7" fill="#a03a1c" opacity="0.9"/><ellipse cx="62.7" cy="30.3" rx="0.9" ry="0.7" fill="#a03a1c" opacity="0.9"/><ellipse cx="6.4" cy="37.4" rx="1.0" ry="0.8" fill="#c05028" opacity="0.9"/><ellipse cx="7.9" cy="31.2" rx="1.0" ry="0.7" fill="#8a2a14" opacity="0.9"/><ellipse cx="54.7" cy="4.6" rx="0.8" ry="0.6" fill="#a03a1c" opacity="0.9"/><ellipse cx="16.7" cy="44.8" rx="1.1" ry="0.8" fill="#8a2a14" opacity="0.9"/><ellipse cx="17.8" cy="47.6" rx="0.8" ry="0.6" fill="#a03a1c" opacity="0.9"/><ellipse cx="8.9" cy="38.8" rx="0.9" ry="0.7" fill="#c05028" opacity="0.9"/><ellipse cx="5.8" cy="24.0" rx="0.7" ry="0.5" fill="#c05028" opacity="0.9"/><ellipse cx="10.5" cy="30.8" rx="0.7" ry="0.6" fill="#8a2a14" opacity="0.9"/><ellipse cx="12.4" cy="32.8" rx="0.7" ry="0.6" fill="#c05028" opacity="0.9"/><ellipse cx="10.9" cy="41.5" rx="1.0" ry="0.7" fill="#a03a1c" opacity="0.9"/><ellipse cx="19.1" cy="34.3" rx="0.9" ry="0.7" fill="#a03a1c" opacity="0.9"/><ellipse cx="15.8" cy="43.8" rx="1.0" ry="0.8" fill="#c05028" opacity="0.9"/><ellipse cx="13.3" cy="51.1" rx="1.1" ry="0.8" fill="#8a2a14" opacity="0.9"/>
</svg>
<rect x="3.0" y="105.0" width="85.3" height="53.6" fill="none" stroke="#151515" stroke-width="0.9"/>
<g font-family="'Liberation Serif', 'Times New Roman', serif" font-size="7.8" fill="#222">
<text x="93.2" y="134.2">0.8</text><text x="93.2" y="147.7">0.4</text><text x="93.2" y="161.6">0</text>
<text transform="translate(109.4,143.8) rotate(-90)" text-anchor="middle" font-size="7.2">km</text>
</g>
<rect x="114.9" y="146.6" width="14.3" height="12.4" fill="#ffffff"/>
<text x="122.05" y="154.8" text-anchor="middle" font-size="10.8" font-family="'Liberation Serif', 'Times New Roman', serif" fill="#1a1a1a" stroke="#1a1a1a" stroke-width="0.2">(g)</text>
</svg>
<rect x="0" y="0" width="133.6" height="161.6" fill="none" stroke="#585858" stroke-width="1"/>
<line x1="-2.6" y1="9.2" x2="0" y2="9.2" stroke="#222" stroke-width="0.8"/>
<line x1="-2.6" y1="79.5" x2="0" y2="79.5" stroke="#222" stroke-width="0.8"/>
<line x1="-2.6" y1="149.8" x2="0" y2="149.8" stroke="#222" stroke-width="0.8"/>
<line x1="11.0" y1="161.6" x2="11.0" y2="164.2" stroke="#222" stroke-width="0.8"/>
<line x1="58.0" y1="161.6" x2="58.0" y2="164.2" stroke="#222" stroke-width="0.8"/>
<line x1="104.4" y1="161.6" x2="104.4" y2="164.2" stroke="#222" stroke-width="0.8"/>
</g>
<g transform="translate(169.4,359.4)">
<svg x="0" y="0" width="133.6" height="161.6" viewBox="0 0 133.6 161.6" overflow="hidden">
<rect width="133.6" height="161.6" fill="#c2c2c2"/>
<rect width="133.6" height="161.6" fill="#000" filter="url(#hs)"/>
<g mask="url(#mR)"><rect x="-60" y="-60" width="253.6" height="281.6" fill="#000" filter="url(#hs2)" transform="rotate(35 66.8 80.8)"/></g>
<path d="M0,95.5 L5,95.8 L2.5,97.6 L0,98 Z" fill="#f2f2f2"/>
<polygon points="88,145 94,145 101,150 109,157.5 112,162 88,162" fill="#ffffff"/>
<use href="#pg" fill="none" stroke="#dadada" stroke-width="2.6" opacity="0.8"/>
<use href="#pg" fill="#5cab3c"/>
<use href="#pg" fill="#000" filter="url(#gn)"/>
<use href="#pg" fill="none" stroke="#141a12" stroke-width="1.0"/>
<g clip-path="url(#clipPoly)">
<polygon points="43.0,36.0 47.0,34.5 51.0,38.0 56.0,44.0 58.0,50.0 62.0,50.5 68.0,53.0 76.0,53.0 81.0,57.0 85.0,63.0 87.0,71.0 85.0,78.0 81.0,83.0 79.0,90.0 75.0,95.0 69.0,97.0 63.0,94.0 59.0,88.0 52.0,87.0 46.0,84.0 43.0,80.0 38.0,77.0 33.0,73.0 32.0,68.0 36.0,64.0 38.0,58.0 37.0,50.0 38.0,43.0" fill="#fff" filter="url(#haloB)"/><polygon points="44.0,39.7 46.4,37.8 48.7,38.9 51.1,42.9 54.2,46.8 55.0,50.7 56.6,55.5 60.5,53.9 63.7,54.7 66.9,57.0 70.8,57.8 74.7,57.0 77.1,58.6 79.5,61.8 81.0,65.7 82.6,71.2 81.0,76.0 77.9,79.1 76.3,83.9 74.7,88.6 71.6,91.7 67.6,92.5 65.3,90.2 62.9,85.4 59.0,83.9 54.2,83.1 51.1,82.3 47.9,79.9 47.1,76.8 46.0,73.6 42.5,73.0 40.5,70.8 41.8,67.5 44.0,64.9 42.4,61.8 41.6,57.0 40.8,52.3 41.6,47.6 42.4,42.9" fill="#fff" filter="url(#coreB)"/><ellipse cx="49" cy="47.6" rx="1.3" ry="1.56" fill="#e39a76" opacity="0.85" filter="url(#blur05)"/><ellipse cx="46.3" cy="61.8" rx="1.1" ry="1.32" fill="#e39a76" opacity="0.85" filter="url(#blur05)"/><ellipse cx="50" cy="75" rx="1.3" ry="1.56" fill="#e39a76" opacity="0.85" filter="url(#blur05)"/>
</g>
<rect x="101.5" y="1.6" width="27.2" height="23.2" fill="#ffffff"/>
<text x="103.0" y="11.1" font-size="9.2" font-family="'Liberation Serif', 'Times New Roman', serif" fill="#1a1a1a" stroke="#1a1a1a" stroke-width="0.25"><tspan font-style="italic">R</tspan><tspan font-size="5.5" font-style="italic" dy="1.5">d</tspan><tspan dy="-1.5">=</tspan>0.5</text>
<text x="104.6" y="22.5" font-size="9.4" font-family="'Liberation Serif', 'Times New Roman', serif" fill="#1a1a1a" stroke="#1a1a1a" stroke-width="0.25">RF<tspan font-size="6.2">ILW</tspan></text>
<polyline points="74.6,68.8 3.0,105.0" fill="none" stroke="#1f35d6" stroke-width="1.3" stroke-dasharray="3.2,1.6"/>
<polyline points="80.9,69.3 88.3,105.0" fill="none" stroke="#1f35d6" stroke-width="1.3" stroke-dasharray="3.2,1.6"/>
<rect x="74.6" y="65.0" width="6.3" height="4.3" fill="none" stroke="#1f35d6" stroke-width="1.2"/>
<polygon points="48.0,82.4 49.4,85.7 52.9,86.0 50.2,88.3 51.1,91.8 48.0,89.9 44.9,91.8 45.8,88.3 43.1,86.0 46.6,85.7" fill="#f3ee1c" stroke="#111" stroke-width="1"/>
<path d="M0,104.7 H3.0 V158.6 H88.3 V162.6 H0 Z" fill="#ffffff"/>
<svg x="3.0" y="105.0" width="85.3" height="53.6" viewBox="0 0 85.3 53.6" overflow="hidden">
<rect x="-30" y="-30" width="145.3" height="113.6" fill="#000" filter="url(#insG)" transform="rotate(-40 42.65 26.8)"/><g clip-path="url(#insR)"><rect x="-30" y="-30" width="145.3" height="113.6" fill="#000" filter="url(#insG)" transform="rotate(30 42.65 26.8)"/></g><ellipse cx="67.5" cy="37.0" rx="1.2" ry="0.7" transform="rotate(-25 66.7 37.6)" fill="#e6f0d4"/><ellipse cx="66.7" cy="37.6" rx="1.0" ry="0.5" transform="rotate(-25 66.7 37.6)" fill="#243a14"/><ellipse cx="60.9" cy="30.4" rx="1.3" ry="0.7" transform="rotate(-25 60.1 31.0)" fill="#cfe8b0"/><ellipse cx="60.1" cy="31.0" rx="1.1" ry="0.6" transform="rotate(-25 60.1 31.0)" fill="#2a2a18"/><ellipse cx="17.0" cy="48.0" rx="1.0" ry="0.5" transform="rotate(-25 16.2 48.6)" fill="#dcecc4"/><ellipse cx="16.2" cy="48.6" rx="0.8" ry="0.4" transform="rotate(-25 16.2 48.6)" fill="#243a14"/><ellipse cx="15.4" cy="32.8" rx="1.2" ry="0.7" transform="rotate(-25 14.6 33.4)" fill="#dcecc4"/><ellipse cx="14.6" cy="33.4" rx="1.0" ry="0.5" transform="rotate(-25 14.6 33.4)" fill="#7a3a28"/><ellipse cx="10.3" cy="10.6" rx="1.5" ry="0.9" transform="rotate(-25 9.5 11.2)" fill="#dcecc4"/><ellipse cx="9.5" cy="11.2" rx="1.2" ry="0.7" transform="rotate(-25 9.5 11.2)" fill="#2a2a18"/><ellipse cx="49.9" cy="-3.1" rx="0.8" ry="0.5" transform="rotate(-25 49.1 -2.5)" fill="#e6f0d4"/><ellipse cx="49.1" cy="-2.5" rx="0.7" ry="0.4" transform="rotate(-25 49.1 -2.5)" fill="#2a2a18"/><ellipse cx="7.0" cy="5.7" rx="1.5" ry="0.8" transform="rotate(-25 6.2 6.3)" fill="#dcecc4"/><ellipse cx="6.2" cy="6.3" rx="1.2" ry="0.7" transform="rotate(-25 6.2 6.3)" fill="#243a14"/><ellipse cx="69.8" cy="28.3" rx="1.3" ry="0.7" transform="rotate(-25 69.0 28.9)" fill="#cfe8b0"/><ellipse cx="69.0" cy="28.9" rx="1.0" ry="0.6" transform="rotate(-25 69.0 28.9)" fill="#7a3a28"/><ellipse cx="66.4" cy="-0.6" rx="0.8" ry="0.5" transform="rotate(-25 65.6 0.0)" fill="#e6f0d4"/><ellipse cx="65.6" cy="0.0" rx="0.7" ry="0.4" transform="rotate(-25 65.6 0.0)" fill="#1a3010"/><ellipse cx="27.6" cy="11.3" rx="1.0" ry="0.6" transform="rotate(-25 26.8 11.9)" fill="#cfe8b0"/><ellipse cx="26.8" cy="11.9" rx="0.8" ry="0.4" transform="rotate(-25 26.8 11.9)" fill="#2a2a18"/><ellipse cx="55.8" cy="-2.1" rx="1.1" ry="0.6" transform="rotate(-25 55.0 -1.5)" fill="#cfe8b0"/><ellipse cx="55.0" cy="-1.5" rx="0.9" ry="0.5" transform="rotate(-25 55.0 -1.5)" fill="#243a14"/><ellipse cx="77.4" cy="49.2" rx="1.2" ry="0.7" transform="rotate(-25 76.6 49.8)" fill="#e6f0d4"/><ellipse cx="76.6" cy="49.8" rx="0.9" ry="0.5" transform="rotate(-25 76.6 49.8)" fill="#7a3a28"/><ellipse cx="35.8" cy="29.8" rx="1.5" ry="0.9" transform="rotate(-25 35.0 30.4)" fill="#cfe8b0"/><ellipse cx="35.0" cy="30.4" rx="1.3" ry="0.7" transform="rotate(-25 35.0 30.4)" fill="#1a3010"/><ellipse cx="22.9" cy="44.3" rx="0.8" ry="0.5" transform="rotate(-25 22.1 44.9)" fill="#e6f0d4"/><ellipse cx="22.1" cy="44.9" rx="0.7" ry="0.4" transform="rotate(-25 22.1 44.9)" fill="#243a14"/><ellipse cx="29.6" cy="10.5" rx="1.6" ry="0.9" transform="rotate(-25 28.8 11.1)" fill="#cfe8b0"/><ellipse cx="28.8" cy="11.1" rx="1.3" ry="0.7" transform="rotate(-25 28.8 11.1)" fill="#2a2a18"/><ellipse cx="28.5" cy="10.8" rx="1.7" ry="0.9" transform="rotate(-25 27.7 11.4)" fill="#e6f0d4"/><ellipse cx="27.7" cy="11.4" rx="1.3" ry="0.7" transform="rotate(-25 27.7 11.4)" fill="#243a14"/><ellipse cx="15.2" cy="9.2" rx="0.9" ry="0.5" transform="rotate(-25 14.4 9.8)" fill="#cfe8b0"/><ellipse cx="14.4" cy="9.8" rx="0.7" ry="0.4" transform="rotate(-25 14.4 9.8)" fill="#243a14"/><ellipse cx="56.4" cy="21.2" rx="1.6" ry="0.9" transform="rotate(-25 55.6 21.8)" fill="#cfe8b0"/><ellipse cx="55.6" cy="21.8" rx="1.3" ry="0.7" transform="rotate(-25 55.6 21.8)" fill="#243a14"/><ellipse cx="27.2" cy="11.5" rx="1.6" ry="0.9" transform="rotate(-25 26.4 12.1)" fill="#dcecc4"/><ellipse cx="26.4" cy="12.1" rx="1.3" ry="0.7" transform="rotate(-25 26.4 12.1)" fill="#1a3010"/><ellipse cx="80.5" cy="8.4" rx="0.9" ry="0.5" transform="rotate(-25 79.7 9.0)" fill="#dcecc4"/><ellipse cx="79.7" cy="9.0" rx="0.8" ry="0.4" transform="rotate(-25 79.7 9.0)" fill="#243a14"/><ellipse cx="38.2" cy="40.9" rx="1.3" ry="0.7" transform="rotate(-25 37.4 41.5)" fill="#dcecc4"/><ellipse cx="37.4" cy="41.5" rx="1.1" ry="0.6" transform="rotate(-25 37.4 41.5)" fill="#7a3a28"/><ellipse cx="46.5" cy="19.8" rx="1.1" ry="0.6" transform="rotate(-25 45.7 20.4)" fill="#dcecc4"/><ellipse cx="45.7" cy="20.4" rx="0.9" ry="0.5" transform="rotate(-25 45.7 20.4)" fill="#243a14"/><ellipse cx="61.2" cy="6.3" rx="1.3" ry="0.8" transform="rotate(-25 60.4 6.9)" fill="#dcecc4"/><ellipse cx="60.4" cy="6.9" rx="1.1" ry="0.6" transform="rotate(-25 60.4 6.9)" fill="#1a3010"/><ellipse cx="54.3" cy="30.7" rx="1.5" ry="0.8" transform="rotate(-25 53.5 31.3)" fill="#dcecc4"/><ellipse cx="53.5" cy="31.3" rx="1.2" ry="0.6" transform="rotate(-25 53.5 31.3)" fill="#1a3010"/><ellipse cx="40.6" cy="19.0" rx="1.5" ry="0.8" transform="rotate(-25 39.8 19.6)" fill="#cfe8b0"/><ellipse cx="39.8" cy="19.6" rx="1.2" ry="0.6" transform="rotate(-25 39.8 19.6)" fill="#7a3a28"/><ellipse cx="22.1" cy="47.1" rx="1.1" ry="0.6" transform="rotate(-25 21.3 47.7)" fill="#dcecc4"/><ellipse cx="21.3" cy="47.7" rx="0.9" ry="0.5" transform="rotate(-25 21.3 47.7)" fill="#2a2a18"/><ellipse cx="45.2" cy="9.2" rx="1.5" ry="0.8" transform="rotate(-25 44.4 9.8)" fill="#e6f0d4"/><ellipse cx="44.4" cy="9.8" rx="1.2" ry="0.7" transform="rotate(-25 44.4 9.8)" fill="#7a3a28"/><ellipse cx="57.5" cy="4.2" rx="1.2" ry="0.7" transform="rotate(-25 56.7 4.8)" fill="#e6f0d4"/><ellipse cx="56.7" cy="4.8" rx="0.9" ry="0.5" transform="rotate(-25 56.7 4.8)" fill="#2a2a18"/><ellipse cx="10.3" cy="8.8" rx="0.8" ry="0.5" transform="rotate(-25 9.5 9.4)" fill="#dcecc4"/><ellipse cx="9.5" cy="9.4" rx="0.7" ry="0.4" transform="rotate(-25 9.5 9.4)" fill="#1a3010"/><ellipse cx="4.5" cy="18.3" rx="0.9" ry="0.5" transform="rotate(-25 3.7 18.9)" fill="#e6f0d4"/><ellipse cx="3.7" cy="18.9" rx="0.7" ry="0.4" transform="rotate(-25 3.7 18.9)" fill="#1a3010"/><ellipse cx="52.4" cy="27.5" rx="0.8" ry="0.5" transform="rotate(-25 51.6 28.1)" fill="#e6f0d4"/><ellipse cx="51.6" cy="28.1" rx="0.7" ry="0.4" transform="rotate(-25 51.6 28.1)" fill="#2a2a18"/><ellipse cx="76.1" cy="32.0" rx="1.5" ry="0.8" transform="rotate(-25 75.3 32.6)" fill="#e6f0d4"/><ellipse cx="75.3" cy="32.6" rx="1.2" ry="0.7" transform="rotate(-25 75.3 32.6)" fill="#7a3a28"/><ellipse cx="15.2" cy="37.5" rx="1.5" ry="0.9" transform="rotate(-25 14.4 38.1)" fill="#dcecc4"/><ellipse cx="14.4" cy="38.1" rx="1.2" ry="0.7" transform="rotate(-25 14.4 38.1)" fill="#2a2a18"/><ellipse cx="50.0" cy="20.5" rx="1.3" ry="0.7" transform="rotate(-25 49.2 21.1)" fill="#dcecc4"/><ellipse cx="49.2" cy="21.1" rx="1.1" ry="0.6" transform="rotate(-25 49.2 21.1)" fill="#1a3010"/><ellipse cx="20.6" cy="41.0" rx="0.9" ry="0.5" transform="rotate(-25 19.8 41.6)" fill="#e6f0d4"/><ellipse cx="19.8" cy="41.6" rx="0.8" ry="0.4" transform="rotate(-25 19.8 41.6)" fill="#2a2a18"/><ellipse cx="36.3" cy="26.6" rx="1.6" ry="0.9" transform="rotate(-25 35.5 27.2)" fill="#e6f0d4"/><ellipse cx="35.5" cy="27.2" rx="1.3" ry="0.7" transform="rotate(-25 35.5 27.2)" fill="#7a3a28"/><ellipse cx="43.6" cy="2.3" rx="1.1" ry="0.6" transform="rotate(-25 42.8 2.9)" fill="#e6f0d4"/><ellipse cx="42.8" cy="2.9" rx="0.9" ry="0.5" transform="rotate(-25 42.8 2.9)" fill="#1a3010"/><ellipse cx="43.1" cy="37.3" rx="0.9" ry="0.5" transform="rotate(-25 42.3 37.9)" fill="#e6f0d4"/><ellipse cx="42.3" cy="37.9" rx="0.8" ry="0.4" transform="rotate(-25 42.3 37.9)" fill="#243a14"/><ellipse cx="22.9" cy="46.6" rx="1.5" ry="0.8" transform="rotate(-25 22.1 47.2)" fill="#dcecc4"/><ellipse cx="22.1" cy="47.2" rx="1.2" ry="0.6" transform="rotate(-25 22.1 47.2)" fill="#243a14"/><ellipse cx="23.6" cy="38.6" rx="1.0" ry="0.5" transform="rotate(-25 22.8 39.2)" fill="#e6f0d4"/><ellipse cx="22.8" cy="39.2" rx="0.8" ry="0.4" transform="rotate(-25 22.8 39.2)" fill="#1a3010"/><ellipse cx="2.4" cy="25.5" rx="1.1" ry="0.6" transform="rotate(-25 1.6 26.1)" fill="#e6f0d4"/><ellipse cx="1.6" cy="26.1" rx="0.9" ry="0.5" transform="rotate(-25 1.6 26.1)" fill="#1a3010"/><ellipse cx="51.4" cy="13.7" rx="1.1" ry="0.6" transform="rotate(-25 50.6 14.3)" fill="#cfe8b0"/><ellipse cx="50.6" cy="14.3" rx="0.9" ry="0.5" transform="rotate(-25 50.6 14.3)" fill="#1a3010"/><ellipse cx="64.7" cy="43.1" rx="1.0" ry="0.6" transform="rotate(-25 63.9 43.7)" fill="#e6f0d4"/><ellipse cx="63.9" cy="43.7" rx="0.8" ry="0.4" transform="rotate(-25 63.9 43.7)" fill="#2a2a18"/><ellipse cx="83.2" cy="46.4" rx="1.0" ry="0.6" transform="rotate(-25 82.4 47.0)" fill="#e6f0d4"/><ellipse cx="82.4" cy="47.0" rx="0.8" ry="0.5" transform="rotate(-25 82.4 47.0)" fill="#243a14"/><ellipse cx="64.8" cy="32.9" rx="1.4" ry="0.8" transform="rotate(-25 64.0 33.5)" fill="#e6f0d4"/><ellipse cx="64.0" cy="33.5" rx="1.1" ry="0.6" transform="rotate(-25 64.0 33.5)" fill="#2a2a18"/><ellipse cx="67.5" cy="27.8" rx="1.6" ry="0.9" transform="rotate(-25 66.7 28.4)" fill="#e6f0d4"/><ellipse cx="66.7" cy="28.4" rx="1.3" ry="0.7" transform="rotate(-25 66.7 28.4)" fill="#2a2a18"/><ellipse cx="63.4" cy="34.0" rx="1.1" ry="0.6" transform="rotate(-25 62.6 34.6)" fill="#dcecc4"/><ellipse cx="62.6" cy="34.6" rx="0.9" ry="0.5" transform="rotate(-25 62.6 34.6)" fill="#243a14"/><ellipse cx="45.6" cy="2.1" rx="1.5" ry="0.9" transform="rotate(-25 44.8 2.7)" fill="#dcecc4"/><ellipse cx="44.8" cy="2.7" rx="1.3" ry="0.7" transform="rotate(-25 44.8 2.7)" fill="#1a3010"/><ellipse cx="11.2" cy="5.3" rx="1.5" ry="0.8" transform="rotate(-25 10.4 5.9)" fill="#e6f0d4"/><ellipse cx="10.4" cy="5.9" rx="1.2" ry="0.6" transform="rotate(-25 10.4 5.9)" fill="#7a3a28"/><ellipse cx="14.1" cy="7.8" rx="1.5" ry="0.8" transform="rotate(-25 13.3 8.4)" fill="#cfe8b0"/><ellipse cx="13.3" cy="8.4" rx="1.2" ry="0.6" transform="rotate(-25 13.3 8.4)" fill="#7a3a28"/><ellipse cx="11.6" cy="40.8" rx="1.1" ry="0.6" transform="rotate(-25 10.8 41.4)" fill="#cfe8b0"/><ellipse cx="10.8" cy="41.4" rx="0.9" ry="0.5" transform="rotate(-25 10.8 41.4)" fill="#1a3010"/><ellipse cx="38.7" cy="21.4" rx="1.6" ry="0.9" transform="rotate(-25 37.9 22.0)" fill="#dcecc4"/><ellipse cx="37.9" cy="22.0" rx="1.3" ry="0.7" transform="rotate(-25 37.9 22.0)" fill="#243a14"/><ellipse cx="56.8" cy="7.4" rx="1.0" ry="0.6" transform="rotate(-25 56.0 8.0)" fill="#cfe8b0"/><ellipse cx="56.0" cy="8.0" rx="0.8" ry="0.4" transform="rotate(-25 56.0 8.0)" fill="#7a3a28"/><ellipse cx="53.6" cy="28.4" rx="1.2" ry="0.7" transform="rotate(-25 52.8 29.0)" fill="#cfe8b0"/><ellipse cx="52.8" cy="29.0" rx="1.0" ry="0.5" transform="rotate(-25 52.8 29.0)" fill="#243a14"/><ellipse cx="48.2" cy="23.3" rx="1.5" ry="0.9" transform="rotate(-25 47.4 23.9)" fill="#e6f0d4"/><ellipse cx="47.4" cy="23.9" rx="1.2" ry="0.7" transform="rotate(-25 47.4 23.9)" fill="#1a3010"/><ellipse cx="25.5" cy="12.1" rx="1.5" ry="0.8" transform="rotate(-25 24.7 12.7)" fill="#dcecc4"/><ellipse cx="24.7" cy="12.7" rx="1.2" ry="0.6" transform="rotate(-25 24.7 12.7)" fill="#1a3010"/><ellipse cx="9.5" cy="22.9" rx="0.9" ry="0.5" transform="rotate(-25 8.7 23.5)" fill="#cfe8b0"/><ellipse cx="8.7" cy="23.5" rx="0.7" ry="0.4" transform="rotate(-25 8.7 23.5)" fill="#243a14"/><ellipse cx="10.1" cy="5.7" rx="1.0" ry="0.6" transform="rotate(-25 9.3 6.3)" fill="#cfe8b0"/><ellipse cx="9.3" cy="6.3" rx="0.8" ry="0.5" transform="rotate(-25 9.3 6.3)" fill="#2a2a18"/><ellipse cx="62.7" cy="8.4" rx="0.9" ry="0.5" transform="rotate(-25 61.9 9.0)" fill="#dcecc4"/><ellipse cx="61.9" cy="9.0" rx="0.8" ry="0.4" transform="rotate(-25 61.9 9.0)" fill="#1a3010"/><ellipse cx="40.1" cy="21.7" rx="0.8" ry="0.5" transform="rotate(-25 39.3 22.3)" fill="#cfe8b0"/><ellipse cx="39.3" cy="22.3" rx="0.7" ry="0.4" transform="rotate(-25 39.3 22.3)" fill="#7a3a28"/><ellipse cx="8.1" cy="5.9" rx="1.3" ry="0.7" transform="rotate(-25 7.3 6.5)" fill="#e6f0d4"/><ellipse cx="7.3" cy="6.5" rx="1.0" ry="0.6" transform="rotate(-25 7.3 6.5)" fill="#7a3a28"/><ellipse cx="25.4" cy="45.4" rx="1.3" ry="0.8" transform="rotate(-25 24.6 46.0)" fill="#e6f0d4"/><ellipse cx="24.6" cy="46.0" rx="1.1" ry="0.6" transform="rotate(-25 24.6 46.0)" fill="#7a3a28"/><ellipse cx="76.3" cy="24.1" rx="1.1" ry="0.6" transform="rotate(-25 75.5 24.7)" fill="#cfe8b0"/><ellipse cx="75.5" cy="24.7" rx="0.9" ry="0.5" transform="rotate(-25 75.5 24.7)" fill="#243a14"/><ellipse cx="5.9" cy="32.0" rx="0.9" ry="0.5" transform="rotate(-25 5.1 32.6)" fill="#dcecc4"/><ellipse cx="5.1" cy="32.6" rx="0.7" ry="0.4" transform="rotate(-25 5.1 32.6)" fill="#2a2a18"/><ellipse cx="51.9" cy="21.4" rx="1.2" ry="0.7" transform="rotate(-25 51.1 22.0)" fill="#cfe8b0"/><ellipse cx="51.1" cy="22.0" rx="1.0" ry="0.5" transform="rotate(-25 51.1 22.0)" fill="#243a14"/><ellipse cx="33.8" cy="21.0" rx="1.0" ry="0.5" transform="rotate(-25 33.0 21.6)" fill="#dcecc4"/><ellipse cx="33.0" cy="21.6" rx="0.8" ry="0.4" transform="rotate(-25 33.0 21.6)" fill="#2a2a18"/><ellipse cx="35.2" cy="36.4" rx="0.8" ry="0.5" transform="rotate(-25 34.4 37.0)" fill="#dcecc4"/><ellipse cx="34.4" cy="37.0" rx="0.7" ry="0.4" transform="rotate(-25 34.4 37.0)" fill="#7a3a28"/><ellipse cx="32.2" cy="42.2" rx="1.2" ry="0.7" transform="rotate(-25 31.4 42.8)" fill="#dcecc4"/><ellipse cx="31.4" cy="42.8" rx="1.0" ry="0.5" transform="rotate(-25 31.4 42.8)" fill="#243a14"/><ellipse cx="13.4" cy="4.5" rx="1.0" ry="0.5" transform="rotate(-25 12.6 5.1)" fill="#cfe8b0"/><ellipse cx="12.6" cy="5.1" rx="0.8" ry="0.4" transform="rotate(-25 12.6 5.1)" fill="#243a14"/><ellipse cx="34.0" cy="36.3" rx="0.9" ry="0.5" transform="rotate(-25 33.2 36.9)" fill="#e6f0d4"/><ellipse cx="33.2" cy="36.9" rx="0.7" ry="0.4" transform="rotate(-25 33.2 36.9)" fill="#1a3010"/><ellipse cx="67.9" cy="38.5" rx="1.0" ry="0.6" transform="rotate(-25 67.1 39.1)" fill="#e6f0d4"/><ellipse cx="67.1" cy="39.1" rx="0.8" ry="0.4" transform="rotate(-25 67.1 39.1)" fill="#243a14"/><ellipse cx="56.9" cy="3.9" rx="1.0" ry="0.6" transform="rotate(-25 56.1 4.5)" fill="#cfe8b0"/><ellipse cx="56.1" cy="4.5" rx="0.8" ry="0.4" transform="rotate(-25 56.1 4.5)" fill="#243a14"/><ellipse cx="43.7" cy="47.8" rx="0.9" ry="0.5" transform="rotate(-25 42.9 48.4)" fill="#cfe8b0"/><ellipse cx="42.9" cy="48.4" rx="0.7" ry="0.4" transform="rotate(-25 42.9 48.4)" fill="#243a14"/><ellipse cx="64.3" cy="51.5" rx="1.3" ry="0.8" transform="rotate(-25 63.5 52.1)" fill="#e6f0d4"/><ellipse cx="63.5" cy="52.1" rx="1.1" ry="0.6" transform="rotate(-25 63.5 52.1)" fill="#7a3a28"/><ellipse cx="58.5" cy="25.7" rx="1.6" ry="0.9" transform="rotate(-25 57.7 26.3)" fill="#cfe8b0"/><ellipse cx="57.7" cy="26.3" rx="1.3" ry="0.7" transform="rotate(-25 57.7 26.3)" fill="#243a14"/><ellipse cx="66.2" cy="35.8" rx="1.1" ry="0.6" transform="rotate(-25 65.4 36.4)" fill="#dcecc4"/><ellipse cx="65.4" cy="36.4" rx="0.9" ry="0.5" transform="rotate(-25 65.4 36.4)" fill="#2a2a18"/><ellipse cx="19.4" cy="31.9" rx="1.4" ry="0.8" transform="rotate(-25 18.6 32.5)" fill="#cfe8b0"/><ellipse cx="18.6" cy="32.5" rx="1.1" ry="0.6" transform="rotate(-25 18.6 32.5)" fill="#7a3a28"/><ellipse cx="53.8" cy="11.1" rx="1.5" ry="0.8" transform="rotate(-25 53.0 11.7)" fill="#e6f0d4"/><ellipse cx="53.0" cy="11.7" rx="1.2" ry="0.7" transform="rotate(-25 53.0 11.7)" fill="#7a3a28"/><ellipse cx="1.4" cy="45.2" rx="1.4" ry="0.8" transform="rotate(-25 0.6 45.8)" fill="#cfe8b0"/><ellipse cx="0.6" cy="45.8" rx="1.1" ry="0.6" transform="rotate(-25 0.6 45.8)" fill="#2a2a18"/><ellipse cx="63.1" cy="47.1" rx="1.5" ry="0.8" transform="rotate(-25 62.3 47.7)" fill="#dcecc4"/><ellipse cx="62.3" cy="47.7" rx="1.2" ry="0.7" transform="rotate(-25 62.3 47.7)" fill="#1a3010"/><ellipse cx="2.8" cy="15.0" rx="1.6" ry="0.9" transform="rotate(-25 2.0 15.6)" fill="#cfe8b0"/><ellipse cx="2.0" cy="15.6" rx="1.3" ry="0.7" transform="rotate(-25 2.0 15.6)" fill="#243a14"/><ellipse cx="5.7" cy="25.2" rx="1.3" ry="0.7" transform="rotate(-25 4.9 25.8)" fill="#cfe8b0"/><ellipse cx="4.9" cy="25.8" rx="1.0" ry="0.6" transform="rotate(-25 4.9 25.8)" fill="#2a2a18"/><ellipse cx="77.8" cy="48.8" rx="1.5" ry="0.8" transform="rotate(-25 77.0 49.4)" fill="#e6f0d4"/><ellipse cx="77.0" cy="49.4" rx="1.2" ry="0.7" transform="rotate(-25 77.0 49.4)" fill="#7a3a28"/><ellipse cx="38.4" cy="21.5" rx="1.6" ry="0.9" transform="rotate(-25 37.6 22.1)" fill="#e6f0d4"/><ellipse cx="37.6" cy="22.1" rx="1.3" ry="0.7" transform="rotate(-25 37.6 22.1)" fill="#2a2a18"/><ellipse cx="14.9" cy="29.4" rx="1.1" ry="0.6" transform="rotate(-25 14.1 30.0)" fill="#e6f0d4"/><ellipse cx="14.1" cy="30.0" rx="0.9" ry="0.5" transform="rotate(-25 14.1 30.0)" fill="#1a3010"/><ellipse cx="37.7" cy="42.0" rx="1.4" ry="0.8" transform="rotate(-25 36.9 42.6)" fill="#dcecc4"/><ellipse cx="36.9" cy="42.6" rx="1.1" ry="0.6" transform="rotate(-25 36.9 42.6)" fill="#7a3a28"/><ellipse cx="52.5" cy="8.5" rx="1.2" ry="0.7" transform="rotate(-25 51.7 9.1)" fill="#dcecc4"/><ellipse cx="51.7" cy="9.1" rx="1.0" ry="0.5" transform="rotate(-25 51.7 9.1)" fill="#2a2a18"/><ellipse cx="39.2" cy="22.4" rx="1.3" ry="0.7" transform="rotate(-25 38.4 23.0)" fill="#e6f0d4"/><ellipse cx="38.4" cy="23.0" rx="1.0" ry="0.6" transform="rotate(-25 38.4 23.0)" fill="#7a3a28"/><ellipse cx="22.2" cy="44.7" rx="0.8" ry="0.5" transform="rotate(-25 21.4 45.3)" fill="#e6f0d4"/><ellipse cx="21.4" cy="45.3" rx="0.7" ry="0.4" transform="rotate(-25 21.4 45.3)" fill="#7a3a28"/><ellipse cx="60.1" cy="40.0" rx="1.4" ry="0.8" transform="rotate(-25 59.3 40.6)" fill="#cfe8b0"/><ellipse cx="59.3" cy="40.6" rx="1.1" ry="0.6" transform="rotate(-25 59.3 40.6)" fill="#243a14"/><ellipse cx="11.7" cy="5.1" rx="0.8" ry="0.5" transform="rotate(-25 10.9 5.7)" fill="#dcecc4"/><ellipse cx="10.9" cy="5.7" rx="0.7" ry="0.4" transform="rotate(-25 10.9 5.7)" fill="#7a3a28"/><ellipse cx="27.3" cy="36.2" rx="0.9" ry="0.5" transform="rotate(-25 26.5 36.8)" fill="#cfe8b0"/><ellipse cx="26.5" cy="36.8" rx="0.8" ry="0.4" transform="rotate(-25 26.5 36.8)" fill="#243a14"/><ellipse cx="56.8" cy="7.8" rx="1.2" ry="0.7" transform="rotate(-25 56.0 8.4)" fill="#dcecc4"/><ellipse cx="56.0" cy="8.4" rx="0.9" ry="0.5" transform="rotate(-25 56.0 8.4)" fill="#2a2a18"/><ellipse cx="60.8" cy="32.9" rx="1.2" ry="0.7" transform="rotate(-25 60.0 33.5)" fill="#e6f0d4"/><ellipse cx="60.0" cy="33.5" rx="0.9" ry="0.5" transform="rotate(-25 60.0 33.5)" fill="#243a14"/><ellipse cx="68.5" cy="49.5" rx="1.0" ry="0.6" transform="rotate(-25 67.7 50.1)" fill="#dcecc4"/><ellipse cx="67.7" cy="50.1" rx="0.8" ry="0.5" transform="rotate(-25 67.7 50.1)" fill="#2a2a18"/><ellipse cx="38.2" cy="51.5" rx="1.2" ry="0.7" transform="rotate(-25 37.4 52.1)" fill="#cfe8b0"/><ellipse cx="37.4" cy="52.1" rx="1.0" ry="0.5" transform="rotate(-25 37.4 52.1)" fill="#1a3010"/><ellipse cx="36.9" cy="40.4" rx="1.0" ry="0.6" transform="rotate(-25 36.1 41.0)" fill="#dcecc4"/><ellipse cx="36.1" cy="41.0" rx="0.8" ry="0.4" transform="rotate(-25 36.1 41.0)" fill="#2a2a18"/><ellipse cx="22.7" cy="36.7" rx="1.7" ry="0.9" transform="rotate(-25 21.9 37.3)" fill="#cfe8b0"/><ellipse cx="21.9" cy="37.3" rx="1.4" ry="0.7" transform="rotate(-25 21.9 37.3)" fill="#7a3a28"/><ellipse cx="29.1" cy="48.1" rx="1.6" ry="0.9" transform="rotate(-25 28.3 48.7)" fill="#cfe8b0"/><ellipse cx="28.3" cy="48.7" rx="1.3" ry="0.7" transform="rotate(-25 28.3 48.7)" fill="#1a3010"/><ellipse cx="83.9" cy="46.0" rx="1.1" ry="0.6" transform="rotate(-25 83.1 46.6)" fill="#e6f0d4"/><ellipse cx="83.1" cy="46.6" rx="0.9" ry="0.5" transform="rotate(-25 83.1 46.6)" fill="#243a14"/><ellipse cx="42.8" cy="25.8" rx="1.7" ry="0.9" transform="rotate(-25 42.0 26.4)" fill="#e6f0d4"/><ellipse cx="42.0" cy="26.4" rx="1.3" ry="0.7" transform="rotate(-25 42.0 26.4)" fill="#1a3010"/><ellipse cx="63.6" cy="6.0" rx="1.6" ry="0.9" transform="rotate(-25 62.8 6.6)" fill="#dcecc4"/><ellipse cx="62.8" cy="6.6" rx="1.3" ry="0.7" transform="rotate(-25 62.8 6.6)" fill="#1a3010"/><ellipse cx="84.4" cy="49.2" rx="1.0" ry="0.6" transform="rotate(-25 83.6 49.8)" fill="#cfe8b0"/><ellipse cx="83.6" cy="49.8" rx="0.8" ry="0.5" transform="rotate(-25 83.6 49.8)" fill="#2a2a18"/><ellipse cx="80.3" cy="39.1" rx="1.1" ry="0.6" transform="rotate(-25 79.5 39.7)" fill="#cfe8b0"/><ellipse cx="79.5" cy="39.7" rx="0.9" ry="0.5" transform="rotate(-25 79.5 39.7)" fill="#243a14"/><ellipse cx="36.5" cy="21.0" rx="1.5" ry="0.8" transform="rotate(-25 35.7 21.6)" fill="#cfe8b0"/><ellipse cx="35.7" cy="21.6" rx="1.2" ry="0.6" transform="rotate(-25 35.7 21.6)" fill="#7a3a28"/><ellipse cx="19.5" cy="45.0" rx="1.5" ry="0.8" transform="rotate(-25 18.7 45.6)" fill="#cfe8b0"/><ellipse cx="18.7" cy="45.6" rx="1.2" ry="0.6" transform="rotate(-25 18.7 45.6)" fill="#7a3a28"/><ellipse cx="21.2" cy="43.1" rx="1.4" ry="0.8" transform="rotate(-25 20.4 43.7)" fill="#cfe8b0"/><ellipse cx="20.4" cy="43.7" rx="1.1" ry="0.6" transform="rotate(-25 20.4 43.7)" fill="#7a3a28"/><ellipse cx="60.0" cy="43.6" rx="1.5" ry="0.8" transform="rotate(-25 59.2 44.2)" fill="#cfe8b0"/><ellipse cx="59.2" cy="44.2" rx="1.2" ry="0.7" transform="rotate(-25 59.2 44.2)" fill="#7a3a28"/><ellipse cx="44.8" cy="5.7" rx="1.6" ry="0.9" transform="rotate(-25 44.0 6.3)" fill="#cfe8b0"/><ellipse cx="44.0" cy="6.3" rx="1.3" ry="0.7" transform="rotate(-25 44.0 6.3)" fill="#243a14"/><ellipse cx="57.2" cy="22.3" rx="1.5" ry="0.8" transform="rotate(-25 56.4 22.9)" fill="#e6f0d4"/><ellipse cx="56.4" cy="22.9" rx="1.2" ry="0.6" transform="rotate(-25 56.4 22.9)" fill="#7a3a28"/><ellipse cx="72.5" cy="18.4" rx="1.0" ry="0.5" transform="rotate(-25 71.7 19.0)" fill="#cfe8b0"/><ellipse cx="71.7" cy="19.0" rx="0.8" ry="0.4" transform="rotate(-25 71.7 19.0)" fill="#243a14"/><ellipse cx="75.4" cy="43.3" rx="1.2" ry="0.7" transform="rotate(-25 74.6 43.9)" fill="#cfe8b0"/><ellipse cx="74.6" cy="43.9" rx="1.0" ry="0.5" transform="rotate(-25 74.6 43.9)" fill="#7a3a28"/><ellipse cx="60.9" cy="11.8" rx="1.6" ry="0.9" transform="rotate(-25 60.1 12.4)" fill="#e6f0d4"/><ellipse cx="60.1" cy="12.4" rx="1.3" ry="0.7" transform="rotate(-25 60.1 12.4)" fill="#7a3a28"/><ellipse cx="72.4" cy="41.5" rx="1.4" ry="0.8" transform="rotate(-25 71.6 42.1)" fill="#cfe8b0"/><ellipse cx="71.6" cy="42.1" rx="1.1" ry="0.6" transform="rotate(-25 71.6 42.1)" fill="#7a3a28"/><ellipse cx="22.1" cy="29.8" rx="0.9" ry="0.5" transform="rotate(-25 21.3 30.4)" fill="#e6f0d4"/><ellipse cx="21.3" cy="30.4" rx="0.7" ry="0.4" transform="rotate(-25 21.3 30.4)" fill="#243a14"/><ellipse cx="71.9" cy="47.9" rx="1.6" ry="0.9" transform="rotate(-25 71.1 48.5)" fill="#cfe8b0"/><ellipse cx="71.1" cy="48.5" rx="1.3" ry="0.7" transform="rotate(-25 71.1 48.5)" fill="#243a14"/><ellipse cx="25.8" cy="8.3" rx="1.3" ry="0.7" transform="rotate(-25 25.0 8.9)" fill="#e6f0d4"/><ellipse cx="25.0" cy="8.9" rx="1.1" ry="0.6" transform="rotate(-25 25.0 8.9)" fill="#7a3a28"/><ellipse cx="54.6" cy="4.2" rx="1.0" ry="0.6" transform="rotate(-25 53.8 4.8)" fill="#cfe8b0"/><ellipse cx="53.8" cy="4.8" rx="0.8" ry="0.4" transform="rotate(-25 53.8 4.8)" fill="#1a3010"/><ellipse cx="30.0" cy="11.1" rx="0.9" ry="0.5" transform="rotate(-25 29.2 11.7)" fill="#dcecc4"/><ellipse cx="29.2" cy="11.7" rx="0.7" ry="0.4" transform="rotate(-25 29.2 11.7)" fill="#7a3a28"/><ellipse cx="17.4" cy="19.4" rx="1.5" ry="0.8" transform="rotate(-25 16.6 20.0)" fill="#cfe8b0"/><ellipse cx="16.6" cy="20.0" rx="1.2" ry="0.6" transform="rotate(-25 16.6 20.0)" fill="#2a2a18"/><ellipse cx="37.3" cy="28.7" rx="1.5" ry="0.8" transform="rotate(-25 36.5 29.3)" fill="#cfe8b0"/><ellipse cx="36.5" cy="29.3" rx="1.2" ry="0.7" transform="rotate(-25 36.5 29.3)" fill="#7a3a28"/><ellipse cx="3.4" cy="18.2" rx="1.4" ry="0.8" transform="rotate(-25 2.6 18.8)" fill="#cfe8b0"/><ellipse cx="2.6" cy="18.8" rx="1.1" ry="0.6" transform="rotate(-25 2.6 18.8)" fill="#2a2a18"/><ellipse cx="28.1" cy="39.1" rx="0.8" ry="0.5" transform="rotate(-25 27.3 39.7)" fill="#dcecc4"/><ellipse cx="27.3" cy="39.7" rx="0.7" ry="0.4" transform="rotate(-25 27.3 39.7)" fill="#243a14"/><ellipse cx="34.1" cy="27.5" rx="1.1" ry="0.6" transform="rotate(-25 33.3 28.1)" fill="#e6f0d4"/><ellipse cx="33.3" cy="28.1" rx="0.9" ry="0.5" transform="rotate(-25 33.3 28.1)" fill="#7a3a28"/><ellipse cx="22.1" cy="43.6" rx="1.6" ry="0.9" transform="rotate(-25 21.3 44.2)" fill="#dcecc4"/><ellipse cx="21.3" cy="44.2" rx="1.3" ry="0.7" transform="rotate(-25 21.3 44.2)" fill="#7a3a28"/><ellipse cx="5.7" cy="17.5" rx="1.3" ry="0.7" transform="rotate(-25 4.9 18.1)" fill="#e6f0d4"/><ellipse cx="4.9" cy="18.1" rx="1.1" ry="0.6" transform="rotate(-25 4.9 18.1)" fill="#2a2a18"/><ellipse cx="26.1" cy="10.1" rx="1.6" ry="0.9" transform="rotate(-25 25.3 10.7)" fill="#e6f0d4"/><ellipse cx="25.3" cy="10.7" rx="1.3" ry="0.7" transform="rotate(-25 25.3 10.7)" fill="#7a3a28"/><ellipse cx="32.2" cy="19.8" rx="1.0" ry="0.6" transform="rotate(-25 31.4 20.4)" fill="#e6f0d4"/><ellipse cx="31.4" cy="20.4" rx="0.8" ry="0.4" transform="rotate(-25 31.4 20.4)" fill="#243a14"/><ellipse cx="34.1" cy="41.4" rx="0.9" ry="0.5" transform="rotate(-25 33.3 42.0)" fill="#dcecc4"/><ellipse cx="33.3" cy="42.0" rx="0.8" ry="0.4" transform="rotate(-25 33.3 42.0)" fill="#2a2a18"/><ellipse cx="11.6" cy="31.1" rx="0.9" ry="0.5" transform="rotate(-25 10.8 31.7)" fill="#cfe8b0"/><ellipse cx="10.8" cy="31.7" rx="0.7" ry="0.4" transform="rotate(-25 10.8 31.7)" fill="#1a3010"/>
</svg>
<rect x="3.0" y="105.0" width="85.3" height="53.6" fill="none" stroke="#151515" stroke-width="0.9"/>
<g font-family="'Liberation Serif', 'Times New Roman', serif" font-size="7.8" fill="#222">
<text x="93.2" y="134.2">0.8</text><text x="93.2" y="147.7">0.4</text><text x="93.2" y="161.6">0</text>
<text transform="translate(109.4,143.8) rotate(-90)" text-anchor="middle" font-size="7.2">km</text>
</g>
<rect x="114.9" y="146.6" width="14.3" height="12.4" fill="#ffffff"/>
<text x="122.05" y="154.8" text-anchor="middle" font-size="10.8" font-family="'Liberation Serif', 'Times New Roman', serif" fill="#1a1a1a" stroke="#1a1a1a" stroke-width="0.2">(h)</text>
</svg>
<rect x="0" y="0" width="133.6" height="161.6" fill="none" stroke="#585858" stroke-width="1"/>
<line x1="-2.6" y1="9.2" x2="0" y2="9.2" stroke="#222" stroke-width="0.8"/>
<line x1="-2.6" y1="79.5" x2="0" y2="79.5" stroke="#222" stroke-width="0.8"/>
<line x1="-2.6" y1="149.8" x2="0" y2="149.8" stroke="#222" stroke-width="0.8"/>
<line x1="11.0" y1="161.6" x2="11.0" y2="164.2" stroke="#222" stroke-width="0.8"/>
<line x1="58.0" y1="161.6" x2="58.0" y2="164.2" stroke="#222" stroke-width="0.8"/>
<line x1="104.4" y1="161.6" x2="104.4" y2="164.2" stroke="#222" stroke-width="0.8"/>
</g>
<g transform="translate(306.6,359.4)">
<svg x="0" y="0" width="133.6" height="161.6" viewBox="0 0 133.6 161.6" overflow="hidden">
<rect width="133.6" height="161.6" fill="#c2c2c2"/>
<rect width="133.6" height="161.6" fill="#000" filter="url(#hs)"/>
<g mask="url(#mR)"><rect x="-60" y="-60" width="253.6" height="281.6" fill="#000" filter="url(#hs2)" transform="rotate(35 66.8 80.8)"/></g>
<path d="M0,95.5 L5,95.8 L2.5,97.6 L0,98 Z" fill="#f2f2f2"/>
<polygon points="88,145 94,145 101,150 109,157.5 112,162 88,162" fill="#ffffff"/>
<use href="#pg" fill="none" stroke="#dadada" stroke-width="2.6" opacity="0.8"/>
<use href="#pg" fill="#5cab3c"/>
<use href="#pg" fill="#000" filter="url(#gn)"/>
<use href="#pg" fill="none" stroke="#141a12" stroke-width="1.0"/>
<g clip-path="url(#clipPoly)">
<polygon points="43.0,36.0 47.0,34.5 51.0,38.0 56.0,44.0 58.0,50.0 62.0,50.5 68.0,53.0 76.0,53.0 81.0,57.0 85.0,63.0 87.0,71.0 85.0,78.0 81.0,83.0 79.0,90.0 75.0,95.0 69.0,97.0 63.0,94.0 59.0,88.0 52.0,87.0 46.0,84.0 43.0,80.0 38.0,77.0 33.0,73.0 32.0,68.0 36.0,64.0 38.0,58.0 37.0,50.0 38.0,43.0" fill="#fff" filter="url(#haloC)"/><polygon points="44.0,39.7 46.4,37.8 48.7,38.9 51.1,42.9 54.2,46.8 55.0,50.7 56.6,55.5 60.5,53.9 63.7,54.7 66.9,57.0 70.8,57.8 74.7,57.0 77.1,58.6 79.5,61.8 81.0,65.7 82.6,71.2 81.0,76.0 77.9,79.1 76.3,83.9 74.7,88.6 71.6,91.7 67.6,92.5 65.3,90.2 62.9,85.4 59.0,83.9 54.2,83.1 51.1,82.3 47.9,79.9 47.1,76.8 46.0,73.6 42.5,73.0 40.5,70.8 41.8,67.5 44.0,64.9 42.4,61.8 41.6,57.0 40.8,52.3 41.6,47.6 42.4,42.9" fill="#fff" filter="url(#coreC)"/>
</g>
<rect x="101.5" y="1.6" width="27.2" height="23.2" fill="#ffffff"/>
<text x="103.0" y="11.1" font-size="9.2" font-family="'Liberation Serif', 'Times New Roman', serif" fill="#1a1a1a" stroke="#1a1a1a" stroke-width="0.25"><tspan font-style="italic">R</tspan><tspan font-size="5.5" font-style="italic" dy="1.5">d</tspan><tspan dy="-1.5">=</tspan>0.9</text>
<text x="104.6" y="22.5" font-size="9.4" font-family="'Liberation Serif', 'Times New Roman', serif" fill="#1a1a1a" stroke="#1a1a1a" stroke-width="0.25">RF<tspan font-size="6.2">ILW</tspan></text>
<polyline points="74.6,68.8 3.0,105.0" fill="none" stroke="#1f35d6" stroke-width="1.3" stroke-dasharray="3.2,1.6"/>
<polyline points="80.9,69.3 88.3,105.0" fill="none" stroke="#1f35d6" stroke-width="1.3" stroke-dasharray="3.2,1.6"/>
<rect x="74.6" y="65.0" width="6.3" height="4.3" fill="none" stroke="#1f35d6" stroke-width="1.2"/>
<polygon points="48.0,82.4 49.4,85.7 52.9,86.0 50.2,88.3 51.1,91.8 48.0,89.9 44.9,91.8 45.8,88.3 43.1,86.0 46.6,85.7" fill="#f3ee1c" stroke="#111" stroke-width="1"/>
<path d="M0,104.7 H3.0 V158.6 H88.3 V162.6 H0 Z" fill="#ffffff"/>
<svg x="3.0" y="105.0" width="85.3" height="53.6" viewBox="0 0 85.3 53.6" overflow="hidden">
<rect x="-30" y="-30" width="145.3" height="113.6" fill="#000" filter="url(#insG)" transform="rotate(-40 42.65 26.8)"/><g clip-path="url(#insR)"><rect x="-30" y="-30" width="145.3" height="113.6" fill="#000" filter="url(#insG)" transform="rotate(30 42.65 26.8)"/></g><ellipse cx="84.6" cy="45.6" rx="1.4" ry="0.8" transform="rotate(-25 83.8 46.2)" fill="#9ade78"/><ellipse cx="83.8" cy="46.2" rx="1.1" ry="0.6" transform="rotate(-25 83.8 46.2)" fill="#1e4a14"/><ellipse cx="26.3" cy="9.1" rx="1.4" ry="0.8" transform="rotate(-25 25.5 9.7)" fill="#9ade78"/><ellipse cx="25.5" cy="9.7" rx="1.1" ry="0.6" transform="rotate(-25 25.5 9.7)" fill="#1e4a14"/><ellipse cx="22.8" cy="26.5" rx="0.9" ry="0.5" transform="rotate(-25 22.0 27.1)" fill="#9ade78"/><ellipse cx="22.0" cy="27.1" rx="0.7" ry="0.4" transform="rotate(-25 22.0 27.1)" fill="#2a3a18"/><ellipse cx="34.1" cy="33.0" rx="1.4" ry="0.8" transform="rotate(-25 33.3 33.6)" fill="#b0e490"/><ellipse cx="33.3" cy="33.6" rx="1.1" ry="0.6" transform="rotate(-25 33.3 33.6)" fill="#1e4a14"/><ellipse cx="68.5" cy="39.4" rx="1.1" ry="0.6" transform="rotate(-25 67.7 40.0)" fill="#b0e490"/><ellipse cx="67.7" cy="40.0" rx="0.9" ry="0.5" transform="rotate(-25 67.7 40.0)" fill="#224e16"/><ellipse cx="81.2" cy="10.2" rx="1.4" ry="0.8" transform="rotate(-25 80.4 10.8)" fill="#9ade78"/><ellipse cx="80.4" cy="10.8" rx="1.1" ry="0.6" transform="rotate(-25 80.4 10.8)" fill="#1e4a14"/><ellipse cx="83.6" cy="25.3" rx="1.5" ry="0.9" transform="rotate(-25 82.8 25.9)" fill="#b0e490"/><ellipse cx="82.8" cy="25.9" rx="1.2" ry="0.7" transform="rotate(-25 82.8 25.9)" fill="#1e4a14"/><ellipse cx="16.7" cy="17.6" rx="1.4" ry="0.8" transform="rotate(-25 15.9 18.2)" fill="#b0e490"/><ellipse cx="15.9" cy="18.2" rx="1.1" ry="0.6" transform="rotate(-25 15.9 18.2)" fill="#2a3a18"/><ellipse cx="77.4" cy="24.9" rx="1.3" ry="0.7" transform="rotate(-25 76.6 25.5)" fill="#b0e490"/><ellipse cx="76.6" cy="25.5" rx="1.0" ry="0.6" transform="rotate(-25 76.6 25.5)" fill="#1e4a14"/><ellipse cx="72.8" cy="25.1" rx="1.2" ry="0.7" transform="rotate(-25 72.0 25.7)" fill="#8ad468"/><ellipse cx="72.0" cy="25.7" rx="1.0" ry="0.5" transform="rotate(-25 72.0 25.7)" fill="#2a3a18"/><ellipse cx="6.2" cy="13.9" rx="1.5" ry="0.9" transform="rotate(-25 5.4 14.5)" fill="#8ad468"/><ellipse cx="5.4" cy="14.5" rx="1.2" ry="0.7" transform="rotate(-25 5.4 14.5)" fill="#224e16"/><ellipse cx="15.0" cy="23.1" rx="1.1" ry="0.6" transform="rotate(-25 14.2 23.7)" fill="#9ade78"/><ellipse cx="14.2" cy="23.7" rx="0.9" ry="0.5" transform="rotate(-25 14.2 23.7)" fill="#2a3a18"/><ellipse cx="36.5" cy="24.4" rx="1.4" ry="0.8" transform="rotate(-25 35.7 25.0)" fill="#9ade78"/><ellipse cx="35.7" cy="25.0" rx="1.1" ry="0.6" transform="rotate(-25 35.7 25.0)" fill="#1e4a14"/><ellipse cx="64.0" cy="4.5" rx="0.9" ry="0.5" transform="rotate(-25 63.2 5.1)" fill="#8ad468"/><ellipse cx="63.2" cy="5.1" rx="0.8" ry="0.4" transform="rotate(-25 63.2 5.1)" fill="#2a3a18"/><ellipse cx="54.9" cy="7.6" rx="1.0" ry="0.6" transform="rotate(-25 54.1 8.2)" fill="#9ade78"/><ellipse cx="54.1" cy="8.2" rx="0.8" ry="0.4" transform="rotate(-25 54.1 8.2)" fill="#1e4a14"/><ellipse cx="43.2" cy="19.7" rx="1.2" ry="0.7" transform="rotate(-25 42.4 20.3)" fill="#b0e490"/><ellipse cx="42.4" cy="20.3" rx="0.9" ry="0.5" transform="rotate(-25 42.4 20.3)" fill="#1e4a14"/><ellipse cx="32.9" cy="39.2" rx="1.3" ry="0.7" transform="rotate(-25 32.1 39.8)" fill="#b0e490"/><ellipse cx="32.1" cy="39.8" rx="1.1" ry="0.6" transform="rotate(-25 32.1 39.8)" fill="#1e4a14"/><ellipse cx="71.0" cy="40.1" rx="1.2" ry="0.7" transform="rotate(-25 70.2 40.7)" fill="#9ade78"/><ellipse cx="70.2" cy="40.7" rx="1.0" ry="0.5" transform="rotate(-25 70.2 40.7)" fill="#224e16"/><ellipse cx="32.1" cy="11.8" rx="0.9" ry="0.5" transform="rotate(-25 31.3 12.4)" fill="#b0e490"/><ellipse cx="31.3" cy="12.4" rx="0.8" ry="0.4" transform="rotate(-25 31.3 12.4)" fill="#2a3a18"/><ellipse cx="68.9" cy="42.5" rx="1.1" ry="0.6" transform="rotate(-25 68.1 43.1)" fill="#8ad468"/><ellipse cx="68.1" cy="43.1" rx="0.9" ry="0.5" transform="rotate(-25 68.1 43.1)" fill="#2a3a18"/><ellipse cx="39.8" cy="42.6" rx="1.2" ry="0.7" transform="rotate(-25 39.0 43.2)" fill="#8ad468"/><ellipse cx="39.0" cy="43.2" rx="1.0" ry="0.5" transform="rotate(-25 39.0 43.2)" fill="#2a3a18"/><ellipse cx="56.8" cy="2.4" rx="1.2" ry="0.7" transform="rotate(-25 56.0 3.0)" fill="#9ade78"/><ellipse cx="56.0" cy="3.0" rx="1.0" ry="0.5" transform="rotate(-25 56.0 3.0)" fill="#2a3a18"/><ellipse cx="30.5" cy="12.5" rx="1.3" ry="0.7" transform="rotate(-25 29.7 13.1)" fill="#b0e490"/><ellipse cx="29.7" cy="13.1" rx="1.1" ry="0.6" transform="rotate(-25 29.7 13.1)" fill="#1e4a14"/><ellipse cx="58.4" cy="-5.1" rx="1.2" ry="0.7" transform="rotate(-25 57.6 -4.5)" fill="#b0e490"/><ellipse cx="57.6" cy="-4.5" rx="1.0" ry="0.5" transform="rotate(-25 57.6 -4.5)" fill="#224e16"/><ellipse cx="5.9" cy="3.4" rx="0.8" ry="0.5" transform="rotate(-25 5.1 4.0)" fill="#b0e490"/><ellipse cx="5.1" cy="4.0" rx="0.7" ry="0.4" transform="rotate(-25 5.1 4.0)" fill="#2a3a18"/><ellipse cx="51.0" cy="52.3" rx="1.1" ry="0.6" transform="rotate(-25 50.2 52.9)" fill="#b0e490"/><ellipse cx="50.2" cy="52.9" rx="0.9" ry="0.5" transform="rotate(-25 50.2 52.9)" fill="#1e4a14"/><ellipse cx="63.2" cy="33.7" rx="1.4" ry="0.8" transform="rotate(-25 62.4 34.3)" fill="#9ade78"/><ellipse cx="62.4" cy="34.3" rx="1.1" ry="0.6" transform="rotate(-25 62.4 34.3)" fill="#1e4a14"/><ellipse cx="14.2" cy="19.0" rx="1.0" ry="0.5" transform="rotate(-25 13.4 19.6)" fill="#9ade78"/><ellipse cx="13.4" cy="19.6" rx="0.8" ry="0.4" transform="rotate(-25 13.4 19.6)" fill="#2a3a18"/><ellipse cx="54.7" cy="10.5" rx="1.4" ry="0.8" transform="rotate(-25 53.9 11.1)" fill="#b0e490"/><ellipse cx="53.9" cy="11.1" rx="1.2" ry="0.6" transform="rotate(-25 53.9 11.1)" fill="#1e4a14"/><ellipse cx="19.8" cy="34.3" rx="1.6" ry="0.9" transform="rotate(-25 19.0 34.9)" fill="#b0e490"/><ellipse cx="19.0" cy="34.9" rx="1.3" ry="0.7" transform="rotate(-25 19.0 34.9)" fill="#1e4a14"/><ellipse cx="55.2" cy="5.3" rx="1.2" ry="0.7" transform="rotate(-25 54.4 5.9)" fill="#9ade78"/><ellipse cx="54.4" cy="5.9" rx="1.0" ry="0.5" transform="rotate(-25 54.4 5.9)" fill="#1e4a14"/><ellipse cx="27.4" cy="49.8" rx="1.4" ry="0.8" transform="rotate(-25 26.6 50.4)" fill="#8ad468"/><ellipse cx="26.6" cy="50.4" rx="1.2" ry="0.6" transform="rotate(-25 26.6 50.4)" fill="#224e16"/><ellipse cx="11.1" cy="28.2" rx="1.2" ry="0.7" transform="rotate(-25 10.3 28.8)" fill="#9ade78"/><ellipse cx="10.3" cy="28.8" rx="1.0" ry="0.5" transform="rotate(-25 10.3 28.8)" fill="#2a3a18"/><ellipse cx="27.0" cy="16.8" rx="0.9" ry="0.5" transform="rotate(-25 26.2 17.4)" fill="#b0e490"/><ellipse cx="26.2" cy="17.4" rx="0.7" ry="0.4" transform="rotate(-25 26.2 17.4)" fill="#2a3a18"/><ellipse cx="3.8" cy="25.4" rx="1.1" ry="0.6" transform="rotate(-25 3.0 26.0)" fill="#9ade78"/><ellipse cx="3.0" cy="26.0" rx="0.9" ry="0.5" transform="rotate(-25 3.0 26.0)" fill="#1e4a14"/><ellipse cx="52.6" cy="19.3" rx="1.4" ry="0.8" transform="rotate(-25 51.8 19.9)" fill="#b0e490"/><ellipse cx="51.8" cy="19.9" rx="1.1" ry="0.6" transform="rotate(-25 51.8 19.9)" fill="#2a3a18"/><ellipse cx="41.2" cy="19.9" rx="1.2" ry="0.7" transform="rotate(-25 40.4 20.5)" fill="#9ade78"/><ellipse cx="40.4" cy="20.5" rx="1.0" ry="0.5" transform="rotate(-25 40.4 20.5)" fill="#224e16"/><ellipse cx="59.1" cy="1.4" rx="1.3" ry="0.7" transform="rotate(-25 58.3 2.0)" fill="#b0e490"/><ellipse cx="58.3" cy="2.0" rx="1.1" ry="0.6" transform="rotate(-25 58.3 2.0)" fill="#1e4a14"/><ellipse cx="76.6" cy="30.1" rx="1.2" ry="0.7" transform="rotate(-25 75.8 30.7)" fill="#b0e490"/><ellipse cx="75.8" cy="30.7" rx="1.0" ry="0.5" transform="rotate(-25 75.8 30.7)" fill="#1e4a14"/><ellipse cx="60.4" cy="27.0" rx="0.9" ry="0.5" transform="rotate(-25 59.6 27.6)" fill="#9ade78"/><ellipse cx="59.6" cy="27.6" rx="0.7" ry="0.4" transform="rotate(-25 59.6 27.6)" fill="#224e16"/><ellipse cx="18.8" cy="38.2" rx="1.2" ry="0.7" transform="rotate(-25 18.0 38.8)" fill="#b0e490"/><ellipse cx="18.0" cy="38.8" rx="0.9" ry="0.5" transform="rotate(-25 18.0 38.8)" fill="#2a3a18"/><ellipse cx="5.9" cy="24.5" rx="1.0" ry="0.6" transform="rotate(-25 5.1 25.1)" fill="#9ade78"/><ellipse cx="5.1" cy="25.1" rx="0.8" ry="0.4" transform="rotate(-25 5.1 25.1)" fill="#2a3a18"/><ellipse cx="44.0" cy="6.2" rx="1.1" ry="0.6" transform="rotate(-25 43.2 6.8)" fill="#b0e490"/><ellipse cx="43.2" cy="6.8" rx="0.9" ry="0.5" transform="rotate(-25 43.2 6.8)" fill="#224e16"/><ellipse cx="75.6" cy="43.5" rx="1.0" ry="0.5" transform="rotate(-25 74.8 44.1)" fill="#8ad468"/><ellipse cx="74.8" cy="44.1" rx="0.8" ry="0.4" transform="rotate(-25 74.8 44.1)" fill="#224e16"/><ellipse cx="7.5" cy="22.5" rx="1.3" ry="0.7" transform="rotate(-25 6.7 23.1)" fill="#8ad468"/><ellipse cx="6.7" cy="23.1" rx="1.0" ry="0.6" transform="rotate(-25 6.7 23.1)" fill="#2a3a18"/><ellipse cx="35.7" cy="44.6" rx="1.3" ry="0.7" transform="rotate(-25 34.9 45.2)" fill="#b0e490"/><ellipse cx="34.9" cy="45.2" rx="1.0" ry="0.6" transform="rotate(-25 34.9 45.2)" fill="#2a3a18"/><ellipse cx="34.5" cy="36.5" rx="1.5" ry="0.8" transform="rotate(-25 33.7 37.1)" fill="#8ad468"/><ellipse cx="33.7" cy="37.1" rx="1.2" ry="0.6" transform="rotate(-25 33.7 37.1)" fill="#224e16"/><ellipse cx="9.9" cy="36.9" rx="0.9" ry="0.5" transform="rotate(-25 9.1 37.5)" fill="#9ade78"/><ellipse cx="9.1" cy="37.5" rx="0.7" ry="0.4" transform="rotate(-25 9.1 37.5)" fill="#1e4a14"/><ellipse cx="55.0" cy="22.4" rx="0.8" ry="0.5" transform="rotate(-25 54.2 23.0)" fill="#9ade78"/><ellipse cx="54.2" cy="23.0" rx="0.7" ry="0.4" transform="rotate(-25 54.2 23.0)" fill="#2a3a18"/><ellipse cx="38.7" cy="5.1" rx="1.5" ry="0.9" transform="rotate(-25 37.9 5.7)" fill="#9ade78"/><ellipse cx="37.9" cy="5.7" rx="1.2" ry="0.7" transform="rotate(-25 37.9 5.7)" fill="#2a3a18"/><ellipse cx="21.1" cy="42.5" rx="1.2" ry="0.7" transform="rotate(-25 20.3 43.1)" fill="#9ade78"/><ellipse cx="20.3" cy="43.1" rx="1.0" ry="0.5" transform="rotate(-25 20.3 43.1)" fill="#1e4a14"/><ellipse cx="51.9" cy="11.4" rx="1.2" ry="0.7" transform="rotate(-25 51.1 12.0)" fill="#8ad468"/><ellipse cx="51.1" cy="12.0" rx="1.0" ry="0.5" transform="rotate(-25 51.1 12.0)" fill="#2a3a18"/><ellipse cx="38.3" cy="34.1" rx="1.2" ry="0.7" transform="rotate(-25 37.5 34.7)" fill="#8ad468"/><ellipse cx="37.5" cy="34.7" rx="0.9" ry="0.5" transform="rotate(-25 37.5 34.7)" fill="#1e4a14"/><ellipse cx="76.2" cy="46.1" rx="0.8" ry="0.5" transform="rotate(-25 75.4 46.7)" fill="#9ade78"/><ellipse cx="75.4" cy="46.7" rx="0.7" ry="0.4" transform="rotate(-25 75.4 46.7)" fill="#1e4a14"/><ellipse cx="30.3" cy="25.2" rx="0.8" ry="0.5" transform="rotate(-25 29.5 25.8)" fill="#9ade78"/><ellipse cx="29.5" cy="25.8" rx="0.7" ry="0.4" transform="rotate(-25 29.5 25.8)" fill="#2a3a18"/><ellipse cx="57.9" cy="31.1" rx="0.9" ry="0.5" transform="rotate(-25 57.1 31.7)" fill="#9ade78"/><ellipse cx="57.1" cy="31.7" rx="0.7" ry="0.4" transform="rotate(-25 57.1 31.7)" fill="#1e4a14"/><ellipse cx="6.1" cy="12.4" rx="1.5" ry="0.9" transform="rotate(-25 5.3 13.0)" fill="#9ade78"/><ellipse cx="5.3" cy="13.0" rx="1.2" ry="0.7" transform="rotate(-25 5.3 13.0)" fill="#1e4a14"/><ellipse cx="63.7" cy="27.8" rx="1.4" ry="0.8" transform="rotate(-25 62.9 28.4)" fill="#8ad468"/><ellipse cx="62.9" cy="28.4" rx="1.1" ry="0.6" transform="rotate(-25 62.9 28.4)" fill="#2a3a18"/><ellipse cx="73.3" cy="25.0" rx="1.6" ry="0.9" transform="rotate(-25 72.5 25.6)" fill="#9ade78"/><ellipse cx="72.5" cy="25.6" rx="1.3" ry="0.7" transform="rotate(-25 72.5 25.6)" fill="#224e16"/><ellipse cx="28.1" cy="10.9" rx="1.5" ry="0.9" transform="rotate(-25 27.3 11.5)" fill="#9ade78"/><ellipse cx="27.3" cy="11.5" rx="1.2" ry="0.7" transform="rotate(-25 27.3 11.5)" fill="#224e16"/><ellipse cx="70.9" cy="16.0" rx="1.0" ry="0.5" transform="rotate(-25 70.1 16.6)" fill="#8ad468"/><ellipse cx="70.1" cy="16.6" rx="0.8" ry="0.4" transform="rotate(-25 70.1 16.6)" fill="#224e16"/><ellipse cx="60.3" cy="28.6" rx="1.4" ry="0.8" transform="rotate(-25 59.5 29.2)" fill="#b0e490"/><ellipse cx="59.5" cy="29.2" rx="1.1" ry="0.6" transform="rotate(-25 59.5 29.2)" fill="#2a3a18"/><ellipse cx="63.1" cy="-0.9" rx="0.9" ry="0.5" transform="rotate(-25 62.3 -0.3)" fill="#9ade78"/><ellipse cx="62.3" cy="-0.3" rx="0.7" ry="0.4" transform="rotate(-25 62.3 -0.3)" fill="#2a3a18"/><ellipse cx="60.5" cy="30.8" rx="0.9" ry="0.5" transform="rotate(-25 59.7 31.4)" fill="#9ade78"/><ellipse cx="59.7" cy="31.4" rx="0.7" ry="0.4" transform="rotate(-25 59.7 31.4)" fill="#224e16"/><ellipse cx="2.9" cy="3.9" rx="1.1" ry="0.6" transform="rotate(-25 2.1 4.5)" fill="#b0e490"/><ellipse cx="2.1" cy="4.5" rx="0.9" ry="0.5" transform="rotate(-25 2.1 4.5)" fill="#2a3a18"/><ellipse cx="29.0" cy="10.8" rx="1.3" ry="0.8" transform="rotate(-25 28.2 11.4)" fill="#8ad468"/><ellipse cx="28.2" cy="11.4" rx="1.1" ry="0.6" transform="rotate(-25 28.2 11.4)" fill="#1e4a14"/><ellipse cx="4.5" cy="29.0" rx="1.5" ry="0.9" transform="rotate(-25 3.7 29.6)" fill="#9ade78"/><ellipse cx="3.7" cy="29.6" rx="1.2" ry="0.7" transform="rotate(-25 3.7 29.6)" fill="#224e16"/><ellipse cx="6.5" cy="38.5" rx="1.0" ry="0.5" transform="rotate(-25 5.7 39.1)" fill="#8ad468"/><ellipse cx="5.7" cy="39.1" rx="0.8" ry="0.4" transform="rotate(-25 5.7 39.1)" fill="#224e16"/><ellipse cx="46.9" cy="8.7" rx="1.1" ry="0.6" transform="rotate(-25 46.1 9.3)" fill="#9ade78"/><ellipse cx="46.1" cy="9.3" rx="0.9" ry="0.5" transform="rotate(-25 46.1 9.3)" fill="#2a3a18"/><ellipse cx="28.7" cy="9.1" rx="1.4" ry="0.8" transform="rotate(-25 27.9 9.7)" fill="#9ade78"/><ellipse cx="27.9" cy="9.7" rx="1.1" ry="0.6" transform="rotate(-25 27.9 9.7)" fill="#1e4a14"/><ellipse cx="10.5" cy="13.0" rx="1.2" ry="0.7" transform="rotate(-25 9.7 13.6)" fill="#8ad468"/><ellipse cx="9.7" cy="13.6" rx="1.0" ry="0.5" transform="rotate(-25 9.7 13.6)" fill="#1e4a14"/><ellipse cx="16.8" cy="35.9" rx="1.3" ry="0.7" transform="rotate(-25 16.0 36.5)" fill="#b0e490"/><ellipse cx="16.0" cy="36.5" rx="1.1" ry="0.6" transform="rotate(-25 16.0 36.5)" fill="#224e16"/><ellipse cx="10.4" cy="36.4" rx="1.4" ry="0.8" transform="rotate(-25 9.6 37.0)" fill="#9ade78"/><ellipse cx="9.6" cy="37.0" rx="1.1" ry="0.6" transform="rotate(-25 9.6 37.0)" fill="#2a3a18"/><ellipse cx="3.8" cy="20.5" rx="1.1" ry="0.6" transform="rotate(-25 3.0 21.1)" fill="#b0e490"/><ellipse cx="3.0" cy="21.1" rx="0.9" ry="0.5" transform="rotate(-25 3.0 21.1)" fill="#2a3a18"/><ellipse cx="54.4" cy="13.3" rx="1.1" ry="0.6" transform="rotate(-25 53.6 13.9)" fill="#b0e490"/><ellipse cx="53.6" cy="13.9" rx="0.9" ry="0.5" transform="rotate(-25 53.6 13.9)" fill="#2a3a18"/><ellipse cx="19.3" cy="53.0" rx="1.2" ry="0.7" transform="rotate(-25 18.5 53.6)" fill="#b0e490"/><ellipse cx="18.5" cy="53.6" rx="1.0" ry="0.5" transform="rotate(-25 18.5 53.6)" fill="#1e4a14"/><ellipse cx="29.6" cy="41.4" rx="1.1" ry="0.6" transform="rotate(-25 28.8 42.0)" fill="#8ad468"/><ellipse cx="28.8" cy="42.0" rx="0.9" ry="0.5" transform="rotate(-25 28.8 42.0)" fill="#224e16"/><ellipse cx="82.1" cy="47.3" rx="0.9" ry="0.5" transform="rotate(-25 81.3 47.9)" fill="#8ad468"/><ellipse cx="81.3" cy="47.9" rx="0.8" ry="0.4" transform="rotate(-25 81.3 47.9)" fill="#1e4a14"/><ellipse cx="61.0" cy="40.3" rx="1.5" ry="0.9" transform="rotate(-25 60.2 40.9)" fill="#8ad468"/><ellipse cx="60.2" cy="40.9" rx="1.2" ry="0.7" transform="rotate(-25 60.2 40.9)" fill="#1e4a14"/><ellipse cx="20.2" cy="17.0" rx="1.5" ry="0.9" transform="rotate(-25 19.4 17.6)" fill="#b0e490"/><ellipse cx="19.4" cy="17.6" rx="1.3" ry="0.7" transform="rotate(-25 19.4 17.6)" fill="#2a3a18"/><ellipse cx="67.4" cy="35.8" rx="1.2" ry="0.7" transform="rotate(-25 66.6 36.4)" fill="#b0e490"/><ellipse cx="66.6" cy="36.4" rx="1.0" ry="0.5" transform="rotate(-25 66.6 36.4)" fill="#1e4a14"/><ellipse cx="21.1" cy="43.4" rx="1.4" ry="0.8" transform="rotate(-25 20.3 44.0)" fill="#b0e490"/><ellipse cx="20.3" cy="44.0" rx="1.2" ry="0.6" transform="rotate(-25 20.3 44.0)" fill="#1e4a14"/><ellipse cx="57.4" cy="-0.3" rx="1.5" ry="0.8" transform="rotate(-25 56.6 0.3)" fill="#8ad468"/><ellipse cx="56.6" cy="0.3" rx="1.2" ry="0.6" transform="rotate(-25 56.6 0.3)" fill="#2a3a18"/><ellipse cx="6.3" cy="21.7" rx="1.2" ry="0.7" transform="rotate(-25 5.5 22.3)" fill="#9ade78"/><ellipse cx="5.5" cy="22.3" rx="1.0" ry="0.5" transform="rotate(-25 5.5 22.3)" fill="#1e4a14"/><ellipse cx="41.0" cy="14.5" rx="1.5" ry="0.8" transform="rotate(-25 40.2 15.1)" fill="#b0e490"/><ellipse cx="40.2" cy="15.1" rx="1.2" ry="0.6" transform="rotate(-25 40.2 15.1)" fill="#1e4a14"/><ellipse cx="24.0" cy="38.0" rx="1.1" ry="0.6" transform="rotate(-25 23.2 38.6)" fill="#8ad468"/><ellipse cx="23.2" cy="38.6" rx="0.9" ry="0.5" transform="rotate(-25 23.2 38.6)" fill="#224e16"/><ellipse cx="51.5" cy="6.3" rx="1.6" ry="0.9" transform="rotate(-25 50.7 6.9)" fill="#9ade78"/><ellipse cx="50.7" cy="6.9" rx="1.3" ry="0.7" transform="rotate(-25 50.7 6.9)" fill="#1e4a14"/><ellipse cx="23.7" cy="37.0" rx="1.3" ry="0.7" transform="rotate(-25 22.9 37.6)" fill="#b0e490"/><ellipse cx="22.9" cy="37.6" rx="1.1" ry="0.6" transform="rotate(-25 22.9 37.6)" fill="#2a3a18"/><ellipse cx="54.0" cy="6.0" rx="1.5" ry="0.9" transform="rotate(-25 53.2 6.6)" fill="#9ade78"/><ellipse cx="53.2" cy="6.6" rx="1.2" ry="0.7" transform="rotate(-25 53.2 6.6)" fill="#1e4a14"/><ellipse cx="55.1" cy="51.8" rx="1.6" ry="0.9" transform="rotate(-25 54.3 52.4)" fill="#9ade78"/><ellipse cx="54.3" cy="52.4" rx="1.3" ry="0.7" transform="rotate(-25 54.3 52.4)" fill="#2a3a18"/>
</svg>
<rect x="3.0" y="105.0" width="85.3" height="53.6" fill="none" stroke="#151515" stroke-width="0.9"/>
<g font-family="'Liberation Serif', 'Times New Roman', serif" font-size="7.8" fill="#222">
<text x="93.2" y="134.2">0.8</text><text x="93.2" y="147.7">0.4</text><text x="93.2" y="161.6">0</text>
<text transform="translate(109.4,143.8) rotate(-90)" text-anchor="middle" font-size="7.2">km</text>
</g>
<rect x="114.9" y="146.6" width="14.3" height="12.4" fill="#ffffff"/>
<text x="122.05" y="154.8" text-anchor="middle" font-size="10.8" font-family="'Liberation Serif', 'Times New Roman', serif" fill="#1a1a1a" stroke="#1a1a1a" stroke-width="0.2">(i)</text>
</svg>
<rect x="0" y="0" width="133.6" height="161.6" fill="none" stroke="#585858" stroke-width="1"/>
<line x1="-2.6" y1="9.2" x2="0" y2="9.2" stroke="#222" stroke-width="0.8"/>
<line x1="-2.6" y1="79.5" x2="0" y2="79.5" stroke="#222" stroke-width="0.8"/>
<line x1="-2.6" y1="149.8" x2="0" y2="149.8" stroke="#222" stroke-width="0.8"/>
<line x1="11.0" y1="161.6" x2="11.0" y2="164.2" stroke="#222" stroke-width="0.8"/>
<line x1="58.0" y1="161.6" x2="58.0" y2="164.2" stroke="#222" stroke-width="0.8"/>
<line x1="104.4" y1="161.6" x2="104.4" y2="164.2" stroke="#222" stroke-width="0.8"/>
</g>
<g font-family="'Liberation Serif', 'Times New Roman', serif" font-size="9.2" fill="#222" stroke="#222" stroke-width="0.1">
<text transform="translate(24.6,39.6) rotate(-90)" text-anchor="middle">4760</text>
<text transform="translate(24.6,109.9) rotate(-90)" text-anchor="middle">4730</text>
<text transform="translate(24.6,180.2) rotate(-90)" text-anchor="middle">4700</text>
<text transform="translate(24.6,204.0) rotate(-90)" text-anchor="middle">4760</text>
<text transform="translate(24.6,274.3) rotate(-90)" text-anchor="middle">4730</text>
<text transform="translate(24.6,344.6) rotate(-90)" text-anchor="middle">4700</text>
<text transform="translate(24.6,368.6) rotate(-90)" text-anchor="middle">4760</text>
<text transform="translate(24.6,438.9) rotate(-90)" text-anchor="middle">4730</text>
<text transform="translate(24.6,509.2) rotate(-90)" text-anchor="middle">4700</text>
<text x="42.5" y="532.4" text-anchor="middle">560</text>
<text x="89.5" y="532.4" text-anchor="middle">580</text>
<text x="135.9" y="532.4" text-anchor="middle">600</text>
<text x="180.4" y="532.4" text-anchor="middle">560</text>
<text x="227.4" y="532.4" text-anchor="middle">580</text>
<text x="273.8" y="532.4" text-anchor="middle">600</text>
<text x="317.6" y="532.4" text-anchor="middle">560</text>
<text x="364.6" y="532.4" text-anchor="middle">580</text>
<text x="411.0" y="532.4" text-anchor="middle">600</text>
</g>
<text x="236.5" y="544.6" text-anchor="middle" font-family="'Liberation Serif', 'Times New Roman', serif" font-size="9.4" fill="#222" stroke="#222" stroke-width="0.1">UTM 54N (km)</text>
<text transform="translate(14.4,274.2) rotate(-90)" text-anchor="middle" font-family="'Liberation Serif', 'Times New Roman', serif" font-size="9.4" fill="#222" stroke="#222" stroke-width="0.1">UTM 54N (km)</text>
</svg></body></html>
